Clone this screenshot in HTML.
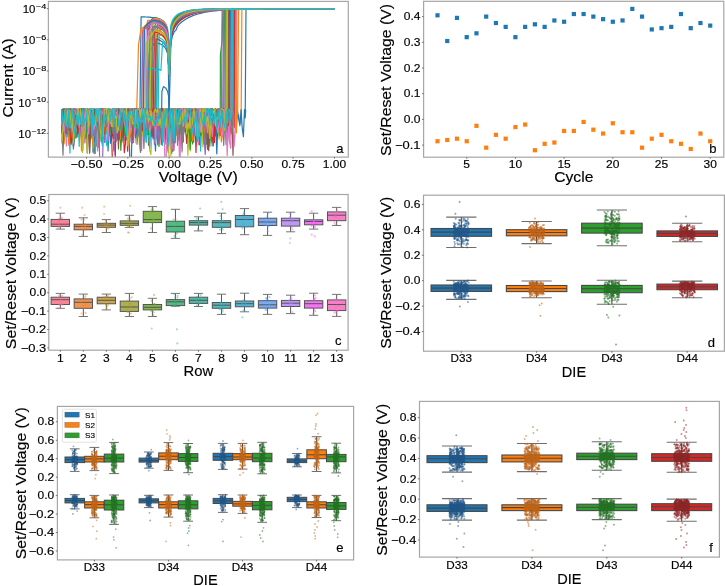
<!DOCTYPE html>
<html><head><meta charset="utf-8"><title>figure</title>
<style>html,body{margin:0;padding:0;background:#fff;}svg{display:block;filter:blur(0.4px);}text{font-family:"Liberation Sans",sans-serif;fill:#000;stroke:#000;stroke-width:0.15px;}</style>
</head><body>
<svg width="725" height="586" viewBox="0 0 725 586">
<rect width="725" height="586" fill="#fff"/>
<defs>
<clipPath id="ca"><rect x="48.4" y="1.4" width="299.9" height="155.7"/></clipPath>
<clipPath id="cb"><rect x="423.6" y="1.3" width="300.2" height="155.9"/></clipPath>
<clipPath id="cc"><rect x="48.8" y="194.5" width="299.3" height="155.7"/></clipPath>
<clipPath id="cd"><rect x="423.5" y="195.2" width="300.9" height="156"/></clipPath>
<clipPath id="ce"><rect x="57.4" y="406.4" width="296.2" height="153.5"/></clipPath>
<clipPath id="cf"><rect x="419.5" y="401.4" width="299.9" height="155.7"/></clipPath>
</defs>
<g clip-path="url(#ca)" fill="none" stroke-width="1.2" stroke-linejoin="round">

<path d="M61.8 129l1.2-19.7 1.1 9.3 1.2-9.7 1.1 10.5 1.2 .8 1.2-11.3 1.1 13.5 1.2-10.6 1.1 28.2 1.2-31.2 1.1 11.7 1.2 2.5 1.2 4.7 1.1-8.2 1.2 1.3 1.1-.8 1.2-10.4 1.1 4.8 1.2-5.4 1.1 0 1.2 6.9 1.2-3.1 1.1 14.2 1.2-6.4 1.1-11.2 1.2-.3 1.1 43.1 1.2-30.1 1.2 1.8 1.1-14.5 1.2 4.6 1.1 13.1 1.2 3.9 1.1-14.5 1.2 15.7 1.2-18.6 1.1 .3 1.2 12.4 1.1-13.3 1.2 38 1.1-42.2 1.2 .5 1.1 7.7 1.2-7.9 1.2 42 1.1-6.2 1.2-35.5 1.1 9.8 1.2 2.1 1.1-12.1 1.2 18.2 1.2 3.1 1.1-18.3 1.2 23.5 1.1-14.5 1.2-9.5 1.1 7.6 1.2-.2 1.1 50.9 1.2 0 1.2-59.1 1.1 17.1 1.2-14.6 1.1 6.4 1.2-10.4 1.1 18.4 1.2-16.6 1.2 16 1.1-18 1.2 18.4 1.1 7.1 1.2-12 1.1-.9 1.2 4.5 1.1-12.7 1.2-4.8 1.2 11.4 1.1-10.8 1.2-.6 1.1 .3 1.2 5.1 1.1 5.1 1.2 6.7 1.2-12.5 1.1 3.2 1.2-7.3 1.1 7.4 1.2-7 1.1 11.6 1.2-12 1.2 1.5 1.1 8.3 1.2-10.3 1.1 16.9 1.2-16.3 1.1 1.2 1.2 8.6 1.1-10.5 1.2 4.6 1.2 4.7 1.1 8.2 1.2-17.5 1.1 18 1.2-12.5 1.1 8.7 1.2-1.3 1.2-9.2 1.1-2.6 1.2 0 1.1-.2 1.2 17 1.1-16.8 1.2 15.5 1.1-16.6 1.2 7.8 1.2 16.5 1.1-23.6 1.2-.1 1.1 5.5 1.2 6.9 1.1-7.9 1.2-4.5 1.2 17.5 1.1 1.4 1.2-8.6 1.1-10.4 1.2 2 1.1-1.2 1.2 4.2 1.2 5 1.1 8.6 1.2-8.8 1.1 .5 1.2 9.5 1.1 1.4 1.2 4.1 1.1-25.6 1.2 6.4 1.2 10 1.1-11.8 1.2 15.1 1.1-3.8 1.2-15.8 1.1 .6 1.2-.5 1.2 10.5 1.1-10.1 1.2 2.1 1.1-2.6 1.2 8 .8-108.5 3.3 0 3.3 0 3.3 0 3.3 0 3.3 0 3.3 0 3.3 0 3.3 0 3.3 0 3.3 0 3.3 0 3.4 0 3.3 0 3.3 0 3.3 0 3.3 0 3.3 0 3.3 0 3.3 0 3.3 0 3.3 0 3.3 0 3.3 0 3.3 0 3.3 0 3.3 0 3.3 0 3.3 0 3.3 0 2.5 0 -1.7 .1 -1.6 0 -1.7 0 -1.6 0 -1.7 0 -1.6 0 -1.7 0 -1.6 0 -1.7 0 -1.6 0 -1.7 0 -1.6 0 -1.7 0 -1.6 0 -1.7 0 -1.6 0 -1.7 0 -1.6 0 -1.7 0 -1.6 0 -1.7 0 -1.6 0 -1.7 0 -1.6 0 -1.7 0 -1.7 0 -1.6 .1 -1.7 0 -1.6 0 -1.7 0 -1.6 0 -1.7 0 -1.6 0 -1.7 0 -1.6 0 -1.7 0 -1.6 0 -1.7 0 -1.6 .1 -1.7 0 -1.6 0 -1.7 0 -1.6 0 -1.7 0 -1.6 .1 -1.7 0 -1.6 0 -1.7 0 -1.6 0 -1.7 .1 -1.7 0 -1.6 0 -1.7 .1 -1.6 0 -1.7 0 -1.6 .1 -1.7 0 -1.6 .1 -1.7 0 -1.6 .1 -1.7 0 -1.6 .1 -1.7 .1 -1.6 .1 -1.7 .1 -1.6 0 -1.7 .2 -1.6 .1 -1.7 .1 -1.6 .1 -1.7 .2 -1.6 .2 -1.7 .1 -1.6 .3 -1.7 .2 -1.7 .2 -1.6 .3 -1.7 .3 -1.6 .3 -1.7 .4 -1.6 .4 -1.7 .4 -1.6 .5 -1.7 .5 -1.6 .6 -1.7 .6 -1.6 .7 -1.7 .8 -1.6 .8 -1.7 1 -1.6 1 -1.7 1.3 -1.6 1.3 -1.7 1.6 -1.6 1.9 -1.7 4.1 -1.6 1.3 -1.7 4.2 -1.6 7.3 -1.7 66.8 -1.7-81.3 -1.6-4.4 -1.7-2.4 -1.6-1.4 -1.7-1 -1.6-.7 -1.7-.5 -1.6-.3 -1.7-.3 -1.6-.2 -1.7-.2 -1.6-.1 -1.7-.1 -1.6-.1 -1.7-.1 -1.6 0 -1.7-.1 -1.1 92.5" stroke="#1f77b4"/>
<path d="M61.8 115.6l1.2 10.2 1.1 18 1.2-13.5 1.1-20.8 1.2-.4 1.2 .5 1.1 7.2 1.2 6.3 1.1-11.2 1.2 4.3 1.1-7 1.2 17.5 1.2-1.9 1.1 5.4 1.2-13.7 1.1-6.4 1.2 5.5 1.1 6.4 1.2-6.8 1.1-5.6 1.2 10.5 1.2 17.1 1.1-21.7 1.2 1.8 1.1 20.6 1.2-8 1.1-20.7 1.2 15.3 1.2 2.6 1.1-14.5 1.2 14.7 1.1 6.3 1.2-22.4 1.1 21.4 1.2-17.5 1.2 4.5 1.1 2.1 1.2 1.6 1.1-14 1.2 15.7 1.1-12.1 1.2 7.7 1.1-3.2 1.2 1.3 1.2 8.8 1.1-5.9 1.2 .1 1.1-11.1 1.2 28.4 1.1-14.5 1.2-15.7 1.2 33.8 1.1-25 1.2 15.6 1.1-17 1.2-4.6 1.1 14.6 1.2-.2 1.1-13 1.2 9.3 1.2-2.7 1.1 9.7 1.2-20.1 1.1 10.5 1.2 3.8 1.1 1.1 1.2 7.3 1.2 .2 1.1-22.5 1.2 13.8 1.1-9.2 1.2 4 1.1-.9 1.2-4 1.1 12.9 1.2-17.3 1.2 2.8 1.1 5.1 1.2 1 1.1-8.3 1.2 14.3 1.1 13.2 1.2-3.8 1.2-6.1 1.1-10.7 1.2 19 1.1-12.3 1.2 3.2 1.1-12.2 1.2 2.2 1.2 8 1.1 .8 1.2 11.6 1.1-10.3 1.2-4.7 1.1-12.5 1.2 20.6 1.1-14.7 1.2 .2 1.2 15.3 1.1 10.2 1.2-22.9 1.1-8.1 1.2 29.1 1.1-29.3 1.2-.8 1.2 16.3 1.1-11.7 1.2-2.4 1.1 30.2 1.2-25.3 1.1 11.6 1.2-3.6 1.1-14.9 1.2 17.9 1.2-.4 1.1 .6 1.2-6.8 1.1-6.8 1.2 1.1 1.1 9.9 1.2-4.7 1.2-10.5 1.1 .8 1.2-1.1 1.1 9.3 1.2-2.5 1.1 16.4 1.2-23.3 1.2 12.5 1.1 5.3 1.2-8.9 1.1 2.5 1.2-6.8 1.1 17.1 1.2-7.2 1.1-1.6 1.2-3.4 1.2-.1 1.1-4.5 1.2 6.6 1.1 12.6 1.2-20.5 1.1 4.2 1.2-3.3 1.2 9.2 1.1-13.5 1.2 7.5 1.1 5.1 1.2-2.2 1.1 8.7 1.2-12.6 1.1-.9 1.2 8.1 1.2 .4 .8-114.6 3.3 0 3.3 0 3.3 0 3.3 0 3.3 0 3.3 0 3.3 0 3.3 0 3.3 0 3.3 0 3.3 0 3.3 0 3.3 0 3.3 0 3.3 0 3.4 0 3.3 0 3.3 0 3.3 0 3.3 0 3.3 0 3.3 0 3.3 0 3.3 0 3.3 0 3.3 0 3.3 0 3.3 0 -1.7 0 -1.6 0 -1.7 0 -1.6 0 -1.7 0 -1.6 0 -1.7 0 -1.6 0 -1.7 0 -1.6 0 -1.7 0 -1.6 0 -1.7 0 -1.6 0 -1.7 0 -1.6 0 -1.7 0 -1.6 0 -1.7 0 -1.6 0 -1.7 0 -1.6 0 -1.7 0 -1.6 0 -1.7 0 -1.7 0 -1.6 0 -1.7 0 -1.6 0 -1.7 0 -1.6 0 -1.7 0 -1.6 0 -1.7 0 -1.6 .1 -1.7 0 -1.6 0 -1.7 0 -1.6 0 -1.7 0 -1.6 0 -1.7 0 -1.6 0 -1.7 0 -1.6 0 -1.7 0 -1.6 0 -1.7 0 -1.6 0 -1.7 0 -1.7 0 -1.6 0 -1.7 0 -1.6 0 -1.7 .1 -1.6 0 -1.7 0 -1.6 0 -1.7 0 -1.6 0 -1.7 0 -1.6 0 -1.7 .1 -1.6 0 -1.7 0 -1.6 0 -1.7 .1 -1.6 0 -1.7 0 -1.6 .1 -1.7 0 -1.6 .1 -1.7 0 -1.6 .1 -1.7 .1 -1.7 .1 -1.6 .1 -1.7 .1 -1.6 .1 -1.7 .2 -1.6 .1 -1.7 .2 -1.6 .3 -1.7 .3 -1.6 .3 -1.7 .4 -1.6 .4 -1.7 .6 -1.6 .6 -1.7 .7 -1.6 .9 -1.7 1 -1.6 1.2 -1.7 1.4 -1.6 1.7 -1.7 2.2 -1.6 2.8 -1.7 4.1 -1.6 6.8 -1.7 35.4 -1.7-28.5 -1.6-4.7 -1.7-2.7 -1.6-1.9 -1.7-1.5 -1.6-11.8 -1.7 0 -1.6 0 -1.7 0 -1.6 0 -1.7 0 -1.6 0 -1.7 0 -1.6 7.8 -1.7 0 -1.6 0 -1.7 0 -2.6 16.8 -1.8 66.7 -1.2 9" stroke="#ff7f0e"/>
<path d="M61.8 127.9l1.2-13.4 1.1 .1 1.2-3.4 1.1-2.4 1.2 18.4 1.2-3.8 1.1-14.6 1.2 9.3 1.1 9.5 1.2-2 1.1-16.8 1.2 11.2 1.2-8.3 1.1 15.6 1.2-18.3 1.1 7.9 1.2 3.9 1.1-4.6 1.2 14.6 1.1-13.7 1.2-7.2 1.2 27.9 1.1-16.9 1.2-10.6 1.1 9.2 1.2-10.4 1.1 8.8 1.2-8.9 1.2 16.5 1.1-16.5 1.2 15.2 1.1 .2 1.2-13.4 1.1 .7 1.2-.2 1.2-2 1.1 15.3 1.2 7.2 1.1-17.3 1.2-.6 1.1 3.2 1.2 8.8 1.1-5.6 1.2-11.5 1.2 16.5 1.1-16.3 1.2 15.6 1.1-1.2 1.2-14.4 1.1 5 1.2 36.1 1.2-22.7 1.1-10.9 1.2-5.9 1.1-1.7 1.2 12.6 1.1 1.9 1.2-14.8 1.1 2.2 1.2 14.6 1.2-16.8 1.1 23.4 1.2-23 1.1 9.3 1.2-8.7 1.1 1.5 1.2 14.6 1.2-16.6 1.1 15 1.2-9.5 1.1-5.7 1.2 16.1 1.1-15.6 1.2 2.2 1.1 19 1.2-13.9 1.2 1.1 1.1-6.4 1.2 8.8 1.1-9 1.2-1.9 1.1 5.9 1.2-1.4 1.2-4.6 1.1 10.7 1.2 5.5 1.1-7.4 1.2 5.4 1.1 3.3 1.2 9.8 1.2-20.5 1.1 .6 1.2 1.2 1.1 13.5 1.2 22.1 1.1-41.9 1.2 26.3 1.1 1.9 1.2-30.4 1.2 .1 1.1-.7 1.2 27.7 1.1-27.1 1.2 11.4 1.1-10.6 1.2 11.6 1.2 5.5 1.1-1.3 1.2-6.8 1.1-6 1.2 1.1 1.1-3.9 1.2 33.4 1.1-33.2 1.2-1.7 1.2 .1 1.1 0 1.2 4.4 1.1 8.5 1.2-9.8 1.1 4 1.2 2.3 1.2-5.2 1.1 4.4 1.2 8.6 1.1-11.9 1.2-4.2 1.1 35.9 1.2-18.6 1.2-9.8 1.1 10.5 1.2-17.4 1.1 5 1.2 6.6 1.1-12.9 1.2-.6 1.1 26 .2-79.5 1.7-15.6 .8-31.2 .8 0 3.3 0 3.3 0 3.3 0 3.3 0 3.3 0 3.3 0 3.3 0 3.3 0 3.4 0 3.3 0 3.3 0 3.3 0 3.3 0 3.3 0 3.3 0 3.3 0 3.3 0 3.3 0 3.3 0 3.3 0 3.3 0 3.3 0 3.3 0 3.3 0 3.3 0 3.3 0 3.3 0 3.3 0 3.3 0 3.3 0 3.3 0 3.3 0 3.3 0 1.7 0 -1.7 .1 -1.6 0 -1.7 0 -1.6 0 -1.7 0 -1.6 0 -1.7 0 -1.6 0 -1.7 0 -1.6 0 -1.7 0 -1.6 0 -1.7 0 -1.6 0 -1.7 0 -1.6 0 -1.7 0 -1.6 0 -1.7 0 -1.6 0 -1.7 0 -1.6 0 -1.7 .1 -1.6 0 -1.7 0 -1.7 0 -1.6 0 -1.7 0 -1.6 0 -1.7 0 -1.6 0 -1.7 0 -1.6 0 -1.7 0 -1.6 0 -1.7 0 -1.6 0 -1.7 0 -1.6 .1 -1.7 0 -1.6 0 -1.7 0 -1.6 0 -1.7 0 -1.6 0 -1.7 0 -1.6 .1 -1.7 0 -1.6 0 -1.7 0 -1.7 0 -1.6 0 -1.7 .1 -1.6 0 -1.7 0 -1.6 0 -1.7 0 -1.6 .1 -1.7 0 -1.6 0 -1.7 .1 -1.6 0 -1.7 0 -1.6 .1 -1.7 0 -1.6 .1 -1.7 0 -1.6 .1 -1.7 .1 -1.6 0 -1.7 .1 -1.6 .1 -1.7 .1 -1.6 .1 -1.7 .1 -1.7 .1 -1.6 .1 -1.7 .2 -1.6 .2 -1.7 .1 -1.6 .2 -1.7 .3 -1.6 .2 -1.7 .3 -1.6 .3 -1.7 .4 -1.6 .4 -1.7 .4 -1.6 .6 -1.7 .6 -1.6 .6 -1.7 .8 -1.6 1 -1.7 1.1 -1.6 1.3 -1.7 1.7 -1.6 2.1 -1.7 3.1 -1.6 5.4 -1.7 39.2 -1.7-41.2 -1.6-4.5 -1.7-2.5 -1.6-1.7 -1.7-1.1 -1.6-.8 -1.7-.7 -1.6-.5 -1.7-.3 -1.6 .5 -1.7 2.2 -1.6 3.1 -1.2 97.5" stroke="#2ca02c"/>
<path d="M61.8 113l1.2 .6 1.1 10.1 1.2-12.3 1.1-2.1 1.2 .2 1.2-.4 1.1 .5 1.2 7.3 1.1 7.2 1.2 7.3 1.1-17.3 1.2-4.5 1.2 27 1.1-10.9 1.2-7.8 1.1-8.4 1.2 12.4 1.1-5.4 1.2 3.1 1.1-10.5 1.2 2.1 1.2 12.2 1.1-7.2 1.2-.2 1.1 1.9 1.2 9.2 1.1-6.5 1.2 .5 1.2 1.3 1.1-11.4 1.2-2.2 1.1 38.5 1.2-28.1 1.1-3.2 1.2 27.4 1.2-23.2 1.1 5.8 1.2-1 1.1 2.1 1.2-4.9 1.1-4.8 1.2-1.6 1.1 24.5 1.2-6.5 1.2-24.8 1.1 36.7 1.2-35.2 1.1 10.7 1.2 16.1 1.1-9.3 1.2-15.2 1.2 6.8 1.1 5 1.2-.7 1.1-3.5 1.2 7.5 1.1 23.3 1.2-40.3 1.1 18.5 1.2-5.3 1.2-15 1.1 2.1 1.2-.2 1.1-1.8 1.2 11.1 1.1-7.2 1.2 9.8 1.2 11 1.1-12.6 1.2-11.6 1.1 7.4 1.2-7.7 1.1 16.9 1.2-14.7 1.1-2.3 1.2 13.3 1.2-2.2 1.1-1.8 1.2 5.6 1.1-14.8 1.2 23.6 1.1-1.1 1.2-.1 1.2-15.3 1.1-1.7 1.2-1.1 1.1 29.6 1.2-32.8 1.1-1.3 1.2 6.8 1.2-7.2 1.1 33.3 1.2-25.3 1.1 19.5 1.2-9.7 1.1-17.6 1.2 1.8 1.1 1 1.2 13.5 1.2-5.7 1.1-10.6 1.2 8.1 1.1 6.6 1.2-1.8 1.1-1.3 1.2 1.7 1.2-13.3 1.1 17.7 1.2-14.4 1.1-2.9 1.2 0 1.1 28.3 1.2-21.6 1.1-4.3 1.2 3.3 1.2 18.3 1.1-3.8 1.2-19.9 1.1-.5 1.2 11.4 1.1-7.6 1.2 2.5 1.2-6.1 1.1 9.6 1.2-5.9 1.1 24.2 1.2-10.1 1.1-3.5 1.2-12.6 1.2 6 1.1-7.8 1.2 10.3 1.1-3.9 1.2 7.5 1.1-5.5 1.2-8.7 1.1 7.6 1.2-2.2 1.2 13.2 1.1-18 1.2 12.6 1.1-4.9 1.2-8.1 1.1 1.1 .4-101.7 3.3 0 3.3 0 3.3 0 3.3 0 3.3 0 3.3 0 3.3 0 3.3 0 3.3 0 3.3 0 3.3 0 3.3 0 3.3 0 3.3 0 3.3 0 3.3 0 3.3 0 3.3 0 3.3 0 3.4 0 3.3 0 3.3 0 3.3 0 3.3 0 3.3 0 3.3 0 3.3 0 3.3 0 3.3 0 3.3 0 3.3 0 3.3 0 -1.7 .1 -1.6 0 -1.7 0 -1.6 0 -1.7 0 -1.6 0 -1.7 0 -1.6 0 -1.7 0 -1.6 0 -1.7 0 -1.6 0 -1.7 0 -1.6 0 -1.7 0 -1.6 0 -1.7 0 -1.6 0 -1.7 0 -1.6 0 -1.7 0 -1.6 0 -1.7 0 -1.6 0 -1.7 0 -1.7 0 -1.6 0 -1.7 0 -1.6 0 -1.7 0 -1.6 .1 -1.7 0 -1.6 0 -1.7 0 -1.6 0 -1.7 0 -1.6 0 -1.7 0 -1.6 0 -1.7 0 -1.6 0 -1.7 0 -1.6 .1 -1.7 0 -1.6 0 -1.7 0 -1.6 0 -1.7 0 -1.6 0 -1.7 .1 -1.7 0 -1.6 0 -1.7 0 -1.6 .1 -1.7 0 -1.6 0 -1.7 0 -1.6 .1 -1.7 0 -1.6 .1 -1.7 0 -1.6 0 -1.7 .1 -1.6 0 -1.7 .1 -1.6 .1 -1.7 0 -1.6 .1 -1.7 .1 -1.6 .1 -1.7 .1 -1.6 .1 -1.7 .2 -1.6 .1 -1.7 .2 -1.7 .1 -1.6 .2 -1.7 .2 -1.6 .3 -1.7 .2 -1.6 .3 -1.7 .3 -1.6 .4 -1.7 .4 -1.6 .5 -1.7 .5 -1.6 .5 -1.7 .7 -1.6 .7 -1.7 .8 -1.6 .9 -1.7 1 -1.6 1.2 -1.7 1.4 -1.6 1.7 -1.7 2.1 -1.6 2.7 -1.7 3.8 -1.6 6.5 -1.7 36.2 -1.7-41.8 -1.6-4.6 -1.7-2.5 -1.6-1.7 -1.7-1.1 -1.6-.9 -1.7-.7 -1.6-.5 -1.7-.3 -1.6-.4 -1.2 99.9" stroke="#d62728"/>
<path d="M61.8 123.9l1.2 3.5 1.1-15.8 1.2-2.6 1.1-.1 1.2 1.3 1.2 32.5 1.1-23 1.2 2.3 1.1 11.8 1.2 15.4 1.1-9.4 1.2-21.9 1.2 6.4 1.1-8.7 1.2-6.4 1.1-.1 1.2 12.2 1.1 16.4 1.2-21.5 1.1 11.2 1.2-17.8 1.2 23.6 1.1-12.7 1.2 6.9 1.1-2.8 1.2 3.3 1.1-18.5 1.2 0 1.2 41.7 1.1-35.3 1.2 15.8 1.1-9.6 1.2-12.7 1.1 5.9 1.2 1.1 1.2 9.1 1.1 17.1 1.2-33.7 1.1 17.8 1.2-5.1 1.1-10.2 1.2-.9 1.1 10.9 1.2-10.1 1.2 16 1.1 27.5 1.2-45.3 1.1-.3 1.2 18.2 1.1-3.6 1.2 4.6 1.2-19.3 1.1 9.7 1.2 4.5 1.1-1.5 1.2 11.9 1.1-21.8 1.2 10.5 1.1 4.1 1.2-16.8 1.2 13.2 1.1 19.7 1.2-18.5 1.1-10.6 1.2 30.8 1.1-14.3 1.2-10 1.2 3.9 1.1-5.2 1.2-6.7 1.1 8.6 1.2 8.2 1.1-12.7 1.2 18.4 1.1-23.2 1.2-2.3 1.2 9.9 1.1-8.3 1.2 24.8 1.1 .9 1.2-19.7 1.1-.2 1.2-7.3 1.2 1.7 1.1 4.6 1.2-6.5 1.1 23.5 1.2-8.8 1.1-2.7 1.2 7.6 1.2-16.7 1.1 21.8 1.2-9.6 1.1-12.8 1.2 10.1 1.1-11.2 1.2 8.5 1.1 2.6 1.2 1.7 1.2-14 1.1 11.1 1.2 1.9 1.1-6 1.2 26.1 1.1-23.2 1.2-9.1 1.2-.5 1.1 14.2 1.2-13.2 1.1 11.5 1.2-12.3 1.1 2.1 1.2 4 1.1 9.5 1.2 3 1.2-15.6 1.1-2.9 1.2 19.2 1.1-4.4 1.2 6.8 1.1-14.5 1.2 1.5 1.2-8.6 1.1 16.2 1.2-16.2 1.1 14.9 1.2-7.7 1.1 10.8 1.2-15 1.2 3.5 1.1-1.9 1.2-4.9 1.1 19.1 1.2-13.7 1.1-5.4 1.2 8.3 1.1-5.4 1.2 5.5 .7-108.9 3.3 0 3.3 0 3.3 0 3.3 0 3.3 0 3.3 0 3.3 0 3.3 0 3.3 0 3.3 0 3.3 0 3.3 0 3.3 0 3.3 0 3.3 0 3.3 0 3.3 0 3.3 0 3.3 0 3.3 0 3.3 0 3.4 0 3.3 0 3.3 0 3.3 0 3.3 0 3.3 0 3.3 0 3.3 0 3.3 0 3.3 0 3.3 0 3.3 0 3.3 0 -1.7 .1 -1.6 0 -1.7 0 -1.6 0 -1.7 0 -1.6 0 -1.7 0 -1.6 0 -1.7 0 -1.6 0 -1.7 0 -1.6 0 -1.7 0 -1.6 0 -1.7 0 -1.6 0 -1.7 0 -1.6 0 -1.7 0 -1.6 0 -1.7 .1 -1.6 0 -1.7 0 -1.6 0 -1.7 0 -1.7 0 -1.6 0 -1.7 0 -1.6 0 -1.7 0 -1.6 0 -1.7 0 -1.6 0 -1.7 0 -1.6 0 -1.7 0 -1.6 .1 -1.7 0 -1.6 0 -1.7 0 -1.6 0 -1.7 0 -1.6 0 -1.7 0 -1.6 0 -1.7 .1 -1.6 0 -1.7 0 -1.6 0 -1.7 0 -1.7 0 -1.6 .1 -1.7 0 -1.6 0 -1.7 0 -1.6 .1 -1.7 0 -1.6 0 -1.7 0 -1.6 .1 -1.7 0 -1.6 0 -1.7 .1 -1.6 0 -1.7 .1 -1.6 0 -1.7 .1 -1.6 .1 -1.7 0 -1.6 .1 -1.7 .1 -1.6 .1 -1.7 .1 -1.6 .1 -1.7 .1 -1.7 .1 -1.6 .2 -1.7 .1 -1.6 .2 -1.7 .2 -1.6 .2 -1.7 .2 -1.6 .3 -1.7 .3 -1.6 .3 -1.7 .4 -1.6 .4 -1.7 .5 -1.6 .5 -1.7 .6 -1.6 .8 -1.7 .8 -1.6 .9 -1.7 1.1 -1.6 1.4 -1.7 1.7 -1.6 2.2 -1.7 3.1 -1.6 5.4 -1.7 40.2 -1.7-41 -1.6-4.5 -1.7-2.5 -1.6-1.7 -1.7-1.1 -1.6-.9 -1.7-.6 -1.6-.5 -1.7-.4 -1.6-.3 -1.2 98.9" stroke="#9467bd"/>
<path d="M61.8 116.7l1.2 6.7 1.1-14.6 1.2 13.2 1.1-10.8 1.2 10.1 1.2 6 1.1-18.4 1.2 7.1 1.1-5.7 1.2-1.2 1.1 5.1 1.2 22.9 1.2-18.3 1.1 10.5 1.2-6.8 1.1-1.8 1.2 7.5 1.1-16.8 1.2-2.5 1.1 19.3 1.2-.6 1.2 24.8 1.1-32.9 1.2-4.9 1.1-5.2 1.2 2.7 1.1 1 1.2 40.5 1.2-35.2 1.1 1.5 1.2 8 1.1-18.3 1.2-.5 1.1 9 1.2-1.4 1.2-5.5 1.1-1 1.2 8.6 1.1-9.3 1.2 10.7 1.1-8.9 1.2 14.4 1.1-6.8 1.2-7 1.2 18.3 1.1 11.5 1.2-31.4 1.1 17.1 1.2-6.5 1.1-10.3 1.2 9.7 1.2-8.2 1.1 14.2 1.2 .5 1.1-17.2 1.2 0 1.1 4.3 1.2 6 1.1-10.6 1.2 23.6 1.2-18.3 1.1 9.9 1.2-6.9 1.1-5.8 1.2 6 1.1-6.2 1.2 3.4 1.2 34.4 1.1-25.8 1.2-12.8 1.1 .3 1.2 .4 1.1-1.9 1.2 7.3 1.1 28.4 1.2-18.3 1.2-14.5 1.1-2.8 1.2 16.2 1.1-15.4 1.2 7.2 1.1 2.4 1.2-11.1 1.2 16.2 1.1-10.9 1.2-5.4 1.1 .1 1.2 7.6 1.1-7.8 1.2 7 1.2 .5 1.1 3.2 1.2 1.4 1.1-9.6 1.2-2.2 1.1 42.3 1.2-39.8 1.1 5 1.2-7.8 1.2 15.6 1.1-12.7 1.2 17.8 1.1 1.5 1.2-10.2 1.1-.5 1.2-1.6 1.2 1 1.1-10.6 1.2 1.8 1.1 3.9 1.2 20.9 1.1-15.3 1.2 1.1 1.1 20.7 1.2-32.4 1.2 9.2 1.1 4.9 1.2 .9 1.1-4.9 1.2-7.4 1.1 4.4 1.2-4.2 1.2 8 1.1 4.6 1.2-2.8 1.1-2.8 1.2 31 1.1-23.3 1.2-8.3 1.2 2.8 1.1 12.2 1.2-20.2 1.1 13.5 1.2-12.8 1.1 22.1 1.2-14.2 1.1-4.2 1.2 1.4 1.2 14.7 1.1-14.5 1.2 6.3 1.1-10.7 1.2-3.9 1.1-2 1.2 0 1.2 13.7 1.1 1.6 .2-116.3 3.3 0 3.3 0 3.3 0 3.3 0 3.3 0 3.3 0 3.3 0 3.3 0 3.3 0 3.3 0 3.3 0 3.3 0 3.3 0 3.3 0 3.3 0 3.3 0 3.3 0 3.3 0 3.4 0 3.3 0 3.3 0 3.3 0 3.3 0 3.3 0 3.3 0 3.3 0 3.3 0 3.3 0 3.3 0 3.3 0 3.3 0 -1.7 .1 -1.6 0 -1.7 0 -1.6 0 -1.7 0 -1.6 0 -1.7 0 -1.6 0 -1.7 0 -1.6 0 -1.7 0 -1.6 0 -1.7 0 -1.6 0 -1.7 0 -1.6 0 -1.7 0 -1.6 0 -1.7 0 -1.6 0 -1.7 0 -1.6 0 -1.7 0 -1.6 0 -1.7 0 -1.7 0 -1.6 .1 -1.7 0 -1.6 0 -1.7 0 -1.6 0 -1.7 0 -1.6 0 -1.7 0 -1.6 0 -1.7 0 -1.6 0 -1.7 0 -1.6 0 -1.7 .1 -1.6 0 -1.7 0 -1.6 0 -1.7 0 -1.6 0 -1.7 0 -1.6 0 -1.7 .1 -1.6 0 -1.7 0 -1.7 0 -1.6 0 -1.7 .1 -1.6 0 -1.7 0 -1.6 0 -1.7 .1 -1.6 0 -1.7 .1 -1.6 0 -1.7 0 -1.6 .1 -1.7 0 -1.6 .1 -1.7 0 -1.6 .1 -1.7 .1 -1.6 .1 -1.7 0 -1.6 .1 -1.7 .1 -1.6 .2 -1.7 .1 -1.6 .1 -1.7 .2 -1.7 .1 -1.6 .2 -1.7 .2 -1.6 .2 -1.7 .3 -1.6 .3 -1.7 .3 -1.6 .3 -1.7 .4 -1.6 .4 -1.7 .5 -1.6 .6 -1.7 .6 -1.6 .6 -1.7 .8 -1.6 .8 -1.7 1 -1.6 1.2 -1.7 1.3 -1.6 1.6 -1.7 2 -1.6 2.6 -1.7 3.6 -1.6 6.2 -1.7 38.6 -1.7-42.8 -1.6-4.5 -1.7-2.4 -1.6-1.5 -1.7-1.1 -1.6-.7 -1.7-.6 -1.6-.4 -1.7-.3 -1.6-.2 -1.7 1.6 -1.6 3.8 -1.7 5.2 -1.1 80.7" stroke="#8c564b"/>
<path d="M61.8 130.2l1.2-19.5 1.1 7.3 1.2-6.6 1.1 34.6 1.2-36.6 1.2 22.9 1.1-8.8 1.2-9.2 1.1-4.8 1.2 3.8 1.1 12 1.2-15.7 1.2 15.5 1.1 3.5 1.2-4.5 1.1-.7 1.2 7.3 1.1-21.7 1.2 17.9 1.1-9.3 1.2 1.4 1.2 10.4 1.1-15.3 1.2 1.1 1.1 6.2 1.2-12.4 1.1 5.5 1.2-2 1.2 8.7 1.1-4.1 1.2-.5 1.1-6.9 1.2 17.3 1.1-17.9 1.2 4.9 1.2 6.1 1.1-6.2 1.2-.5 1.1 4.4 1.2-8.4 1.1 26.5 1.2-13.7 1.1 4.9 1.2-14 1.2 28.2 1.1-13.3 1.2-5.6 1.1 12.4 1.2-9.9 1.1-2.9 1.2 2.1 1.2-5 1.1 7.5 1.2-17.1 1.1 20.5 1.2-18 1.1 5.4 1.2 5.3 1.1 3.6 1.2-16.5 1.2-.7 1.1 10.5 1.2-4.8 1.1-5.8 1.2 0 1.1 .1 1.2 10.2 1.2-9.7 1.1 41 1.2-38.3 1.1-2.9 1.2 18.1 1.1-1.4 1.2 .5 1.1-16.3 1.2 34.7 1.2-35.4 1.1 .1 1.2 1.5 1.1 33.4 1.2-16.8 1.1-5 1.2-6.7 1.2 1.6 1.1-8.8 1.2 25.9 1.1-25.4 1.2 17.6 1.1 3.3 1.2-21 1.2 12.6 1.1 8.5 1.2-21.2 1.1 14.3 1.2-12 1.1 36.9 1.2-15.2 1.1-9.4 1.2-10.4 1.2 23.3 1.1-19.9 1.2 2.8 1.1 3.5 1.2-13.7 1.1 .3 1.2 11.6 1.2-2.3 1.1-2.3 1.2-4.4 1.1 1.2 1.2 12 1.1-16.3 1.2-.1 1.1 10 1.2-5.4 1.2-3.4 1.1 5.7 1.2 8.9 1.1-15.8 1.2 .4 1.1 0 1.2 12.3 1.2-9 1.1 18.1 1.2-.8 1.1-6.9 1.2 .3 1.1 10.7 1.2-17.7 1.2-1.5 1.1 2.8 1.2-3 1.1 11.2 1.2-1.6 1.1-.8 1.2-10.9 1.1-3.1 1.2 13.6 1.2-13.9 1.1 13.5 1.2-10.2 1.1 7.3 1.2-.4 1.1 11.6 1.2-12.8 .8-109.7 3.3 0 3.3 0 3.3 0 3.3 0 3.3 0 3.3 0 3.4 0 3.3 0 3.3 0 3.3 0 3.3 0 3.3 0 3.3 0 3.3 0 3.3 0 3.3 0 3.3 0 3.3 0 3.3 0 3.3 0 3.3 0 3.3 0 3.3 0 3.3 0 3.3 0 3.3 0 3.3 0 3.3 0 3.3 0 3.3 0 3.3 0 1.7 0 -1.7 .1 -1.6 0 -1.7 0 -1.6 0 -1.7 0 -1.6 0 -1.7 0 -1.6 0 -1.7 0 -1.6 0 -1.7 0 -1.6 0 -1.7 0 -1.6 0 -1.7 0 -1.6 0 -1.7 0 -1.6 0 -1.7 0 -1.6 0 -1.7 0 -1.6 0 -1.7 0 -1.6 0 -1.7 0 -1.7 0 -1.6 0 -1.7 0 -1.6 0 -1.7 0 -1.6 0 -1.7 .1 -1.6 0 -1.7 0 -1.6 0 -1.7 0 -1.6 0 -1.7 0 -1.6 0 -1.7 0 -1.6 0 -1.7 0 -1.6 0 -1.7 0 -1.6 0 -1.7 .1 -1.6 0 -1.7 0 -1.6 0 -1.7 0 -1.7 0 -1.6 0 -1.7 .1 -1.6 0 -1.7 0 -1.6 0 -1.7 0 -1.6 .1 -1.7 0 -1.6 0 -1.7 0 -1.6 .1 -1.7 0 -1.6 0 -1.7 .1 -1.6 0 -1.7 .1 -1.6 0 -1.7 .1 -1.6 0 -1.7 .1 -1.6 .1 -1.7 0 -1.6 .1 -1.7 .1 -1.7 .1 -1.6 .2 -1.7 .1 -1.6 .1 -1.7 .2 -1.6 .2 -1.7 .2 -1.6 .3 -1.7 .2 -1.6 .3 -1.7 .4 -1.6 .4 -1.7 .4 -1.6 .5 -1.7 .6 -1.6 .7 -1.7 .8 -1.6 1 -1.7 1.1 -1.6 1.4 -1.7 1.7 -1.6 2.2 -1.7 3.2 -1.6 5.5 -1.7 43.7 -1.7-46.6 -1.6-4.4 -1.7-2.3 -1.6-1.4 -1.7-.9 -1.6-.6 -1.7-.4 -1.6-.3 -1.7 .6 -1.6 1.4 -1.7 1.8 -1.6 2.3 -1.7 2.6 -1.6 2.8 -1.2 87.8" stroke="#e377c2"/>
<path d="M61.8 126.1l1.2 29.1 1.1-30.1 1.2-15.6 1.1-.7 1.2 .5 1.2-.4 1.1 8.7 1.2-8.3 1.1 26.8 1.2-27 1.1 7.7 1.2-7.4 1.2 4.9 1.1 8.1 1.2 4.7 1.1-17.5 1.2 3.9 1.1 .2 1.2 10.6 1.1-14.7 1.2 3.9 1.2 1.1 1.1-4.3 1.2 42 1.1-43.2 1.2 8.9 1.1 4.5 1.2-13 1.2 5.7 1.1 30.7 1.2-9.8 1.1-9.8 1.2-6.5 1.1 7 1.2-12.6 1.2 7.4 1.1-12.1 1.2-.6 1.1 .6 1.2 17.4 1.1-7.2 1.2 5.6 1.1-6 1.2 3.9 1.2-1 1.1-12.8 1.2 1.3 1.1-.5 1.2 10.5 1.1 6.9 1.2-6.5 1.2-3.6 1.1 2 1.2-7.1 1.1 3.8 1.2-1.7 1.1-4.3 1.2 6 1.1-4.4 1.2 4 1.2-6.2 1.1 14 1.2-14.8 1.1 10.8 1.2-8.8 1.1-1.5 1.2 14.7 1.2-15 1.1 14.9 1.2-4.2 1.1 28.8 1.2-26.4 1.1-13.1 1.2 2.6 1.1-2.6 1.2 15 1.2 3.2 1.1-8.8 1.2-.7 1.1-8.9 1.2 16.4 1.1 .4 1.2-8.5 1.2 4.3 1.1-6.8 1.2 7.7 1.1-10.1 1.2 2.8 1.1 6.1 1.2 23.1 1.2-30 1.1 1.7 1.2 14.1 1.1 17.9 1.2-38.6 1.1 17.8 1.2-2.8 1.1-14.2 1.2 14.2 1.2-12.8 1.1 2.2 1.2-4.6 1.1 8.4 1.2 2.6 1.1 6.7 1.2 5 1.2-22.1 1.1 14.9 1.2 2 1.1-17.6 1.2 3 1.1 7.7 1.2 1.7 1.1 18.5 1.2-29.1 1.2-1.8 1.1 10.6 1.2-6.5 1.1 4.7 1.2 4.4 1.1-12.5 1.2 4.8 1.2 14.5 1.1-6 1.2-7.6 1.1 3.5 1.2-8.2 1.1 6.9 1.2-8.8 1.2 .4 1.1 1.7 1.2 16 1.1-8.1 1.2-3.6 1.1 2.6 1.2 3.2 1.1 .6 1.2 1.5 1.2 9 1.1-23.3 1.2 5.4 1.1 10.1 1-115.7 3.3 0 3.3 0 3.3 0 3.3 0 3.3 0 3.3 0 3.3 0 3.4 0 3.3 0 3.3 0 3.3 0 3.3 0 3.3 0 3.3 0 3.3 0 3.3 0 3.3 0 3.3 0 3.3 0 3.3 0 3.3 0 3.3 0 3.3 0 3.3 0 3.3 0 3.3 0 3.3 0 3.3 0 3.3 0 3.3 0 3.3 0 3.3 0 1.7 0 -1.7 .1 -1.6 0 -1.7 0 -1.6 0 -1.7 0 -1.6 0 -1.7 0 -1.6 0 -1.7 0 -1.6 0 -1.7 0 -1.6 0 -1.7 0 -1.6 0 -1.7 0 -1.6 0 -1.7 0 -1.6 0 -1.7 0 -1.6 0 -1.7 0 -1.6 0 -1.7 0 -1.6 0 -1.7 0 -1.7 0 -1.6 0 -1.7 0 -1.6 0 -1.7 .1 -1.6 0 -1.7 0 -1.6 0 -1.7 0 -1.6 0 -1.7 0 -1.6 0 -1.7 0 -1.6 0 -1.7 0 -1.6 0 -1.7 0 -1.6 .1 -1.7 0 -1.6 0 -1.7 0 -1.6 0 -1.7 0 -1.6 0 -1.7 0 -1.7 .1 -1.6 0 -1.7 0 -1.6 0 -1.7 0 -1.6 .1 -1.7 0 -1.6 0 -1.7 .1 -1.6 0 -1.7 0 -1.6 .1 -1.7 0 -1.6 0 -1.7 .1 -1.6 0 -1.7 .1 -1.6 .1 -1.7 0 -1.6 .1 -1.7 .1 -1.6 .1 -1.7 .1 -1.6 .1 -1.7 .1 -1.7 .2 -1.6 .1 -1.7 .2 -1.6 .2 -1.7 .2 -1.6 .2 -1.7 .3 -1.6 .3 -1.7 .3 -1.6 .4 -1.7 .4 -1.6 .5 -1.7 .5 -1.6 .6 -1.7 .7 -1.6 .8 -1.7 .9 -1.6 1 -1.7 1.3 -1.6 1.5 -1.7 1.8 -1.6 2.4 -1.7 3.5 -1.6 5.9 -1.7 37.9 -1.7-39.5 -1.6-4.5 -1.7-2.5 -1.6-1.7 -1.7-1.1 -1.6-.8 -1.7-.7 -1.6-.3 -1.7 .1 -1.6 .5 -1.7 .7 -1.6 .9 -1.7 1.1 -1.6 1.2 -1.7 1.4 -1.1 88.9" stroke="#7f7f7f"/>
<path d="M61.8 127.6l1.2-11.3 1.1-5.3 1.2 6.7 1.1-8.3 1.2 17.3 1.2-4.8 1.1-8.5 1.2-4.3 1.1 0 1.2 10.9 1.1-1.8 1.2 8.5 1.2 3 1.1-20.7 1.2 16.2 1.1 .4 1.2 15.8 1.1-25.2 1.2 5.3 1.1-3.2 1.2-.9 1.2-8.1 1.1 3.8 1.2-4.1 1.1 15 1.2-.2 1.1-5.1 1.2-4.7 1.2 14.1 1.1-4.6 1.2-6.1 1.1-.4 1.2 4.5 1.1 4.3 1.2-16.8 1.2 1.4 1.1 18.9 1.2-16.5 1.1 9.4 1.2-1.5 1.1 .1 1.2 3.8 1.1-4.7 1.2 .5 1.2-10.7 1.1 10.2 1.2 21.7 1.1-6.4 1.2-25.7 1.1 .4 1.2 11.6 1.2-10.2 1.1-2.2 1.2 16.1 1.1-13.7 1.2 9.5 1.1-10.8 1.2 13.5 1.1-.3 1.2 2.5 1.2-7.6 1.1 7.4 1.2-15.1 1.1 32.2 1.2-17.5 1.1-8.8 1.2 28.1 1.2-29.6 1.1 4.4 1.2-9.9 1.1 16.7 1.2-16.6 1.1 15.5 1.2-15.5 1.1-.4 1.2 41 1.2 4.5 1.1-23.9 1.2 5 1.1-26.7 1.2 .3 1.1 .4 1.2 13.1 1.2-5.8 1.1-8.3 1.2 1.5 1.1 8.6 1.2-10 1.1 2.2 1.2 11.2 1.2-9.1 1.1-3.7 1.2-.4 1.1 7.1 1.2 9.6 1.1-3.8 1.2-12.7 1.1 2.7 1.2 .9 1.2 13.8 1.1-9.3 1.2 8.8 1.1-17.3 1.2 6.7 1.1 8.6 1.2-2.9 1.2-.8 1.1-6.2 1.2 14.2 1.1-2.7 1.2-5.2 1.1-4.2 1.2 7.6 1.1-10.6 1.2 .1 1.2-3.4 1.1 18.3 1.2-13.5 1.1 10.2 1.2-5.7 1.1-10.2 1.2 37.7 1.2-37.9 1.1 17.7 1.2 13.9 1.1-18 1.2-5.6 1.1 4.2 1.2-9.5 1.2-2.9 1.1 27.8 1.2-27.5 1.1 14.5 1.2-2.3 1.1-4 1.2 21.8 1.1-12.3 1.2-17.5 1.2 .1 1.1 2.8 1.2-3.3 1.1 .3 .2-100.6 3.3 0 3.3 0 3.3 0 3.3 0 3.3 0 3.3 0 3.3 0 3.3 0 3.3 0 3.3 0 3.3 0 3.3 0 3.3 0 3.3 0 3.4 0 3.3 0 3.3 0 3.3 0 3.3 0 3.3 0 3.3 0 3.3 0 3.3 0 3.3 0 3.3 0 3.3 0 3.3 0 3.3 0 3.3 0 3.3 0 3.3 0 3.3 0 2.5 0 -1.7 .1 -1.6 0 -1.7 0 -1.6 0 -1.7 0 -1.6 0 -1.7 0 -1.6 0 -1.7 0 -1.6 0 -1.7 0 -1.6 0 -1.7 0 -1.6 0 -1.7 0 -1.6 0 -1.7 0 -1.6 0 -1.7 0 -1.6 0 -1.7 0 -1.6 0 -1.7 0 -1.6 0 -1.7 0 -1.7 0 -1.6 0 -1.7 0 -1.6 0 -1.7 .1 -1.6 0 -1.7 0 -1.6 0 -1.7 0 -1.6 0 -1.7 0 -1.6 0 -1.7 0 -1.6 0 -1.7 0 -1.6 0 -1.7 0 -1.6 .1 -1.7 0 -1.6 0 -1.7 0 -1.6 0 -1.7 0 -1.6 0 -1.7 .1 -1.7 0 -1.6 0 -1.7 0 -1.6 0 -1.7 .1 -1.6 0 -1.7 0 -1.6 0 -1.7 .1 -1.6 0 -1.7 .1 -1.6 0 -1.7 0 -1.6 .1 -1.7 0 -1.6 .1 -1.7 .1 -1.6 0 -1.7 .1 -1.6 .1 -1.7 .1 -1.6 .1 -1.7 .1 -1.6 .1 -1.7 .1 -1.7 .2 -1.6 .1 -1.7 .2 -1.6 .2 -1.7 .3 -1.6 .2 -1.7 .3 -1.6 .3 -1.7 .4 -1.6 .3 -1.7 .5 -1.6 .5 -1.7 .5 -1.6 .7 -1.7 .7 -1.6 .8 -1.7 1 -1.6 1.1 -1.7 1.2 -1.6 1.6 -1.7 1.9 -1.6 2.5 -1.7 3.5 -1.6 6.1 -1.7 36.1 -1.7-38.5 -1.6-4.4 -1.7-2.4 -1.6-1.6 -1.7-1 -1.6-.7 -1.7-.5 -1.6-.1 -1.7 1 -1.6 1.6 -1.7 2 -1.1 86.2" stroke="#bcbd22"/>
<path d="M61.8 111.1l1.2 20 1.1-12.1 1.2 8.8 1.1-9.4 1.2-8.6 1.2 2.2 1.1-2.5 1.2 24.5 1.1-24.6 1.2 .2 1.1-.8 1.2 17.9 1.2-17 1.1-.2 1.2 12 1.1-7.9 1.2 17.4 1.1-11.1 1.2-10.5 1.1-.4 1.2 .6 1.2 16.3 1.1 9 1.2-24.5 1.1 5.5 1.2 8.1 1.1-10.5 1.2 14.2 1.2 25.8 1.1-34.1 1.2-7.7 1.1 16.8 1.2-7.3 1.1-12.3 1.2 14.7 1.2-.5 1.1-10.3 1.2 28 1.1 5.1 1.2-36.9 1.1 0 1.2 7.8 1.1 15.4 1.2-12.1 1.2 1.1 1.1-.9 1.2-10.9 1.1-.4 1.2 17.8 1.1-1.8 1.2-7.4 1.2 9.6 1.1-17.7 1.2-.6 1.1 6 1.2-5.8 1.1 8.5 1.2 7.8 1.1-15.9 1.2 13 1.2-9.6 1.1-1.3 1.2 16 1.1-17.9 1.2 15 1.1-15.1 1.2 10 1.2-9 1.1-1.1 1.2-.7 1.1 4.3 1.2 3.5 1.1 10.4 1.2-17.7 1.1 19.6 1.2 19.1 1.2-23.5 1.1-15 1.2 1.6 1.1 17.6 1.2 3.3 1.1-13.6 1.2-1.3 1.2 9.4 1.1-9.1 1.2-8.1 1.1 12.1 1.2 4.6 1.1-15.5 1.2 6.4 1.2 7.4 1.1 3.8 1.2-19 1.1 13.6 1.2 1.3 1.1-4.2 1.2-5.8 1.1-4.7 1.2 .2 1.2 15 1.1-8.8 1.2-2.4 1.1-4.3 1.2 10.2 1.1 3.9 1.2 4.1 1.2 .7 1.1-.9 1.2 20.8 1.1-32.8 1.2 .7 1.1 6.8 1.2-2.7 1.1-10.2 1.2 15 1.2 17.3 1.1-33.1 1.2 .5 1.1-.1 1.2 11.5 1.1-5.3 1.2-5.9 1.2 19.3 1.1-19.4 1.2-.5 1.1 7 1.2-6.5 1.1 10.8 1.2-5.2 1.2 28.7 1.1-22.5 1.2-6.3 1.1 4.8 1.2 13.8 1.1-11.8 1.2-5.6 1.1-1.6 1.2-5.7 1.2 11.1 1.1 3.9 1.2-11.5 1.1 12.2 1.2-3.3 1.1-12 1.2 1.1 1.2 4.7 1.1 12.5 1.2-5.7 .6-113.2 3.3 0 3.3 0 3.3 0 3.3 0 3.3 0 3.4 0 3.3 0 3.3 0 3.3 0 3.3 0 3.3 0 3.3 0 3.3 0 3.3 0 3.3 0 3.3 0 3.3 0 3.3 0 3.3 0 3.3 0 3.3 0 3.3 0 3.3 0 3.3 0 3.3 0 3.3 0 3.3 0 3.3 0 3.3 0 3.3 0 1.7 0 -1.7 0 -1.6 0 -1.7 0 -1.6 0 -1.7 0 -1.6 0 -1.7 0 -1.6 0 -1.7 0 -1.6 0 -1.7 0 -1.6 0 -1.7 0 -1.6 0 -1.7 0 -1.6 0 -1.7 0 -1.6 0 -1.7 0 -1.6 0 -1.7 0 -1.6 0 -1.7 .1 -1.6 0 -1.7 0 -1.7 0 -1.6 0 -1.7 0 -1.6 0 -1.7 0 -1.6 0 -1.7 0 -1.6 0 -1.7 0 -1.6 0 -1.7 0 -1.6 0 -1.7 0 -1.6 0 -1.7 0 -1.6 0 -1.7 0 -1.6 0 -1.7 0 -1.6 0 -1.7 0 -1.6 0 -1.7 .1 -1.6 0 -1.7 0 -1.7 0 -1.6 0 -1.7 0 -1.6 0 -1.7 0 -1.6 0 -1.7 .1 -1.6 0 -1.7 0 -1.6 0 -1.7 0 -1.6 .1 -1.7 0 -1.6 0 -1.7 .1 -1.6 0 -1.7 0 -1.6 .1 -1.7 0 -1.6 .1 -1.7 0 -1.6 .1 -1.7 .1 -1.6 .1 -1.7 .1 -1.7 .1 -1.6 .1 -1.7 .2 -1.6 .1 -1.7 .2 -1.6 .2 -1.7 .3 -1.6 .3 -1.7 .3 -1.6 .3 -1.7 .5 -1.6 .5 -1.7 .5 -1.6 .7 -1.7 .7 -1.6 .9 -1.7 1 -1.6 1.2 -1.7 1.4 -1.6 1.7 -1.7 2.1 -1.6 2.7 -1.7 3.9 -1.6 6.7 -1.7 33.9 -1.7-35.3 -1.6-4.4 -1.7-2.4 -1.6-1.4 -1.7-1 -1.6-.7 -1.2 92.9" stroke="#17becf"/>
<path d="M61.8 109.7l1.2 7.2 1.1-7.8 1.2 22.2 1.1-6.4 1.2-4.9 1.2-6.8 1.1 11.1 1.2-15.5 1.1 2 1.2 15.3 1.1-17.3 1.2 27.8 1.2-8.6 1.1 6.3 1.2-12.8 1.1-4.3 1.2-8.1 1.1 31.6 1.2-13.9 1.1-5.2 1.2-11 1.2 8.9 1.1-9.7 1.2-1 1.1 12.1 1.2-10.3 1.1 10.6 1.2 20.1 1.2-31.8 1.1 16.7 1.2-4.9 1.1-5.3 1.2-3.6 1.1-3.2 1.2 15.9 1.2-13.4 1.1-1.1 1.2 13.9 1.1-1 1.2-13.6 1.1 9 1.2 24.4 1.1-10.1 1.2-18.6 1.2 10.8 1.1-16.1 1.2 10.6 1.1 18.3 1.2 2.8 1.1-2.6 1.2-25.9 1.2-3.7 1.1 3.9 1.2-1.1 1.1 3.4 1.2 9.5 1.1-15.2 1.2 16.2 1.1 1.1 1.2-17.2 1.2 14.6 1.1-15.1 1.2 11.2 1.1 17.7 1.2-28.3 1.1 16.2 1.2 10.1 1.2-14.3 1.1-3.5 1.2-8.9 1.1 12.9 1.2-5.5 1.1 17.7 1.2-25 1.1 6.8 1.2 8.2 1.2 1 1.1-3.1 1.2 16.9 1.1-15.7 1.2-8.3 1.1 5.5 1.2-11.3 1.2 22.5 1.1-12.9 1.2-9 1.1 .2 1.2 6.6 1.1 2.4 1.2-6.9 1.2 17.9 1.1-21.2 1.2 .3 1.1 6.8 1.2 .6 1.1 17.6 1.2-15.8 1.1 9.2 1.2-8 1.2 5.6 1.1-.1 1.2-16.2 1.1 .8 1.2 3.3 1.1 .2 1.2 8.4 1.2 4.1 1.1 17.6 1.2-31.9 1.1-1.8 1.2 11.1 1.1 13.8 1.2-20.3 1.1 21.5 1.2-22.6 1.2 5.9 1.1 1.2 1.2-10.4 1.1 35 1.2-24.4 1.1 1.8 1.2-6.8 1.2-.2 1.1 6.4 1.2 21.4 1.1-24.1 1.2-8.9 1.1 14.6 1.2-9.5 1.2-6.2 1.1 5.7 1.2 17.2 1.1-11.6 1.2 33.7 1.1-31.1 1.2-1.5 1.1 5.9 1.2-12.5 1.2-5.2 1.1 5.1 1.2 8.7 1.1-3.5 1.2 16.7 1.1-2.5 1.2-20.8 1.2 18.8 1.1-.5 1.2-13.6 1.1-9 1.2 11.3 1.1-2.1 1.2-6.9 1.1 8 1.2 6.6 1.2-16 1.1 18.3 1.2 8.7 1.1-27.1 1.2 .7 -.5 7.5 .8-109.2 3.3 0 3.3 0 3.3 0 3.3 0 3.3 0 3.3 0 3.3 0 3.3 0 3.4 0 3.3 0 3.3 0 3.3 0 3.3 0 3.3 0 3.3 0 3.3 0 3.3 0 3.3 0 3.3 0 3.3 0 3.3 0 3.3 0 3.3 0 3.3 0 3.3 0 3.3 0 2.5 0 -1.7 .1 -1.6 0 -1.7 0 -1.6 0 -1.7 0 -1.6 0 -1.7 0 -1.6 0 -1.7 0 -1.6 0 -1.7 0 -1.6 0 -1.7 0 -1.6 0 -1.7 0 -1.6 0 -1.7 0 -1.6 0 -1.7 0 -1.6 0 -1.7 0 -1.6 0 -1.7 0 -1.6 0 -1.7 0 -1.7 0 -1.6 0 -1.7 0 -1.6 0 -1.7 0 -1.6 0 -1.7 0 -1.6 0 -1.7 .1 -1.6 0 -1.7 0 -1.6 0 -1.7 0 -1.6 0 -1.7 0 -1.6 0 -1.7 0 -1.6 0 -1.7 0 -1.6 0 -1.7 0 -1.6 0 -1.7 0 -1.6 .1 -1.7 0 -1.7 0 -1.6 0 -1.7 0 -1.6 0 -1.7 0 -1.6 0 -1.7 .1 -1.6 0 -1.7 0 -1.6 0 -1.7 0 -1.6 .1 -1.7 0 -1.6 0 -1.7 0 -1.6 .1 -1.7 0 -1.6 .1 -1.7 0 -1.6 0 -1.7 .1 -1.6 0 -1.7 .1 -1.6 .1 -1.7 0 -1.7 .1 -1.6 .1 -1.7 .1 -1.6 .1 -1.7 .1 -1.6 .2 -1.7 .1 -1.6 .2 -1.7 .2 -1.6 .2 -1.7 .3 -1.6 .3 -1.7 .3 -1.6 .4 -1.7 .5 -1.6 .6 -1.7 .6 -1.6 .8 -1.7 1 -1.6 1.1 -1.7 1.5 -1.6 2 -1.7 2.8 -1.6 4.9 -1.7 42.7 -1.7-17.4 -1.6-4.4 -1.7-2.3 -1.6-1.5 -1.7-.9 -1.6-.7 -1.7-.5 -1.6-.3 -1.7 .5 -1.6 2.5 -1.7 3.6 -1.6 4.5 -.9 35.8 -.3 23.2" stroke="#1f77b4"/>
<path d="M61.8 111.8l1.2 12.2 1.1-14.8 1.2 7.9 1.1-8.3 1.2 14.2 1.2 22.2 1.1-26.1 1.2-10.3 1.1 4.4 1.2 17.7 1.1-21.7 1.2 .8 1.2-.4 1.1 9.3 1.2-1.7 1.1-5.8 1.2 39.4 1.1-38.8 1.2 23.2 1.1-26.2 1.2 29.8 1.2-29.6 1.1 .2 1.2 6.7 1.1 7.7 1.2-3.5 1.1-11.4 1.2 .8 1.2-.5 1.1-.2 1.2 3.8 1.1-3.9 1.2 1.8 1.1 10.2 1.2-4 1.2 15.7 1.1-18.3 1.2 4.2 1.1 5.4 1.2 3.8 1.1-11 1.2-7.4 1.1 24.9 1.2-20.9 1.2-4.5 1.1 .5 1.2 18 1.1-17.1 1.2 16.2 1.1-8.7 1.2 21.6 1.2-29.8 1.1 26.1 1.2-13.7 1.1-10.9 1.2 15.1 1.1-17.2 1.2 6.3 1.1 21.2 1.2-13.4 1.2-7.6 1.1-6.3 1.2 15.9 1.1-6.9 1.2 7.9 1.1-17.1 1.2 19 1.2-17.1 1.1 21.6 1.2-15.1 1.1 6.6 1.2 1.7 1.1 8.9 1.2-2.1 1.1-6.3 1.2-16.1 1.2-1 1.1 23.8 1.2-9.9 1.1 4.5 1.2 5.3 1.1-11.9 1.2 2.1 1.2-1.2 1.1-10 1.2 14.4 1.1-17.1 1.2 23.6 1.1-14.2 1.2-8.9 1.2 5.7 1.1 3.4 1.2-2.5 1.1-5.8 1.2 9.6 1.1-10.7 1.2 18.7 1.1-18.8 1.2 .4 1.2 15.4 1.1 2.6 1.2-1.4 1.1-4.6 1.2-6.1 1.1 9.3 1.2-9.5 1.2 5.3 1.1-4.7 1.2-5.1 1.1-1.9 1.2 12.3 1.1-1.7 1.2-8.6 1.1 21.7 1.2-9.3 1.2-9.5 1.1-2.6 1.2 1.9 1.1-.5 1.2 11 1.1-14.2 1.2 1.9 1.2 21 1.1-13.6 1.2 18.3 1.1-17.4 1.2 .7 1.1 14.8 1.2-.8 1.2-24.7 1.1-.1 1.2 5.6 1.1 16.8 1.2-9.5 1.1-5.8 1.2-2 1.1-3.1 1.2 14.6 1.2-.8 1.1-10.3 1.2 4.6 1.1-6.7 1.2 9.3 1.1 7.3 1.2-1.6 1.2-18.5 1.1 13.3 1.2-2.9 1.1 7.4 1.2-5.2 1.1 10.9 .5-124.2 3.3 0 3.3 0 3.3 0 3.3 0 3.4 0 3.3 0 3.3 0 3.3 0 3.3 0 3.3 0 3.3 0 3.3 0 3.3 0 3.3 0 3.3 0 3.3 0 3.3 0 3.3 0 3.3 0 3.3 0 3.3 0 3.3 0 3.3 0 3.3 0 3.3 0 3.3 0 3.3 0 3.3 0 3.3 0 1.7 0 -1.7 .1 -1.6 0 -1.7 0 -1.6 0 -1.7 0 -1.6 0 -1.7 0 -1.6 0 -1.7 0 -1.6 0 -1.7 0 -1.6 0 -1.7 .1 -1.6 0 -1.7 0 -1.6 0 -1.7 0 -1.6 0 -1.7 0 -1.6 0 -1.7 0 -1.6 0 -1.7 0 -1.6 0 -1.7 0 -1.7 0 -1.6 0 -1.7 0 -1.6 0 -1.7 .1 -1.6 0 -1.7 0 -1.6 0 -1.7 0 -1.6 0 -1.7 0 -1.6 0 -1.7 0 -1.6 0 -1.7 .1 -1.6 0 -1.7 0 -1.6 0 -1.7 0 -1.6 0 -1.7 .1 -1.6 0 -1.7 0 -1.6 0 -1.7 0 -1.7 .1 -1.6 0 -1.7 0 -1.6 0 -1.7 .1 -1.6 0 -1.7 0 -1.6 .1 -1.7 0 -1.6 .1 -1.7 0 -1.6 .1 -1.7 0 -1.6 .1 -1.7 0 -1.6 .1 -1.7 .1 -1.6 .1 -1.7 0 -1.6 .1 -1.7 .1 -1.6 .2 -1.7 .1 -1.6 .1 -1.7 .2 -1.7 .1 -1.6 .2 -1.7 .2 -1.6 .2 -1.7 .2 -1.6 .3 -1.7 .3 -1.6 .3 -1.7 .3 -1.6 .4 -1.7 .4 -1.6 .5 -1.7 .5 -1.6 .6 -1.7 .7 -1.6 .8 -1.7 .8 -1.6 1.1 -1.7 1.2 -1.6 1.4 -1.7 1.7 -1.6 2.3 -1.7 3.3 -1.6 5.6 -1.7 36.7 -1.7-41.6 -1.6-4.4 -1.7-2.2 -1.6-1.4 -1.7-.8 -1.6-.6 -1.7-.4 -1.6-.3 -1.7 .3 -1.6 .6 -1.7 .9 -1.6 1.1 -1.7 1.2 -1.6 1.4 -1.7 1.6 -1.6 1.6 -1.2 91.8" stroke="#ff7f0e"/>
<path d="M61.8 124.1l1.2 19.1 1.1-34.4 1.2 3.9 1.1 3 1.2 5.1 1.2-1.1 1.1 1.7 1.2-2.7 1.1 3.6 1.2-12.6 1.1 7.2 1.2 5.2 1.2 15.2 1.1-24.6 1.2 22.9 1.1-22.4 1.2 9.4 1.1-2.4 1.2-7.6 1.1-.1 1.2 15.4 1.2-18.2 1.1 1.4 1.2-2.1 1.1 2.9 1.2-3 1.1 18.1 1.2-17.4 1.2 14.2 1.1 1.4 1.2-1 1.1-14 1.2 8.8 1.1 22.7 1.2-29.8 1.2 4.7 1.1 9.4 1.2-10.8 1.1 12.1 1.2-9.3 1.1 5.4 1.2-12.4 1.1 2.4 1.2 13.3 1.2-17.2 1.1 22 1.2-20.5 1.1 11.9 1.2-13.7 1.1 9.6 1.2-.6 1.2 3.3 1.1-11.1 1.2-.7 1.1 9.4 1.2-6.2 1.1 0 1.2 12.1 1.1-.1 1.2 9.7 1.2-9.9 1.1-15.3 1.2 0 1.1-.6 1.2 .2 1.1 .5 1.2 22.2 1.2-15.1 1.1-.3 1.2-7.5 1.1 1.2 1.2-.4 1.1 6.1 1.2-1.3 1.1 6.2 1.2 6.2 1.2-2 1.1-15.9 1.2 14.4 1.1 2 1.2-4.2 1.1 4.9 1.2 18.9 1.2-17.5 1.1-17.8 1.2-.8 1.1 7.6 1.2-6 1.1 12.8 1.2-10.3 1.2 22.7 1.1-26.7 1.2 4.8 1.1-4.3 1.2 .4 1.1 18.3 1.2-6.8 1.1-11.9 1.2 3.2 1.2 14.7 1.1-5.5 1.2-7.5 1.1-5.4 1.2 6.3 1.1 7.1 1.2-13 1.2 18.1 1.1-18.4 1.2 13.6 1.1-8.5 1.2 7.9 1.1-3.9 1.2 5.8 1.1-13 1.2-.5 1.2 14.5 1.1 5 1.2-8.9 1.1 5.1 1.2-5 1.1-1.1 1.2-7.1 1.2-3.9 1.1 23.9 1.2-21.2 1.1 14.4 1.2-.6 1.1-16.3 1.2-.1 1.2-.1 1.1 37 1.2-22.5 1.1-14.6 1.2 10.9 1.1 9.7 1.2-2.4 1.1-17.6 1.2 4.4 1.2 7.9 1.1 2.4 .8-115.6 3.3 0 3.4 0 3.3 0 3.3 0 3.3 0 3.3 0 3.3 0 3.3 0 3.3 0 3.3 0 3.3 0 3.3 0 3.3 0 3.3 0 3.3 0 3.3 0 3.3 0 3.3 0 3.3 0 3.3 0 3.3 0 3.3 0 3.3 0 3.3 0 3.3 0 3.3 0 3.4 0 3.3 0 3.3 0 3.3 0 3.3 0 3.3 0 3.3 0 .8 0 -1.7 .1 -1.6 0 -1.7 0 -1.6 0 -1.7 0 -1.6 0 -1.7 0 -1.6 0 -1.7 0 -1.6 0 -1.7 0 -1.6 0 -1.7 0 -1.6 0 -1.7 0 -1.6 0 -1.7 0 -1.6 0 -1.7 0 -1.6 0 -1.7 0 -1.6 0 -1.7 0 -1.6 0 -1.7 0 -1.7 0 -1.6 0 -1.7 0 -1.6 .1 -1.7 0 -1.6 0 -1.7 0 -1.6 0 -1.7 0 -1.6 0 -1.7 0 -1.6 0 -1.7 0 -1.6 0 -1.7 0 -1.6 0 -1.7 0 -1.6 0 -1.7 0 -1.6 .1 -1.7 0 -1.6 0 -1.7 0 -1.6 0 -1.7 0 -1.7 0 -1.6 0 -1.7 .1 -1.6 0 -1.7 0 -1.6 0 -1.7 0 -1.6 0 -1.7 .1 -1.6 0 -1.7 0 -1.6 0 -1.7 .1 -1.6 0 -1.7 0 -1.6 .1 -1.7 0 -1.6 0 -1.7 .1 -1.6 0 -1.7 .1 -1.6 .1 -1.7 0 -1.6 .1 -1.7 .1 -1.7 .1 -1.6 .1 -1.7 .1 -1.6 .1 -1.7 .1 -1.6 .2 -1.7 .1 -1.6 .2 -1.7 .3 -1.6 .2 -1.7 .3 -1.6 .3 -1.7 .4 -1.6 .4 -1.7 .5 -1.6 .6 -1.7 .6 -1.6 .8 -1.7 1 -1.6 1.2 -1.7 1.5 -1.6 2 -1.7 2.8 -1.6 5 -1.7 46.6 -1.7-42.6 -1.6-4.4 -1.7-2.3 -1.6-1.4 -1.7-.9 -1.6-.6 -1.7-.4 -1.6 35.3 -1.2 55.6" stroke="#2ca02c"/>
<path d="M61.8 114.1l1.2 5.9 1.1-3.9 1.2 4.1 1.1 8.7 1.2-1.2 1.2-11 1.1-1.2 1.2 10.6 1.1-16.5 1.2 3.6 1.1 1 1.2-5.3 1.2 15.8 1.1-7.9 1.2-5.8 1.1 7.1 1.2 3.3 1.1-7.9 1.2-4.2 1.1-.1 1.2 20.3 1.2-19.9 1.1 7.1 1.2 26.1 1.1-8.3 1.2-7.3 1.1-6.6 1.2-2.5 1.2-1.3 1.1-7.5 1.2 11.6 1.1-8.9 1.2 14.7 1.1-16.6 1.2 1.2 1.2-2.1 1.1 24.9 1.2-13.5 1.1-11 1.2 16.3 1.1-2.5 1.2-14 1.1 23.5 1.2 37.1 1.2 0 1.1 0 1.2-54 1.1-6.8 1.2 15.2 1.1-8.2 1.2 7 1.2-.9 1.1-13.4 1.2 4.4 1.1 1 1.2 17.5 1.1-9.2 1.2-2.6 1.1-11.2 1.2 13.4 1.2-6.4 1.1-6.4 1.2 16 1.1-9.5 1.2 6.1 1.1-5.2 1.2 1.4 1.2 1.4 1.1-4.9 1.2 7.8 1.1 2.9 1.2-2.1 1.1-.9 1.2-13.4 1.1 6.4 1.2 6.9 1.2-10.4 1.1 25 1.2-28 1.1 23.1 1.2-23 1.1-.2 1.2 19.1 1.2-9 1.1 1.5 1.2 24.1 1.1-27.2 1.2 4.3 1.1-7.3 1.2-5 1.2 4 1.1-4.5 1.2 0 1.1 .9 1.2 5.9 1.1 4.6 1.2 2.9 1.1-14.3 1.2 16.1 1.2 6.3 1.1 8.2 1.2-26.9 1.1 20.7 1.2-16.5 1.1-7.9 1.2 18.4 1.2 .2 1.1 7.8 1.2-12.9 1.1 19.8 1.2-18.6 1.1 17.6 1.2-20.9 1.1-11.3 1.2 .4 1.2 43.2 1.1-37.6 1.2 26.8 1.1-32.2 1.2 1.1 1.1 14.2 1.2-15.2 1.2 6 1.1 15 1.2 12.6 1.1-10.7 1.2-9.4 1.1 6.9 1.2-16.4 1.2-1.8 1.1-2.2 1.2 12.1 1.1 2 1.2-14.1 1.1 11.3 1.2 7.1 1.1 7.7 1.2-7.8 1.2 2.8 1.1-10.7 1.2-10.5 1.1 9.8 1.2-2.9 1.1-4.2 1.2-103.6 3.3 0 3.3 0 3.3 0 3.3 0 3.3 0 3.3 0 3.3 0 3.3 0 3.3 0 3.3 0 3.3 0 3.3 0 3.3 0 3.4 0 3.3 0 3.3 0 3.3 0 3.3 0 3.3 0 3.3 0 3.3 0 3.3 0 3.3 0 3.3 0 3.3 0 3.3 0 3.3 0 3.3 0 3.3 0 3.3 0 3.3 0 2.5 0 -1.7 0 -1.6 .1 -1.7 0 -1.6 0 -1.7 0 -1.6 0 -1.7 0 -1.6 0 -1.7 0 -1.6 0 -1.7 0 -1.6 0 -1.7 0 -1.6 0 -1.7 0 -1.6 0 -1.7 0 -1.6 0 -1.7 0 -1.6 0 -1.7 0 -1.6 0 -1.7 0 -1.6 0 -1.7 0 -1.7 0 -1.6 0 -1.7 0 -1.6 0 -1.7 0 -1.6 0 -1.7 0 -1.6 0 -1.7 .1 -1.6 0 -1.7 0 -1.6 0 -1.7 0 -1.6 0 -1.7 0 -1.6 0 -1.7 0 -1.6 0 -1.7 0 -1.6 .1 -1.7 0 -1.6 0 -1.7 0 -1.6 0 -1.7 0 -1.7 .1 -1.6 0 -1.7 0 -1.6 0 -1.7 .1 -1.6 0 -1.7 0 -1.6 0 -1.7 .1 -1.6 0 -1.7 .1 -1.6 0 -1.7 .1 -1.6 0 -1.7 .1 -1.6 0 -1.7 .1 -1.6 .1 -1.7 .1 -1.6 .1 -1.7 .1 -1.6 .1 -1.7 .1 -1.6 .2 -1.7 .2 -1.7 .1 -1.6 .2 -1.7 .3 -1.6 .2 -1.7 .3 -1.6 .3 -1.7 .3 -1.6 .4 -1.7 .5 -1.6 .4 -1.7 .6 -1.6 .6 -1.7 .6 -1.6 .8 -1.7 .8 -1.6 1 -1.7 1.1 -1.6 1.2 -1.7 1.5 -1.6 1.8 -1.7 2.1 -1.6 2.8 -1.7 4 -1.6 6.8 -1.7 30.3 -1.7-34.2 -1.6-4.3 -1.7-2.2 -1.6-1.4 -1.7-.8 -1.6-.6 -1.7-.4 -1.6 1.4 -1.7 5.5 -1.6 7.9 -1.2 80.4" stroke="#d62728"/>
<path d="M61.8 120.7l1.2-1.3 1.1-1.5 1.2-2 1.1-3 1.2 3.1 1.2-1.8 1.1-5.3 1.2 4.3 1.1-4.2 1.2 8.2 1.1-5.6 1.2 26.6 1.2-26 1.1 16 1.2-9.4 1.1 5.3 1.2-4.4 1.1-3.2 1.2-6.6 1.1 8.1 1.2-.5 1.2-1.7 1.1 11.1 1.2-17.8 1.1 .5 1.2 29.1 1.1-17.3 1.2-11.9 1.2 12.4 1.1 1.2 1.2 8.4 1.1-10.4 1.2-12.2 1.1 6.4 1.2 4.6 1.2-9.8 1.1-1.1 1.2 5.4 1.1 6.9 1.2-3.9 1.1-1.6 1.2 11.8 1.1-15.3 1.2-2.9 1.2 17.7 1.1-16.8 1.2-1.5 1.1 .8 1.2-.3 1.1 14.4 1.2-14.7 1.2 .4 1.1 21.5 1.2-16.6 1.1-3 1.2-2 1.1 16.2 1.2-7.5 1.1 23.9 1.2-24.5 1.2 26 1.1-34.1 1.2 11.9 1.1-2.2 1.2-4.2 1.1 4.5 1.2-1.9 1.2-3.6 1.1-5 1.2 16.5 1.1-7.4 1.2-8.3 1.1 31.7 1.2-32.1 1.1 4.1 1.2-4.2 1.2 10.6 1.1-7.8 1.2 4.5 1.1-2.5 1.2-.5 1.1 13.1 1.2-4.4 1.2 1.1 1.1-6.4 1.2-4.5 1.1 8.9 1.2-7.1 1.1-1.7 1.2-3.6 1.2 3.6 1.1-3.4 1.2 13.9 1.1-11.2 1.2 3.7 1.1 8.9 1.2 26.2 1.1-35.3 1.2 12.1 1.2-17.8 1.1-.3 1.2 16 1.1-.3 1.2-15.4 1.1 14.3 1.2-.7 1.2-13.9 1.1 9.7 1.2 22.4 1.1-26.5 1.2 6.2 1.1-11.4 1.2 4.1 1.1-1.1 1.2 23.1 1.2-24.7 1.1 4.1 1.2-6.1 1.1 .5 1.2-.7 1.1 9.2 1.2-2 1.2-7.1 1.1 .4 1.2 27.5 1.1-26.9 1.2 12.5 1.1-11.2 1.2 16.7 1.2-4.4 1.1-6.2 1.2 4.9 1.1-10.8 1.2 21 1.1-17.9 1.2-2 1.1 3 1.2-1.4 1.2 12.5 1.1-118 3.3 0 3.3 0 3.3 0 3.3 0 3.3 0 3.3 0 3.3 0 3.3 0 3.4 0 3.3 0 3.3 0 3.3 0 3.3 0 3.3 0 3.3 0 3.3 0 3.3 0 3.3 0 3.3 0 3.3 0 3.3 0 3.3 0 3.3 0 3.3 0 3.3 0 3.3 0 3.3 0 3.3 0 3.3 0 3.3 0 3.3 0 3.3 0 3.3 0 1.7 0 -1.7 .1 -1.6 0 -1.7 0 -1.6 0 -1.7 0 -1.6 0 -1.7 0 -1.6 0 -1.7 0 -1.6 0 -1.7 0 -1.6 0 -1.7 0 -1.6 0 -1.7 0 -1.6 0 -1.7 0 -1.6 0 -1.7 0 -1.6 0 -1.7 0 -1.6 0 -1.7 0 -1.6 0 -1.7 0 -1.7 0 -1.6 0 -1.7 0 -1.6 0 -1.7 0 -1.6 0 -1.7 .1 -1.6 0 -1.7 0 -1.6 0 -1.7 0 -1.6 0 -1.7 0 -1.6 0 -1.7 0 -1.6 0 -1.7 0 -1.6 0 -1.7 0 -1.6 .1 -1.7 0 -1.6 0 -1.7 0 -1.6 0 -1.7 0 -1.7 0 -1.6 .1 -1.7 0 -1.6 0 -1.7 0 -1.6 0 -1.7 .1 -1.6 0 -1.7 0 -1.6 .1 -1.7 0 -1.6 0 -1.7 .1 -1.6 0 -1.7 0 -1.6 .1 -1.7 .1 -1.6 0 -1.7 .1 -1.6 .1 -1.7 0 -1.6 .1 -1.7 .1 -1.6 .1 -1.7 .1 -1.7 .2 -1.6 .1 -1.7 .2 -1.6 .2 -1.7 .2 -1.6 .2 -1.7 .2 -1.6 .3 -1.7 .4 -1.6 .3 -1.7 .4 -1.6 .5 -1.7 .5 -1.6 .6 -1.7 .7 -1.6 .8 -1.7 .9 -1.6 1 -1.7 1.2 -1.6 1.5 -1.7 1.9 -1.6 2.4 -1.7 3.5 -1.6 5.8 -1.7 38 -1.7-40.2 -1.6-4.5 -1.7-2.5 -1.6-1.7 -1.7-1.1 -1.6-.8 -1.7-.6 -1.6-.5 -1.7 0 -1.6 .4 -1.7 .6 -1.6 .7 -1.7 .9 -1.1 92.9" stroke="#9467bd"/>
<path d="M61.8 116.1l1.2-7 1.1 14.8 1.2-1.1 1.1-3.5 1.2-.3 1.2 .5 1.1-4.5 1.2-4.1 1.1-.8 1.2 1.2 1.1 18.7 1.2-19.3 1.2 14.4 1.1-6.1 1.2-5.3 1.1 6.9 1.2-11 1.1 8.7 1.2 10.6 1.1-19 1.2 17.1 1.2-11.1 1.1 8.9 1.2-15.3 1.1-.5 1.2 27.5 1.1-27.1 1.2 3 1.2 1.2 1.1-1.4 1.2 4.6 1.1-7.5 1.2 8.4 1.1 8.3 1.2-17.1 1.2 6.4 1.1-5.6 1.2 5.9 1.1 12.5 1.2-12.1 1.1 1.1 1.2 3.5 1.1-7.7 1.2 13.9 1.2 .7 1.1-11 1.2 11.4 1.1-9.1 1.2 30.2 1.1-35.9 1.2-3.9 1.2 13 1.1-2.7 1.2 7.3 1.1-18 1.2 2.7 1.1 8.6 1.2 4.5 1.1-15.5 1.2 25.5 1.2-10.4 1.1-14.7 1.2 10.5 1.1 13.4 1.2-10.4 1.1-12.7 1.2-.8 1.2 15.2 1.1 1 1.2 4.5 1.1-9.7 1.2-11 1.1 5.2 1.2-5.4 1.1-.1 1.2 .5 1.2 6.7 1.1 4 1.2-7.3 1.1 3.3 1.2-7.6 1.1 .9 1.2 .7 1.2 13.4 1.1-14.9 1.2 9.4 1.1-5.7 1.2 10.5 1.1-13 1.2 5 1.2 13.9 1.1-12 1.2-2 1.1-5.8 1.2 18.8 1.1 .1 1.2-16.5 1.1-2.1 1.2 6.5 1.2 9.4 1.1-16.6 1.2 36.7 1.1-10.2 1.2-25.9 1.1-.2 1.2-.3 1.2 3.8 1.1 1.1 1.2 9.2 1.1-13.6 1.2-.1 1.1 .3 1.2-.6 1.1 11.8 1.2-11.4 1.2-.3 1.1 16.3 1.2 .2 1.1-16 1.2 3.7 1.1 14.5 1.2-18.8 1.2 23.8 1.1-14.3 1.2 8.3 1.1-17.8 1.2 6.3 1.1-3.5 1.2 3.8 1.2-2.2 1.1 28.1 1.2-20.5 1.1 14.9 1.2-26.6 1.1 4.9 1.2-4.6 1.1 .9 1.2 17 1.2-6.6 1.1-7.5 1.2-3.7 1.1 21.4 1.2-18.3 1.1-3.5 1.2 16.3 1.2-3.1 1.1-11.1 1.2 43.9 1.1-45.7 1.2-101 3.3 0 3.3 0 3.3 0 3.3 0 3.3 0 3.3 0 3.3 0 3.3 0 3.3 0 3.3 0 3.3 0 3.3 0 3.3 0 3.3 0 3.3 0 3.3 0 3.3 0 3.4 0 3.3 0 3.3 0 3.3 0 3.3 0 3.3 0 3.3 0 3.3 0 3.3 0 3.3 0 3.3 0 3.3 0 3.3 0 -1.7 0 -1.6 0 -1.7 0 -1.6 0 -1.7 0 -1.6 0 -1.7 0 -1.6 0 -1.7 0 -1.6 0 -1.7 0 -1.6 0 -1.7 0 -1.6 0 -1.7 0 -1.6 0 -1.7 0 -1.6 0 -1.7 0 -1.6 0 -1.7 0 -1.6 0 -1.7 .1 -1.6 0 -1.7 0 -1.7 0 -1.6 0 -1.7 0 -1.6 0 -1.7 0 -1.6 0 -1.7 0 -1.6 0 -1.7 0 -1.6 0 -1.7 0 -1.6 0 -1.7 0 -1.6 0 -1.7 0 -1.6 0 -1.7 0 -1.6 0 -1.7 0 -1.6 0 -1.7 0 -1.6 0 -1.7 0 -1.6 0 -1.7 0 -1.7 0 -1.6 0 -1.7 .1 -1.6 0 -1.7 0 -1.6 0 -1.7 0 -1.6 0 -1.7 0 -1.6 0 -1.7 0 -1.6 0 -1.7 .1 -1.6 0 -1.7 0 -1.6 0 -1.7 0 -1.6 .1 -1.7 0 -1.6 0 -1.7 0 -1.6 .1 -1.7 0 -1.6 0 -1.7 .1 -1.7 0 -1.6 .1 -1.7 .1 -1.6 0 -1.7 .1 -1.6 .1 -1.7 .1 -1.6 .2 -1.7 .1 -1.6 .2 -1.7 .2 -1.6 .2 -1.7 .3 -1.6 .4 -1.7 .4 -1.6 .5 -1.7 .6 -1.6 .7 -1.7 1 -1.6 1.1 -1.7 1.6 -1.6 2 -1.7 3 -1.6 5.2 -1.7 48.3 -1.7-31.3 -1.6-4.4 -1.7-2.4 -1.6-1.5 -1.7-1 -1.6-.6 -1.7-.5 -1.1 86.2" stroke="#8c564b"/>
<path d="M61.8 123.7l1.2 8.1 1.1-14.4 1.2 18.5 1.1-5.3 1.2-19.8 1.2 12.8 1.1-9.6 1.2-.7 1.1 8.9 1.2 0 1.1-3.7 1.2 4.1 1.2 2.8 1.1-14 1.2-2 1.1-.4 1.2 7.8 1.1 11.2 1.2-18 1.1 26.7 1.2-4.2 1.2-14.8 1.1-1.1 1.2-7.2 1.1 5.5 1.2 8.3 1.1-4.2 1.2 16 1.2-17.4 1.1-8 1.2 41.4 1.1-27.9 1.2-4.3 1.1-9.1 1.2 6.8 1.2 8.4 1.1-7.9 1.2-7.2 1.1 1.7 1.2 6.1 1.1-6.6 1.2 16 1.1-15.6 1.2 6.1 1.2-8.2 1.1 3.4 1.2 .9 1.1 12.8 1.2-3.6 1.1-13.9 1.2 6.9 1.2 .4 1.1 2.5 1.2 21.7 1.1-16.7 1.2 9.4 1.1-21.4 1.2 18.1 1.1-12.9 1.2 6.8 1.2-2.7 1.1-12.1 1.2 12 1.1-3.2 1.2 1.7 1.1-9.8 1.2 10.6 1.2-3.5 1.1-7.4 1.2 10.1 1.1 .2 1.2-9.9 1.1-.3 1.2 .2 1.1 15.5 1.2 1.6 1.2-17.6 1.1 .3 1.2 12.8 1.1 1.9 1.2-14.9 1.1 17.7 1.2-17.9 1.2 7.1 1.1-6.9 1.2 5.3 1.1-5.1 1.2 9.6 1.1 3.3 1.2-11.4 1.2 10.1 1.1 29.7 1.2-23.7 1.1 21.9 1.2-34 1.1 13.3 1.2-16.9 1.1 7.6 1.2-.5 1.2-9.1 1.1 18.5 1.2 42.2 1.1-45.7 1.2-11.5 1.1 4 1.2-7.7 1.2 3.8 1.1 9.3 1.2-12.1 1.1 9.4 1.2-8.5 1.1 5.5 1.2 11 1.1-15 1.2 14.2 1.2-8.7 1.1-9.1 1.2 .3 1.1 26.7 1.2-11.3 1.1 4.1 1.2-8.9 1.2-.2 1.1-10.3 1.2 17.3 1.1-16.6 1.2-.5 1.1 6.6 1.2-4.1 1.2 .4 1.1-2.9 1.2 16 1.1-11.5 1.2-4.4 1.1 15.3 1.2-5.9 1.1-9.9 1.2-.2 1.2 .3 1.1 17.2 1.2-17.3 1.1 16.7 1.2-10.7 1.1-4.4 1.2 31 1.2 6.4 1.1-39 1-100.5 3.3 0 3.3 0 3.3 0 3.3 0 3.3 0 3.3 0 3.3 0 3.3 0 3.3 0 3.3 0 3.3 0 3.3 0 3.4 0 3.3 0 3.3 0 3.3 0 3.3 0 3.3 0 3.3 0 3.3 0 3.3 0 3.3 0 3.3 0 3.3 0 3.3 0 3.3 0 3.3 0 3.3 0 3.3 0 3.3 0 2.5 0 -1.7 0 -1.6 0 -1.7 0 -1.6 0 -1.7 0 -1.6 0 -1.7 0 -1.6 0 -1.7 0 -1.6 0 -1.7 0 -1.6 0 -1.7 0 -1.6 0 -1.7 0 -1.6 0 -1.7 0 -1.6 0 -1.7 0 -1.6 0 -1.7 0 -1.6 0 -1.7 0 -1.6 .1 -1.7 0 -1.7 0 -1.6 0 -1.7 0 -1.6 0 -1.7 0 -1.6 0 -1.7 0 -1.6 0 -1.7 0 -1.6 0 -1.7 0 -1.6 0 -1.7 0 -1.6 0 -1.7 0 -1.6 0 -1.7 0 -1.6 0 -1.7 0 -1.6 0 -1.7 0 -1.6 0 -1.7 0 -1.6 0 -1.7 0 -1.7 .1 -1.6 0 -1.7 0 -1.6 0 -1.7 0 -1.6 0 -1.7 0 -1.6 0 -1.7 0 -1.6 .1 -1.7 0 -1.6 0 -1.7 0 -1.6 0 -1.7 .1 -1.6 0 -1.7 0 -1.6 .1 -1.7 0 -1.6 0 -1.7 .1 -1.6 0 -1.7 .1 -1.6 0 -1.7 .1 -1.7 .1 -1.6 .1 -1.7 .1 -1.6 .1 -1.7 .1 -1.6 .2 -1.7 .2 -1.6 .2 -1.7 .2 -1.6 .3 -1.7 .3 -1.6 .4 -1.7 .4 -1.6 .5 -1.7 .6 -1.6 .8 -1.7 .8 -1.6 1 -1.7 1.2 -1.6 1.5 -1.7 1.9 -1.6 2.5 -1.7 3.5 -1.6 6.1 -1.7 37.7 -1.7-32.8 -1.6-4.6 -1.7-2.5 -1.6-1.7 -1.7-1.2 -1.6-.9 -1.7-.7 -1.6-.5 -1.7 25.7 -1.1 68.5" stroke="#e377c2"/>
<path d="M61.8 129.1l1.2-5.8 1.1-13.8 1.2 3.3 1.1 1.5 1.2 9.5 1.2-9.7 1.1-5.2 1.2 33.2 1.1-32.8 1.2 4.7 1.1 21.2 1.2-23.1 1.2 14.1 1.1-16.5 1.2-.1 1.1-.5 1.2 0 1.1 17 1.2-3.9 1.1-6.5 1.2-3.1 1.2 11.9 1.1-14.9 1.2 10.2 1.1-10.3 1.2 1.1 1.1 10.7 1.2-3.4 1.2 20.3 1.1-7.7 1.2-18.2 1.1 18.8 1.2-16 1.1-5.1 1.2-.8 1.2 5.1 1.1 5.7 1.2-3.3 1.1-5.9 1.2-.7 1.1 7.6 1.2-4.3 1.1-1.5 1.2-1.9 1.2 12.3 1.1 5.6 1.2-12.5 1.1-3.3 1.2 11.1 1.1 1.9 1.2-15.8 1.2 1.4 1.1 4.1 1.2 5.6 1.1 0 1.2-5.3 1.1-5.1 1.2 1.5 1.1 12 1.2 0 1.2-5.9 1.1 3.2 1.2-8 1.1 18 1.2-8.8 1.1 14.3 1.2-9.7 1.2 25 1.1-32.9 1.2 6.7 1.1-15.8 1.2 27.2 1.1-9 1.2-18.8 1.1 .2 1.2 11.7 1.2-4.2 1.1-3.8 1.2-4 1.1 16.3 1.2-8.3 1.1 8.9 1.2-17 1.2 2.8 1.1 22.3 1.2 4.2 1.1-28.6 1.2 16.7 1.1 .7 1.2-9.3 1.2 7.1 1.1-11.5 1.2-4.3 1.1 14.1 1.2-9 1.1 19.2 1.2-24.4 1.1 7.1 1.2 11.6 1.2-18.1 1.1 16.1 1.2-11.3 1.1 4.8 1.2-5.5 1.1 8.2 1.2 .4 1.2-2 1.1 6.3 1.2-17.4 1.1 17.4 1.2-11.2 1.1 12.6 1.2-15.8 1.1 8.4 1.2 3.7 1.2-3.1 1.1-1.1 1.2-5.5 1.1-5.1 1.2 1.9 1.1-1.7 1.2 11.3 1.2-7 1.1 6.7 1.2 14.1 1.1-18.6 1.2-6.5 1.1 2.8 1.2-2.9 1.2 36.5 1.1-21.1 1.2-1.4 1.1-7.2 1.2 6.7 1.1-13.6 1.2 .5 1.1 14.9 1.2-15.5 1.2 8.8 1.1 27.5 1.2-23.4 1.1-8.2 1.2 3.3 1.1 7.1 1.2-9.4 1.2 12.5 .5-118.8 3.3 0 3.3 0 3.3 0 3.3 0 3.3 0 3.3 0 3.3 0 3.3 0 3.3 0 3.3 0 3.3 0 3.3 0 3.3 0 3.3 0 3.3 0 3.3 0 3.3 0 3.3 0 3.3 0 3.3 0 3.3 0 3.3 0 3.3 0 3.3 0 3.4 0 3.3 0 3.3 0 3.3 0 3.3 0 3.3 0 3.3 0 .8 0 -1.7 0 -1.6 0 -1.7 0 -1.6 0 -1.7 0 -1.6 0 -1.7 0 -1.6 0 -1.7 0 -1.6 0 -1.7 0 -1.6 0 -1.7 0 -1.6 0 -1.7 0 -1.6 0 -1.7 0 -1.6 0 -1.7 0 -1.6 0 -1.7 0 -1.6 0 -1.7 0 -1.6 0 -1.7 0 -1.7 0 -1.6 .1 -1.7 0 -1.6 0 -1.7 0 -1.6 0 -1.7 0 -1.6 0 -1.7 0 -1.6 0 -1.7 0 -1.6 0 -1.7 0 -1.6 0 -1.7 0 -1.6 0 -1.7 0 -1.6 0 -1.7 0 -1.6 0 -1.7 0 -1.6 0 -1.7 0 -1.6 0 -1.7 0 -1.7 0 -1.6 0 -1.7 0 -1.6 0 -1.7 .1 -1.6 0 -1.7 0 -1.6 0 -1.7 0 -1.6 0 -1.7 0 -1.6 0 -1.7 0 -1.6 .1 -1.7 0 -1.6 0 -1.7 0 -1.6 0 -1.7 .1 -1.6 0 -1.7 0 -1.6 .1 -1.7 0 -1.6 0 -1.7 .1 -1.7 .1 -1.6 0 -1.7 .1 -1.6 .1 -1.7 .1 -1.6 .1 -1.7 .1 -1.6 .1 -1.7 .2 -1.6 .2 -1.7 .2 -1.6 .3 -1.7 .3 -1.6 .4 -1.7 .5 -1.6 .5 -1.7 .7 -1.6 .8 -1.7 1.1 -1.6 1.3 -1.7 1.6 -1.6 2.2 -1.7 3.2 -1.6 5.6 -1.7 44.6 -1.7-36.6 -1.6-4.3 -1.7-2.3 -1.6-1.3 -1.7-.9 -1.6-.6 -1.7-.4 -1.6-.3 -1.7-.2 -1.6-.1 -1.7 4.8 -1.6 20 -1.2 58.6" stroke="#7f7f7f"/>
<path d="M61.8 124.4l1.2-4.3 1.1 1.8 1.2 0 1.1-3 1.2 9.2 1.2-19.1 1.1-.2 1.2 10.2 1.1-3.4 1.2-1.9 1.1-4.4 1.2 0 1.2 20.8 1.1-19 1.2 26.5 1.1-21.5 1.2 5.3 1.1-9 1.2-3.5 1.1 12.7 1.2-12.4 1.2 44.2 1.1-31.6 1.2-8 1.1 .4 1.2-5.1 1.1 39.5 1.2-36.4 1.2-2.5 1.1 6.7 1.2-5.5 1.1 6.3 1.2-6.4 1.1 3 1.2-5 1.2 15.1 1.1-14.7 1.2-.4 1.1 .3 1.2 0 1.1-.3 1.2 15 1.1-7.2 1.2 8 1.2-15.6 1.1 13.2 1.2-11.1 1.1 17 1.2-13.4 1.1-5 1.2 6.2 1.2-.5 1.1 8.2 1.2-10.9 1.1 14.9 1.2-13 1.1-3.8 1.2 7.4 1.1 13.8 1.2-22.6 1.2 .3 1.1 6.6 1.2 5 1.1 6.3 1.2 0 1.1-18.5 1.2 13.7 1.2-9.9 1.1 6.1 1.2 16.7 1.1-12.5 1.2-13 1.1 8.1 1.2-8.7 1.1 3.9 1.2-4.5 1.2 17.4 1.1-15.8 1.2 14.4 1.1-15.5 1.2-.2 1.1 .7 1.2 5.3 1.2 7.8 1.1-12 1.2 8.3 1.1 8.2 1.2-18 1.1-.8 1.2 14.7 1.2-14.4 1.1-.1 1.2 2.4 1.1 9.7 1.2-9.3 1.1 17.1 1.2-19.3 1.1 10.7 1.2 2 1.2-4.3 1.1-9.1 1.2 8.6 1.1-5.3 1.2 8.2 1.1 .3 1.2-11.2 1.2 7.4 1.1-4.4 1.2 42.8 1.1-29.7 1.2 25.3 1.1-29.9 1.2-11.2 1.1-.9 1.2 17.6 1.2-14.6 1.1 16.8 1.2-15.9 1.1 8 1.2 11.3 1.1-23.3 1.2 3 1.2-2.6 1.1-.2 1.2 11.1 1.1 3.2 1.2 6.9 1.1-21.2 1.2 7.8 1.2 9.3 1.1-16.8 1.2-.1 1.1 11.4 1.2-11.5 1.1 3.4 1.2 1.5 1.1-4.6 1.2 4.8 1.2-5 1.1 14.4 1.2-9.1 1.1-5 1.2 35.8 .6-136.7 3.4 0 3.3 0 3.3 0 3.3 0 3.3 0 3.3 0 3.3 0 3.3 0 3.3 0 3.3 0 3.3 0 3.3 0 3.3 0 3.3 0 3.3 0 3.3 0 3.3 0 3.3 0 3.3 0 3.3 0 3.3 0 3.3 0 3.3 0 3.3 0 3.3 0 3.4 0 3.3 0 3.3 0 3.3 0 3.3 0 3.3 0 3.3 0 .8 0 -1.7 .1 -1.6 0 -1.7 0 -1.6 0 -1.7 0 -1.6 0 -1.7 0 -1.6 0 -1.7 0 -1.6 0 -1.7 0 -1.6 0 -1.7 0 -1.6 0 -1.7 0 -1.6 0 -1.7 0 -1.6 0 -1.7 0 -1.6 0 -1.7 0 -1.6 0 -1.7 0 -1.6 0 -1.7 0 -1.7 0 -1.6 0 -1.7 0 -1.6 0 -1.7 0 -1.6 0 -1.7 0 -1.6 0 -1.7 0 -1.6 0 -1.7 .1 -1.6 0 -1.7 0 -1.6 0 -1.7 0 -1.6 0 -1.7 0 -1.6 0 -1.7 0 -1.6 0 -1.7 0 -1.6 0 -1.7 0 -1.6 .1 -1.7 0 -1.7 0 -1.6 0 -1.7 0 -1.6 0 -1.7 0 -1.6 .1 -1.7 0 -1.6 0 -1.7 0 -1.6 .1 -1.7 0 -1.6 0 -1.7 0 -1.6 .1 -1.7 0 -1.6 .1 -1.7 0 -1.6 0 -1.7 .1 -1.6 .1 -1.7 0 -1.6 .1 -1.7 .1 -1.6 .1 -1.7 0 -1.7 .2 -1.6 .1 -1.7 .1 -1.6 .2 -1.7 .1 -1.6 .2 -1.7 .2 -1.6 .3 -1.7 .2 -1.6 .4 -1.7 .3 -1.6 .4 -1.7 .5 -1.6 .5 -1.7 .6 -1.6 .7 -1.7 .9 -1.6 .9 -1.7 1.2 -1.6 1.4 -1.7 1.8 -1.6 2.3 -1.7 3.3 -1.6 5.6 -1.7 41.8 -1.7-29.1 -1.6-4.6 -1.7-2.5 -1.6-1.7 -1.7-1.1 -1.6-.9 -1.7-.6 -1.6-.6 -1.7-.3 -1.6 0 -1.7 1.7 -1.6 2.7 -1.7 3.4 -1.6 4 -1.2 71.6" stroke="#bcbd22"/>
<path d="M61.8 117.8l1.2-8.6 1.1 21.2 1.2-17.3 1.1 23.3 1.2-.4 1.2-26.4 1.1 43.5 1.2-36 1.1 7.4 1.2-13.8 1.1-.3 1.2 11.9 1.2-9.3 1.1 .4 1.2 32.9 1.1-34.4 1.2 8 1.1 7.9 1.2-16.3 1.1 .9 1.2 21.2 1.2-24.8 1.1 7.5 1.2 2.8 1.1 4.3 1.2-2.7 1.1-7.9 1.2 8.1 1.2 6 1.1-.4 1.2-16.7 1.1 8 1.2-8.7 1.1 13.4 1.2 1.3 1.2-14.7 1.1 12.3 1.2 2 1.1 10.9 1.2-10.7 1.1 2.7 1.2-9.3 1.1-7.9 1.2 9.4 1.2-.6 1.1 6.9 1.2 7.3 1.1-10.2 1.2 5.9 1.1 2.1 1.2-.9 1.2-16.8 1.1 25.4 1.2-28.7 1.1 0 1.2 18.4 1.1-18.2 1.2 17.8 1.1-10 1.2-7.7 1.2 0 1.1 15.8 1.2-9.7 1.1 6.2 1.2-3.3 1.1 .9 1.2-1.4 1.2 8.6 1.1-2.2 1.2-8.1 1.1 9.2 1.2-16.2 1.1 33.6 1.2-33.3 1.1 2.9 1.2 14.2 1.2-14.5 1.1-2.2 1.2 7.6 1.1-4.5 1.2 8.9 1.1 16.5 1.2-10.4 1.2-16.7 1.1-1.5 1.2 17.6 1.1 2.4 1.2 12.3 1.1-20.5 1.2 4.8 1.2 17.7 1.1 8.5 1.2-29.4 1.1 8.2 1.2-22 1.1 .2 1.2-.6 1.1 4.2 1.2 2.1 1.2-2.5 1.1 11.4 1.2-11.4 1.1-3.1 1.2 17.9 1.1 13.1 1.2-20 1.2-10.7 1.1 6.7 1.2 .6 1.1-8.1 1.2 5.8 1.1 4.9 1.2 6.4 1.1-9.2 1.2-5 1.2 14.4 1.1-9.5 1.2 3.6 1.1-11.4 1.2 42.1 1.1-24.2 1.2-10.8 1.2-6.8 1.1 2.9 1.2 7.6 1.1 10.2 1.2-15.6 1.1 10.4 1.2-4.6 1.2 3 1.1 1 1.2-15.2 1.1 12.2 1.2-11.8 1.1 2.8 1.2 21.6 1.1-24.3 1.2 18.2 1.2-11.9 1.1 1.5 1.2 4.8 1.1 22.4 1.2-21.5 1.1-14 1.2 2.6 1.2 10.7 1.1-12.5 .2-101.2 3.3 0 3.3 0 3.3 0 3.3 0 3.3 0 3.3 0 3.3 0 3.3 0 3.3 0 3.3 0 3.3 0 3.3 0 3.3 0 3.3 0 3.3 0 3.3 0 3.3 0 3.3 0 3.4 0 3.3 0 3.3 0 3.3 0 3.3 0 3.3 0 3.3 0 3.3 0 3.3 0 3.3 0 3.3 0 3.3 0 3.3 0 -1.7 .1 -1.6 0 -1.7 0 -1.6 0 -1.7 0 -1.6 0 -1.7 0 -1.6 0 -1.7 0 -1.6 0 -1.7 0 -1.6 0 -1.7 0 -1.6 0 -1.7 0 -1.6 0 -1.7 0 -1.6 0 -1.7 0 -1.6 0 -1.7 0 -1.6 0 -1.7 0 -1.6 0 -1.7 0 -1.7 0 -1.6 0 -1.7 0 -1.6 0 -1.7 0 -1.6 .1 -1.7 0 -1.6 0 -1.7 0 -1.6 0 -1.7 0 -1.6 0 -1.7 0 -1.6 0 -1.7 0 -1.6 0 -1.7 0 -1.6 0 -1.7 0 -1.6 .1 -1.7 0 -1.6 0 -1.7 0 -1.6 0 -1.7 0 -1.7 0 -1.6 0 -1.7 .1 -1.6 0 -1.7 0 -1.6 0 -1.7 0 -1.6 .1 -1.7 0 -1.6 0 -1.7 0 -1.6 .1 -1.7 0 -1.6 0 -1.7 .1 -1.6 0 -1.7 .1 -1.6 0 -1.7 .1 -1.6 0 -1.7 .1 -1.6 .1 -1.7 0 -1.6 .1 -1.7 .1 -1.7 .1 -1.6 .2 -1.7 .1 -1.6 .1 -1.7 .2 -1.6 .2 -1.7 .2 -1.6 .2 -1.7 .3 -1.6 .3 -1.7 .3 -1.6 .4 -1.7 .4 -1.6 .6 -1.7 .5 -1.6 .7 -1.7 .8 -1.6 .9 -1.7 1.1 -1.6 1.4 -1.7 1.6 -1.6 2.2 -1.7 3.2 -1.6 5.4 -1.7 43 -1.7-26.3 -1.6-4.4 -1.7-2.5 -1.6-1.5 -1.7-1 -1.6-.8 -1.7-.5 -1.1 76" stroke="#17becf"/>

<path d="M61.8 121l1.2-.6 1.1-11.3 1.2 16.1 1.1-11.2 1.2 1.8 1.2-.2 1.1-6.7 1.2 15 1.1 2.8 1.2-17.7 1.1 16 1.2-5.4 1.2 7.7 1.1-4.7 1.2 1.8 1.1 2.2 1.2-17.7 1.1 .2 1.2 2.4 1.1 16.5 1.2-.3 1.2-18.7 1.1 2.1 1.2-1.7 1.1 5.3 1.2 13.2 1.1-4.3 1.2-14.8 1.2 8.4 1.1-7.8 1.2 10.9 1.1 6.2 1.2-17.5 1.1-.2 1.2 .5 1.2 3.4 1.1-3.4 1.2 .2 1.1 10.6 1.2 5.3 1.1-4.7 1.2-10.6 1.1 13.5 1.2-.9 1.2 15.7 1.1-29.6 1.2 18 1.1 8.8 1.2-13.2 1.1-.5 1.2-12.4 1.2 31.3 1.1-24.1 1.2-1.8 1.1 4 1.2-3.1 1.1 7 1.2-13.6 1.1 8.5 1.2 4.4 1.2-8.9 1.1 14.8 1.2-2.5 1.1 9.6 1.2-3.7 1.1-22 1.2 7.1 1.2 5.4 1.1-12.8 1.2 18.7 1.1-1.6 1.2-17.1 1.1 3.6 1.2 3.9 1.1 .4 1.2 6.7 1.2-3.4 1.1 4.1 1.2 6.9 1.1-4 1.2 23.7 1.1-41.8 1.2 0 1.2 17.9 1.1-17.7 1.2 9.1 1.1-9.6 1.2 6.2 1.1 5.8 1.2 .7 1.2-3.3 1.1-3.8 1.2 4.1 1.1 5.9 1.2-15.4 1.1 19 1.2 1.2 1.1-3.9 1.2-15.9 1.2-.1 1.1 16.6 1.2-16.8 1.1 7.1 1.2 3.5 1.1-.2 1.2-1.7 1.2-6.1 1.1-2.8 1.2 7.1 1.1 7.6 1.2-13.8 1.1 1.4 1.2 13.2 1.1-.8 1.2-7.5 1.2 11.9 1.1-18.2 1.2 3.4 1.1-2.9 1.2 15.3 1.1-16.8 1.2 .6 1.2 7.5 1.1 0 1.2-7.8 1.1-.2 1.2 6 1.1-5.8 1.2 3.6 1.2 11.8 1.1-12.6 1.2 15.7 1.1-6.6 1.2 16.4 1.1-24.6 1.2 1.6 1.1 9.9 1.2 3 1.2-7.4 1.1-5.9 1.2 5 1.1-3.6 1.2-6 1.1 5.1 1.2 .3 .8-106.3 3.3 0 3.3 0 3.3 0 3.3 0 3.3 0 3.3 0 3.4 0 3.3 0 3.3 0 3.3 0 3.3 0 3.3 0 3.3 0 3.3 0 3.3 0 3.3 0 3.3 0 3.3 0 3.3 0 3.3 0 3.3 0 3.3 0 3.3 0 3.3 0 3.3 0 3.3 0 3.3 0 3.3 0 3.3 0 3.3 0 3.3 0 1.7 0 -1.7 0 -1.6 0 -1.7 0 -1.6 0 -1.7 0 -1.6 0 -1.7 0 -1.6 0 -1.7 0 -1.6 0 -1.7 0 -1.6 0 -1.7 0 -1.6 0 -1.7 0 -1.6 0 -1.7 0 -1.6 0 -1.7 0 -1.6 0 -1.7 .1 -1.6 0 -1.7 0 -1.6 0 -1.7 0 -1.7 0 -1.6 0 -1.7 0 -1.6 0 -1.7 0 -1.6 0 -1.7 0 -1.6 0 -1.7 0 -1.6 0 -1.7 0 -1.6 0 -1.7 0 -1.6 0 -1.7 0 -1.6 0 -1.7 0 -1.6 0 -1.7 0 -1.6 0 -1.7 .1 -1.6 0 -1.7 0 -1.6 0 -1.7 0 -1.7 0 -1.6 0 -1.7 0 -1.6 0 -1.7 .1 -1.6 0 -1.7 0 -1.6 0 -1.7 0 -1.6 .1 -1.7 0 -1.6 0 -1.7 .1 -1.6 0 -1.7 0 -1.6 .1 -1.7 0 -1.6 .1 -1.7 0 -1.6 .1 -1.7 .1 -1.6 .1 -1.7 .1 -1.6 .1 -1.7 .1 -1.7 .1 -1.6 .2 -1.7 .1 -1.6 .2 -1.7 .3 -1.6 .2 -1.7 .3 -1.6 .3 -1.7 .4 -1.6 .4 -1.7 .5 -1.6 .6 -1.7 .6 -1.6 .7 -1.7 .8 -1.6 1 -1.7 1.1 -1.6 1.2 -1.7 1.5 -1.6 1.8 -1.7 2.2 -1.6 2.9 -1.7 4 -1.6 7 -1.7 36.9 -1.7-44.4 -1.6-4.3 -1.7-2.3 -1.6-1.3 -1.7-.9 -1.6-.6 -1.7-.4 -1.6-.3 -1.7-.2 -1.6 0 -1.7 .8 -1.6 1.2 -1.7 1.5 -1.6 1.7 -1.7 2 -1.1 86.2" stroke="#1f77b4"/>
<path d="M61.8 112.4l1.2 9.2 1.1 5.4 1.2-5.8 1.1 4.2 1.2 10.9 1.2-26.4 1.1 7.9 1.2 5.5 1.1 1.9 1.2 .3 1.1 8.2 1.2-19.7 1.2-2.1 1.1 1.5 1.2-1.7 1.1-2.2 1.2 8.7 1.1 31.9 1.2-20.1 1.1-20.7 1.2 4.9 1.2 7.1 1.1-11.9 1.2 .4 1.1 21.1 1.2-20.9 1.1 35.2 1.2-19.2 1.2-.9 1.1-11.7 1.2 5.1 1.1-9.1 1.2 14.5 1.1-5.5 1.2-9.1 1.2 5.6 1.1 8.2 1.2 .2 1.1 6.8 1.2-21.1 1.1 7.7 1.2-6.9 1.1 12.6 1.2-13.1 1.2 4.3 1.1 10.4 1.2-14.8 1.1 5.6 1.2 11.6 1.1-17 1.2 .4 1.2 24.2 1.1-17.7 1.2 6.1 1.1 11.7 1.2-20.7 1.1-4.5 1.2 36.6 1.1-14.7 1.2 3.9 1.2-9.2 1.1-16.3 1.2 15.4 1.1-.5 1.2-13.8 1.1 8 1.2 8.5 1.2-9.8 1.1 12.1 1.2-20.1 1.1 .1 1.2 10.3 1.1 2.9 1.2-1 1.1-3.9 1.2-8.6 1.2 5.9 1.1-3.8 1.2 11.8 1.1-1.3 1.2-12.1 1.1 17.8 1.2-1.3 1.2-16.9 1.1 6.2 1.2-4.7 1.1 6 1.2 8.6 1.1-15.8 1.2 .1 1.2 3.9 1.1-4 1.2 16.2 1.1-16.1 1.2 2.4 1.1 26.7 1.2-29.4 1.1 14.8 1.2 11.5 1.2-22.2 1.1 14.1 1.2-13.3 1.1 2.3 1.2-3.4 1.1 12 1.2-12.4 1.2 11.8 1.1-14.5 1.2 7.8 1.1 2.6 1.2-9.7 1.1 15.3 1.2 14.9 1.1-24.4 1.2 4.2 1.2-11.1 1.1 .3 1.2 6.1 1.1 6.1 1.2 .8 1.1-13.7 1.2 7.3 1.2 26.9 1.1-33.5 1.2-.7 1.1 .3 1.2 8.7 1.1-8.5 1.2 4.4 1.2 14 1.1-.1 1.2-11.9 1.1 10.6 1.2-1.5 1.1 7.8 1.2-20.7 1.1 6.3 1.2 23.7 1.2-8.3 1.1-21.3 1.2-3.5 1.1 3 1.2-.9 1.1 21.5 1.2-4.5 1.2-10.3 1.1-8.3 1.2-.3 1.1 5.2 1.2 9.1 1.1-3.7 1.2-6.8 1-104.3 3.3 0 3.3 0 3.3 0 3.3 0 3.3 0 3.3 0 3.3 0 3.3 0 3.3 0 3.3 0 3.3 0 3.3 0 3.3 0 3.3 0 3.3 0 3.3 0 3.4 0 3.3 0 3.3 0 3.3 0 3.3 0 3.3 0 3.3 0 3.3 0 3.3 0 3.3 0 3.3 0 3.3 0 3.3 0 -1.7 0 -1.6 0 -1.7 0 -1.6 0 -1.7 0 -1.6 0 -1.7 0 -1.6 0 -1.7 0 -1.6 0 -1.7 0 -1.6 0 -1.7 0 -1.6 0 -1.7 0 -1.6 0 -1.7 0 -1.6 0 -1.7 0 -1.6 0 -1.7 0 -1.6 0 -1.7 0 -1.6 0 -1.7 0 -1.7 0 -1.6 .1 -1.7 0 -1.6 0 -1.7 0 -1.6 0 -1.7 0 -1.6 0 -1.7 0 -1.6 0 -1.7 0 -1.6 0 -1.7 0 -1.6 0 -1.7 0 -1.6 0 -1.7 0 -1.6 0 -1.7 0 -1.6 0 -1.7 0 -1.6 0 -1.7 0 -1.6 0 -1.7 0 -1.7 0 -1.6 0 -1.7 .1 -1.6 0 -1.7 0 -1.6 0 -1.7 0 -1.6 0 -1.7 0 -1.6 0 -1.7 0 -1.6 .1 -1.7 0 -1.6 0 -1.7 0 -1.6 0 -1.7 .1 -1.6 0 -1.7 0 -1.6 .1 -1.7 0 -1.6 .1 -1.7 0 -1.6 .1 -1.7 0 -1.7 .1 -1.6 .1 -1.7 .1 -1.6 .1 -1.7 .1 -1.6 .1 -1.7 .2 -1.6 .2 -1.7 .2 -1.6 .2 -1.7 .3 -1.6 .4 -1.7 .4 -1.6 .5 -1.7 .5 -1.6 .7 -1.7 .8 -1.6 1 -1.7 1.2 -1.6 1.4 -1.7 1.9 -1.6 2.4 -1.7 3.5 -1.6 6 -1.7 40.1 -1.7-30.6 -1.6-4.5 -1.7-2.5 -1.6-1.6 -1.7-1.2 -1.6-.8 -1.7-.6 -1.6-.5 -1.2 91.7" stroke="#ff7f0e"/>
<path d="M61.8 109.1l1.2 18.8 1.1-18.8 1.2 20.1 1.1-19.9 1.2 13.3 1.2-1.6 1.1 .6 1.2-12 1.1 8 1.2 28.6 1.1-11.1 1.2-25.5 1.2 4.7 1.1 9 1.2-2.8 1.1-11.5 1.2 14.8 1.1-14.6 1.2 7.1 1.1 5.1 1.2 16.9 1.2-13.9 1.1 2.3 1.2 6.7 1.1-22.8 1.2 2 1.1 3.7 1.2 4.2 1.2-11.4 1.1 3.3 1.2-1.8 1.1 17.1 1.2-6.3 1.1 5.5 1.2-5.5 1.2-12.2 1.1 .3 1.2 18.4 1.1-13.3 1.2 2.5 1.1 2.4 1.2 13.2 1.1-15.9 1.2 6 1.2-7.1 1.1 8 1.2-14.3 1.1 14.7 1.2-14.5 1.1 12.9 1.2 .4 1.2-5.4 1.1-2.1 1.2 19.8 1.1-24.9 1.2 29 1.1-22.1 1.2-8.1 1.1 .3 1.2 7.3 1.2 6.6 1.1-8.6 1.2 6.1 1.1 6.7 1.2-3.1 1.1-15.5 1.2 15.8 1.2-12.3 1.1-3.2 1.2-.2 1.1 16.5 1.2-15.1 1.1 1.2 1.2-.6 1.1 23.6 1.2-16.4 1.2-9 1.1 5.3 1.2 1.9 1.1-5.6 1.2 6.4 1.1 1.2 1.2 4.6 1.2 23.5 1.1-27.7 1.2 8.2 1.1 8.7 1.2-25.8 1.1-.6 1.2 4.7 1.2 12.1 1.1-16.8 1.2 8.2 1.1-5.6 1.2 6 1.1 .8 1.2 3.4 1.1 13.5 1.2-17.7 1.2 16.6 1.1-17.6 1.2 17 1.1-15.9 1.2 20.3 1.1-16.1 1.2-13 1.2-.3 1.1 15.3 1.2 8.3 1.1-12.9 1.2 30 1.1-27.6 1.2-12.4 1.1 14.9 1.2-13.5 1.2 8.7 1.1 8.4 1.2-4.3 1.1-4.2 1.2 16 1.1-2.2 1.2-24.6 1.2 35.5 1.1-.4 1.2 .2 1.1-18.6 1.2-16.2 1.1 2.7 1.2-3.1 1.2 14.1 1.1 .6 1.2 2.1 1.1-16.6 1.2 2.1 1.1 16.5 1.2-18.8 1.1 9.1 1.2-5.9 1.2 10.6 1.1-1.7 1.2 2.4 1.1 .7 .2-115.5 3.3 0 3.3 0 3.3 0 3.3 0 3.3 0 3.3 0 3.3 0 3.3 0 3.3 0 3.3 0 3.3 0 3.3 0 3.3 0 3.3 0 3.4 0 3.3 0 3.3 0 3.3 0 3.3 0 3.3 0 3.3 0 3.3 0 3.3 0 3.3 0 3.3 0 3.3 0 3.3 0 3.3 0 3.3 0 3.3 0 3.3 0 3.3 0 2.5 0 -1.7 0 -1.6 0 -1.7 0 -1.6 0 -1.7 0 -1.6 0 -1.7 0 -1.6 0 -1.7 0 -1.6 0 -1.7 0 -1.6 0 -1.7 0 -1.6 0 -1.7 0 -1.6 0 -1.7 0 -1.6 0 -1.7 0 -1.6 0 -1.7 0 -1.6 0 -1.7 0 -1.6 0 -1.7 0 -1.7 0 -1.6 0 -1.7 0 -1.6 0 -1.7 0 -1.6 0 -1.7 0 -1.6 0 -1.7 0 -1.6 0 -1.7 0 -1.6 0 -1.7 0 -1.6 0 -1.7 0 -1.6 0 -1.7 0 -1.6 0 -1.7 0 -1.6 0 -1.7 0 -1.6 0 -1.7 0 -1.6 0 -1.7 0 -1.7 .1 -1.6 0 -1.7 0 -1.6 0 -1.7 0 -1.6 0 -1.7 0 -1.6 0 -1.7 0 -1.6 0 -1.7 0 -1.6 0 -1.7 0 -1.6 0 -1.7 0 -1.6 0 -1.7 .1 -1.6 0 -1.7 0 -1.6 0 -1.7 0 -1.6 0 -1.7 .1 -1.6 0 -1.7 0 -1.7 .1 -1.6 0 -1.7 .1 -1.6 0 -1.7 .1 -1.6 .1 -1.7 .1 -1.6 .1 -1.7 .1 -1.6 .2 -1.7 .2 -1.6 .3 -1.7 .3 -1.6 .4 -1.7 .5 -1.6 .6 -1.7 .7 -1.6 1 -1.7 1.1 -1.6 1.5 -1.7 2 -1.6 2.6 -1.7 3.8 -1.6 6.5 -1.7 41.3 -1.7-38.8 -1.6-4.4 -1.7-2.3 -1.6-1.5 -1.7-.9 -1.6-.6 -1.7-.5 -1.6-.3 -1.7 3.5 -1.6 6.5 -1.7 8.5 -1.1 68.7" stroke="#2ca02c"/>
<path d="M61.8 132l1.2-9.3 1.1-12.6 1.2 6.5 1.1 .6 1.2-7.7 1.2 20 1.1-1.7 1.2 16.5 1.1-7.7 1.2-10.6 1.1-.2 1.2-10.9 1.2 10 1.1 8.6 1.2-24.4 1.1 17 1.2-5.3 1.1-5.3 1.2 5.9 1.1 4.5 1.2-16.6 1.2 13.5 1.1 9.9 1.2-19.8 1.1 1.9 1.2 6.3 1.1-11.5 1.2 4.2 1.2 .9 1.1 3.9 1.2 6.6 1.1-6.6 1.2-9.1 1.1 22.6 1.2-23.2 1.2 4.5 1.1 6.7 1.2 6.9 1.1-1.8 1.2-10.6 1.1 10 1.2-13.1 1.1 11.6 1.2-13.9 1.2 14.7 1.1-12.3 1.2 5.2 1.1-7.7 1.2-.1 1.1 .4 1.2 10.3 1.2 6.1 1.1-4.6 1.2 31.4 1.1-8.9 1.2-31.8 1.1 6.3 1.2 9.4 1.1-8.5 1.2-1.5 1.2-8.7 1.1 17.8 1.2-17.2 1.1-.4 1.2 9.8 1.1-9.9 1.2 5.5 1.2-5.6 1.1 8.1 1.2 13.9 1.1-18.6 1.2-3.5 1.1 1.3 1.2-.9 1.1 8.4 1.2-1.5 1.2 8.9 1.1-16.1 1.2 14.7 1.1-11.9 1.2-1.2 1.1 10.4 1.2 5.4 1.2-16.7 1.1 7.8 1.2-6.9 1.1-1.7 1.2 15 1.1-2.5 1.2-10.9 1.2 31.5 1.1-14.5 1.2-4 1.1-14.3 1.2 10 1.1 20.3 1.2-14.5 1.1-4.8 1.2-10.8 1.2 10.9 1.1 6.8 1.2-14.7 1.1-3.1 1.2 1.3 1.1 31.4 1.2-29.6 1.2-.5 1.1 31.4 1.2-33.5 1.1 13 1.2-12 1.1-1.1 1.2 17.5 1.1 1.6 1.2-8.3 1.2-1.7 1.1 8.6 1.2-12.3 1.1-5 1.2-.7 1.1 19.1 1.2-8.2 1.2-10.7 1.1 1.7 1.2 6.2 1.1 1.1 1.2-7 1.1 .5 1.2 15.3 1.2 14.7 1.1-32.5 1.2 33.1 1.1-30.6 1.2-2.4 1.1 4 1.2 14.6 1.1-15.3 1.2 1.3 1.2-4.9 1.1-.5 1.2 16.1 1.1 3.3 1.2 1.9 1.1-5.7 1.2 12 1.2-8.5 1.1-13.8 1.2 .9 1.1 12.5 .4-118.9 3.3 0 3.3 0 3.3 0 3.3 0 3.3 0 3.3 0 3.3 0 3.3 0 3.3 0 3.3 0 3.3 0 3.3 0 3.3 0 3.3 0 3.3 0 3.3 0 3.3 0 3.3 0 3.3 0 3.3 0 3.3 0 3.3 0 3.3 0 3.4 0 3.3 0 3.3 0 3.3 0 3.3 0 3.3 0 3.3 0 .8 0 -1.7 0 -1.6 0 -1.7 0 -1.6 0 -1.7 0 -1.6 0 -1.7 0 -1.6 0 -1.7 0 -1.6 0 -1.7 0 -1.6 0 -1.7 0 -1.6 0 -1.7 0 -1.6 0 -1.7 0 -1.6 0 -1.7 0 -1.6 0 -1.7 0 -1.6 0 -1.7 0 -1.6 0 -1.7 0 -1.7 0 -1.6 0 -1.7 0 -1.6 0 -1.7 0 -1.6 .1 -1.7 0 -1.6 0 -1.7 0 -1.6 0 -1.7 0 -1.6 0 -1.7 0 -1.6 0 -1.7 0 -1.6 0 -1.7 0 -1.6 0 -1.7 0 -1.6 0 -1.7 0 -1.6 0 -1.7 0 -1.6 0 -1.7 0 -1.7 0 -1.6 0 -1.7 .1 -1.6 0 -1.7 0 -1.6 0 -1.7 0 -1.6 0 -1.7 0 -1.6 0 -1.7 .1 -1.6 0 -1.7 0 -1.6 0 -1.7 .1 -1.6 0 -1.7 0 -1.6 .1 -1.7 0 -1.6 0 -1.7 .1 -1.6 .1 -1.7 0 -1.6 .1 -1.7 .1 -1.7 .1 -1.6 .1 -1.7 .1 -1.6 .2 -1.7 .1 -1.6 .2 -1.7 .3 -1.6 .2 -1.7 .3 -1.6 .4 -1.7 .4 -1.6 .5 -1.7 .5 -1.6 .7 -1.7 .7 -1.6 .9 -1.7 1 -1.6 1.2 -1.7 1.4 -1.6 1.8 -1.7 2.1 -1.6 2.9 -1.7 4 -1.6 6.8 -1.7 35 -1.7-27.1 -1.6-4.6 -1.7-2.5 -1.6-1.7 -1.7-1.2 -1.6-.9 -1.7-.6 -1.6-.5 -1.7-.4 -1.1 81" stroke="#d62728"/>
<path d="M61.8 109.3l1.2 9 1.1-8 1.2 23.5 1.1-7.6 1.2-8.8 1.2-7.7 1.1 10.8 1.2 4.6 1.1 2.8 1.2-18.8 1.1-.2 1.2 14.6 1.2-.9 1.1 2.1 1.2-.2 1.1 3.4 1.2 9.3 1.1-14.7 1.2-13.6 1.1 33.9 1.2-33.8 1.2 3.1 1.1 11.1 1.2-2.7 1.1-11.2 1.2 1.9 1.1 24.4 1.2-1.1 1.2-9.2 1.1-15.6 1.2 11 1.1 5.3 1.2 44 1.1 0 1.2 0 1.2-42.9 1.1-17.5 1.2 18.6 1.1-6.2 1.2-6.2 1.1 10.2 1.2-11.8 1.1 3.3 1.2-8.6 1.2 .4 1.1 .1 1.2 31.4 1.1-31.8 1.2 0 1.1 1.6 1.2 13.9 1.2-3.5 1.1-7.4 1.2-4.6 1.1 .8 1.2 14.4 1.1 10.7 1.2-11.2 1.1-3.7 1.2-11.2 1.2 .2 1.1 1 1.2-.4 1.1 5 1.2-4.6 1.1 9.7 1.2-3.5 1.2-6.7 1.1 10.9 1.2-11.4 1.1 15.3 1.2 9.3 1.1-6.6 1.2-9.4 1.1-5.1 1.2-3.2 1.2 .2 1.1 10.4 1.2-6.2 1.1 9.2 1.2-9.4 1.1-3.6 1.2 7.4 1.2 26.6 1.1-17.9 1.2-14.4 1.1 3.8 1.2-6.5 1.1 13.1 1.2-12.8 1.2 16.3 1.1-12.9 1.2 13.9 1.1-11.1 1.2 6.9 1.1 20.1 1.2-22.4 1.1 22.6 1.2-30.7 1.2 12.2 1.1-15.1 1.2 0 1.1 11.9 1.2 2.2 1.1 16.8 1.2-27.1 1.2 15.3 1.1-17.9 1.2-1.3 1.1 3.6 1.2 11.2 1.1-14.9 1.2 3.3 1.1 22.3 1.2-14.8 1.2-10.8 1.1 17.7 1.2-17.1 1.1 14.7 1.2-14.5 1.1 3.8 1.2 8.2 1.2 15 1.1 17.8 1.2-25.6 1.1-19.2 1.2 2.9 1.1 3.5 1.2 11.8 1.2-18.1 1.1 2.7 1.2 11.7 1.1-14.3 1.2 16 1.1 1.8 1.2 2.4 1.1-20.8 1.2 .8 1.2 13.4 1.1-4.7 1.2-.9 .5-109.2 3.3 0 3.3 0 3.3 0 3.3 0 3.3 0 3.3 0 3.3 0 3.3 0 3.3 0 3.3 0 3.3 0 3.3 0 3.3 0 3.3 0 3.3 0 3.3 0 3.3 0 3.3 0 3.3 0 3.3 0 3.4 0 3.3 0 3.3 0 3.3 0 3.3 0 3.3 0 3.3 0 3.3 0 3.3 0 3.3 0 3.3 0 3.3 0 3.3 0 -1.7 .1 -1.6 0 -1.7 0 -1.6 0 -1.7 0 -1.6 0 -1.7 0 -1.6 .1 -1.7 0 -1.6 0 -1.7 0 -1.6 0 -1.7 0 -1.6 0 -1.7 0 -1.6 0 -1.7 0 -1.6 0 -1.7 0 -1.6 0 -1.7 0 -1.6 0 -1.7 0 -1.6 0 -1.7 0 -1.7 0 -1.6 0 -1.7 .1 -1.6 0 -1.7 0 -1.6 0 -1.7 0 -1.6 0 -1.7 0 -1.6 0 -1.7 0 -1.6 0 -1.7 .1 -1.6 0 -1.7 0 -1.6 0 -1.7 0 -1.6 0 -1.7 0 -1.6 .1 -1.7 0 -1.6 0 -1.7 0 -1.6 0 -1.7 .1 -1.7 0 -1.6 0 -1.7 0 -1.6 .1 -1.7 0 -1.6 0 -1.7 0 -1.6 .1 -1.7 0 -1.6 .1 -1.7 0 -1.6 .1 -1.7 0 -1.6 .1 -1.7 0 -1.6 .1 -1.7 0 -1.6 .1 -1.7 .1 -1.6 .1 -1.7 .1 -1.6 .1 -1.7 .1 -1.6 .1 -1.7 .1 -1.7 .2 -1.6 .1 -1.7 .2 -1.6 .2 -1.7 .2 -1.6 .2 -1.7 .3 -1.6 .2 -1.7 .4 -1.6 .3 -1.7 .4 -1.6 .4 -1.7 .5 -1.6 .5 -1.7 .6 -1.6 .7 -1.7 .8 -1.6 .9 -1.7 1.1 -1.6 1.4 -1.7 1.6 -1.6 2.1 -1.7 3 -1.6 5.2 -1.7 43.5 -1.7-41.4 -1.6-4.6 -1.7-2.5 -1.6-1.7 -1.7-1.2 -1.6-.9 -1.7-.6 -1.6-.2 -1.7 .4 -1.6 .6 -1.7 .8 -1.6 1.1 -1.7 1.2 -1.6 1.4 -1.7 1.5 -1.6 1.6 -1.2 81.7" stroke="#9467bd"/>
<path d="M61.8 133.3l1.2-24.3 1.1 16.6 1.2-10.9 1.1 18.5 1.2-1.7 1.2-20.1 1.1-2.2 1.2 10.9 1.1 .8 1.2-3 1.1 6.5 1.2-8.2 1.2-7.2 1.1 6.8 1.2-6.3 1.1 11.8 1.2 5.5 1.1-18 1.2 .1 1.1 6.3 1.2 9.5 1.2-10.6 1.1 14.1 1.2 25 1.1-26.7 1.2-17.5 1.1 15 1.2-7.3 1.2 4.8 1.1-2.8 1.2-7 1.1 1.5 1.2 4.8 1.1 6.1 1.2-1.3 1.2 1.4 1.1-11.8 1.2 10 1.1-4.9 1.2-1.4 1.1-4.8 1.2 17 1.1-3.3 1.2-8.1 1.2-.3 1.1 2.6 1.2-10 1.1 17.5 1.2-17.1 1.1 11.4 1.2-.4 1.2 16.1 1.1-20.3 1.2-4 1.1-3.1 1.2 16.9 1.1-17.4 1.2 .6 1.1 8.9 1.2-8.2 1.2 29.4 1.1-17.9 1.2-12.8 1.1 3.3 1.2 4.7 1.1-7.9 1.2 9.2 1.2-8.5 1.1 19.8 1.2-12.2 1.1 .8 1.2 9.1 1.1-8.5 1.2-4.5 1.1-5.2 1.2 .2 1.2 9.9 1.1 16.8 1.2-15.8 1.1-5.6 1.2 17.8 1.1-9.6 1.2-1.9 1.2-8.5 1.1 14.1 1.2-8.6 1.1 12.1 1.2-13.4 1.1 22.7 1.2-8.5 1.2-16.2 1.1 19.8 1.2-21.2 1.1 15.1 1.2 .1 1.1-19.3 1.2 6.2 1.1-1.4 1.2 4.1 1.2-8.4 1.1 6.8 1.2 9.2 1.1-16.4 1.2 .6 1.1 13.8 1.2-13.3 1.2 3.4 1.1 24.6 1.2-12.9 1.1-16.4 1.2 .2 1.1 7.4 1.2-6.9 1.1 2.2 1.2 1.3 1.2-3.6 1.1 12.9 1.2 2.3 1.1-1.9 1.2 8.9 1.1-21.8 1.2-.3 1.2 17.4 1.1-13.5 1.2-4.3 1.1 40.2 1.2-27.5 1.1 4.2 1.2-1.1 1.2-16 1.1 2 1.2 8.8 1.1-6.9 1.2 14.3 1.1-18.1 1.2 3.1 1.1 2.8 1.2 2.8 1.2-8.2 1.1 6.4 1.2-6.9 1.1 11.4 1.2 17.4 1.1-9.7 .4-119.5 3.3 0 3.3 0 3.3 0 3.3 0 3.3 0 3.3 0 3.3 0 3.3 0 3.3 0 3.3 0 3.3 0 3.3 0 3.3 0 3.3 0 3.3 0 3.3 0 3.3 0 3.3 0 3.3 0 3.4 0 3.3 0 3.3 0 3.3 0 3.3 0 3.3 0 3.3 0 3.3 0 3.3 0 3.3 0 3.3 0 3.3 0 3.3 0 -1.7 0 -1.6 0 -1.7 0 -1.6 0 -1.7 0 -1.6 0 -1.7 0 -1.6 0 -1.7 0 -1.6 0 -1.7 0 -1.6 0 -1.7 0 -1.6 0 -1.7 0 -1.6 0 -1.7 0 -1.6 0 -1.7 0 -1.6 0 -1.7 0 -1.6 0 -1.7 0 -1.6 0 -1.7 0 -1.7 .1 -1.6 0 -1.7 0 -1.6 0 -1.7 0 -1.6 0 -1.7 0 -1.6 0 -1.7 0 -1.6 0 -1.7 0 -1.6 0 -1.7 0 -1.6 0 -1.7 0 -1.6 0 -1.7 0 -1.6 0 -1.7 0 -1.6 0 -1.7 0 -1.6 0 -1.7 0 -1.6 0 -1.7 0 -1.7 .1 -1.6 0 -1.7 0 -1.6 0 -1.7 0 -1.6 0 -1.7 0 -1.6 0 -1.7 0 -1.6 .1 -1.7 0 -1.6 0 -1.7 0 -1.6 0 -1.7 .1 -1.6 0 -1.7 0 -1.6 .1 -1.7 0 -1.6 0 -1.7 .1 -1.6 .1 -1.7 0 -1.6 .1 -1.7 .1 -1.7 0 -1.6 .1 -1.7 .2 -1.6 .1 -1.7 .1 -1.6 .2 -1.7 .2 -1.6 .2 -1.7 .3 -1.6 .3 -1.7 .4 -1.6 .4 -1.7 .5 -1.6 .5 -1.7 .7 -1.6 .8 -1.7 .9 -1.6 1.1 -1.7 1.3 -1.6 1.6 -1.7 2 -1.6 2.6 -1.7 3.7 -1.6 6.4 -1.7 39.1 -1.7-22.5 -1.6-4.5 -1.7-2.5 -1.6-1.7 -1.7-1.1 -1.6-.8 -1.7-.7 -1.6-.4 -1.2 80.4" stroke="#8c564b"/>
<path d="M61.8 143.3l1.2-22.2 1.1 9.9 1.2-12.8 1.1 2.4 1.2-4.4 1.2-2.9 1.1 14.7 1.2-7.2 1.1 10.1 1.2-7.4 1.1-13.6 1.2 4.6 1.2-5.6 1.1 .7 1.2 17.6 1.1-12 1.2 6.1 1.1-2.4 1.2 24 1.1-33.7 1.2 6 1.2 4.1 1.1 14.7 1.2-11.8 1.1-1.6 1.2-5.6 1.1-6.1 1.2 20 1.2-7.8 1.1-12.2 1.2 .4 1.1 17.6 1.2-16.6 1.1 4.5 1.2-1.3 1.2-4.5 1.1 8.5 1.2-3.4 1.1-3.8 1.2 30.3 1.1-31.4 1.2 13.9 1.1 1.6 1.2-15.6 1.2 16.3 1.1 1.3 1.2-15 1.1 2.1 1.2 3.8 1.1 3 1.2-11.7 1.2 2.9 1.1-2.8 1.2 13.9 1.1 3.9 1.2 9.8 1.1-18.3 1.2 1.9 1.1-10.7 1.2 22.1 1.2-19.1 1.1 1.2 1.2 20.7 1.1-16.1 1.2 4 1.1 4.5 1.2-13.3 1.2-4 1.1 12.4 1.2-.6 1.1-3.7 1.2-3.9 1.1 13.6 1.2-18.3 1.1 12.3 1.2 10.4 1.2-5.4 1.1-13.9 1.2 12.5 1.1-10.3 1.2 28.4 1.1-28.2 1.2 11 1.2-15.3 1.1 13.4 1.2-12.4 1.1 15.4 1.2-12.1 1.1 39 1.2 16.2 1.2-53.1 1.1-2.5 1.2-2.2 1.1-.8 1.2 7.2 1.1-9.3 1.2 3.4 1.1 11.8 1.2 3.4 1.2 4.1 1.1-2.8 1.2-18.9 1.1-1.4 1.2-.1 1.1 9.4 1.2-9.3 1.2 18.5 1.1-3.3 1.2-15.2 1.1 7.2 1.2 11.4 1.1-9.3 1.2 2.3 1.1 1.5 1.2-7.1 1.2 .9 1.1 4.9 1.2 24.3 1.1-36.2 1.2 22.9 1.1-4.9 1.2-17.9 1.2 18.4 1.1-13.7 1.2 8.5 1.1 10.6 1.2-23.9 1.1 18.3 1.2-6 1.2 15.5 1.1-14.6 1.2-3.8 1.1 6 1.2 2.9 1.1 5.2 1.2-9.9 1.1-13.3 1.2 13.5 1.2 13.2 1.1-13.1 1.2-13.5 1.1 .3 1.2 45.9 1.1-29.2 1.2 15.1 1.2-27.8 1.1-3.9 1.2 1.2 1.1 35.7 1.2-15.4 .8-122.5 3.3 0 3.3 0 3.3 0 3.3 0 3.3 0 3.3 0 3.3 0 3.3 0 3.3 0 3.3 0 3.3 0 3.4 0 3.3 0 3.3 0 3.3 0 3.3 0 3.3 0 3.3 0 3.3 0 3.3 0 3.3 0 3.3 0 3.3 0 3.3 0 3.3 0 3.3 0 3.3 0 3.3 0 3.3 0 2.5 0 -1.7 0 -1.6 0 -1.7 0 -1.6 0 -1.7 0 -1.6 0 -1.7 0 -1.6 0 -1.7 0 -1.6 0 -1.7 0 -1.6 0 -1.7 0 -1.6 0 -1.7 0 -1.6 0 -1.7 0 -1.6 0 -1.7 0 -1.6 0 -1.7 0 -1.6 0 -1.7 0 -1.6 0 -1.7 0 -1.7 0 -1.6 0 -1.7 0 -1.6 0 -1.7 0 -1.6 0 -1.7 0 -1.6 0 -1.7 0 -1.6 0 -1.7 0 -1.6 0 -1.7 0 -1.6 0 -1.7 0 -1.6 0 -1.7 0 -1.6 0 -1.7 0 -1.6 0 -1.7 .1 -1.6 0 -1.7 0 -1.6 0 -1.7 0 -1.7 0 -1.6 0 -1.7 0 -1.6 0 -1.7 0 -1.6 0 -1.7 0 -1.6 0 -1.7 0 -1.6 0 -1.7 0 -1.6 0 -1.7 .1 -1.6 0 -1.7 0 -1.6 0 -1.7 0 -1.6 0 -1.7 .1 -1.6 0 -1.7 0 -1.6 0 -1.7 .1 -1.6 0 -1.7 .1 -1.7 0 -1.6 .1 -1.7 .1 -1.6 .1 -1.7 .1 -1.6 .1 -1.7 .1 -1.6 .2 -1.7 .2 -1.6 .3 -1.7 .3 -1.6 .3 -1.7 .5 -1.6 .5 -1.7 .6 -1.6 .8 -1.7 .9 -1.6 1.2 -1.7 1.3 -1.6 1.8 -1.7 2.1 -1.6 2.8 -1.7 4.1 -1.6 6.9 -1.7 36.9 -1.7-36.7 -1.6-4.5 -1.7-2.5 -1.6-1.6 -1.7-1.1 -1.6-.8 -1.7-.6 -1.6-.4 -1.7-.4 -1.6 0 -1.7 3.1 -1.6 5.1 -1.7 6.4 -1.1 76.1" stroke="#e377c2"/>
<path d="M61.8 133.7l1.2-9.4 1.1-11.2 1.2 13.7 1.1-17.7 1.2 25.5 1.2-13.1 1.1 6.1 1.2-14.3 1.1 1.1 1.2-5.3 1.1 3.3 1.2 20.8 1.2-24.2 1.1 14.1 1.2-2.8 1.1-4 1.2 7.5 1.1 3.2 1.2-17.6 1.1 1.4 1.2-1.3 1.2 15.2 1.1-11.7 1.2-1.4 1.1 11.7 1.2 1.6 1.1-15.8 1.2 13.1 1.2 3.1 1.1-4.2 1.2-6.7 1.1 23 1.2-25.7 1.1 13.6 1.2 4.9 1.2-3.4 1.1-1.3 1.2-10.9 1.1 11.9 1.2-17.7 1.1 8.2 1.2-1.5 1.1-5.3 1.2 4.1 1.2 20 1.1-23.7 1.2 13.6 1.1 4.5 1.2 2.2 1.1-10.9 1.2-1.8 1.2 11.9 1.1-17.5 1.2 3.2 1.1-5.1 1.2 14.8 1.1 2.4 1.2-15.9 1.1-2.9 1.2 18.1 1.2-18 1.1 8 1.2-7.8 1.1 1.7 1.2 3.6 1.1-2.6 1.2 11.8 1.2 28.6 1.1-43.3 1.2 7 1.1 1.2 1.2-8.5 1.1 .5 1.2 20.8 1.1-2.2 1.2-5.7 1.2-13 1.1 19 1.2-13.7 1.1-5.5 1.2 16.5 1.1-8.9 1.2-.3 1.2 7.6 1.1-14 1.2 9.3 1.1 2.2 1.2-8.7 1.1-1.8 1.2 11.3 1.2-13.1 1.1 .3 1.2 12 1.1-12.5 1.2 1.4 1.1-1.4 1.2 29.4 1.1 4.6 1.2-33.3 1.2 35.6 1.1-26.1 1.2-10 1.1 17.3 1.2 25.4 1.1-29.7 1.2-12.6 1.2-.7 1.1 4 1.2-3.6 1.1 4.9 1.2 2.8 1.1-3.2 1.2-1.9 1.1 15.3 1.2-.1 1.2-18.2 1.1 5.1 1.2 7.3 1.1-1.6 1.2-1 1.1-9.2 1.2 14.6 1.2 3.5 1.1-13.6 1.2 8.1 1.1-6.9 1.2-5.6 1.1 2 1.2 2.5 1.2-4.4 1.1 17.6 1.2-16.1 1.1 14.6 1.2-1.3 1.1-15.4 1.2 5.2 1.1-3.6 1.2-1.7 1.2 3.3 1.1 9.7 1.2-2.5 1.1 12.2 1.2-17.9 1.1 8.9 1.2-11.2 1.2 2.5 1.1 19.7 1.2-9.8 .6-115.3 3.3 0 3.3 0 3.3 0 3.3 0 3.3 0 3.4 0 3.3 0 3.3 0 3.3 0 3.3 0 3.3 0 3.3 0 3.3 0 3.3 0 3.3 0 3.3 0 3.3 0 3.3 0 3.3 0 3.3 0 3.3 0 3.3 0 3.3 0 3.3 0 3.3 0 3.3 0 3.3 0 3.3 0 3.3 0 3.3 0 1.7 0 -1.7 0 -1.6 0 -1.7 0 -1.6 0 -1.7 0 -1.6 0 -1.7 0 -1.6 0 -1.7 0 -1.6 0 -1.7 0 -1.6 0 -1.7 0 -1.6 0 -1.7 0 -1.6 0 -1.7 0 -1.6 0 -1.7 0 -1.6 0 -1.7 0 -1.6 0 -1.7 0 -1.6 0 -1.7 0 -1.7 0 -1.6 0 -1.7 0 -1.6 0 -1.7 0 -1.6 0 -1.7 0 -1.6 .1 -1.7 0 -1.6 0 -1.7 0 -1.6 0 -1.7 0 -1.6 0 -1.7 0 -1.6 0 -1.7 0 -1.6 0 -1.7 0 -1.6 0 -1.7 0 -1.6 0 -1.7 0 -1.6 0 -1.7 0 -1.7 0 -1.6 0 -1.7 0 -1.6 0 -1.7 .1 -1.6 0 -1.7 0 -1.6 0 -1.7 0 -1.6 0 -1.7 0 -1.6 0 -1.7 .1 -1.6 0 -1.7 0 -1.6 0 -1.7 0 -1.6 .1 -1.7 0 -1.6 0 -1.7 .1 -1.6 0 -1.7 .1 -1.6 0 -1.7 .1 -1.7 .1 -1.6 .1 -1.7 .1 -1.6 .1 -1.7 .1 -1.6 .1 -1.7 .2 -1.6 .2 -1.7 .3 -1.6 .2 -1.7 .4 -1.6 .3 -1.7 .5 -1.6 .5 -1.7 .7 -1.6 .7 -1.7 .9 -1.6 1.1 -1.7 1.3 -1.6 1.6 -1.7 2 -1.6 2.6 -1.7 3.7 -1.6 6.5 -1.7 37.9 -1.7-32.7 -1.6-4.5 -1.7-2.5 -1.6-1.6 -1.7-1.1 -1.6-.8 -1.7-.7 -1.6-.4 -1.7-.4 -1.6 14.7 -1.2 75.7" stroke="#7f7f7f"/>
<path d="M61.8 141.7l1.2-14.9 1.1-5.7 1.2-12.1 1.1 16.2 1.2-15 1.2 .4 1.1-.2 1.2 16.5 1.1-17.9 1.2 34.2 1.1-13.8 1.2-7.3 1.2-3 1.1-10.3 1.2 16.2 1.1-15.9 1.2 6.4 1.1 36.9 1.2-15.6 1.1-2.7 1.2-24.9 1.2 .4 1.1 16.8 1.2-17.3 1.1 0 1.2 .1 1.1 .5 1.2 12.3 1.2 3.3 1.1-10.9 1.2-.5 1.1-4.6 1.2 17.5 1.1 9.7 1.2-10.3 1.2 9.7 1.1-26 1.2-.7 1.1 1.6 1.2 12 1.1-13.9 1.2 3.7 1.1 13.7 1.2 .3 1.2-17.1 1.1 8.4 1.2-2 1.1 17 1.2-4.9 1.1-10.7 1.2-7.8 1.2 .1 1.1 1.3 1.2 .5 1.1 3.8 1.2-5.8 1.1 36.4 1.2-7.9 1.1-19.5 1.2-7.2 1.2 12.8 1.1-1.1 1.2 2 1.1-15.3 1.2 1.6 1.1-2.2 1.2 .8 1.2 7.3 1.1-8.2 1.2 5.4 1.1-5.1 1.2 13.8 1.1-8.8 1.2-5.2 1.1 12.7 1.2-3.7 1.2-7.2 1.1 9.9 1.2 4.7 1.1-13.7 1.2-2.6 1.1 3.4 1.2-3.7 1.2 16.8 1.1-6.6 1.2 8.9 1.1-10.8 1.2-7.9 1.1-.3 1.2 18.2 1.2-13.5 1.1 16.2 1.2 40.2 1.1 0 1.2-52 1.1 11.1 1.2-1.9 1.1-12.5 1.2-5.9 1.2 16.8 1.1-2.4 1.2 .7 1.1-7.9 1.2-3.2 1.1 13.3 1.2-16.7 1.2-.1 1.1 24.6 1.2-11.4 1.1 6.4 1.2-13.5 1.1 12.7 1.2-5.3 1.1-13.9 1.2 4.8 1.2 21.9 1.1 1 1.2-4.5 1.1-5.6 1.2-17.4 1.1 23.5 1.2-23.3 1.2 2 1.1-2 1.2 13 1.1-5.8 1.2 9.2 1.1 12.7 1.2-22.2 1.2 .4 1.1-4.3 1.2-3.3 1.1 16.9 1.2-8.3 1.1 1.4 1.2-6 1.1 6.5 1.2-10.7 1.2 .7 1.1 .1 1.2 21 1.1-9.3 1-112.7 3.3 0 3.3 0 3.3 0 3.3 0 3.3 0 3.3 0 3.3 0 3.4 0 3.3 0 3.3 0 3.3 0 3.3 0 3.3 0 3.3 0 3.3 0 3.3 0 3.3 0 3.3 0 3.3 0 3.3 0 3.3 0 3.3 0 3.3 0 3.3 0 3.3 0 3.3 0 3.3 0 3.3 0 3.3 0 3.3 0 3.3 0 3.3 0 1.7 0 -1.7 0 -1.6 0 -1.7 0 -1.6 0 -1.7 0 -1.6 0 -1.7 0 -1.6 0 -1.7 0 -1.6 0 -1.7 0 -1.6 0 -1.7 .1 -1.6 0 -1.7 0 -1.6 0 -1.7 0 -1.6 0 -1.7 0 -1.6 0 -1.7 0 -1.6 0 -1.7 0 -1.6 0 -1.7 0 -1.7 0 -1.6 0 -1.7 0 -1.6 0 -1.7 0 -1.6 0 -1.7 0 -1.6 0 -1.7 0 -1.6 0 -1.7 0 -1.6 0 -1.7 0 -1.6 0 -1.7 0 -1.6 0 -1.7 0 -1.6 0 -1.7 .1 -1.6 0 -1.7 0 -1.6 0 -1.7 0 -1.6 0 -1.7 0 -1.7 0 -1.6 0 -1.7 0 -1.6 0 -1.7 .1 -1.6 0 -1.7 0 -1.6 0 -1.7 0 -1.6 0 -1.7 .1 -1.6 0 -1.7 0 -1.6 0 -1.7 .1 -1.6 0 -1.7 0 -1.6 .1 -1.7 0 -1.6 .1 -1.7 0 -1.6 .1 -1.7 .1 -1.6 0 -1.7 .1 -1.7 .1 -1.6 .1 -1.7 .1 -1.6 .2 -1.7 .1 -1.6 .2 -1.7 .2 -1.6 .2 -1.7 .3 -1.6 .3 -1.7 .3 -1.6 .4 -1.7 .4 -1.6 .6 -1.7 .6 -1.6 .7 -1.7 .8 -1.6 1 -1.7 1.2 -1.6 1.5 -1.7 1.8 -1.6 2.4 -1.7 3.4 -1.6 5.9 -1.7 41.5 -1.7-32 -1.6-4.5 -1.7-2.4 -1.6-1.6 -1.7-1 -1.6-.7 -1.7-.6 -1.6-.4 -1.7-.2 -1.6 2.6 -1.7 4.4 -1.1 74.4" stroke="#bcbd22"/>
<path d="M61.8 109.4l1.2 13.4 1.1-2.1 1.2-10.8 1.1 14.9 1.2 2.8 1.2-17.9 1.1 18.1 1.2-3.8 1.1-14.5 1.2 12 1.1 12.2 1.2-9 1.2-10.7 1.1 10.5 1.2-12.7 1.1 11.1 1.2 3.4 1.1-17.4 1.2 16.7 1.1-7.3 1.2 3.1 1.2-12.5 1.1 .2 1.2 1 1.1-1.1 1.2 27.6 1.1-27.4 1.2 15.3 1.2-8.4 1.1-6.6 1.2 11.8 1.1-12.3 1.2-.1 1.1 .1 1.2 36.8 1.2-36.4 1.1 13.1 1.2-4.4 1.1-.7 1.2-8.3 1.1-.3 1.2 12.2 1.1-11.5 1.2-.5 1.2 16.1 1.1-15.5 1.2-.4 1.1 .2 1.2 16.5 1.1 .1 1.2-15.1 1.2-2 1.1 .7 1.2 11.2 1.1-11.2 1.2 26.3 1.1-23.7 1.2 8.2 1.1-8.7 1.2 2.9 1.2 .9 1.1-5.9 1.2 17.3 1.1-4.3 1.2-13.8 1.1 20.7 1.2-14.5 1.2 7.8 1.1-4.7 1.2-8.8 1.1 30.1 1.2-29.7 1.1 6.6 1.2 .7 1.1-.2 1.2-1.5 1.2 6.2 1.1-4.6 1.2 2.3 1.1 5.6 1.2-4.7 1.1-.1 1.2 3.3 1.2-10 1.1-3.6 1.2-.4 1.1 36.2 1.2-36.4 1.1 16.6 1.2-11.2 1.2-4.9 1.1 35.8 1.2-20.5 1.1-16 1.2 34.5 1.1-34.1 1.2 31 1.1-18.6 1.2-12.2 1.2 19 1.1-18.2 1.2-1 1.1 2.4 1.2 11.6 1.1-.9 1.2-5.6 1.2 7.2 1.1-9.7 1.2-4.7 1.1-.1 1.2-.5 1.1 13 1.2 11 1.1-6.3 1.2-4.1 1.2-10.8 1.1 29.9 1.2-3.7 1.1-17.2 1.2-8.5 1.1 7.4 1.2 5 1.2-9.8 1.1 10 1.2-15.4 1.1 3 1.2-3.7 1.1 16.5 1.2-16.3 1.2 1 1.1 13.5 1.2-4 1.1-10.1 1.2 18.4 1.1-8.1 1.2-10.1 1.1 17.6 1.2-18.1 1.2 7.4 1.1 6.9 1.2 4.3 1.1-17 1.2 12.5 1.1-13.7 1.2-.2 1.2 10.9 1.1-5.8 1-105.8 3.3 0 3.3 0 3.3 0 3.3 0 3.3 0 3.3 0 3.3 0 3.3 0 3.3 0 3.3 0 3.3 0 3.3 0 3.4 0 3.3 0 3.3 0 3.3 0 3.3 0 3.3 0 3.3 0 3.3 0 3.3 0 3.3 0 3.3 0 3.3 0 3.3 0 3.3 0 3.3 0 3.3 0 3.3 0 3.3 0 2.5 0 -1.7 0 -1.6 0 -1.7 0 -1.6 0 -1.7 0 -1.6 0 -1.7 0 -1.6 0 -1.7 0 -1.6 .1 -1.7 0 -1.6 0 -1.7 0 -1.6 0 -1.7 0 -1.6 0 -1.7 0 -1.6 0 -1.7 0 -1.6 0 -1.7 0 -1.6 0 -1.7 0 -1.6 0 -1.7 0 -1.7 0 -1.6 0 -1.7 0 -1.6 0 -1.7 0 -1.6 0 -1.7 0 -1.6 0 -1.7 0 -1.6 0 -1.7 0 -1.6 0 -1.7 0 -1.6 0 -1.7 0 -1.6 0 -1.7 0 -1.6 0 -1.7 0 -1.6 0 -1.7 0 -1.6 0 -1.7 0 -1.6 .1 -1.7 0 -1.7 0 -1.6 0 -1.7 0 -1.6 0 -1.7 0 -1.6 0 -1.7 0 -1.6 0 -1.7 0 -1.6 0 -1.7 .1 -1.6 0 -1.7 0 -1.6 0 -1.7 0 -1.6 0 -1.7 .1 -1.6 0 -1.7 0 -1.6 0 -1.7 .1 -1.6 0 -1.7 0 -1.6 .1 -1.7 0 -1.7 0 -1.6 .1 -1.7 .1 -1.6 0 -1.7 .1 -1.6 .1 -1.7 .1 -1.6 .1 -1.7 .1 -1.6 .2 -1.7 .1 -1.6 .2 -1.7 .3 -1.6 .2 -1.7 .4 -1.6 .4 -1.7 .5 -1.6 .6 -1.7 .8 -1.6 1 -1.7 1.3 -1.6 1.7 -1.7 2.7 -1.6 4.6 -1.7 48.5 -1.7-24.1 -1.6-4.3 -1.7-2.3 -1.6-1.3 -1.7 29.1 -1.6-.9 -1.7-1.4 -1.6 2.5 -1.7-1.9 -1.6-.6 -1.7 .3 -1.6 .5 -1.7-.4 -1.1 42.2" stroke="#17becf"/>
<path d="M161.6 111.56 161.93 91.28 163.42 86.6 165.9 88.16 167.55 91.28 168.54 95.96 168.87 111.56" stroke="#1f77b4"/>
</g>
<rect x="48.4" y="1.4" width="299.9" height="155.7" fill="none" stroke="#a6a6a6" stroke-width="1.2"/>
<line x1="86.6" y1="157.1" x2="86.6" y2="158.7" stroke="#555" stroke-width="0.8"/>
<text x="86.6" y="167.8" font-size="10.5" text-anchor="middle" textLength="32.18" lengthAdjust="spacingAndGlyphs">−0.50</text>
<line x1="127.9" y1="157.1" x2="127.9" y2="158.7" stroke="#555" stroke-width="0.8"/>
<text x="127.9" y="167.8" font-size="10.5" text-anchor="middle" textLength="32.18" lengthAdjust="spacingAndGlyphs">−0.25</text>
<line x1="169.2" y1="157.1" x2="169.2" y2="158.7" stroke="#555" stroke-width="0.8"/>
<text x="169.2" y="167.8" font-size="10.5" text-anchor="middle" textLength="23.38" lengthAdjust="spacingAndGlyphs">0.00</text>
<line x1="210.5" y1="157.1" x2="210.5" y2="158.7" stroke="#555" stroke-width="0.8"/>
<text x="210.5" y="167.8" font-size="10.5" text-anchor="middle" textLength="23.38" lengthAdjust="spacingAndGlyphs">0.25</text>
<line x1="251.8" y1="157.1" x2="251.8" y2="158.7" stroke="#555" stroke-width="0.8"/>
<text x="251.8" y="167.8" font-size="10.5" text-anchor="middle" textLength="23.38" lengthAdjust="spacingAndGlyphs">0.50</text>
<line x1="293.1" y1="157.1" x2="293.1" y2="158.7" stroke="#555" stroke-width="0.8"/>
<text x="293.1" y="167.8" font-size="10.5" text-anchor="middle" textLength="23.38" lengthAdjust="spacingAndGlyphs">0.75</text>
<line x1="334.4" y1="157.1" x2="334.4" y2="158.7" stroke="#555" stroke-width="0.8"/>
<text x="334.4" y="167.8" font-size="10.5" text-anchor="middle" textLength="23.38" lengthAdjust="spacingAndGlyphs">1.00</text>
<line x1="46.8" y1="8.6" x2="48.4" y2="8.6" stroke="#555" stroke-width="0.8"/>
<text x="46.2" y="8.7" font-size="7.6" text-anchor="end" textLength="10.32" lengthAdjust="spacingAndGlyphs">−4</text>
<text x="35.48" y="12.9" font-size="10.8" text-anchor="end" textLength="12.72" lengthAdjust="spacingAndGlyphs">10</text>
<line x1="46.8" y1="39.8" x2="48.4" y2="39.8" stroke="#555" stroke-width="0.8"/>
<text x="46.2" y="39.9" font-size="7.6" text-anchor="end" textLength="10.32" lengthAdjust="spacingAndGlyphs">−6</text>
<text x="35.48" y="44.1" font-size="10.8" text-anchor="end" textLength="12.72" lengthAdjust="spacingAndGlyphs">10</text>
<line x1="46.8" y1="71" x2="48.4" y2="71" stroke="#555" stroke-width="0.8"/>
<text x="46.2" y="71.1" font-size="7.6" text-anchor="end" textLength="10.32" lengthAdjust="spacingAndGlyphs">−8</text>
<text x="35.48" y="75.3" font-size="10.8" text-anchor="end" textLength="12.72" lengthAdjust="spacingAndGlyphs">10</text>
<line x1="46.8" y1="102.2" x2="48.4" y2="102.2" stroke="#555" stroke-width="0.8"/>
<text x="46.2" y="102.3" font-size="7.6" text-anchor="end" textLength="14.77" lengthAdjust="spacingAndGlyphs">−10</text>
<text x="31.03" y="106.5" font-size="10.8" text-anchor="end" textLength="12.72" lengthAdjust="spacingAndGlyphs">10</text>
<line x1="46.8" y1="133.4" x2="48.4" y2="133.4" stroke="#555" stroke-width="0.8"/>
<text x="46.2" y="133.5" font-size="7.6" text-anchor="end" textLength="14.77" lengthAdjust="spacingAndGlyphs">−12</text>
<text x="31.03" y="137.7" font-size="10.8" text-anchor="end" textLength="12.72" lengthAdjust="spacingAndGlyphs">10</text>
<text x="198.3" y="181.9" font-size="14.3" text-anchor="middle" textLength="79.12" lengthAdjust="spacingAndGlyphs">Voltage (V)</text>
<text x="12.8" y="78" font-size="14.3" text-anchor="middle" textLength="79.20" lengthAdjust="spacingAndGlyphs" transform="rotate(-90 12.8 78)">Current (A)</text>
<text x="343.6" y="152.6" font-size="13" text-anchor="end">a</text>
<g clip-path="url(#cb)">
<rect x="435.4" y="13.21" width="4.2" height="4.2" fill="#1f77b4"/>
<rect x="445.14" y="38.91" width="4.2" height="4.2" fill="#1f77b4"/>
<rect x="454.88" y="15.79" width="4.2" height="4.2" fill="#1f77b4"/>
<rect x="464.62" y="35.06" width="4.2" height="4.2" fill="#1f77b4"/>
<rect x="474.36" y="31.21" width="4.2" height="4.2" fill="#1f77b4"/>
<rect x="484.1" y="14.5" width="4.2" height="4.2" fill="#1f77b4"/>
<rect x="493.84" y="20.93" width="4.2" height="4.2" fill="#1f77b4"/>
<rect x="503.58" y="24.78" width="4.2" height="4.2" fill="#1f77b4"/>
<rect x="513.32" y="35.06" width="4.2" height="4.2" fill="#1f77b4"/>
<rect x="523.06" y="24.78" width="4.2" height="4.2" fill="#1f77b4"/>
<rect x="532.8" y="22.21" width="4.2" height="4.2" fill="#1f77b4"/>
<rect x="542.54" y="24.78" width="4.2" height="4.2" fill="#1f77b4"/>
<rect x="552.28" y="18.35" width="4.2" height="4.2" fill="#1f77b4"/>
<rect x="562.02" y="19.64" width="4.2" height="4.2" fill="#1f77b4"/>
<rect x="571.76" y="11.93" width="4.2" height="4.2" fill="#1f77b4"/>
<rect x="581.5" y="11.93" width="4.2" height="4.2" fill="#1f77b4"/>
<rect x="591.24" y="14.5" width="4.2" height="4.2" fill="#1f77b4"/>
<rect x="600.98" y="17.07" width="4.2" height="4.2" fill="#1f77b4"/>
<rect x="610.72" y="19.64" width="4.2" height="4.2" fill="#1f77b4"/>
<rect x="620.46" y="18.35" width="4.2" height="4.2" fill="#1f77b4"/>
<rect x="630.2" y="6.79" width="4.2" height="4.2" fill="#1f77b4"/>
<rect x="639.94" y="14.5" width="4.2" height="4.2" fill="#1f77b4"/>
<rect x="649.68" y="27.35" width="4.2" height="4.2" fill="#1f77b4"/>
<rect x="659.42" y="26.07" width="4.2" height="4.2" fill="#1f77b4"/>
<rect x="669.16" y="24.78" width="4.2" height="4.2" fill="#1f77b4"/>
<rect x="678.9" y="11.93" width="4.2" height="4.2" fill="#1f77b4"/>
<rect x="688.64" y="26.07" width="4.2" height="4.2" fill="#1f77b4"/>
<rect x="698.38" y="20.93" width="4.2" height="4.2" fill="#1f77b4"/>
<rect x="708.12" y="23.5" width="4.2" height="4.2" fill="#1f77b4"/>
<rect x="435.4" y="139.15" width="4.2" height="4.2" fill="#ff7f0e"/>
<rect x="445.14" y="137.86" width="4.2" height="4.2" fill="#ff7f0e"/>
<rect x="454.88" y="136.58" width="4.2" height="4.2" fill="#ff7f0e"/>
<rect x="464.62" y="139.15" width="4.2" height="4.2" fill="#ff7f0e"/>
<rect x="474.36" y="123.73" width="4.2" height="4.2" fill="#ff7f0e"/>
<rect x="484.1" y="145.57" width="4.2" height="4.2" fill="#ff7f0e"/>
<rect x="493.84" y="132.72" width="4.2" height="4.2" fill="#ff7f0e"/>
<rect x="503.58" y="136.58" width="4.2" height="4.2" fill="#ff7f0e"/>
<rect x="513.32" y="125.01" width="4.2" height="4.2" fill="#ff7f0e"/>
<rect x="523.06" y="122.44" width="4.2" height="4.2" fill="#ff7f0e"/>
<rect x="532.8" y="148.14" width="4.2" height="4.2" fill="#ff7f0e"/>
<rect x="542.54" y="141.72" width="4.2" height="4.2" fill="#ff7f0e"/>
<rect x="552.28" y="140.43" width="4.2" height="4.2" fill="#ff7f0e"/>
<rect x="562.02" y="128.87" width="4.2" height="4.2" fill="#ff7f0e"/>
<rect x="571.76" y="128.87" width="4.2" height="4.2" fill="#ff7f0e"/>
<rect x="581.5" y="119.87" width="4.2" height="4.2" fill="#ff7f0e"/>
<rect x="591.24" y="127.58" width="4.2" height="4.2" fill="#ff7f0e"/>
<rect x="600.98" y="131.44" width="4.2" height="4.2" fill="#ff7f0e"/>
<rect x="610.72" y="121.16" width="4.2" height="4.2" fill="#ff7f0e"/>
<rect x="620.46" y="130.15" width="4.2" height="4.2" fill="#ff7f0e"/>
<rect x="630.2" y="130.15" width="4.2" height="4.2" fill="#ff7f0e"/>
<rect x="639.94" y="145.57" width="4.2" height="4.2" fill="#ff7f0e"/>
<rect x="649.68" y="136.58" width="4.2" height="4.2" fill="#ff7f0e"/>
<rect x="659.42" y="132.72" width="4.2" height="4.2" fill="#ff7f0e"/>
<rect x="669.16" y="139.15" width="4.2" height="4.2" fill="#ff7f0e"/>
<rect x="678.9" y="141.72" width="4.2" height="4.2" fill="#ff7f0e"/>
<rect x="688.64" y="146.86" width="4.2" height="4.2" fill="#ff7f0e"/>
<rect x="698.38" y="131.44" width="4.2" height="4.2" fill="#ff7f0e"/>
<rect x="708.12" y="139.15" width="4.2" height="4.2" fill="#ff7f0e"/>
</g>
<rect x="423.6" y="1.3" width="300.2" height="155.9" fill="none" stroke="#a6a6a6" stroke-width="1.2"/>
<line x1="422" y1="16.6" x2="423.6" y2="16.6" stroke="#555" stroke-width="0.8"/>
<text x="420.5" y="20.3" font-size="10.5" text-anchor="end" textLength="16.70" lengthAdjust="spacingAndGlyphs">0.4</text>
<line x1="422" y1="42.3" x2="423.6" y2="42.3" stroke="#555" stroke-width="0.8"/>
<text x="420.5" y="46" font-size="10.5" text-anchor="end" textLength="16.70" lengthAdjust="spacingAndGlyphs">0.3</text>
<line x1="422" y1="68" x2="423.6" y2="68" stroke="#555" stroke-width="0.8"/>
<text x="420.5" y="71.7" font-size="10.5" text-anchor="end" textLength="16.70" lengthAdjust="spacingAndGlyphs">0.2</text>
<line x1="422" y1="93.7" x2="423.6" y2="93.7" stroke="#555" stroke-width="0.8"/>
<text x="420.5" y="97.4" font-size="10.5" text-anchor="end" textLength="16.70" lengthAdjust="spacingAndGlyphs">0.1</text>
<line x1="422" y1="119.4" x2="423.6" y2="119.4" stroke="#555" stroke-width="0.8"/>
<text x="420.5" y="123.1" font-size="10.5" text-anchor="end" textLength="16.70" lengthAdjust="spacingAndGlyphs">0.0</text>
<line x1="422" y1="145.1" x2="423.6" y2="145.1" stroke="#555" stroke-width="0.8"/>
<text x="420.5" y="148.8" font-size="10.5" text-anchor="end" textLength="25.50" lengthAdjust="spacingAndGlyphs">−0.1</text>
<line x1="466.72" y1="157.2" x2="466.72" y2="158.8" stroke="#555" stroke-width="0.8"/>
<text x="466.72" y="168.1" font-size="10.5" text-anchor="middle" textLength="6.68" lengthAdjust="spacingAndGlyphs">5</text>
<line x1="515.42" y1="157.2" x2="515.42" y2="158.8" stroke="#555" stroke-width="0.8"/>
<text x="515.42" y="168.1" font-size="10.5" text-anchor="middle" textLength="13.36" lengthAdjust="spacingAndGlyphs">10</text>
<line x1="564.12" y1="157.2" x2="564.12" y2="158.8" stroke="#555" stroke-width="0.8"/>
<text x="564.12" y="168.1" font-size="10.5" text-anchor="middle" textLength="13.36" lengthAdjust="spacingAndGlyphs">15</text>
<line x1="612.82" y1="157.2" x2="612.82" y2="158.8" stroke="#555" stroke-width="0.8"/>
<text x="612.82" y="168.1" font-size="10.5" text-anchor="middle" textLength="13.36" lengthAdjust="spacingAndGlyphs">20</text>
<line x1="661.52" y1="157.2" x2="661.52" y2="158.8" stroke="#555" stroke-width="0.8"/>
<text x="661.52" y="168.1" font-size="10.5" text-anchor="middle" textLength="13.36" lengthAdjust="spacingAndGlyphs">25</text>
<line x1="710.22" y1="157.2" x2="710.22" y2="158.8" stroke="#555" stroke-width="0.8"/>
<text x="710.22" y="168.1" font-size="10.5" text-anchor="middle" textLength="13.36" lengthAdjust="spacingAndGlyphs">30</text>
<text x="573.8" y="182.2" font-size="14.3" text-anchor="middle" textLength="39.08" lengthAdjust="spacingAndGlyphs">Cycle</text>
<text x="390.6" y="79.9" font-size="14.3" text-anchor="middle" textLength="151.92" lengthAdjust="spacingAndGlyphs" transform="rotate(-90 390.6 79.9)">Set/Reset Voltage (V)</text>
<text x="716.5" y="152.5" font-size="13" text-anchor="end">b</text>
<g clip-path="url(#cc)">
<line x1="60.3" y1="213.2" x2="60.3" y2="219.4" stroke="#505050" stroke-width="0.95"/>
<line x1="60.3" y1="226.4" x2="60.3" y2="229.1" stroke="#505050" stroke-width="0.95"/>
<line x1="55.7" y1="213.2" x2="64.9" y2="213.2" stroke="#6e6e6e" stroke-width="0.95"/>
<line x1="55.7" y1="229.1" x2="64.9" y2="229.1" stroke="#6e6e6e" stroke-width="0.95"/>
<rect x="51.1" y="219.4" width="18.4" height="7" fill="#f77189" fill-opacity="0.85" stroke="#505050" stroke-width="0.95"/>
<line x1="51.1" y1="224.2" x2="69.5" y2="224.2" stroke="#505050" stroke-width="0.95"/>
<line x1="60.3" y1="293.4" x2="60.3" y2="297.2" stroke="#505050" stroke-width="0.95"/>
<line x1="60.3" y1="304.5" x2="60.3" y2="308.3" stroke="#505050" stroke-width="0.95"/>
<line x1="55.7" y1="293.4" x2="64.9" y2="293.4" stroke="#6e6e6e" stroke-width="0.95"/>
<line x1="55.7" y1="308.3" x2="64.9" y2="308.3" stroke="#6e6e6e" stroke-width="0.95"/>
<rect x="51.1" y="297.2" width="18.4" height="7.3" fill="#f77189" fill-opacity="0.85" stroke="#505050" stroke-width="0.95"/>
<line x1="51.1" y1="299.7" x2="69.5" y2="299.7" stroke="#505050" stroke-width="0.95"/>
<line x1="83.33" y1="217.8" x2="83.33" y2="224.2" stroke="#505050" stroke-width="0.95"/>
<line x1="83.33" y1="229.8" x2="83.33" y2="236.4" stroke="#505050" stroke-width="0.95"/>
<line x1="78.73" y1="217.8" x2="87.93" y2="217.8" stroke="#6e6e6e" stroke-width="0.95"/>
<line x1="78.73" y1="236.4" x2="87.93" y2="236.4" stroke="#6e6e6e" stroke-width="0.95"/>
<rect x="74.13" y="224.2" width="18.4" height="5.6" fill="#eb8032" fill-opacity="0.85" stroke="#505050" stroke-width="0.95"/>
<line x1="74.13" y1="226.4" x2="92.53" y2="226.4" stroke="#505050" stroke-width="0.95"/>
<line x1="83.33" y1="294.1" x2="83.33" y2="298.9" stroke="#505050" stroke-width="0.95"/>
<line x1="83.33" y1="308.3" x2="83.33" y2="316.5" stroke="#505050" stroke-width="0.95"/>
<line x1="78.73" y1="294.1" x2="87.93" y2="294.1" stroke="#6e6e6e" stroke-width="0.95"/>
<line x1="78.73" y1="316.5" x2="87.93" y2="316.5" stroke="#6e6e6e" stroke-width="0.95"/>
<rect x="74.13" y="298.9" width="18.4" height="9.4" fill="#eb8032" fill-opacity="0.85" stroke="#505050" stroke-width="0.95"/>
<line x1="74.13" y1="302.3" x2="92.53" y2="302.3" stroke="#505050" stroke-width="0.95"/>
<line x1="106.36" y1="219.6" x2="106.36" y2="223.3" stroke="#505050" stroke-width="0.95"/>
<line x1="106.36" y1="227.3" x2="106.36" y2="232.5" stroke="#505050" stroke-width="0.95"/>
<line x1="101.76" y1="219.6" x2="110.96" y2="219.6" stroke="#6e6e6e" stroke-width="0.95"/>
<line x1="101.76" y1="232.5" x2="110.96" y2="232.5" stroke="#6e6e6e" stroke-width="0.95"/>
<rect x="97.16" y="223.3" width="18.4" height="4" fill="#c19632" fill-opacity="0.85" stroke="#505050" stroke-width="0.95"/>
<line x1="97.16" y1="225.1" x2="115.56" y2="225.1" stroke="#505050" stroke-width="0.95"/>
<line x1="106.36" y1="294.1" x2="106.36" y2="297.2" stroke="#505050" stroke-width="0.95"/>
<line x1="106.36" y1="303.8" x2="106.36" y2="309.9" stroke="#505050" stroke-width="0.95"/>
<line x1="101.76" y1="294.1" x2="110.96" y2="294.1" stroke="#6e6e6e" stroke-width="0.95"/>
<line x1="101.76" y1="309.9" x2="110.96" y2="309.9" stroke="#6e6e6e" stroke-width="0.95"/>
<rect x="97.16" y="297.2" width="18.4" height="6.6" fill="#c19632" fill-opacity="0.85" stroke="#505050" stroke-width="0.95"/>
<line x1="97.16" y1="300.3" x2="115.56" y2="300.3" stroke="#505050" stroke-width="0.95"/>
<line x1="129.39" y1="215.3" x2="129.39" y2="220.9" stroke="#505050" stroke-width="0.95"/>
<line x1="129.39" y1="225.3" x2="129.39" y2="227.4" stroke="#505050" stroke-width="0.95"/>
<line x1="124.79" y1="215.3" x2="133.99" y2="215.3" stroke="#6e6e6e" stroke-width="0.95"/>
<line x1="124.79" y1="227.4" x2="133.99" y2="227.4" stroke="#6e6e6e" stroke-width="0.95"/>
<rect x="120.19" y="220.9" width="18.4" height="4.4" fill="#a0a131" fill-opacity="0.85" stroke="#505050" stroke-width="0.95"/>
<line x1="120.19" y1="223.3" x2="138.59" y2="223.3" stroke="#505050" stroke-width="0.95"/>
<line x1="129.39" y1="293.4" x2="129.39" y2="301.1" stroke="#505050" stroke-width="0.95"/>
<line x1="129.39" y1="311.4" x2="129.39" y2="316.5" stroke="#505050" stroke-width="0.95"/>
<line x1="124.79" y1="293.4" x2="133.99" y2="293.4" stroke="#6e6e6e" stroke-width="0.95"/>
<line x1="124.79" y1="316.5" x2="133.99" y2="316.5" stroke="#6e6e6e" stroke-width="0.95"/>
<rect x="120.19" y="301.1" width="18.4" height="10.3" fill="#a0a131" fill-opacity="0.85" stroke="#505050" stroke-width="0.95"/>
<line x1="120.19" y1="307" x2="138.59" y2="307" stroke="#505050" stroke-width="0.95"/>
<line x1="152.42" y1="206.6" x2="152.42" y2="211.3" stroke="#505050" stroke-width="0.95"/>
<line x1="152.42" y1="222.6" x2="152.42" y2="232.5" stroke="#505050" stroke-width="0.95"/>
<line x1="147.82" y1="206.6" x2="157.02" y2="206.6" stroke="#6e6e6e" stroke-width="0.95"/>
<line x1="147.82" y1="232.5" x2="157.02" y2="232.5" stroke="#6e6e6e" stroke-width="0.95"/>
<rect x="143.22" y="211.3" width="18.4" height="11.3" fill="#71ac31" fill-opacity="0.85" stroke="#505050" stroke-width="0.95"/>
<line x1="143.22" y1="219.6" x2="161.62" y2="219.6" stroke="#505050" stroke-width="0.95"/>
<line x1="152.42" y1="298.3" x2="152.42" y2="304.5" stroke="#505050" stroke-width="0.95"/>
<line x1="152.42" y1="309.9" x2="152.42" y2="316.5" stroke="#505050" stroke-width="0.95"/>
<line x1="147.82" y1="298.3" x2="157.02" y2="298.3" stroke="#6e6e6e" stroke-width="0.95"/>
<line x1="147.82" y1="316.5" x2="157.02" y2="316.5" stroke="#6e6e6e" stroke-width="0.95"/>
<rect x="143.22" y="304.5" width="18.4" height="5.4" fill="#71ac31" fill-opacity="0.85" stroke="#505050" stroke-width="0.95"/>
<line x1="143.22" y1="307.3" x2="161.62" y2="307.3" stroke="#505050" stroke-width="0.95"/>
<line x1="175.45" y1="209.3" x2="175.45" y2="221.2" stroke="#505050" stroke-width="0.95"/>
<line x1="175.45" y1="232" x2="175.45" y2="238.4" stroke="#505050" stroke-width="0.95"/>
<line x1="170.85" y1="209.3" x2="180.05" y2="209.3" stroke="#6e6e6e" stroke-width="0.95"/>
<line x1="170.85" y1="238.4" x2="180.05" y2="238.4" stroke="#6e6e6e" stroke-width="0.95"/>
<rect x="166.25" y="221.2" width="18.4" height="10.8" fill="#33b16f" fill-opacity="0.85" stroke="#505050" stroke-width="0.95"/>
<line x1="166.25" y1="226.4" x2="184.65" y2="226.4" stroke="#505050" stroke-width="0.95"/>
<line x1="175.45" y1="293.4" x2="175.45" y2="299.6" stroke="#505050" stroke-width="0.95"/>
<line x1="175.45" y1="305.6" x2="175.45" y2="306.2" stroke="#505050" stroke-width="0.95"/>
<line x1="170.85" y1="293.4" x2="180.05" y2="293.4" stroke="#6e6e6e" stroke-width="0.95"/>
<line x1="170.85" y1="306.2" x2="180.05" y2="306.2" stroke="#6e6e6e" stroke-width="0.95"/>
<rect x="166.25" y="299.6" width="18.4" height="6" fill="#33b16f" fill-opacity="0.85" stroke="#505050" stroke-width="0.95"/>
<line x1="166.25" y1="301.8" x2="184.65" y2="301.8" stroke="#505050" stroke-width="0.95"/>
<line x1="198.48" y1="216.8" x2="198.48" y2="220.7" stroke="#505050" stroke-width="0.95"/>
<line x1="198.48" y1="225.1" x2="198.48" y2="230.9" stroke="#505050" stroke-width="0.95"/>
<line x1="193.88" y1="216.8" x2="203.08" y2="216.8" stroke="#6e6e6e" stroke-width="0.95"/>
<line x1="193.88" y1="230.9" x2="203.08" y2="230.9" stroke="#6e6e6e" stroke-width="0.95"/>
<rect x="189.28" y="220.7" width="18.4" height="4.4" fill="#35ae97" fill-opacity="0.85" stroke="#505050" stroke-width="0.95"/>
<line x1="189.28" y1="222.6" x2="207.68" y2="222.6" stroke="#505050" stroke-width="0.95"/>
<line x1="198.48" y1="293.4" x2="198.48" y2="297.2" stroke="#505050" stroke-width="0.95"/>
<line x1="198.48" y1="303.4" x2="198.48" y2="306.5" stroke="#505050" stroke-width="0.95"/>
<line x1="193.88" y1="293.4" x2="203.08" y2="293.4" stroke="#6e6e6e" stroke-width="0.95"/>
<line x1="193.88" y1="306.5" x2="203.08" y2="306.5" stroke="#6e6e6e" stroke-width="0.95"/>
<rect x="189.28" y="297.2" width="18.4" height="6.2" fill="#35ae97" fill-opacity="0.85" stroke="#505050" stroke-width="0.95"/>
<line x1="189.28" y1="300.3" x2="207.68" y2="300.3" stroke="#505050" stroke-width="0.95"/>
<line x1="221.51" y1="213.2" x2="221.51" y2="220.7" stroke="#505050" stroke-width="0.95"/>
<line x1="221.51" y1="227.3" x2="221.51" y2="233.6" stroke="#505050" stroke-width="0.95"/>
<line x1="216.91" y1="213.2" x2="226.11" y2="213.2" stroke="#6e6e6e" stroke-width="0.95"/>
<line x1="216.91" y1="233.6" x2="226.11" y2="233.6" stroke="#6e6e6e" stroke-width="0.95"/>
<rect x="212.31" y="220.7" width="18.4" height="6.6" fill="#36abb0" fill-opacity="0.85" stroke="#505050" stroke-width="0.95"/>
<line x1="212.31" y1="222.6" x2="230.71" y2="222.6" stroke="#505050" stroke-width="0.95"/>
<line x1="221.51" y1="294.2" x2="221.51" y2="302.5" stroke="#505050" stroke-width="0.95"/>
<line x1="221.51" y1="308.3" x2="221.51" y2="314.4" stroke="#505050" stroke-width="0.95"/>
<line x1="216.91" y1="294.2" x2="226.11" y2="294.2" stroke="#6e6e6e" stroke-width="0.95"/>
<line x1="216.91" y1="314.4" x2="226.11" y2="314.4" stroke="#6e6e6e" stroke-width="0.95"/>
<rect x="212.31" y="302.5" width="18.4" height="5.8" fill="#36abb0" fill-opacity="0.85" stroke="#505050" stroke-width="0.95"/>
<line x1="212.31" y1="305.2" x2="230.71" y2="305.2" stroke="#505050" stroke-width="0.95"/>
<line x1="244.54" y1="208.6" x2="244.54" y2="215.5" stroke="#505050" stroke-width="0.95"/>
<line x1="244.54" y1="226.8" x2="244.54" y2="234.7" stroke="#505050" stroke-width="0.95"/>
<line x1="239.94" y1="208.6" x2="249.14" y2="208.6" stroke="#6e6e6e" stroke-width="0.95"/>
<line x1="239.94" y1="234.7" x2="249.14" y2="234.7" stroke="#6e6e6e" stroke-width="0.95"/>
<rect x="235.34" y="215.5" width="18.4" height="11.3" fill="#39a8cc" fill-opacity="0.85" stroke="#505050" stroke-width="0.95"/>
<line x1="235.34" y1="219.5" x2="253.74" y2="219.5" stroke="#505050" stroke-width="0.95"/>
<line x1="244.54" y1="293.2" x2="244.54" y2="301" stroke="#505050" stroke-width="0.95"/>
<line x1="244.54" y1="306.8" x2="244.54" y2="311.8" stroke="#505050" stroke-width="0.95"/>
<line x1="239.94" y1="293.2" x2="249.14" y2="293.2" stroke="#6e6e6e" stroke-width="0.95"/>
<line x1="239.94" y1="311.8" x2="249.14" y2="311.8" stroke="#6e6e6e" stroke-width="0.95"/>
<rect x="235.34" y="301" width="18.4" height="5.8" fill="#39a8cc" fill-opacity="0.85" stroke="#505050" stroke-width="0.95"/>
<line x1="235.34" y1="303.7" x2="253.74" y2="303.7" stroke="#505050" stroke-width="0.95"/>
<line x1="267.57" y1="212.2" x2="267.57" y2="218.2" stroke="#505050" stroke-width="0.95"/>
<line x1="267.57" y1="225.5" x2="267.57" y2="235.4" stroke="#505050" stroke-width="0.95"/>
<line x1="262.97" y1="212.2" x2="272.17" y2="212.2" stroke="#6e6e6e" stroke-width="0.95"/>
<line x1="262.97" y1="235.4" x2="272.17" y2="235.4" stroke="#6e6e6e" stroke-width="0.95"/>
<rect x="258.37" y="218.2" width="18.4" height="7.3" fill="#639df4" fill-opacity="0.85" stroke="#505050" stroke-width="0.95"/>
<line x1="258.37" y1="222" x2="276.77" y2="222" stroke="#505050" stroke-width="0.95"/>
<line x1="267.57" y1="294.4" x2="267.57" y2="300.7" stroke="#505050" stroke-width="0.95"/>
<line x1="267.57" y1="308.1" x2="267.57" y2="314.4" stroke="#505050" stroke-width="0.95"/>
<line x1="262.97" y1="294.4" x2="272.17" y2="294.4" stroke="#6e6e6e" stroke-width="0.95"/>
<line x1="262.97" y1="314.4" x2="272.17" y2="314.4" stroke="#6e6e6e" stroke-width="0.95"/>
<rect x="258.37" y="300.7" width="18.4" height="7.4" fill="#639df4" fill-opacity="0.85" stroke="#505050" stroke-width="0.95"/>
<line x1="258.37" y1="304.8" x2="276.77" y2="304.8" stroke="#505050" stroke-width="0.95"/>
<line x1="290.6" y1="212.2" x2="290.6" y2="218.2" stroke="#505050" stroke-width="0.95"/>
<line x1="290.6" y1="226.1" x2="290.6" y2="231.8" stroke="#505050" stroke-width="0.95"/>
<line x1="286" y1="212.2" x2="295.2" y2="212.2" stroke="#6e6e6e" stroke-width="0.95"/>
<line x1="286" y1="231.8" x2="295.2" y2="231.8" stroke="#6e6e6e" stroke-width="0.95"/>
<rect x="281.4" y="218.2" width="18.4" height="7.9" fill="#b486f4" fill-opacity="0.85" stroke="#505050" stroke-width="0.95"/>
<line x1="281.4" y1="220.7" x2="299.8" y2="220.7" stroke="#505050" stroke-width="0.95"/>
<line x1="290.6" y1="295.2" x2="290.6" y2="300.4" stroke="#505050" stroke-width="0.95"/>
<line x1="290.6" y1="306.5" x2="290.6" y2="313.6" stroke="#505050" stroke-width="0.95"/>
<line x1="286" y1="295.2" x2="295.2" y2="295.2" stroke="#6e6e6e" stroke-width="0.95"/>
<line x1="286" y1="313.6" x2="295.2" y2="313.6" stroke="#6e6e6e" stroke-width="0.95"/>
<rect x="281.4" y="300.4" width="18.4" height="6.1" fill="#b486f4" fill-opacity="0.85" stroke="#505050" stroke-width="0.95"/>
<line x1="281.4" y1="303.2" x2="299.8" y2="303.2" stroke="#505050" stroke-width="0.95"/>
<line x1="313.63" y1="213.2" x2="313.63" y2="219.8" stroke="#505050" stroke-width="0.95"/>
<line x1="313.63" y1="224.8" x2="313.63" y2="229.1" stroke="#505050" stroke-width="0.95"/>
<line x1="309.03" y1="213.2" x2="318.23" y2="213.2" stroke="#6e6e6e" stroke-width="0.95"/>
<line x1="309.03" y1="229.1" x2="318.23" y2="229.1" stroke="#6e6e6e" stroke-width="0.95"/>
<rect x="304.43" y="219.8" width="18.4" height="5" fill="#f35cf4" fill-opacity="0.85" stroke="#505050" stroke-width="0.95"/>
<line x1="304.43" y1="221.5" x2="322.83" y2="221.5" stroke="#505050" stroke-width="0.95"/>
<line x1="313.63" y1="293.2" x2="313.63" y2="300.7" stroke="#505050" stroke-width="0.95"/>
<line x1="313.63" y1="308.1" x2="313.63" y2="315.3" stroke="#505050" stroke-width="0.95"/>
<line x1="309.03" y1="293.2" x2="318.23" y2="293.2" stroke="#6e6e6e" stroke-width="0.95"/>
<line x1="309.03" y1="315.3" x2="318.23" y2="315.3" stroke="#6e6e6e" stroke-width="0.95"/>
<rect x="304.43" y="300.7" width="18.4" height="7.4" fill="#f35cf4" fill-opacity="0.85" stroke="#505050" stroke-width="0.95"/>
<line x1="304.43" y1="303.7" x2="322.83" y2="303.7" stroke="#505050" stroke-width="0.95"/>
<line x1="336.66" y1="207.4" x2="336.66" y2="211.9" stroke="#505050" stroke-width="0.95"/>
<line x1="336.66" y1="220.7" x2="336.66" y2="225.5" stroke="#505050" stroke-width="0.95"/>
<line x1="332.06" y1="207.4" x2="341.26" y2="207.4" stroke="#6e6e6e" stroke-width="0.95"/>
<line x1="332.06" y1="225.5" x2="341.26" y2="225.5" stroke="#6e6e6e" stroke-width="0.95"/>
<rect x="327.46" y="211.9" width="18.4" height="8.8" fill="#f668be" fill-opacity="0.85" stroke="#505050" stroke-width="0.95"/>
<line x1="327.46" y1="215.2" x2="345.86" y2="215.2" stroke="#505050" stroke-width="0.95"/>
<line x1="336.66" y1="294.4" x2="336.66" y2="299.9" stroke="#505050" stroke-width="0.95"/>
<line x1="336.66" y1="310.6" x2="336.66" y2="316.4" stroke="#505050" stroke-width="0.95"/>
<line x1="332.06" y1="294.4" x2="341.26" y2="294.4" stroke="#6e6e6e" stroke-width="0.95"/>
<line x1="332.06" y1="316.4" x2="341.26" y2="316.4" stroke="#6e6e6e" stroke-width="0.95"/>
<rect x="327.46" y="299.9" width="18.4" height="10.7" fill="#f668be" fill-opacity="0.85" stroke="#505050" stroke-width="0.95"/>
<line x1="327.46" y1="304.5" x2="345.86" y2="304.5" stroke="#505050" stroke-width="0.95"/>
<g stroke="#f77189" stroke-opacity="0.45" stroke-width="2.2" stroke-linecap="round" fill="none"><path d="M58.7 225.4h0M58.1 227.4h0M60.4 217.7h0M58.3 221.9h0M58.9 218.6h0M59.1 220.9h0"/><path d="M58.1 223.3h0M60.1 214.1h0M60.0 226.5h0M61.9 217.8h0M60.4 207.7h0"/></g>
<g stroke="#f77189" stroke-opacity="0.45" stroke-width="2.2" stroke-linecap="round" fill="none"><path d="M59.0 295.9h0M62.2 295.8h0M60.2 304.5h0M62.5 304.9h0M59.8 295.3h0M58.3 297.9h0"/><path d="M60.9 299.1h0M61.6 303.8h0M59.2 304.3h0M58.4 308.3h0"/></g>
<g stroke="#eb8032" stroke-opacity="0.45" stroke-width="2.2" stroke-linecap="round" fill="none"><path d="M84.7 229.7h0M82.4 234.6h0M85.1 224.4h0M82.0 226.0h0M82.8 225.4h0M85.0 227.0h0"/><path d="M84.0 219.7h0M81.5 219.6h0M85.6 227.1h0M82.0 229.7h0M82.2 207.7h0M84.6 215.0h0"/></g>
<g stroke="#eb8032" stroke-opacity="0.45" stroke-width="2.2" stroke-linecap="round" fill="none"><path d="M85.4 304.1h0M81.9 299.2h0M85.4 296.2h0M85.1 296.8h0M83.8 308.1h0M83.0 305.7h0"/><path d="M81.5 313.5h0M81.2 302.0h0M85.5 312.9h0M82.1 301.4h0"/></g>
<g stroke="#c19632" stroke-opacity="0.45" stroke-width="2.2" stroke-linecap="round" fill="none"><path d="M105.8 221.2h0M106.7 228.7h0M104.7 225.5h0M105.7 220.3h0M108.2 224.3h0M108.6 228.6h0"/><path d="M107.1 227.1h0M107.2 223.3h0M106.7 226.1h0M104.7 223.6h0M104.2 206.7h0M104.1 214.0h0"/></g>
<g stroke="#c19632" stroke-opacity="0.45" stroke-width="2.2" stroke-linecap="round" fill="none"><path d="M108.1 305.0h0M106.0 309.3h0M107.7 296.1h0M108.0 295.7h0M106.7 308.6h0M106.9 296.7h0"/><path d="M105.8 304.8h0M106.7 296.8h0M106.9 306.6h0M104.4 297.0h0"/></g>
<g stroke="#a0a131" stroke-opacity="0.45" stroke-width="2.2" stroke-linecap="round" fill="none"><path d="M127.1 220.9h0M128.5 225.7h0M130.2 224.8h0M128.0 218.7h0M127.9 226.9h0M131.3 227.1h0"/><path d="M130.1 218.9h0M129.1 222.6h0M131.2 224.5h0M128.6 226.5h0M130.2 205.8h0M128.0 232.5h0"/><path d="M129.1 232.5h0"/></g>
<g stroke="#a0a131" stroke-opacity="0.45" stroke-width="2.2" stroke-linecap="round" fill="none"><path d="M128.5 311.7h0M130.9 313.6h0M131.6 297.3h0M129.2 304.0h0M127.4 311.9h0M127.2 300.9h0"/><path d="M131.1 307.7h0M127.3 308.2h0M130.3 303.5h0M129.7 298.4h0"/></g>
<g stroke="#71ac31" stroke-opacity="0.45" stroke-width="2.2" stroke-linecap="round" fill="none"><path d="M150.2 222.0h0M152.3 212.4h0M153.4 219.7h0M150.9 228.3h0M151.4 211.7h0M151.7 209.5h0"/><path d="M153.3 210.2h0M152.5 222.8h0M152.9 208.4h0M153.6 220.1h0"/></g>
<g stroke="#71ac31" stroke-opacity="0.45" stroke-width="2.2" stroke-linecap="round" fill="none"><path d="M153.1 309.4h0M153.4 315.0h0M151.1 311.1h0M154.3 305.8h0M154.6 304.2h0M154.6 308.8h0"/><path d="M152.6 310.7h0M153.8 312.3h0M151.6 300.7h0M154.3 303.8h0M154.1 294.9h0M151.7 328.5h0"/></g>
<g stroke="#33b16f" stroke-opacity="0.45" stroke-width="2.2" stroke-linecap="round" fill="none"><path d="M177.5 223.5h0M173.5 219.5h0M174.2 226.6h0M175.6 237.2h0M174.5 236.2h0M176.5 230.8h0"/><path d="M176.1 222.0h0M175.6 219.1h0M177.0 233.3h0M175.7 234.2h0"/></g>
<g stroke="#33b16f" stroke-opacity="0.45" stroke-width="2.2" stroke-linecap="round" fill="none"><path d="M176.3 303.2h0M173.5 305.6h0M175.6 301.5h0M175.1 305.8h0M177.6 295.8h0M177.4 297.5h0"/><path d="M174.4 294.1h0M175.3 305.8h0M173.7 304.8h0M175.1 297.4h0M176.9 329.3h0M177.3 343.4h0"/></g>
<g stroke="#35ae97" stroke-opacity="0.45" stroke-width="2.2" stroke-linecap="round" fill="none"><path d="M198.6 223.4h0M198.2 221.9h0M197.9 229.2h0M198.1 230.3h0M198.6 221.1h0M196.9 218.8h0"/><path d="M197.1 224.1h0M199.1 222.1h0M199.1 221.7h0M198.6 223.1h0M200.1 208.5h0"/></g>
<g stroke="#35ae97" stroke-opacity="0.45" stroke-width="2.2" stroke-linecap="round" fill="none"><path d="M196.8 296.9h0M198.0 299.5h0M199.3 303.6h0M196.3 301.3h0M197.1 305.3h0M199.3 303.6h0"/><path d="M200.4 297.9h0M200.6 295.1h0M196.7 299.8h0M198.5 302.7h0"/></g>
<g stroke="#36abb0" stroke-opacity="0.45" stroke-width="2.2" stroke-linecap="round" fill="none"><path d="M222.7 229.4h0M220.7 216.0h0M221.4 220.9h0M221.6 221.7h0M221.2 218.5h0M222.0 221.1h0"/><path d="M219.3 222.3h0M222.4 227.6h0M223.1 220.8h0M220.0 229.6h0M221.3 201.9h0M222.6 209.3h0"/></g>
<g stroke="#36abb0" stroke-opacity="0.45" stroke-width="2.2" stroke-linecap="round" fill="none"><path d="M221.1 305.8h0M223.3 303.9h0M223.3 304.9h0M222.4 309.5h0M222.7 309.8h0M222.7 307.1h0"/><path d="M221.1 302.4h0M222.5 311.7h0M219.5 309.3h0M220.8 309.0h0"/></g>
<g stroke="#39a8cc" stroke-opacity="0.45" stroke-width="2.2" stroke-linecap="round" fill="none"><path d="M245.6 219.6h0M243.4 224.2h0M244.1 211.5h0M242.5 228.5h0M243.1 224.3h0M244.0 213.3h0"/><path d="M242.7 226.8h0M243.4 214.2h0M246.4 226.9h0M244.8 218.0h0"/></g>
<g stroke="#39a8cc" stroke-opacity="0.45" stroke-width="2.2" stroke-linecap="round" fill="none"><path d="M245.0 300.8h0M243.9 301.0h0M243.6 300.1h0M245.3 302.6h0M244.8 311.0h0M243.5 310.1h0"/><path d="M245.5 304.2h0M243.6 305.6h0M242.3 303.6h0M243.4 305.3h0M242.4 317.3h0"/></g>
<g stroke="#639df4" stroke-opacity="0.45" stroke-width="2.2" stroke-linecap="round" fill="none"><path d="M268.0 221.1h0M265.8 225.1h0M268.1 213.2h0M267.4 225.8h0M266.2 221.6h0M265.5 223.7h0"/><path d="M267.7 231.2h0M265.8 218.0h0M267.3 216.0h0M268.3 226.6h0"/></g>
<g stroke="#639df4" stroke-opacity="0.45" stroke-width="2.2" stroke-linecap="round" fill="none"><path d="M268.7 305.7h0M266.1 298.1h0M266.4 310.1h0M269.8 308.3h0M269.5 297.1h0M269.3 304.4h0"/><path d="M265.5 309.6h0M265.5 305.7h0M266.5 298.9h0M267.2 299.2h0"/></g>
<g stroke="#b486f4" stroke-opacity="0.45" stroke-width="2.2" stroke-linecap="round" fill="none"><path d="M290.3 213.7h0M289.5 213.4h0M292.0 219.9h0M290.0 216.8h0M291.3 223.3h0M292.9 219.1h0"/><path d="M289.8 217.6h0M290.8 218.5h0M291.7 227.5h0M292.5 229.5h0M290.3 238.4h0M290.0 243.0h0"/></g>
<g stroke="#b486f4" stroke-opacity="0.45" stroke-width="2.2" stroke-linecap="round" fill="none"><path d="M290.0 302.9h0M288.8 300.6h0M291.6 298.6h0M290.9 297.7h0M292.5 312.1h0M292.6 302.3h0"/><path d="M292.5 301.3h0M290.3 299.4h0M292.0 303.7h0M289.7 305.6h0"/></g>
<g stroke="#f35cf4" stroke-opacity="0.45" stroke-width="2.2" stroke-linecap="round" fill="none"><path d="M311.4 222.8h0M313.7 225.1h0M313.8 220.4h0M313.9 222.7h0M315.8 222.8h0M314.3 220.8h0"/><path d="M315.0 226.1h0M311.6 226.1h0M313.8 221.1h0M315.0 227.1h0M311.7 211.2h0M311.7 234.7h0"/><path d="M314.7 236.4h0"/></g>
<g stroke="#f35cf4" stroke-opacity="0.45" stroke-width="2.2" stroke-linecap="round" fill="none"><path d="M313.2 313.7h0M315.1 295.5h0M314.4 299.0h0M315.3 301.4h0M315.0 310.4h0M315.2 311.2h0"/><path d="M315.4 308.0h0M315.7 298.1h0M314.3 299.4h0M313.7 300.3h0"/></g>
<g stroke="#f668be" stroke-opacity="0.45" stroke-width="2.2" stroke-linecap="round" fill="none"><path d="M336.5 211.3h0M337.0 217.5h0M338.5 214.3h0M334.5 222.8h0M334.9 212.6h0M335.2 216.8h0"/><path d="M335.4 224.6h0M335.4 215.8h0M337.7 211.3h0M337.1 212.1h0"/></g>
<g stroke="#f668be" stroke-opacity="0.45" stroke-width="2.2" stroke-linecap="round" fill="none"><path d="M336.1 300.8h0M336.8 305.6h0M336.7 313.5h0M335.6 299.3h0M338.9 306.1h0M337.4 310.9h0"/><path d="M335.5 307.8h0M334.4 312.7h0M336.5 300.1h0M336.1 311.3h0"/></g>
</g>
<rect x="48.8" y="194.5" width="299.3" height="155.7" fill="none" stroke="#a6a6a6" stroke-width="1.2"/>
<line x1="47.2" y1="200.7" x2="48.8" y2="200.7" stroke="#555" stroke-width="0.8"/>
<text x="46.2" y="204.4" font-size="10.5" text-anchor="end" textLength="16.70" lengthAdjust="spacingAndGlyphs">0.5</text>
<line x1="47.2" y1="219.1" x2="48.8" y2="219.1" stroke="#555" stroke-width="0.8"/>
<text x="46.2" y="222.8" font-size="10.5" text-anchor="end" textLength="16.70" lengthAdjust="spacingAndGlyphs">0.4</text>
<line x1="47.2" y1="237.5" x2="48.8" y2="237.5" stroke="#555" stroke-width="0.8"/>
<text x="46.2" y="241.2" font-size="10.5" text-anchor="end" textLength="16.70" lengthAdjust="spacingAndGlyphs">0.3</text>
<line x1="47.2" y1="255.9" x2="48.8" y2="255.9" stroke="#555" stroke-width="0.8"/>
<text x="46.2" y="259.6" font-size="10.5" text-anchor="end" textLength="16.70" lengthAdjust="spacingAndGlyphs">0.2</text>
<line x1="47.2" y1="274.3" x2="48.8" y2="274.3" stroke="#555" stroke-width="0.8"/>
<text x="46.2" y="278" font-size="10.5" text-anchor="end" textLength="16.70" lengthAdjust="spacingAndGlyphs">0.1</text>
<line x1="47.2" y1="292.7" x2="48.8" y2="292.7" stroke="#555" stroke-width="0.8"/>
<text x="46.2" y="296.4" font-size="10.5" text-anchor="end" textLength="16.70" lengthAdjust="spacingAndGlyphs">0.0</text>
<line x1="47.2" y1="311.1" x2="48.8" y2="311.1" stroke="#555" stroke-width="0.8"/>
<text x="46.2" y="314.8" font-size="10.5" text-anchor="end" textLength="25.50" lengthAdjust="spacingAndGlyphs">−0.1</text>
<line x1="47.2" y1="329.5" x2="48.8" y2="329.5" stroke="#555" stroke-width="0.8"/>
<text x="46.2" y="333.2" font-size="10.5" text-anchor="end" textLength="25.50" lengthAdjust="spacingAndGlyphs">−0.2</text>
<line x1="47.2" y1="347.9" x2="48.8" y2="347.9" stroke="#555" stroke-width="0.8"/>
<text x="46.2" y="351.6" font-size="10.5" text-anchor="end" textLength="25.50" lengthAdjust="spacingAndGlyphs">−0.3</text>
<line x1="60.3" y1="350.2" x2="60.3" y2="351.8" stroke="#555" stroke-width="0.8"/>
<text x="60.3" y="361.6" font-size="10.5" text-anchor="middle" textLength="6.68" lengthAdjust="spacingAndGlyphs">1</text>
<line x1="83.33" y1="350.2" x2="83.33" y2="351.8" stroke="#555" stroke-width="0.8"/>
<text x="83.33" y="361.6" font-size="10.5" text-anchor="middle" textLength="6.68" lengthAdjust="spacingAndGlyphs">2</text>
<line x1="106.36" y1="350.2" x2="106.36" y2="351.8" stroke="#555" stroke-width="0.8"/>
<text x="106.36" y="361.6" font-size="10.5" text-anchor="middle" textLength="6.68" lengthAdjust="spacingAndGlyphs">3</text>
<line x1="129.39" y1="350.2" x2="129.39" y2="351.8" stroke="#555" stroke-width="0.8"/>
<text x="129.39" y="361.6" font-size="10.5" text-anchor="middle" textLength="6.68" lengthAdjust="spacingAndGlyphs">4</text>
<line x1="152.42" y1="350.2" x2="152.42" y2="351.8" stroke="#555" stroke-width="0.8"/>
<text x="152.42" y="361.6" font-size="10.5" text-anchor="middle" textLength="6.68" lengthAdjust="spacingAndGlyphs">5</text>
<line x1="175.45" y1="350.2" x2="175.45" y2="351.8" stroke="#555" stroke-width="0.8"/>
<text x="175.45" y="361.6" font-size="10.5" text-anchor="middle" textLength="6.68" lengthAdjust="spacingAndGlyphs">6</text>
<line x1="198.48" y1="350.2" x2="198.48" y2="351.8" stroke="#555" stroke-width="0.8"/>
<text x="198.48" y="361.6" font-size="10.5" text-anchor="middle" textLength="6.68" lengthAdjust="spacingAndGlyphs">7</text>
<line x1="221.51" y1="350.2" x2="221.51" y2="351.8" stroke="#555" stroke-width="0.8"/>
<text x="221.51" y="361.6" font-size="10.5" text-anchor="middle" textLength="6.68" lengthAdjust="spacingAndGlyphs">8</text>
<line x1="244.54" y1="350.2" x2="244.54" y2="351.8" stroke="#555" stroke-width="0.8"/>
<text x="244.54" y="361.6" font-size="10.5" text-anchor="middle" textLength="6.68" lengthAdjust="spacingAndGlyphs">9</text>
<line x1="267.57" y1="350.2" x2="267.57" y2="351.8" stroke="#555" stroke-width="0.8"/>
<text x="267.57" y="361.6" font-size="10.5" text-anchor="middle" textLength="13.36" lengthAdjust="spacingAndGlyphs">10</text>
<line x1="290.6" y1="350.2" x2="290.6" y2="351.8" stroke="#555" stroke-width="0.8"/>
<text x="290.6" y="361.6" font-size="10.5" text-anchor="middle" textLength="13.36" lengthAdjust="spacingAndGlyphs">11</text>
<line x1="313.63" y1="350.2" x2="313.63" y2="351.8" stroke="#555" stroke-width="0.8"/>
<text x="313.63" y="361.6" font-size="10.5" text-anchor="middle" textLength="13.36" lengthAdjust="spacingAndGlyphs">12</text>
<line x1="336.66" y1="350.2" x2="336.66" y2="351.8" stroke="#555" stroke-width="0.8"/>
<text x="336.66" y="361.6" font-size="10.5" text-anchor="middle" textLength="13.36" lengthAdjust="spacingAndGlyphs">13</text>
<text x="198.5" y="376.3" font-size="14.3" text-anchor="middle" textLength="29.74" lengthAdjust="spacingAndGlyphs">Row</text>
<text x="16.4" y="273.2" font-size="14.3" text-anchor="middle" textLength="151.92" lengthAdjust="spacingAndGlyphs" transform="rotate(-90 16.4 273.2)">Set/Reset Voltage (V)</text>
<text x="341.4" y="345" font-size="13" text-anchor="end">c</text>
<g clip-path="url(#cd)">
<line x1="461.3" y1="217.1" x2="461.3" y2="228.5" stroke="#474747" stroke-width="1.1"/>
<line x1="461.3" y1="236.3" x2="461.3" y2="247.5" stroke="#474747" stroke-width="1.1"/>
<line x1="446.18" y1="217.1" x2="476.43" y2="217.1" stroke="#6e6e6e" stroke-width="1.1"/>
<line x1="446.18" y1="247.5" x2="476.43" y2="247.5" stroke="#6e6e6e" stroke-width="1.1"/>
<rect x="431.05" y="228.5" width="60.5" height="7.8" fill="#1f77b4" fill-opacity="1.0" stroke="#474747" stroke-width="1.1"/>
<line x1="431.05" y1="232.1" x2="491.55" y2="232.1" stroke="#474747" stroke-width="1.1"/>
<line x1="461.3" y1="280.4" x2="461.3" y2="285" stroke="#474747" stroke-width="1.1"/>
<line x1="461.3" y1="291.4" x2="461.3" y2="299.4" stroke="#474747" stroke-width="1.1"/>
<line x1="446.18" y1="280.4" x2="476.43" y2="280.4" stroke="#6e6e6e" stroke-width="1.1"/>
<line x1="446.18" y1="299.4" x2="476.43" y2="299.4" stroke="#6e6e6e" stroke-width="1.1"/>
<rect x="431.05" y="285" width="60.5" height="6.4" fill="#1f77b4" fill-opacity="1.0" stroke="#474747" stroke-width="1.1"/>
<line x1="431.05" y1="288.1" x2="491.55" y2="288.1" stroke="#474747" stroke-width="1.1"/>
<line x1="536.6" y1="221.5" x2="536.6" y2="229.7" stroke="#474747" stroke-width="1.1"/>
<line x1="536.6" y1="235.8" x2="536.6" y2="243.6" stroke="#474747" stroke-width="1.1"/>
<line x1="521.48" y1="221.5" x2="551.73" y2="221.5" stroke="#6e6e6e" stroke-width="1.1"/>
<line x1="521.48" y1="243.6" x2="551.73" y2="243.6" stroke="#6e6e6e" stroke-width="1.1"/>
<rect x="506.35" y="229.7" width="60.5" height="6.1" fill="#ff7f0e" fill-opacity="1.0" stroke="#474747" stroke-width="1.1"/>
<line x1="506.35" y1="232.5" x2="566.85" y2="232.5" stroke="#474747" stroke-width="1.1"/>
<line x1="536.6" y1="281" x2="536.6" y2="285.5" stroke="#474747" stroke-width="1.1"/>
<line x1="536.6" y1="291.6" x2="536.6" y2="297.8" stroke="#474747" stroke-width="1.1"/>
<line x1="521.48" y1="281" x2="551.73" y2="281" stroke="#6e6e6e" stroke-width="1.1"/>
<line x1="521.48" y1="297.8" x2="551.73" y2="297.8" stroke="#6e6e6e" stroke-width="1.1"/>
<rect x="506.35" y="285.5" width="60.5" height="6.1" fill="#ff7f0e" fill-opacity="1.0" stroke="#474747" stroke-width="1.1"/>
<line x1="506.35" y1="288.5" x2="566.85" y2="288.5" stroke="#474747" stroke-width="1.1"/>
<line x1="611.9" y1="210" x2="611.9" y2="223.2" stroke="#474747" stroke-width="1.1"/>
<line x1="611.9" y1="233.1" x2="611.9" y2="245.7" stroke="#474747" stroke-width="1.1"/>
<line x1="596.77" y1="210" x2="627.02" y2="210" stroke="#6e6e6e" stroke-width="1.1"/>
<line x1="596.77" y1="245.7" x2="627.02" y2="245.7" stroke="#6e6e6e" stroke-width="1.1"/>
<rect x="581.65" y="223.2" width="60.5" height="9.9" fill="#2ca02c" fill-opacity="1.0" stroke="#474747" stroke-width="1.1"/>
<line x1="581.65" y1="228.1" x2="642.15" y2="228.1" stroke="#474747" stroke-width="1.1"/>
<line x1="611.9" y1="280.3" x2="611.9" y2="285.4" stroke="#474747" stroke-width="1.1"/>
<line x1="611.9" y1="292.7" x2="611.9" y2="304.2" stroke="#474747" stroke-width="1.1"/>
<line x1="596.77" y1="280.3" x2="627.02" y2="280.3" stroke="#6e6e6e" stroke-width="1.1"/>
<line x1="596.77" y1="304.2" x2="627.02" y2="304.2" stroke="#6e6e6e" stroke-width="1.1"/>
<rect x="581.65" y="285.4" width="60.5" height="7.3" fill="#2ca02c" fill-opacity="1.0" stroke="#474747" stroke-width="1.1"/>
<line x1="581.65" y1="288.8" x2="642.15" y2="288.8" stroke="#474747" stroke-width="1.1"/>
<line x1="687.2" y1="223.2" x2="687.2" y2="230.9" stroke="#474747" stroke-width="1.1"/>
<line x1="687.2" y1="236.4" x2="687.2" y2="241.7" stroke="#474747" stroke-width="1.1"/>
<line x1="672.08" y1="223.2" x2="702.33" y2="223.2" stroke="#6e6e6e" stroke-width="1.1"/>
<line x1="672.08" y1="241.7" x2="702.33" y2="241.7" stroke="#6e6e6e" stroke-width="1.1"/>
<rect x="656.95" y="230.9" width="60.5" height="5.5" fill="#d62728" fill-opacity="1.0" stroke="#474747" stroke-width="1.1"/>
<line x1="656.95" y1="233.4" x2="717.45" y2="233.4" stroke="#474747" stroke-width="1.1"/>
<line x1="687.2" y1="281.1" x2="687.2" y2="284.1" stroke="#474747" stroke-width="1.1"/>
<line x1="687.2" y1="289.7" x2="687.2" y2="297.8" stroke="#474747" stroke-width="1.1"/>
<line x1="672.08" y1="281.1" x2="702.33" y2="281.1" stroke="#6e6e6e" stroke-width="1.1"/>
<line x1="672.08" y1="297.8" x2="702.33" y2="297.8" stroke="#6e6e6e" stroke-width="1.1"/>
<rect x="656.95" y="284.1" width="60.5" height="5.6" fill="#d62728" fill-opacity="1.0" stroke="#474747" stroke-width="1.1"/>
<line x1="656.95" y1="286.7" x2="717.45" y2="286.7" stroke="#474747" stroke-width="1.1"/>
<g stroke="#22578a" stroke-opacity="0.55" stroke-width="2.0" stroke-linecap="round" fill="none"><path d="M459.8 226.6h0M468.5 236.7h0M459.2 228.0h0M458.4 230.2h0M460.8 238.9h0M458.0 244.5h0"/><path d="M464.8 233.1h0M464.6 225.3h0M456.2 229.3h0M457.4 235.9h0M463.9 243.8h0M468.0 244.1h0"/><path d="M463.5 220.4h0M460.2 231.6h0M468.5 229.3h0M453.8 237.2h0M454.6 236.1h0M465.5 226.1h0"/><path d="M459.9 231.9h0M454.4 228.3h0M462.0 242.1h0M468.7 232.8h0M461.6 228.7h0M459.0 234.6h0"/><path d="M455.1 230.9h0M454.8 233.4h0M467.4 240.3h0M461.2 234.1h0M467.9 219.1h0M454.5 246.3h0"/><path d="M457.4 227.4h0M454.5 231.3h0M459.7 234.5h0M454.6 228.7h0M457.6 231.9h0M459.9 231.2h0"/><path d="M458.4 236.7h0M454.5 233.6h0M454.3 226.9h0M468.5 231.2h0M456.4 237.3h0M461.4 231.9h0"/><path d="M459.8 229.7h0M461.8 227.9h0M455.0 236.0h0M458.5 222.8h0M455.3 232.8h0M461.9 229.0h0"/><path d="M467.7 228.5h0M462.8 228.7h0M466.7 239.8h0M457.0 233.1h0M454.0 227.3h0M461.9 233.9h0"/><path d="M461.1 231.8h0M462.4 230.3h0M459.4 244.2h0M463.2 228.2h0M464.7 227.0h0M467.6 230.1h0"/><path d="M458.4 231.5h0M460.5 234.0h0M466.3 237.3h0M457.1 240.5h0M455.5 235.2h0M458.4 233.3h0"/><path d="M455.0 232.7h0M465.4 236.3h0M466.2 239.0h0M458.5 233.5h0M455.7 229.5h0M454.9 237.2h0"/><path d="M457.4 235.4h0M455.0 238.5h0M460.2 226.8h0M462.5 235.1h0M457.4 234.1h0M454.6 238.5h0"/><path d="M464.3 236.1h0M454.4 225.3h0M456.7 230.5h0M458.0 234.9h0M459.4 235.5h0M455.2 227.1h0"/><path d="M460.1 234.8h0M458.5 227.3h0M465.1 235.6h0M462.2 238.5h0M467.3 236.6h0M463.6 224.9h0"/><path d="M465.2 231.5h0M462.4 240.3h0M460.4 226.5h0M466.1 221.1h0M463.7 239.4h0M468.2 223.9h0"/><path d="M464.8 226.9h0M464.4 226.5h0M457.8 229.1h0M466.0 234.8h0M459.5 231.0h0M455.7 218.8h0"/><path d="M454.7 233.1h0M456.3 229.0h0M457.7 232.9h0M464.0 228.6h0M458.0 233.7h0M454.7 225.4h0"/><path d="M465.3 231.8h0M462.2 230.0h0M454.1 233.8h0M454.5 231.5h0M455.7 232.3h0M459.1 219.9h0"/><path d="M466.8 223.1h0M468.1 228.2h0M463.0 240.9h0M457.2 238.9h0M460.2 232.7h0M459.2 225.2h0"/><path d="M458.7 236.5h0M453.9 223.2h0M462.6 247.3h0M466.3 230.5h0M464.7 220.6h0M455.1 227.7h0"/><path d="M461.8 233.9h0M456.3 229.5h0M464.5 241.2h0M460.5 236.9h0M468.0 222.2h0M465.8 240.1h0"/><path d="M455.5 233.4h0M458.5 240.2h0M467.6 234.1h0M460.7 230.7h0M460.3 233.3h0M460.4 237.5h0"/><path d="M465.4 230.4h0M467.9 236.0h0M461.8 242.7h0M468.4 232.8h0M462.8 242.1h0M455.3 224.4h0"/><path d="M466.1 225.5h0M460.1 220.3h0M454.5 242.1h0M468.6 223.0h0M454.2 234.3h0M462.5 233.6h0"/><path d="M461.0 225.4h0M467.1 229.4h0M459.7 235.9h0M457.0 239.7h0M457.9 231.3h0M456.8 234.5h0"/><path d="M462.2 225.8h0M459.1 235.9h0M465.1 233.7h0M457.4 243.3h0M459.0 235.6h0M457.5 231.5h0"/><path d="M468.6 224.0h0M466.5 235.4h0M466.6 244.0h0M463.1 234.4h0M459.8 233.5h0M455.9 230.6h0"/><path d="M466.3 245.3h0M461.1 231.5h0M454.3 238.7h0M456.3 231.1h0M455.2 236.3h0M464.6 219.0h0"/><path d="M467.4 243.0h0M456.7 228.2h0M465.8 220.5h0M458.6 236.0h0M464.1 230.7h0M466.8 232.8h0"/><path d="M463.2 218.8h0M465.9 229.9h0M459.4 228.7h0M453.9 226.6h0M461.5 244.1h0M462.6 233.4h0"/><path d="M456.5 224.5h0M459.6 241.3h0M458.5 231.0h0M454.1 230.8h0M458.4 227.9h0M459.5 225.7h0"/><path d="M460.9 234.4h0M464.4 235.3h0M459.8 220.5h0M468.6 229.8h0M466.1 221.2h0M467.7 225.9h0"/><path d="M464.2 230.9h0M463.9 228.9h0M461.9 221.9h0M465.8 240.3h0M459.2 235.4h0M462.7 231.1h0"/><path d="M464.0 229.0h0M461.6 238.6h0M458.0 228.9h0M454.9 238.7h0M455.0 244.1h0M459.1 223.2h0"/><path d="M462.5 229.7h0M465.2 223.2h0M464.6 232.7h0M458.4 238.9h0M467.8 240.7h0M457.9 240.0h0"/><path d="M464.6 225.3h0M454.8 223.6h0M465.2 228.6h0M463.9 228.6h0M468.2 240.3h0M467.3 247.4h0"/><path d="M464.2 235.8h0M466.4 224.0h0M464.9 232.5h0M463.0 229.1h0M456.9 233.7h0M461.6 243.9h0"/><path d="M467.3 233.3h0M457.3 229.5h0M468.5 230.2h0M462.0 231.8h0M459.7 236.0h0M453.7 226.1h0"/><path d="M459.6 236.1h0M456.4 230.9h0M463.6 234.9h0M467.4 220.9h0M467.5 228.6h0M463.0 228.8h0"/><path d="M459.6 202.1h0M455.4 213.8h0"/></g>
<g stroke="#22578a" stroke-opacity="0.55" stroke-width="2.0" stroke-linecap="round" fill="none"><path d="M455.5 283.6h0M456.8 282.9h0M468.5 296.2h0M466.7 289.0h0M457.3 284.7h0M466.3 287.0h0"/><path d="M463.6 296.1h0M459.6 286.8h0M463.5 292.0h0M457.2 283.1h0M457.9 289.8h0M453.9 295.5h0"/><path d="M463.7 290.1h0M462.5 296.5h0M465.0 285.4h0M461.4 283.8h0M460.3 285.6h0M458.4 283.9h0"/><path d="M464.9 284.2h0M459.4 286.5h0M462.8 291.6h0M465.2 290.9h0M460.5 284.8h0M464.1 287.2h0"/><path d="M454.6 294.3h0M457.7 285.6h0M466.5 285.3h0M455.9 286.9h0M454.6 287.4h0M453.9 284.5h0"/><path d="M465.3 292.9h0M455.3 291.6h0M460.7 284.9h0M460.4 285.3h0M465.9 285.6h0M460.9 289.6h0"/><path d="M461.6 284.2h0M454.1 286.3h0M465.8 283.0h0M465.4 286.9h0M463.2 290.4h0M466.4 291.3h0"/><path d="M463.0 297.7h0M464.6 292.8h0M466.6 288.5h0M463.1 289.3h0M454.0 284.8h0M467.1 289.1h0"/><path d="M468.7 290.4h0M456.8 293.7h0M454.7 289.2h0M458.9 294.0h0M455.2 286.3h0M459.3 287.1h0"/><path d="M455.1 285.8h0M457.0 286.5h0M453.8 293.9h0M460.2 291.2h0M458.3 286.1h0M464.8 299.1h0"/><path d="M459.6 295.1h0M456.2 285.8h0M468.2 289.4h0M467.3 281.2h0M464.2 288.0h0M457.0 289.7h0"/><path d="M459.8 285.9h0M460.6 293.0h0M459.9 281.2h0M454.1 290.7h0M460.6 290.1h0M465.4 293.2h0"/><path d="M464.2 281.0h0M466.8 287.4h0M464.1 291.0h0M465.3 291.8h0M466.9 291.4h0M467.6 291.9h0"/><path d="M465.8 287.4h0M460.0 291.3h0M463.7 296.2h0M463.7 289.0h0M467.1 289.0h0M464.5 281.7h0"/><path d="M460.4 286.4h0M456.6 286.2h0M458.7 292.0h0M457.5 285.1h0M464.1 291.6h0M465.4 281.8h0"/><path d="M456.6 287.9h0M461.8 298.4h0M466.5 286.3h0M459.3 290.6h0M455.1 290.7h0M462.9 286.6h0"/><path d="M459.2 292.9h0M455.9 285.3h0M458.1 283.0h0M453.8 289.7h0M456.0 284.9h0M460.2 286.8h0"/><path d="M455.3 289.9h0M453.8 281.8h0M462.1 290.4h0M468.3 287.4h0M466.4 289.8h0M458.7 284.4h0"/><path d="M467.8 286.6h0M454.9 286.2h0M456.0 288.2h0M453.8 289.6h0M454.6 284.8h0M462.8 289.8h0"/><path d="M465.2 284.8h0M461.0 291.5h0M465.9 288.6h0M460.6 297.7h0M467.7 290.5h0M462.9 283.0h0"/><path d="M461.9 295.5h0M456.3 284.5h0M460.2 286.1h0M460.4 290.0h0M466.2 286.4h0M457.2 285.3h0"/><path d="M458.2 288.6h0M466.1 295.8h0M454.8 290.7h0M461.9 282.5h0M457.0 293.4h0M463.8 290.2h0"/><path d="M462.7 285.8h0M455.1 294.5h0M464.8 296.6h0M459.9 285.2h0M458.6 283.7h0M466.7 285.1h0"/><path d="M465.5 294.2h0M458.4 298.2h0M464.0 281.7h0M455.6 283.8h0M461.6 282.3h0M455.0 297.3h0"/><path d="M463.4 287.1h0M467.6 285.2h0M463.4 290.2h0M454.3 292.8h0M461.5 287.0h0M460.8 297.2h0"/><path d="M460.4 295.8h0M456.0 288.1h0M457.9 294.0h0M460.5 294.3h0M454.8 285.7h0M464.0 291.2h0"/><path d="M457.4 285.3h0M458.1 288.4h0M455.1 290.2h0M458.3 282.0h0M467.9 286.5h0M458.1 283.2h0"/><path d="M455.2 284.8h0M459.0 285.8h0M468.1 289.9h0M455.0 293.8h0M458.9 283.1h0M456.9 292.2h0"/><path d="M464.1 288.5h0M460.7 289.3h0M455.2 295.8h0M466.8 283.9h0M458.7 297.2h0M464.1 295.2h0"/><path d="M460.6 287.0h0M467.0 293.6h0M454.6 288.0h0M457.2 290.2h0M458.0 282.5h0M457.7 289.2h0"/><path d="M466.2 285.2h0M461.3 283.1h0M459.0 297.9h0M461.4 288.7h0M466.6 292.5h0M462.4 294.1h0"/><path d="M460.6 286.3h0M463.7 285.1h0M463.0 282.6h0M459.9 286.6h0M460.2 291.7h0M455.7 288.4h0"/><path d="M460.4 297.2h0M467.1 281.4h0M458.4 293.9h0M459.3 289.0h0M462.9 284.9h0M462.7 288.8h0"/><path d="M456.4 284.8h0M460.5 290.2h0M464.9 295.3h0M454.3 293.9h0M455.4 285.2h0M465.2 294.3h0"/><path d="M467.5 291.1h0M454.7 283.4h0M454.9 290.6h0M463.2 289.7h0M458.0 293.5h0M463.7 285.6h0"/><path d="M454.2 284.2h0M460.6 288.1h0M456.2 285.5h0M458.7 286.4h0M464.2 284.6h0M461.5 287.2h0"/><path d="M466.7 286.8h0M466.5 289.3h0M463.1 287.2h0M466.6 287.4h0M456.4 290.1h0M460.9 283.4h0"/><path d="M458.6 291.8h0M463.2 289.2h0M455.4 297.0h0M467.2 289.5h0M459.3 297.1h0M465.6 284.3h0"/><path d="M468.0 280.5h0M468.0 295.4h0M459.6 293.2h0M466.7 290.9h0M468.9 282.8h0M455.7 283.5h0"/><path d="M465.1 283.8h0M464.8 296.7h0M460.7 288.1h0M457.9 292.6h0M456.3 298.2h0M460.0 283.4h0"/><path d="M467.9 302.0h0M459.8 306.4h0"/></g>
<g stroke="#c0651a" stroke-opacity="0.55" stroke-width="2.0" stroke-linecap="round" fill="none"><path d="M529.0 234.5h0M538.0 234.5h0M541.0 233.4h0M537.9 232.0h0M544.0 225.0h0M532.5 234.4h0"/><path d="M540.1 229.2h0M535.6 239.8h0M537.8 234.5h0M533.6 232.3h0M532.5 231.1h0M537.3 234.2h0"/><path d="M538.2 230.3h0M542.8 236.8h0M538.2 231.0h0M536.6 230.0h0M538.9 232.5h0M538.5 233.3h0"/><path d="M535.2 230.0h0M533.1 237.1h0M539.4 236.6h0M534.9 240.2h0M529.6 230.5h0M531.6 230.2h0"/><path d="M534.5 226.9h0M539.4 230.6h0M539.0 236.5h0M536.5 228.3h0M541.4 238.1h0M534.0 234.4h0"/><path d="M534.3 232.6h0M540.4 234.0h0M539.3 229.9h0M535.5 230.7h0M542.5 238.5h0M529.4 237.1h0"/><path d="M537.2 225.7h0M542.0 233.5h0M542.4 229.0h0M531.9 239.8h0M541.3 229.7h0M537.1 224.9h0"/><path d="M543.2 230.5h0M534.0 230.3h0M539.1 227.4h0M538.8 234.9h0M544.1 232.3h0M534.2 231.4h0"/><path d="M534.9 228.3h0M530.9 235.4h0M539.4 228.1h0M530.1 230.2h0M541.9 234.3h0M531.2 231.8h0"/><path d="M531.9 234.1h0M543.4 228.9h0M536.6 234.3h0M540.5 227.9h0M534.3 233.4h0M532.7 234.5h0"/><path d="M534.6 224.0h0M543.9 234.3h0M531.9 230.0h0M542.8 242.8h0M542.4 233.5h0M539.3 230.5h0"/><path d="M533.0 230.8h0M540.1 241.9h0M542.8 234.8h0M538.0 222.3h0M532.3 230.5h0M538.3 238.8h0"/><path d="M543.5 234.1h0M538.0 233.0h0M531.3 228.2h0M532.1 234.3h0M538.6 236.0h0M529.7 222.8h0"/><path d="M529.0 227.9h0M534.7 234.8h0M532.9 234.5h0M536.5 227.9h0M530.1 237.3h0M537.5 228.1h0"/><path d="M539.3 231.4h0M533.8 223.0h0M537.8 240.4h0M537.0 234.2h0M541.0 228.5h0M537.8 235.6h0"/><path d="M538.7 234.4h0M537.6 239.6h0M541.5 229.5h0M530.5 231.9h0M530.7 227.2h0M542.2 236.5h0"/><path d="M541.7 231.1h0M529.1 228.1h0M542.6 236.8h0M538.3 242.1h0M542.0 235.5h0M539.7 237.0h0"/><path d="M534.7 235.0h0M530.7 227.9h0M540.6 229.0h0M539.8 229.6h0M536.1 234.1h0M533.1 227.3h0"/><path d="M534.5 232.4h0M543.2 234.1h0M536.0 230.2h0M532.2 240.0h0M544.0 235.2h0M543.9 231.6h0"/><path d="M531.7 229.2h0M532.0 233.6h0M540.1 233.7h0M534.9 230.0h0M536.2 230.6h0M539.4 236.1h0"/><path d="M533.2 233.3h0M538.0 234.6h0M532.1 232.9h0M532.4 225.2h0M537.3 231.9h0M535.5 230.9h0"/><path d="M542.6 238.2h0M531.2 239.7h0M542.9 242.4h0M533.0 238.9h0M534.2 230.4h0M530.6 237.2h0"/><path d="M533.8 228.7h0M543.9 230.6h0M534.5 235.5h0M541.7 241.1h0M543.8 238.1h0M539.6 232.8h0"/><path d="M531.8 234.2h0M535.6 233.5h0M531.5 238.6h0M532.8 235.1h0M534.1 230.9h0M531.5 230.4h0"/><path d="M539.3 237.7h0M536.9 228.0h0M533.4 227.0h0M532.9 233.0h0M531.2 230.0h0M530.7 232.5h0"/><path d="M535.7 225.8h0M530.1 230.6h0M536.9 233.2h0M532.9 238.6h0M540.7 229.9h0M533.1 238.0h0"/><path d="M542.0 234.9h0M543.4 232.2h0M543.1 237.5h0M532.5 230.9h0M543.1 237.9h0M536.2 230.4h0"/><path d="M542.4 231.2h0M536.1 230.9h0M537.2 236.3h0M532.9 235.1h0M540.5 232.4h0M534.6 238.6h0"/><path d="M542.4 239.8h0M539.8 239.6h0M535.5 236.6h0M529.5 237.2h0M533.1 230.5h0M535.3 229.2h0"/><path d="M534.6 222.7h0M537.9 233.6h0M529.1 230.3h0M536.1 226.0h0M542.6 233.9h0M543.5 237.9h0"/><path d="M539.5 236.1h0M539.4 232.2h0M538.2 230.2h0M544.2 228.4h0M541.0 226.8h0M536.0 226.4h0"/><path d="M536.5 230.3h0M543.3 229.8h0M537.4 236.0h0M538.1 233.9h0M533.7 235.1h0M539.1 233.1h0"/><path d="M536.4 236.1h0M543.3 231.0h0M544.2 231.5h0M544.1 233.5h0M543.5 234.5h0M529.7 226.8h0"/><path d="M530.1 226.7h0M534.2 238.8h0M541.6 236.1h0M537.5 227.5h0M532.9 237.2h0M530.5 230.9h0"/><path d="M532.8 229.8h0M530.9 225.7h0M531.2 232.6h0M540.3 231.6h0M531.9 233.9h0M531.5 229.2h0"/><path d="M538.4 224.8h0M531.0 240.8h0M541.7 227.8h0M538.9 235.4h0M542.3 228.2h0M540.0 232.0h0"/><path d="M540.1 234.5h0M533.1 225.7h0M535.4 233.6h0M534.8 237.5h0M535.0 234.4h0M542.9 225.2h0"/><path d="M535.6 230.0h0M541.1 227.5h0M538.6 237.7h0M530.3 235.9h0M532.2 233.9h0M537.8 233.7h0"/><path d="M541.0 238.0h0M532.5 232.4h0M532.8 228.4h0M534.7 227.5h0M536.0 223.7h0M535.4 231.7h0"/><path d="M543.1 232.9h0M538.2 237.0h0M533.2 239.2h0M534.2 231.8h0M536.7 231.6h0M531.4 225.3h0"/><path d="M535.0 218.6h0M530.0 246.9h0"/></g>
<g stroke="#c0651a" stroke-opacity="0.55" stroke-width="2.0" stroke-linecap="round" fill="none"><path d="M535.9 285.1h0M537.1 293.2h0M544.0 290.2h0M530.6 282.6h0M531.0 284.0h0M542.7 286.8h0"/><path d="M533.4 293.1h0M537.2 289.2h0M533.6 284.2h0M542.6 290.0h0M543.2 290.4h0M537.7 294.4h0"/><path d="M530.4 284.2h0M534.6 282.9h0M539.7 288.3h0M537.6 287.5h0M533.3 290.0h0M535.0 289.2h0"/><path d="M529.9 288.4h0M535.1 285.9h0M541.5 283.5h0M534.9 287.8h0M536.1 295.4h0M531.6 283.6h0"/><path d="M539.8 293.3h0M535.3 293.0h0M534.9 286.8h0M540.8 282.5h0M533.5 288.5h0M530.2 293.0h0"/><path d="M538.8 287.6h0M540.2 292.4h0M529.8 283.7h0M534.2 285.3h0M542.5 288.7h0M536.7 288.4h0"/><path d="M535.2 285.3h0M531.0 285.8h0M533.4 283.7h0M537.9 289.2h0M542.9 292.5h0M539.1 283.7h0"/><path d="M543.7 289.7h0M535.2 289.5h0M530.0 291.5h0M534.2 295.9h0M534.6 285.0h0M529.9 291.3h0"/><path d="M530.2 296.5h0M542.8 283.5h0M542.6 290.2h0M531.0 293.1h0M530.2 295.1h0M543.9 294.3h0"/><path d="M531.5 287.9h0M533.6 282.8h0M532.4 293.8h0M532.2 285.5h0M529.5 290.2h0M536.0 283.1h0"/><path d="M540.8 285.4h0M530.1 283.0h0M536.5 284.4h0M531.0 290.6h0M541.0 290.9h0M542.7 291.1h0"/><path d="M542.3 289.0h0M537.1 288.9h0M531.2 291.6h0M539.9 289.2h0M530.1 292.2h0M540.8 286.4h0"/><path d="M533.6 288.9h0M542.6 286.7h0M533.3 285.9h0M540.3 283.2h0M536.5 291.7h0M532.6 283.1h0"/><path d="M536.5 294.6h0M535.5 294.1h0M531.4 284.8h0M537.3 284.8h0M537.1 289.0h0M539.6 291.5h0"/><path d="M534.2 286.3h0M538.3 289.9h0M532.0 295.6h0M536.9 285.6h0M532.6 290.8h0M540.9 290.5h0"/><path d="M531.9 283.4h0M533.4 288.6h0M530.1 292.7h0M533.5 286.1h0M537.2 293.7h0M532.5 284.8h0"/><path d="M530.8 288.0h0M542.6 285.9h0M533.7 285.0h0M532.3 289.7h0M535.1 283.2h0M541.8 291.6h0"/><path d="M540.3 288.3h0M542.7 291.6h0M537.3 286.1h0M534.1 289.0h0M536.6 293.4h0M529.9 293.8h0"/><path d="M539.4 291.5h0M541.8 286.2h0M542.9 293.3h0M541.6 291.6h0M538.8 293.2h0M541.2 293.6h0"/><path d="M533.4 286.5h0M537.5 293.6h0M531.5 287.4h0M543.2 293.1h0M536.8 289.9h0M531.7 284.4h0"/><path d="M544.0 291.3h0M538.4 292.4h0M532.2 284.7h0M541.9 287.0h0M538.5 289.1h0M538.5 295.2h0"/><path d="M542.3 292.2h0M533.8 288.6h0M533.2 287.4h0M537.7 283.4h0M532.1 282.5h0M539.6 284.9h0"/><path d="M536.3 293.4h0M532.0 281.1h0M530.9 289.8h0M531.5 285.7h0M537.8 292.9h0M542.9 284.6h0"/><path d="M541.1 293.1h0M541.9 289.7h0M537.6 291.8h0M541.2 288.0h0M534.0 283.4h0M534.6 283.1h0"/><path d="M542.7 284.2h0M532.9 281.8h0M538.5 291.8h0M537.6 294.8h0M529.8 282.2h0M537.6 283.4h0"/><path d="M541.1 289.4h0M542.5 286.8h0M535.4 286.0h0M542.7 288.9h0M529.6 288.4h0M542.8 288.2h0"/><path d="M539.3 288.9h0M541.3 290.1h0M535.8 287.1h0M537.9 286.4h0M541.5 285.1h0M532.4 286.7h0"/><path d="M531.8 294.7h0M540.4 286.2h0M542.3 294.5h0M532.5 285.3h0M537.3 282.7h0M536.7 289.5h0"/><path d="M533.7 290.4h0M541.8 292.8h0M533.3 285.0h0M540.8 282.7h0M535.3 283.1h0M531.2 286.7h0"/><path d="M543.6 288.6h0M531.2 291.5h0M530.5 283.5h0M529.4 290.7h0M534.3 283.6h0M529.4 283.1h0"/><path d="M531.4 283.7h0M543.3 283.4h0M532.9 282.7h0M539.9 290.0h0M532.2 285.9h0M529.2 290.9h0"/><path d="M529.1 292.2h0M530.9 291.7h0M543.5 286.0h0M535.9 287.9h0M532.8 286.5h0M529.7 288.2h0"/><path d="M538.8 286.2h0M533.8 284.6h0M531.7 287.2h0M535.6 284.2h0M539.8 284.9h0M534.2 292.1h0"/><path d="M537.5 288.6h0M531.9 288.6h0M537.5 283.9h0M529.6 285.0h0M543.0 284.6h0M543.1 290.8h0"/><path d="M537.8 282.8h0M536.2 293.8h0M535.0 282.7h0M540.4 293.8h0M537.8 285.1h0M539.8 284.3h0"/><path d="M535.7 289.2h0M535.1 291.9h0M540.0 285.6h0M531.8 288.7h0M534.2 289.6h0M532.7 287.8h0"/><path d="M532.1 285.3h0M542.1 286.6h0M533.7 284.9h0M540.2 289.1h0M529.7 290.3h0M543.1 293.0h0"/><path d="M536.1 292.2h0M540.3 290.1h0M530.6 292.7h0M538.2 289.1h0M541.3 283.2h0M533.4 289.3h0"/><path d="M530.4 284.5h0M534.8 293.3h0M540.7 291.2h0M540.6 287.3h0M530.0 294.6h0M533.9 285.8h0"/><path d="M542.9 287.7h0M533.4 291.0h0M530.3 297.1h0M542.2 289.3h0M541.5 288.6h0M535.8 289.6h0"/><path d="M539.6 305.3h0M540.4 315.7h0M541.7 303.5h0"/></g>
<g stroke="#267326" stroke-opacity="0.55" stroke-width="2.0" stroke-linecap="round" fill="none"><path d="M604.9 226.8h0M606.4 234.8h0M609.2 217.5h0M609.4 233.2h0M612.7 237.3h0M611.8 234.1h0"/><path d="M606.7 213.9h0M616.9 214.0h0M615.1 230.9h0M607.1 220.1h0M606.9 233.5h0M606.0 232.9h0"/><path d="M612.1 229.8h0M614.0 233.3h0M615.2 221.5h0M607.9 239.4h0M617.5 222.7h0M618.0 223.8h0"/><path d="M611.5 236.7h0M606.1 232.1h0M606.9 228.8h0M615.2 231.9h0M605.3 218.7h0M613.8 228.1h0"/><path d="M615.2 224.6h0M604.6 233.6h0M606.5 217.4h0M608.0 220.4h0M611.0 221.4h0M617.2 219.1h0"/><path d="M616.4 232.0h0M610.2 223.7h0M604.5 212.1h0M612.5 241.0h0M607.3 229.4h0M608.7 231.2h0"/><path d="M618.5 225.9h0M608.7 241.7h0M610.3 224.2h0M614.5 223.3h0M618.5 233.4h0M605.2 227.3h0"/><path d="M613.3 215.1h0M614.4 242.2h0M606.2 220.4h0M605.8 215.6h0M609.4 226.3h0M609.5 231.1h0"/><path d="M614.9 211.7h0M619.0 223.0h0M614.4 231.0h0M610.8 232.5h0M619.5 223.7h0M618.5 218.1h0"/><path d="M611.0 215.1h0M611.4 237.0h0M612.2 231.8h0M605.9 227.7h0M614.1 240.1h0M615.1 228.3h0"/><path d="M611.5 233.3h0M613.2 223.0h0M618.1 232.4h0M613.8 233.7h0M614.8 230.6h0M617.7 227.9h0"/><path d="M615.5 226.0h0M611.3 214.6h0M618.8 229.6h0M618.7 225.2h0M605.5 231.7h0M619.5 222.8h0"/><path d="M606.8 240.1h0M617.7 220.6h0M614.1 241.8h0M616.2 231.2h0M609.6 232.7h0M608.7 231.6h0"/><path d="M607.0 227.6h0M606.1 233.4h0M606.0 232.3h0M606.9 242.4h0M616.8 226.5h0M612.5 244.1h0"/><path d="M617.4 235.9h0M619.3 228.8h0M611.0 218.7h0M607.0 227.6h0M617.9 214.5h0M606.0 219.7h0"/><path d="M612.1 233.2h0M617.1 243.5h0M606.2 228.9h0M608.4 242.9h0M614.2 236.3h0M605.8 222.8h0"/><path d="M617.5 235.3h0M615.7 219.2h0M612.7 211.6h0M616.1 226.6h0M606.4 230.4h0M617.2 238.6h0"/><path d="M612.5 221.6h0M610.1 240.4h0M616.7 218.4h0M611.2 213.0h0M605.0 224.4h0M614.9 234.8h0"/><path d="M604.9 231.1h0M612.9 230.8h0M607.6 229.8h0M610.6 234.0h0M610.7 223.8h0M614.9 238.0h0"/><path d="M614.0 219.7h0M609.6 222.4h0M607.8 227.4h0M616.1 228.5h0M605.3 230.7h0M613.2 236.6h0"/><path d="M615.4 241.1h0M613.9 231.0h0M604.7 220.6h0M605.6 213.3h0M614.1 234.7h0M616.3 227.2h0"/><path d="M613.9 226.6h0M619.3 216.4h0M614.9 224.5h0M610.8 219.1h0M618.8 241.3h0M607.9 216.5h0"/><path d="M606.0 224.1h0M610.2 224.0h0M604.7 228.0h0M612.9 231.9h0M612.4 230.7h0M607.2 232.8h0"/><path d="M613.6 227.9h0M611.4 234.2h0M614.9 228.0h0M616.3 219.5h0M616.4 218.1h0M614.7 233.2h0"/><path d="M605.8 241.8h0M613.0 220.7h0M614.4 227.6h0M607.3 242.2h0M609.9 231.5h0M612.2 233.1h0"/><path d="M608.4 232.3h0M605.6 217.2h0M608.6 223.7h0M610.6 225.3h0M616.1 224.2h0M619.3 228.8h0"/><path d="M617.2 224.5h0M617.9 238.2h0M619.2 219.1h0M612.1 234.5h0M613.7 234.1h0M604.7 222.2h0"/><path d="M615.3 231.1h0M617.0 232.7h0M609.6 233.1h0M613.6 224.9h0M605.8 219.4h0M618.5 223.8h0"/><path d="M610.8 240.8h0M611.3 221.9h0M607.7 230.5h0M617.5 227.8h0M618.8 220.4h0M610.6 231.7h0"/><path d="M612.3 229.0h0M608.7 231.9h0M615.0 237.2h0M613.7 222.7h0M617.2 223.0h0M604.6 232.5h0"/><path d="M612.0 236.7h0M619.0 214.5h0M604.7 223.4h0M613.8 238.4h0M610.0 218.1h0M606.1 235.2h0"/><path d="M608.9 231.3h0M618.9 227.8h0M607.6 227.7h0M611.5 214.2h0M617.5 240.9h0M606.0 215.9h0"/><path d="M604.6 227.1h0M613.5 233.9h0M613.8 220.1h0M604.9 228.1h0M617.0 231.3h0M616.0 224.8h0"/><path d="M613.4 218.4h0M608.0 230.0h0M618.3 226.4h0M607.7 228.7h0M619.5 231.4h0M612.7 217.8h0"/><path d="M618.1 226.3h0M612.6 218.5h0M613.5 238.8h0M618.6 211.6h0M611.0 224.2h0M609.1 224.1h0"/><path d="M619.0 227.7h0M619.4 218.6h0M606.2 216.2h0M617.4 235.2h0M615.9 228.2h0M607.5 223.4h0"/><path d="M607.8 211.6h0M605.2 230.7h0M617.0 229.6h0M605.5 233.4h0M617.0 237.0h0M616.4 235.5h0"/><path d="M619.3 223.9h0M606.0 223.7h0M616.6 231.1h0M605.6 223.6h0M606.0 230.4h0M617.2 233.9h0"/><path d="M606.4 240.1h0M615.5 239.8h0M619.3 219.1h0M611.6 225.9h0M610.7 232.1h0M617.9 227.0h0"/><path d="M614.0 223.2h0M619.3 232.5h0M614.8 215.8h0M611.1 216.8h0M605.0 216.3h0M617.9 228.1h0"/></g>
<g stroke="#267326" stroke-opacity="0.55" stroke-width="2.0" stroke-linecap="round" fill="none"><path d="M604.8 300.7h0M605.1 282.6h0M610.7 289.4h0M615.3 287.0h0M613.0 284.5h0M619.0 293.3h0"/><path d="M617.8 282.5h0M617.9 294.6h0M612.5 285.5h0M612.1 300.2h0M614.8 293.1h0M613.9 290.9h0"/><path d="M606.9 285.7h0M612.6 295.5h0M611.2 289.5h0M611.8 288.0h0M611.7 289.0h0M612.0 298.5h0"/><path d="M613.5 287.3h0M609.1 290.8h0M606.6 290.9h0M619.4 290.8h0M615.7 299.7h0M608.6 290.6h0"/><path d="M616.9 290.1h0M616.2 285.2h0M609.3 286.9h0M608.6 304.0h0M607.3 283.1h0M604.6 284.5h0"/><path d="M608.1 289.1h0M618.1 285.4h0M619.1 292.4h0M613.9 284.3h0M619.1 284.6h0M605.1 284.4h0"/><path d="M612.6 282.5h0M619.1 295.7h0M608.3 284.2h0M604.6 289.7h0M618.5 299.7h0M613.6 291.1h0"/><path d="M618.5 289.2h0M605.6 291.8h0M616.9 287.0h0M613.2 285.7h0M617.5 297.2h0M609.1 289.1h0"/><path d="M604.7 287.2h0M613.9 293.1h0M609.5 290.8h0M606.7 288.2h0M606.7 286.4h0M605.7 287.9h0"/><path d="M613.5 297.2h0M616.1 292.4h0M605.7 288.0h0M607.2 292.3h0M616.8 292.2h0M608.0 298.5h0"/><path d="M613.2 287.6h0M607.1 287.4h0M616.7 291.4h0M613.2 287.7h0M605.6 291.0h0M609.4 282.0h0"/><path d="M614.5 291.6h0M607.9 285.1h0M606.3 286.7h0M610.3 292.2h0M604.6 290.1h0M605.2 286.9h0"/><path d="M606.0 288.9h0M608.9 285.1h0M616.7 290.6h0M617.9 293.0h0M610.3 294.6h0M615.5 286.6h0"/><path d="M616.8 291.9h0M619.1 294.0h0M607.7 286.2h0M614.9 298.2h0M617.9 283.4h0M615.6 280.5h0"/><path d="M604.9 293.3h0M617.0 283.0h0M616.0 282.3h0M613.4 294.1h0M604.9 284.6h0M605.5 284.7h0"/><path d="M604.4 294.4h0M612.7 294.8h0M613.4 286.1h0M605.8 301.5h0M617.0 294.8h0M610.5 288.4h0"/><path d="M606.4 282.3h0M613.2 291.5h0M608.3 284.0h0M607.6 298.4h0M607.5 292.9h0M616.3 297.2h0"/><path d="M605.8 287.1h0M607.9 291.4h0M606.4 286.4h0M614.4 285.8h0M614.6 290.9h0M610.8 297.8h0"/><path d="M606.6 296.6h0M604.6 298.2h0M618.4 289.4h0M613.5 295.8h0M605.2 296.6h0M614.0 300.3h0"/><path d="M617.0 301.8h0M607.4 288.8h0M618.7 288.7h0M606.9 302.0h0M611.0 291.9h0M610.9 296.2h0"/><path d="M618.9 297.3h0M611.6 281.3h0M615.5 282.3h0M615.3 282.7h0M608.6 286.9h0M611.3 287.1h0"/><path d="M611.3 286.9h0M609.3 286.6h0M607.3 284.6h0M606.8 290.5h0M619.3 291.2h0M618.4 282.5h0"/><path d="M606.7 287.8h0M619.4 291.8h0M609.5 281.5h0M615.8 292.4h0M611.4 295.3h0M611.5 292.7h0"/><path d="M610.8 293.6h0M604.8 292.3h0M612.2 292.5h0M608.2 294.0h0M618.3 295.1h0M613.9 281.7h0"/><path d="M608.6 281.5h0M617.0 294.1h0M613.2 294.6h0M614.0 291.1h0M615.5 292.2h0M615.4 283.3h0"/><path d="M607.6 284.7h0M617.5 283.1h0M615.6 283.9h0M615.8 286.3h0M615.6 287.1h0M607.9 288.0h0"/><path d="M619.2 281.8h0M615.4 284.7h0M618.2 287.9h0M608.6 292.3h0M609.0 295.6h0M617.7 300.0h0"/><path d="M619.5 284.4h0M614.9 283.5h0M606.6 286.7h0M608.7 287.6h0M612.6 284.1h0M604.4 298.8h0"/><path d="M609.4 284.8h0M612.9 282.1h0M618.4 290.0h0M614.8 291.5h0M617.9 289.6h0M607.4 295.9h0"/><path d="M617.6 297.3h0M607.6 285.6h0M608.1 302.9h0M614.3 287.4h0M608.0 289.0h0M604.5 291.1h0"/><path d="M615.0 286.7h0M605.3 287.1h0M614.0 295.8h0M605.9 294.0h0M612.0 285.7h0M618.0 296.7h0"/><path d="M610.7 292.2h0M607.4 290.7h0M617.9 294.8h0M618.2 286.3h0M611.5 295.6h0M615.5 292.3h0"/><path d="M608.0 285.0h0M604.6 291.2h0M607.7 288.8h0M613.4 283.7h0M616.2 290.0h0M606.5 291.3h0"/><path d="M606.4 294.7h0M608.8 298.6h0M608.3 285.9h0M609.6 301.3h0M615.7 292.8h0M609.8 296.7h0"/><path d="M615.6 288.3h0M614.2 285.4h0M618.2 292.4h0M613.3 296.5h0M619.1 287.0h0M610.0 291.4h0"/><path d="M612.6 290.4h0M607.3 294.2h0M607.4 290.9h0M609.6 287.1h0M617.3 287.5h0M618.0 292.4h0"/><path d="M611.2 282.0h0M609.7 297.7h0M609.3 284.5h0M612.9 290.9h0M611.3 286.5h0M619.4 287.1h0"/><path d="M614.8 289.6h0M609.8 288.8h0M612.9 293.6h0M611.4 292.7h0M618.9 283.7h0M607.1 291.5h0"/><path d="M616.5 294.2h0M608.6 292.2h0M610.3 288.1h0M604.9 302.5h0M608.1 287.7h0M609.1 281.9h0"/><path d="M608.3 288.6h0M613.9 293.3h0M606.1 287.9h0M608.9 290.2h0M612.6 291.6h0M612.4 289.4h0"/><path d="M613.2 306.8h0M606.9 314.9h0M608.3 317.5h0M616.0 344.4h0M619.4 315.5h0"/></g>
<g stroke="#8e2828" stroke-opacity="0.55" stroke-width="2.0" stroke-linecap="round" fill="none"><path d="M685.5 231.1h0M682.1 236.4h0M679.8 236.3h0M685.0 230.4h0M688.9 231.0h0M683.7 238.3h0"/><path d="M681.6 232.8h0M686.8 231.4h0M681.6 229.6h0M682.9 228.9h0M687.2 226.6h0M690.6 235.3h0"/><path d="M684.8 232.9h0M690.1 237.7h0M684.4 231.6h0M681.7 227.9h0M691.7 233.5h0M689.4 234.5h0"/><path d="M689.6 233.4h0M690.9 236.5h0M687.4 232.6h0M680.6 226.5h0M681.9 229.5h0M687.8 228.6h0"/><path d="M689.6 234.2h0M680.2 234.9h0M690.7 234.0h0M693.5 233.4h0M688.8 236.1h0M693.0 239.9h0"/><path d="M687.0 231.5h0M691.0 231.5h0M680.0 229.4h0M687.7 232.2h0M691.0 229.5h0M691.6 229.7h0"/><path d="M693.6 231.2h0M685.8 227.9h0M680.3 229.6h0M690.9 237.4h0M694.6 236.1h0M693.9 228.2h0"/><path d="M692.7 238.9h0M679.9 235.2h0M690.0 239.7h0M693.6 233.7h0M684.2 228.1h0M689.0 234.5h0"/><path d="M688.6 235.1h0M685.4 232.1h0M693.6 232.2h0M681.0 234.6h0M682.2 235.8h0M691.0 232.2h0"/><path d="M691.2 238.8h0M686.9 235.4h0M692.8 235.7h0M682.5 239.5h0M683.4 228.1h0M680.2 235.3h0"/><path d="M692.3 231.6h0M684.2 232.0h0M688.9 234.3h0M686.9 237.7h0M687.8 233.7h0M683.7 228.9h0"/><path d="M681.4 224.4h0M691.8 229.9h0M686.4 229.2h0M684.9 234.5h0M687.8 235.7h0M680.3 228.5h0"/><path d="M690.9 226.9h0M684.7 240.9h0M684.5 227.0h0M683.6 236.5h0M680.3 229.5h0M690.7 233.4h0"/><path d="M689.7 236.0h0M691.8 231.7h0M686.8 225.9h0M692.7 231.7h0M685.8 230.2h0M687.7 232.4h0"/><path d="M692.0 237.2h0M684.2 228.2h0M686.7 231.6h0M685.0 227.0h0M680.4 226.5h0M694.3 226.2h0"/><path d="M692.5 230.4h0M691.5 238.6h0M679.8 240.1h0M693.4 234.3h0M681.6 233.6h0M693.4 235.2h0"/><path d="M685.2 238.4h0M679.9 237.5h0M691.1 230.1h0M680.0 235.7h0M692.1 234.3h0M681.6 229.4h0"/><path d="M692.2 232.7h0M680.3 241.0h0M681.5 238.5h0M690.0 238.7h0M688.9 235.4h0M690.6 234.1h0"/><path d="M681.5 227.2h0M688.2 231.6h0M692.5 237.3h0M691.9 232.2h0M692.5 225.9h0M690.2 236.5h0"/><path d="M692.0 229.9h0M687.3 234.1h0M686.8 230.3h0M688.8 225.7h0M692.1 236.7h0M682.4 226.3h0"/><path d="M683.8 231.2h0M692.2 238.0h0M683.2 239.8h0M681.4 234.2h0M691.7 237.2h0M694.5 228.3h0"/><path d="M681.6 234.6h0M680.2 232.7h0M687.3 228.5h0M688.3 240.1h0M689.5 225.2h0M688.9 235.4h0"/><path d="M687.0 230.3h0M681.2 231.8h0M685.1 234.3h0M686.8 227.2h0M694.6 235.8h0M687.1 232.5h0"/><path d="M689.4 234.6h0M689.6 233.9h0M689.0 232.7h0M689.8 234.1h0M681.3 232.5h0M683.0 228.9h0"/><path d="M682.7 232.0h0M686.1 233.9h0M684.2 227.7h0M693.2 238.2h0M681.0 233.1h0M680.5 231.8h0"/><path d="M690.9 233.7h0M680.6 226.9h0M680.4 236.7h0M683.6 231.4h0M685.5 229.4h0M687.2 231.7h0"/><path d="M688.6 236.6h0M691.0 235.5h0M693.7 237.6h0M683.5 236.2h0M686.5 229.3h0M685.4 240.8h0"/><path d="M682.4 231.1h0M688.1 236.3h0M692.5 227.4h0M683.0 227.9h0M682.0 234.4h0M680.9 237.2h0"/><path d="M685.7 232.4h0M694.8 238.7h0M689.3 231.0h0M681.4 227.5h0M694.3 229.3h0M682.9 235.2h0"/><path d="M686.4 228.7h0M688.7 226.2h0M694.4 235.4h0M692.9 240.3h0M684.9 232.0h0M694.2 236.8h0"/><path d="M688.6 232.4h0M692.0 232.9h0M684.3 233.3h0M689.2 234.3h0M690.6 233.7h0M694.7 234.0h0"/><path d="M692.5 232.1h0M688.7 237.2h0M680.8 225.4h0M690.6 234.2h0M681.5 236.0h0M693.8 232.2h0"/><path d="M694.1 234.7h0M692.8 233.2h0M681.2 239.6h0M688.7 238.4h0M689.3 239.1h0M691.5 233.4h0"/><path d="M692.7 233.5h0M681.5 231.7h0M682.6 236.5h0M679.7 233.8h0M694.6 233.4h0M687.0 233.8h0"/><path d="M688.7 234.9h0M692.8 228.5h0M682.5 238.4h0M684.6 237.5h0M689.5 225.1h0M684.8 234.2h0"/><path d="M690.9 236.8h0M685.8 229.3h0M688.5 230.9h0M687.9 232.0h0M685.4 236.4h0M694.4 232.5h0"/><path d="M692.1 233.9h0M683.9 237.0h0M688.0 234.9h0M688.8 232.4h0M683.1 230.4h0M682.0 237.0h0"/><path d="M686.0 233.2h0M688.5 231.5h0M692.3 229.5h0M688.0 229.0h0M687.2 227.7h0M686.6 231.6h0"/><path d="M680.2 229.5h0M684.4 235.1h0M691.3 237.7h0M689.4 234.6h0M680.9 231.8h0M693.1 238.2h0"/><path d="M692.9 235.4h0M692.5 232.0h0M691.1 232.2h0M684.6 229.9h0M683.6 238.8h0M685.3 237.9h0"/><path d="M685.9 216.4h0"/></g>
<g stroke="#8e2828" stroke-opacity="0.55" stroke-width="2.0" stroke-linecap="round" fill="none"><path d="M682.9 284.6h0M689.0 283.8h0M692.8 284.6h0M686.4 286.2h0M692.0 287.6h0M688.7 283.6h0"/><path d="M679.7 283.3h0M694.4 292.1h0M693.5 282.9h0M685.4 290.0h0M692.0 283.3h0M682.7 295.6h0"/><path d="M689.4 287.7h0M689.3 283.7h0M685.5 283.2h0M692.6 293.4h0M681.5 283.7h0M682.3 289.0h0"/><path d="M688.3 285.7h0M690.6 283.5h0M679.9 285.4h0M689.9 283.5h0M683.0 295.6h0M687.5 285.8h0"/><path d="M687.2 285.2h0M690.8 285.7h0M685.7 281.9h0M691.4 285.0h0M684.3 288.2h0M694.0 282.6h0"/><path d="M685.0 284.3h0M682.1 294.8h0M684.5 292.9h0M693.9 285.6h0M690.1 284.7h0M684.5 282.7h0"/><path d="M681.2 285.8h0M690.1 289.6h0M690.5 284.5h0M681.7 289.1h0M685.2 290.7h0M692.0 285.1h0"/><path d="M689.0 283.1h0M694.2 290.8h0M688.9 282.0h0M682.2 289.7h0M687.4 291.0h0M690.5 284.0h0"/><path d="M694.8 292.0h0M684.3 283.3h0M681.8 285.7h0M692.3 286.4h0M690.4 284.8h0M681.6 282.1h0"/><path d="M686.8 285.4h0M694.1 289.8h0M686.3 284.1h0M687.8 286.2h0M681.1 283.8h0M694.5 282.9h0"/><path d="M685.3 293.3h0M687.9 292.0h0M684.2 284.2h0M693.9 287.7h0M685.9 296.5h0M689.5 288.9h0"/><path d="M691.9 288.7h0M692.0 287.4h0M687.2 285.6h0M692.3 283.2h0M690.3 287.0h0M684.8 286.4h0"/><path d="M687.1 288.5h0M688.0 284.7h0M688.1 286.7h0M689.8 288.0h0M685.9 285.2h0M692.2 293.3h0"/><path d="M692.8 285.2h0M682.2 282.7h0M691.2 285.9h0M682.1 289.4h0M685.2 291.8h0M691.1 291.0h0"/><path d="M680.0 285.7h0M694.4 290.8h0M682.9 283.6h0M692.6 290.6h0M688.3 286.7h0M687.8 295.8h0"/><path d="M693.8 287.0h0M684.9 282.0h0M694.1 287.8h0M690.9 282.6h0M687.1 284.1h0M686.8 293.2h0"/><path d="M691.9 281.7h0M680.4 285.5h0M683.1 284.0h0M685.0 289.3h0M690.3 293.3h0M693.7 281.8h0"/><path d="M689.8 283.7h0M681.9 291.8h0M692.6 287.1h0M694.5 288.6h0M691.7 284.9h0M684.1 291.8h0"/><path d="M691.5 295.6h0M681.4 282.4h0M688.4 284.0h0M690.5 284.0h0M687.8 294.6h0M684.5 291.4h0"/><path d="M688.1 283.9h0M688.9 286.1h0M686.4 297.5h0M684.0 283.1h0M682.5 287.7h0M694.1 285.5h0"/><path d="M693.9 290.8h0M681.6 285.6h0M682.4 289.4h0M688.0 293.2h0M692.1 286.8h0M688.5 287.2h0"/><path d="M694.6 292.4h0M684.8 281.8h0M685.8 284.6h0M682.2 284.4h0M691.4 288.3h0M683.2 282.9h0"/><path d="M683.3 281.6h0M693.6 288.7h0M682.2 285.8h0M684.7 289.8h0M692.7 293.7h0M683.5 286.9h0"/><path d="M682.9 285.8h0M693.1 286.8h0M693.4 283.8h0M685.0 282.8h0M690.0 286.8h0M689.0 289.7h0"/><path d="M691.3 295.0h0M689.6 297.0h0M681.7 285.1h0M690.1 286.2h0M682.0 290.9h0M692.2 283.4h0"/><path d="M680.8 290.7h0M682.5 284.1h0M687.2 285.2h0M692.1 283.6h0M685.0 285.3h0M685.5 283.4h0"/><path d="M681.9 292.7h0M690.1 294.9h0M684.3 292.0h0M684.4 290.2h0M679.9 290.4h0M683.4 287.3h0"/><path d="M682.1 288.2h0M681.3 283.5h0M682.8 296.5h0M692.3 284.7h0M687.3 287.8h0M693.5 284.6h0"/><path d="M688.1 285.5h0M687.1 289.2h0M688.2 285.9h0M690.2 289.1h0M682.9 286.5h0M683.5 284.5h0"/><path d="M689.3 291.4h0M689.6 292.8h0M687.3 290.2h0M686.2 290.7h0M692.3 295.2h0M681.7 295.1h0"/><path d="M681.3 282.5h0M689.7 287.5h0M691.6 285.5h0M684.6 293.4h0M694.2 286.2h0M684.1 287.0h0"/><path d="M683.5 285.9h0M689.5 291.3h0M688.2 283.5h0M680.0 289.7h0M680.9 282.1h0M681.3 291.3h0"/><path d="M684.9 289.4h0M680.0 293.2h0M691.0 287.2h0M689.3 291.2h0M688.2 282.3h0M683.6 284.0h0"/><path d="M682.0 292.7h0M693.8 285.8h0M686.5 285.2h0M684.1 289.5h0M686.6 282.0h0M687.9 283.4h0"/><path d="M693.2 285.6h0M687.6 286.0h0M683.6 284.0h0M680.8 293.9h0M692.8 285.8h0M691.9 283.6h0"/><path d="M690.3 287.9h0M682.9 291.8h0M693.1 287.0h0M687.1 282.6h0M690.3 290.5h0M680.1 287.3h0"/><path d="M687.4 285.5h0M691.6 281.8h0M691.9 287.8h0M691.7 288.5h0M686.2 288.8h0M683.4 286.0h0"/><path d="M692.7 288.5h0M693.4 283.9h0M693.7 297.2h0M687.6 283.2h0M693.5 282.4h0M679.8 288.0h0"/><path d="M693.2 289.4h0M682.5 288.0h0M682.6 285.0h0M686.1 285.1h0M689.5 284.9h0M683.6 288.1h0"/><path d="M682.6 288.6h0M692.4 283.0h0M688.3 288.2h0M686.3 282.7h0M691.3 290.7h0M689.5 295.3h0"/></g>
</g>
<rect x="423.5" y="195.2" width="300.9" height="156" fill="none" stroke="#a6a6a6" stroke-width="1.2"/>
<line x1="421.9" y1="204.38" x2="423.5" y2="204.38" stroke="#555" stroke-width="0.8"/>
<text x="420.4" y="208.08" font-size="10.5" text-anchor="end" textLength="16.70" lengthAdjust="spacingAndGlyphs">0.6</text>
<line x1="421.9" y1="229.82" x2="423.5" y2="229.82" stroke="#555" stroke-width="0.8"/>
<text x="420.4" y="233.52" font-size="10.5" text-anchor="end" textLength="16.70" lengthAdjust="spacingAndGlyphs">0.4</text>
<line x1="421.9" y1="255.26" x2="423.5" y2="255.26" stroke="#555" stroke-width="0.8"/>
<text x="420.4" y="258.96" font-size="10.5" text-anchor="end" textLength="16.70" lengthAdjust="spacingAndGlyphs">0.2</text>
<line x1="421.9" y1="280.7" x2="423.5" y2="280.7" stroke="#555" stroke-width="0.8"/>
<text x="420.4" y="284.4" font-size="10.5" text-anchor="end" textLength="16.70" lengthAdjust="spacingAndGlyphs">0.0</text>
<line x1="421.9" y1="306.14" x2="423.5" y2="306.14" stroke="#555" stroke-width="0.8"/>
<text x="420.4" y="309.84" font-size="10.5" text-anchor="end" textLength="25.50" lengthAdjust="spacingAndGlyphs">−0.2</text>
<line x1="421.9" y1="331.58" x2="423.5" y2="331.58" stroke="#555" stroke-width="0.8"/>
<text x="420.4" y="335.28" font-size="10.5" text-anchor="end" textLength="25.50" lengthAdjust="spacingAndGlyphs">−0.4</text>
<line x1="461.3" y1="351.2" x2="461.3" y2="352.8" stroke="#555" stroke-width="0.8"/>
<text x="461.3" y="362.4" font-size="10.5" text-anchor="middle" textLength="21.45" lengthAdjust="spacingAndGlyphs">D33</text>
<line x1="536.6" y1="351.2" x2="536.6" y2="352.8" stroke="#555" stroke-width="0.8"/>
<text x="536.6" y="362.4" font-size="10.5" text-anchor="middle" textLength="21.45" lengthAdjust="spacingAndGlyphs">D34</text>
<line x1="611.9" y1="351.2" x2="611.9" y2="352.8" stroke="#555" stroke-width="0.8"/>
<text x="611.9" y="362.4" font-size="10.5" text-anchor="middle" textLength="21.45" lengthAdjust="spacingAndGlyphs">D43</text>
<line x1="687.2" y1="351.2" x2="687.2" y2="352.8" stroke="#555" stroke-width="0.8"/>
<text x="687.2" y="362.4" font-size="10.5" text-anchor="middle" textLength="21.45" lengthAdjust="spacingAndGlyphs">D44</text>
<text x="574" y="377" font-size="14.3" text-anchor="middle" textLength="24.26" lengthAdjust="spacingAndGlyphs">DIE</text>
<text x="390.6" y="272.8" font-size="14.3" text-anchor="middle" textLength="151.92" lengthAdjust="spacingAndGlyphs" transform="rotate(-90 390.6 272.8)">Set/Reset Voltage (V)</text>
<text x="715" y="346.7" font-size="13" text-anchor="end">d</text>
<g clip-path="url(#ce)">
<line x1="74.75" y1="448.8" x2="74.75" y2="457" stroke="#474747" stroke-width="1.0"/>
<line x1="74.75" y1="462.6" x2="74.75" y2="471.4" stroke="#474747" stroke-width="1.0"/>
<line x1="69.88" y1="448.8" x2="79.62" y2="448.8" stroke="#6e6e6e" stroke-width="1.0"/>
<line x1="69.88" y1="471.4" x2="79.62" y2="471.4" stroke="#6e6e6e" stroke-width="1.0"/>
<rect x="65" y="457" width="19.5" height="5.6" fill="#1f77b4" fill-opacity="1.0" stroke="#474747" stroke-width="1.0"/>
<line x1="65" y1="459.6" x2="84.5" y2="459.6" stroke="#474747" stroke-width="1.0"/>
<line x1="74.75" y1="494.7" x2="74.75" y2="498.4" stroke="#474747" stroke-width="1.0"/>
<line x1="74.75" y1="502.9" x2="74.75" y2="508.9" stroke="#474747" stroke-width="1.0"/>
<line x1="69.88" y1="494.7" x2="79.62" y2="494.7" stroke="#6e6e6e" stroke-width="1.0"/>
<line x1="69.88" y1="508.9" x2="79.62" y2="508.9" stroke="#6e6e6e" stroke-width="1.0"/>
<rect x="65" y="498.4" width="19.5" height="4.5" fill="#1f77b4" fill-opacity="1.0" stroke="#474747" stroke-width="1.0"/>
<line x1="65" y1="500.5" x2="84.5" y2="500.5" stroke="#474747" stroke-width="1.0"/>
<line x1="94.4" y1="447.4" x2="94.4" y2="456.3" stroke="#474747" stroke-width="1.0"/>
<line x1="94.4" y1="462" x2="94.4" y2="470.6" stroke="#474747" stroke-width="1.0"/>
<line x1="89.53" y1="447.4" x2="99.28" y2="447.4" stroke="#6e6e6e" stroke-width="1.0"/>
<line x1="89.53" y1="470.6" x2="99.28" y2="470.6" stroke="#6e6e6e" stroke-width="1.0"/>
<rect x="84.65" y="456.3" width="19.5" height="5.7" fill="#ff7f0e" fill-opacity="1.0" stroke="#474747" stroke-width="1.0"/>
<line x1="84.65" y1="458.9" x2="104.15" y2="458.9" stroke="#474747" stroke-width="1.0"/>
<line x1="94.4" y1="495.4" x2="94.4" y2="501.8" stroke="#474747" stroke-width="1.0"/>
<line x1="94.4" y1="508" x2="94.4" y2="517.8" stroke="#474747" stroke-width="1.0"/>
<line x1="89.53" y1="495.4" x2="99.28" y2="495.4" stroke="#6e6e6e" stroke-width="1.0"/>
<line x1="89.53" y1="517.8" x2="99.28" y2="517.8" stroke="#6e6e6e" stroke-width="1.0"/>
<rect x="84.65" y="501.8" width="19.5" height="6.2" fill="#ff7f0e" fill-opacity="1.0" stroke="#474747" stroke-width="1.0"/>
<line x1="84.65" y1="504.6" x2="104.15" y2="504.6" stroke="#474747" stroke-width="1.0"/>
<line x1="114.05" y1="442.4" x2="114.05" y2="454.1" stroke="#474747" stroke-width="1.0"/>
<line x1="114.05" y1="462" x2="114.05" y2="473.6" stroke="#474747" stroke-width="1.0"/>
<line x1="109.18" y1="442.4" x2="118.93" y2="442.4" stroke="#6e6e6e" stroke-width="1.0"/>
<line x1="109.18" y1="473.6" x2="118.93" y2="473.6" stroke="#6e6e6e" stroke-width="1.0"/>
<rect x="104.3" y="454.1" width="19.5" height="7.9" fill="#2ca02c" fill-opacity="1.0" stroke="#474747" stroke-width="1.0"/>
<line x1="104.3" y1="458.1" x2="123.8" y2="458.1" stroke="#474747" stroke-width="1.0"/>
<line x1="114.05" y1="495" x2="114.05" y2="500.2" stroke="#474747" stroke-width="1.0"/>
<line x1="114.05" y1="510" x2="114.05" y2="524.4" stroke="#474747" stroke-width="1.0"/>
<line x1="109.18" y1="495" x2="118.93" y2="495" stroke="#6e6e6e" stroke-width="1.0"/>
<line x1="109.18" y1="524.4" x2="118.93" y2="524.4" stroke="#6e6e6e" stroke-width="1.0"/>
<rect x="104.3" y="500.2" width="19.5" height="9.8" fill="#2ca02c" fill-opacity="1.0" stroke="#474747" stroke-width="1.0"/>
<line x1="104.3" y1="504.8" x2="123.8" y2="504.8" stroke="#474747" stroke-width="1.0"/>
<line x1="148.82" y1="452" x2="148.82" y2="458.1" stroke="#474747" stroke-width="1.0"/>
<line x1="148.82" y1="462.1" x2="148.82" y2="468.2" stroke="#474747" stroke-width="1.0"/>
<line x1="143.94" y1="452" x2="153.69" y2="452" stroke="#6e6e6e" stroke-width="1.0"/>
<line x1="143.94" y1="468.2" x2="153.69" y2="468.2" stroke="#6e6e6e" stroke-width="1.0"/>
<rect x="139.07" y="458.1" width="19.5" height="4" fill="#1f77b4" fill-opacity="1.0" stroke="#474747" stroke-width="1.0"/>
<line x1="139.07" y1="460.3" x2="158.57" y2="460.3" stroke="#474747" stroke-width="1.0"/>
<line x1="148.82" y1="495.3" x2="148.82" y2="498.8" stroke="#474747" stroke-width="1.0"/>
<line x1="148.82" y1="502.9" x2="148.82" y2="507.6" stroke="#474747" stroke-width="1.0"/>
<line x1="143.94" y1="495.3" x2="153.69" y2="495.3" stroke="#6e6e6e" stroke-width="1.0"/>
<line x1="143.94" y1="507.6" x2="153.69" y2="507.6" stroke="#6e6e6e" stroke-width="1.0"/>
<rect x="139.07" y="498.8" width="19.5" height="4.1" fill="#1f77b4" fill-opacity="1.0" stroke="#474747" stroke-width="1.0"/>
<line x1="139.07" y1="500.8" x2="158.57" y2="500.8" stroke="#474747" stroke-width="1.0"/>
<line x1="168.47" y1="442.6" x2="168.47" y2="452.9" stroke="#474747" stroke-width="1.0"/>
<line x1="168.47" y1="459.7" x2="168.47" y2="470.4" stroke="#474747" stroke-width="1.0"/>
<line x1="163.59" y1="442.6" x2="173.34" y2="442.6" stroke="#6e6e6e" stroke-width="1.0"/>
<line x1="163.59" y1="470.4" x2="173.34" y2="470.4" stroke="#6e6e6e" stroke-width="1.0"/>
<rect x="158.72" y="452.9" width="19.5" height="6.8" fill="#ff7f0e" fill-opacity="1.0" stroke="#474747" stroke-width="1.0"/>
<line x1="158.72" y1="456.2" x2="178.22" y2="456.2" stroke="#474747" stroke-width="1.0"/>
<line x1="168.47" y1="495" x2="168.47" y2="501.8" stroke="#474747" stroke-width="1.0"/>
<line x1="168.47" y1="508" x2="168.47" y2="517.1" stroke="#474747" stroke-width="1.0"/>
<line x1="163.59" y1="495" x2="173.34" y2="495" stroke="#6e6e6e" stroke-width="1.0"/>
<line x1="163.59" y1="517.1" x2="173.34" y2="517.1" stroke="#6e6e6e" stroke-width="1.0"/>
<rect x="158.72" y="501.8" width="19.5" height="6.2" fill="#ff7f0e" fill-opacity="1.0" stroke="#474747" stroke-width="1.0"/>
<line x1="158.72" y1="504.6" x2="178.22" y2="504.6" stroke="#474747" stroke-width="1.0"/>
<line x1="188.12" y1="443.5" x2="188.12" y2="453.6" stroke="#474747" stroke-width="1.0"/>
<line x1="188.12" y1="461.4" x2="188.12" y2="472.7" stroke="#474747" stroke-width="1.0"/>
<line x1="183.25" y1="443.5" x2="193" y2="443.5" stroke="#6e6e6e" stroke-width="1.0"/>
<line x1="183.25" y1="472.7" x2="193" y2="472.7" stroke="#6e6e6e" stroke-width="1.0"/>
<rect x="178.37" y="453.6" width="19.5" height="7.8" fill="#2ca02c" fill-opacity="1.0" stroke="#474747" stroke-width="1.0"/>
<line x1="178.37" y1="457.5" x2="197.87" y2="457.5" stroke="#474747" stroke-width="1.0"/>
<line x1="188.12" y1="495" x2="188.12" y2="500.8" stroke="#474747" stroke-width="1.0"/>
<line x1="188.12" y1="508.9" x2="188.12" y2="521.2" stroke="#474747" stroke-width="1.0"/>
<line x1="183.25" y1="495" x2="193" y2="495" stroke="#6e6e6e" stroke-width="1.0"/>
<line x1="183.25" y1="521.2" x2="193" y2="521.2" stroke="#6e6e6e" stroke-width="1.0"/>
<rect x="178.37" y="500.8" width="19.5" height="8.1" fill="#2ca02c" fill-opacity="1.0" stroke="#474747" stroke-width="1.0"/>
<line x1="178.37" y1="504.8" x2="197.87" y2="504.8" stroke="#474747" stroke-width="1.0"/>
<line x1="222.89" y1="443.4" x2="222.89" y2="453.3" stroke="#474747" stroke-width="1.0"/>
<line x1="222.89" y1="460.3" x2="222.89" y2="469.4" stroke="#474747" stroke-width="1.0"/>
<line x1="218.01" y1="443.4" x2="227.76" y2="443.4" stroke="#6e6e6e" stroke-width="1.0"/>
<line x1="218.01" y1="469.4" x2="227.76" y2="469.4" stroke="#6e6e6e" stroke-width="1.0"/>
<rect x="213.14" y="453.3" width="19.5" height="7" fill="#1f77b4" fill-opacity="1.0" stroke="#474747" stroke-width="1.0"/>
<line x1="213.14" y1="456.6" x2="232.64" y2="456.6" stroke="#474747" stroke-width="1.0"/>
<line x1="222.89" y1="494.7" x2="222.89" y2="498.4" stroke="#474747" stroke-width="1.0"/>
<line x1="222.89" y1="503.5" x2="222.89" y2="512.4" stroke="#474747" stroke-width="1.0"/>
<line x1="218.01" y1="494.7" x2="227.76" y2="494.7" stroke="#6e6e6e" stroke-width="1.0"/>
<line x1="218.01" y1="512.4" x2="227.76" y2="512.4" stroke="#6e6e6e" stroke-width="1.0"/>
<rect x="213.14" y="498.4" width="19.5" height="5.1" fill="#1f77b4" fill-opacity="1.0" stroke="#474747" stroke-width="1.0"/>
<line x1="213.14" y1="500.8" x2="232.64" y2="500.8" stroke="#474747" stroke-width="1.0"/>
<line x1="242.54" y1="443.4" x2="242.54" y2="453.6" stroke="#474747" stroke-width="1.0"/>
<line x1="242.54" y1="459.7" x2="242.54" y2="469.1" stroke="#474747" stroke-width="1.0"/>
<line x1="237.66" y1="443.4" x2="247.41" y2="443.4" stroke="#6e6e6e" stroke-width="1.0"/>
<line x1="237.66" y1="469.1" x2="247.41" y2="469.1" stroke="#6e6e6e" stroke-width="1.0"/>
<rect x="232.79" y="453.6" width="19.5" height="6.1" fill="#ff7f0e" fill-opacity="1.0" stroke="#474747" stroke-width="1.0"/>
<line x1="232.79" y1="457" x2="252.29" y2="457" stroke="#474747" stroke-width="1.0"/>
<line x1="242.54" y1="495" x2="242.54" y2="501.4" stroke="#474747" stroke-width="1.0"/>
<line x1="242.54" y1="506.2" x2="242.54" y2="513.4" stroke="#474747" stroke-width="1.0"/>
<line x1="237.66" y1="495" x2="247.41" y2="495" stroke="#6e6e6e" stroke-width="1.0"/>
<line x1="237.66" y1="513.4" x2="247.41" y2="513.4" stroke="#6e6e6e" stroke-width="1.0"/>
<rect x="232.79" y="501.4" width="19.5" height="4.8" fill="#ff7f0e" fill-opacity="1.0" stroke="#474747" stroke-width="1.0"/>
<line x1="232.79" y1="503.9" x2="252.29" y2="503.9" stroke="#474747" stroke-width="1.0"/>
<line x1="262.19" y1="442.3" x2="262.19" y2="453.3" stroke="#474747" stroke-width="1.0"/>
<line x1="262.19" y1="461.7" x2="262.19" y2="473.8" stroke="#474747" stroke-width="1.0"/>
<line x1="257.31" y1="442.3" x2="267.06" y2="442.3" stroke="#6e6e6e" stroke-width="1.0"/>
<line x1="257.31" y1="473.8" x2="267.06" y2="473.8" stroke="#6e6e6e" stroke-width="1.0"/>
<rect x="252.44" y="453.3" width="19.5" height="8.4" fill="#2ca02c" fill-opacity="1.0" stroke="#474747" stroke-width="1.0"/>
<line x1="252.44" y1="458" x2="271.94" y2="458" stroke="#474747" stroke-width="1.0"/>
<line x1="262.19" y1="495.3" x2="262.19" y2="501.6" stroke="#474747" stroke-width="1.0"/>
<line x1="262.19" y1="509.8" x2="262.19" y2="522.3" stroke="#474747" stroke-width="1.0"/>
<line x1="257.31" y1="495.3" x2="267.06" y2="495.3" stroke="#6e6e6e" stroke-width="1.0"/>
<line x1="257.31" y1="522.3" x2="267.06" y2="522.3" stroke="#6e6e6e" stroke-width="1.0"/>
<rect x="252.44" y="501.6" width="19.5" height="8.2" fill="#2ca02c" fill-opacity="1.0" stroke="#474747" stroke-width="1.0"/>
<line x1="252.44" y1="505.3" x2="271.94" y2="505.3" stroke="#474747" stroke-width="1.0"/>
<line x1="296.96" y1="453.5" x2="296.96" y2="458.9" stroke="#474747" stroke-width="1.0"/>
<line x1="296.96" y1="462.6" x2="296.96" y2="466.8" stroke="#474747" stroke-width="1.0"/>
<line x1="292.09" y1="453.5" x2="301.84" y2="453.5" stroke="#6e6e6e" stroke-width="1.0"/>
<line x1="292.09" y1="466.8" x2="301.84" y2="466.8" stroke="#6e6e6e" stroke-width="1.0"/>
<rect x="287.21" y="458.9" width="19.5" height="3.7" fill="#1f77b4" fill-opacity="1.0" stroke="#474747" stroke-width="1.0"/>
<line x1="287.21" y1="461" x2="306.71" y2="461" stroke="#474747" stroke-width="1.0"/>
<line x1="296.96" y1="495" x2="296.96" y2="497.3" stroke="#474747" stroke-width="1.0"/>
<line x1="296.96" y1="501.6" x2="296.96" y2="507.6" stroke="#474747" stroke-width="1.0"/>
<line x1="292.09" y1="495" x2="301.84" y2="495" stroke="#6e6e6e" stroke-width="1.0"/>
<line x1="292.09" y1="507.6" x2="301.84" y2="507.6" stroke="#6e6e6e" stroke-width="1.0"/>
<rect x="287.21" y="497.3" width="19.5" height="4.3" fill="#1f77b4" fill-opacity="1.0" stroke="#474747" stroke-width="1.0"/>
<line x1="287.21" y1="499.4" x2="306.71" y2="499.4" stroke="#474747" stroke-width="1.0"/>
<line x1="316.61" y1="436.7" x2="316.61" y2="449.8" stroke="#474747" stroke-width="1.0"/>
<line x1="316.61" y1="458.7" x2="316.61" y2="471.5" stroke="#474747" stroke-width="1.0"/>
<line x1="311.74" y1="436.7" x2="321.49" y2="436.7" stroke="#6e6e6e" stroke-width="1.0"/>
<line x1="311.74" y1="471.5" x2="321.49" y2="471.5" stroke="#6e6e6e" stroke-width="1.0"/>
<rect x="306.86" y="449.8" width="19.5" height="8.9" fill="#ff7f0e" fill-opacity="1.0" stroke="#474747" stroke-width="1.0"/>
<line x1="306.86" y1="454.8" x2="326.36" y2="454.8" stroke="#474747" stroke-width="1.0"/>
<line x1="316.61" y1="495.4" x2="316.61" y2="501.8" stroke="#474747" stroke-width="1.0"/>
<line x1="316.61" y1="508" x2="316.61" y2="517.5" stroke="#474747" stroke-width="1.0"/>
<line x1="311.74" y1="495.4" x2="321.49" y2="495.4" stroke="#6e6e6e" stroke-width="1.0"/>
<line x1="311.74" y1="517.5" x2="321.49" y2="517.5" stroke="#6e6e6e" stroke-width="1.0"/>
<rect x="306.86" y="501.8" width="19.5" height="6.2" fill="#ff7f0e" fill-opacity="1.0" stroke="#474747" stroke-width="1.0"/>
<line x1="306.86" y1="504.8" x2="326.36" y2="504.8" stroke="#474747" stroke-width="1.0"/>
<line x1="336.26" y1="443.2" x2="336.26" y2="454.4" stroke="#474747" stroke-width="1.0"/>
<line x1="336.26" y1="461.7" x2="336.26" y2="472.9" stroke="#474747" stroke-width="1.0"/>
<line x1="331.38" y1="443.2" x2="341.13" y2="443.2" stroke="#6e6e6e" stroke-width="1.0"/>
<line x1="331.38" y1="472.9" x2="341.13" y2="472.9" stroke="#6e6e6e" stroke-width="1.0"/>
<rect x="326.51" y="454.4" width="19.5" height="7.3" fill="#2ca02c" fill-opacity="1.0" stroke="#474747" stroke-width="1.0"/>
<line x1="326.51" y1="456.9" x2="346.01" y2="456.9" stroke="#474747" stroke-width="1.0"/>
<line x1="336.26" y1="495.4" x2="336.26" y2="502.5" stroke="#474747" stroke-width="1.0"/>
<line x1="336.26" y1="509.4" x2="336.26" y2="520.7" stroke="#474747" stroke-width="1.0"/>
<line x1="331.38" y1="495.4" x2="341.13" y2="495.4" stroke="#6e6e6e" stroke-width="1.0"/>
<line x1="331.38" y1="520.7" x2="341.13" y2="520.7" stroke="#6e6e6e" stroke-width="1.0"/>
<rect x="326.51" y="502.5" width="19.5" height="6.9" fill="#2ca02c" fill-opacity="1.0" stroke="#474747" stroke-width="1.0"/>
<line x1="326.51" y1="505.9" x2="346.01" y2="505.9" stroke="#474747" stroke-width="1.0"/>
<g stroke="#22578a" stroke-opacity="0.5" stroke-width="1.8" stroke-linecap="round" fill="none"><path d="M73.5 460.1h0M74.3 450.5h0M72.8 453.3h0M76.9 458.3h0M74.0 458.1h0M74.5 457.2h0"/><path d="M75.2 462.1h0M76.9 457.6h0M74.3 456.7h0M76.9 453.5h0M74.8 470.0h0M74.9 467.2h0"/><path d="M74.9 457.3h0M72.2 462.0h0M74.4 458.5h0M73.1 453.3h0M72.2 450.4h0M76.3 457.5h0"/><path d="M73.0 453.7h0M74.6 461.4h0M75.9 460.5h0M75.0 464.3h0M73.8 458.5h0M74.8 456.4h0"/><path d="M75.0 452.7h0M76.2 469.0h0M72.7 461.9h0M75.1 458.3h0M73.4 458.7h0M73.6 465.1h0"/><path d="M76.2 467.0h0M74.8 454.8h0M75.1 453.9h0M76.1 462.9h0M76.9 461.6h0M74.5 458.8h0"/><path d="M75.3 457.0h0M74.8 467.3h0M74.8 461.6h0M75.8 458.2h0M74.5 457.3h0M74.9 459.0h0"/><path d="M74.6 457.6h0M77.0 462.2h0M75.8 458.2h0M76.7 456.4h0M77.0 463.3h0M73.5 460.8h0"/><path d="M75.1 462.3h0M77.1 468.6h0M76.5 457.6h0M72.9 458.3h0M72.8 452.5h0M74.4 458.1h0"/><path d="M72.5 461.3h0M73.4 464.4h0M72.5 454.9h0M75.6 450.2h0M76.2 463.8h0M76.8 463.7h0"/><path d="M73.0 460.8h0M75.9 458.6h0M75.6 457.2h0M72.9 457.4h0M76.7 459.8h0M77.2 457.4h0"/><path d="M73.3 457.9h0M77.1 459.3h0M74.2 451.4h0M74.7 460.6h0M77.3 460.0h0M76.5 462.6h0"/><path d="M73.0 461.1h0M74.4 457.3h0M74.8 460.4h0M73.9 468.5h0M73.2 459.5h0M73.8 451.4h0"/><path d="M75.9 449.7h0M72.3 456.9h0M75.0 464.3h0M74.4 460.7h0M72.2 459.0h0M73.9 455.9h0"/><path d="M75.4 460.3h0M74.8 462.7h0M72.5 463.7h0M77.3 464.1h0M76.2 458.3h0M77.2 459.7h0"/><path d="M72.7 457.7h0M73.5 461.7h0M72.4 466.0h0M76.2 462.7h0M73.6 466.6h0M72.8 457.6h0"/><path d="M74.3 457.5h0M76.9 456.5h0M76.4 465.7h0M73.5 456.0h0M72.9 458.7h0M76.9 463.8h0"/><path d="M75.1 465.7h0M75.8 459.1h0M72.6 462.0h0M72.4 466.4h0M75.7 462.4h0M74.4 451.6h0"/><path d="M72.5 457.4h0M77.0 463.7h0M75.4 459.1h0M76.3 464.6h0M72.6 461.2h0M76.6 457.0h0"/><path d="M72.5 464.6h0M76.6 456.7h0M74.5 462.2h0M73.9 467.9h0M75.0 460.5h0M77.0 458.5h0"/><path d="M73.5 446.3h0"/></g>
<g stroke="#22578a" stroke-opacity="0.5" stroke-width="1.8" stroke-linecap="round" fill="none"><path d="M73.0 499.5h0M73.2 498.6h0M76.9 498.5h0M74.7 499.1h0M73.3 502.3h0M76.9 501.7h0"/><path d="M77.3 499.1h0M74.5 498.9h0M72.9 499.9h0M73.2 496.1h0M72.6 502.7h0M73.9 500.1h0"/><path d="M72.6 501.7h0M73.4 505.5h0M73.5 497.7h0M75.1 505.7h0M76.8 504.0h0M76.0 496.9h0"/><path d="M74.3 500.6h0M74.3 498.5h0M74.9 496.3h0M74.1 498.6h0M73.9 503.4h0M72.5 496.4h0"/><path d="M73.6 499.0h0M77.2 500.9h0M72.8 501.1h0M74.8 503.0h0M75.4 496.3h0M76.6 505.9h0"/><path d="M73.3 500.5h0M73.6 501.6h0M73.4 496.1h0M74.2 494.9h0M74.5 500.7h0M77.1 500.6h0"/><path d="M76.6 499.0h0M76.7 499.6h0M72.3 497.8h0M72.3 497.7h0M75.8 505.5h0M76.8 502.9h0"/><path d="M74.6 499.9h0M75.2 495.3h0M72.2 503.3h0M74.2 497.8h0M77.0 507.1h0M76.4 497.2h0"/><path d="M76.6 503.6h0M77.2 504.6h0M73.4 504.1h0M72.7 496.2h0M73.0 498.7h0M74.9 500.8h0"/><path d="M75.7 504.7h0M77.0 497.5h0M75.9 497.1h0M75.5 500.1h0M76.1 497.1h0M74.5 497.6h0"/><path d="M75.0 499.9h0M72.4 500.7h0M76.2 502.3h0M73.4 500.0h0M76.9 505.0h0M75.5 501.6h0"/><path d="M73.7 497.9h0M72.8 497.5h0M73.5 498.7h0M75.5 502.3h0M75.8 501.9h0M72.7 498.5h0"/><path d="M72.5 502.1h0M74.9 497.6h0M75.2 501.7h0M74.2 501.6h0M73.3 500.3h0M75.3 500.5h0"/><path d="M72.2 508.4h0M73.7 502.5h0M74.5 505.2h0M77.1 501.0h0M75.5 506.5h0M76.7 495.8h0"/><path d="M74.6 498.3h0M73.4 500.1h0M73.4 498.1h0M77.1 496.2h0M75.8 505.0h0M73.7 498.4h0"/><path d="M72.3 501.6h0M74.7 500.8h0M75.7 501.3h0M74.3 508.8h0M73.5 503.5h0M75.6 500.3h0"/><path d="M77.0 498.2h0M73.3 501.4h0M72.3 502.9h0M73.9 496.7h0M74.3 501.2h0M75.7 498.6h0"/><path d="M73.2 506.1h0M76.3 506.3h0M76.0 501.7h0M74.8 499.2h0M73.2 503.3h0M77.2 504.3h0"/><path d="M73.8 503.1h0M76.4 497.7h0M73.4 499.9h0M73.3 502.3h0M76.1 496.4h0M73.7 500.3h0"/><path d="M77.1 499.4h0M74.7 501.2h0M73.1 498.3h0M73.3 502.1h0M74.3 501.8h0M75.6 500.9h0"/><path d="M77.1 511.1h0M72.9 513.9h0"/></g>
<g stroke="#c0651a" stroke-opacity="0.5" stroke-width="1.8" stroke-linecap="round" fill="none"><path d="M92.9 459.6h0M95.0 467.9h0M94.3 456.5h0M92.5 461.7h0M96.7 463.5h0M93.1 462.4h0"/><path d="M92.6 459.5h0M92.3 463.4h0M95.1 458.0h0M96.3 460.1h0M95.9 459.4h0M93.9 457.0h0"/><path d="M93.2 461.9h0M91.9 458.8h0M95.2 457.2h0M94.7 463.0h0M93.6 459.1h0M95.2 460.1h0"/><path d="M94.1 467.4h0M96.7 461.7h0M95.6 457.4h0M93.1 463.3h0M96.5 456.4h0M92.0 458.7h0"/><path d="M94.6 461.2h0M93.9 466.1h0M93.0 461.9h0M92.1 451.4h0M95.9 451.9h0M91.9 458.9h0"/><path d="M94.7 462.4h0M96.7 456.0h0M92.5 456.9h0M92.8 461.9h0M95.0 465.7h0M94.4 460.2h0"/><path d="M95.1 461.8h0M96.0 458.4h0M92.7 455.3h0M93.4 464.2h0M93.4 459.9h0M92.1 461.3h0"/><path d="M96.4 456.8h0M95.9 466.9h0M95.5 456.4h0M91.8 451.9h0M96.2 462.6h0M95.7 466.7h0"/><path d="M94.2 456.6h0M95.7 461.1h0M94.2 459.6h0M93.0 460.8h0M92.3 454.9h0M93.0 463.9h0"/><path d="M92.0 458.5h0M93.5 460.7h0M95.7 461.2h0M95.4 456.9h0M96.2 456.7h0M95.5 464.4h0"/><path d="M93.2 460.1h0M94.7 464.9h0M94.1 458.4h0M95.9 456.3h0M94.5 457.5h0M93.2 462.9h0"/><path d="M95.1 469.3h0M96.8 459.3h0M92.9 458.8h0M96.4 455.9h0M91.9 461.6h0M93.2 459.7h0"/><path d="M93.0 462.3h0M95.7 457.8h0M96.7 451.0h0M95.7 459.3h0M93.5 457.0h0M96.4 454.3h0"/><path d="M93.5 456.3h0M93.0 461.0h0M96.5 457.1h0M95.1 458.4h0M95.4 449.1h0M95.3 457.3h0"/><path d="M96.9 454.2h0M94.2 456.7h0M96.2 452.6h0M95.4 459.9h0M96.3 466.3h0M94.1 452.2h0"/><path d="M95.6 461.6h0M94.8 465.9h0M93.4 458.2h0M92.9 456.3h0M95.0 465.5h0M92.2 465.6h0"/><path d="M96.5 465.2h0M92.6 456.3h0M91.9 454.2h0M92.4 468.6h0M96.6 452.3h0M93.6 450.2h0"/><path d="M92.5 460.5h0M91.9 468.3h0M92.0 461.4h0M95.4 467.4h0M95.1 458.8h0M95.4 465.0h0"/><path d="M95.6 458.7h0M92.1 461.7h0M94.9 455.3h0M93.7 458.3h0M96.1 457.4h0M96.1 462.9h0"/><path d="M96.4 456.9h0M92.1 460.5h0M96.3 459.3h0M96.6 458.2h0M96.7 469.3h0M92.4 454.9h0"/><path d="M92.9 458.5h0M92.4 457.9h0M92.0 454.1h0M96.2 460.2h0M96.0 452.7h0M95.1 452.9h0"/><path d="M96.1 459.0h0M95.1 453.2h0M93.3 458.3h0M92.3 465.2h0M92.3 457.5h0M95.7 456.6h0"/><path d="M92.9 459.2h0M93.5 460.5h0M94.0 458.0h0M91.9 458.2h0M93.1 464.8h0M93.3 457.6h0"/><path d="M95.5 461.8h0M93.7 458.5h0M93.5 463.5h0M96.8 467.4h0M94.4 465.0h0M96.2 462.4h0"/><path d="M95.0 458.3h0M92.0 468.9h0M93.9 461.2h0M94.1 458.6h0M95.8 461.4h0M93.6 457.6h0"/><path d="M95.5 467.2h0M94.6 460.5h0M92.9 459.0h0M96.3 456.7h0M92.3 463.8h0M96.1 467.6h0"/><path d="M92.7 468.2h0M91.8 454.2h0M92.9 461.6h0M95.8 453.8h0M96.9 468.4h0M91.8 464.1h0"/><path d="M94.4 461.4h0M94.4 462.0h0M95.9 452.2h0M92.8 465.3h0M94.4 458.2h0M93.6 458.4h0"/><path d="M96.1 460.9h0M93.2 464.4h0M96.7 451.8h0M93.3 456.4h0M92.9 457.9h0M95.4 460.5h0"/><path d="M94.4 468.0h0M92.4 458.0h0M95.1 456.3h0M92.2 459.2h0M95.9 459.6h0M95.4 453.9h0"/><path d="M95.9 474.7h0M95.1 478.6h0"/></g>
<g stroke="#c0651a" stroke-opacity="0.5" stroke-width="1.8" stroke-linecap="round" fill="none"><path d="M96.8 506.0h0M95.5 507.6h0M91.9 504.3h0M91.9 502.4h0M95.2 507.7h0M96.1 499.0h0"/><path d="M92.2 513.7h0M93.4 506.4h0M95.6 509.5h0M92.7 498.8h0M96.3 505.1h0M94.3 510.1h0"/><path d="M92.1 497.6h0M93.7 507.2h0M94.8 497.2h0M94.1 507.6h0M95.3 502.3h0M92.6 507.0h0"/><path d="M95.9 514.6h0M93.7 502.5h0M95.2 506.4h0M95.1 502.7h0M94.0 504.5h0M93.8 497.0h0"/><path d="M95.9 515.3h0M96.7 507.9h0M95.9 509.7h0M94.7 505.3h0M93.3 497.1h0M92.1 502.9h0"/><path d="M96.9 502.9h0M95.5 509.9h0M96.1 500.3h0M93.5 505.1h0M95.0 499.1h0M96.9 501.4h0"/><path d="M96.1 506.6h0M94.9 499.2h0M93.4 503.8h0M94.0 509.4h0M96.4 501.2h0M93.8 500.3h0"/><path d="M95.4 505.7h0M94.9 497.0h0M96.5 507.3h0M96.0 500.2h0M93.3 506.0h0M91.8 506.7h0"/><path d="M93.2 506.9h0M94.0 514.3h0M94.9 500.9h0M96.0 506.3h0M96.4 516.4h0M92.0 497.5h0"/><path d="M96.1 508.4h0M96.0 497.0h0M96.3 499.8h0M94.8 499.7h0M93.2 501.1h0M96.2 499.2h0"/><path d="M96.0 514.0h0M95.4 499.1h0M96.6 515.0h0M93.6 512.5h0M92.2 502.6h0M94.7 504.6h0"/><path d="M95.9 506.0h0M92.8 498.8h0M95.7 505.4h0M96.6 501.6h0M93.0 498.0h0M95.0 512.2h0"/><path d="M95.3 502.2h0M94.2 509.2h0M92.9 499.5h0M93.1 498.0h0M95.7 512.6h0M95.9 501.1h0"/><path d="M94.2 511.6h0M92.3 506.5h0M96.0 504.1h0M95.8 507.5h0M93.0 505.9h0M94.8 506.0h0"/><path d="M96.5 501.8h0M96.4 498.4h0M94.5 502.6h0M94.3 506.1h0M94.9 500.4h0M92.8 507.8h0"/><path d="M92.8 516.0h0M92.7 508.6h0M95.4 514.8h0M93.7 510.4h0M94.7 501.8h0M93.9 510.2h0"/><path d="M94.5 504.9h0M92.6 502.5h0M92.0 512.6h0M97.0 504.3h0M93.7 514.4h0M92.4 510.5h0"/><path d="M95.1 510.1h0M95.9 509.3h0M92.6 514.1h0M94.9 499.8h0M93.6 499.3h0M94.5 510.9h0"/><path d="M91.9 505.4h0M92.0 503.2h0M97.0 503.1h0M96.3 503.2h0M94.3 506.4h0M94.7 517.3h0"/><path d="M93.2 511.6h0M95.9 500.4h0M94.0 512.4h0M96.7 507.9h0M95.8 503.6h0M96.1 496.2h0"/><path d="M96.8 500.5h0M93.1 512.8h0M92.0 511.3h0M92.8 507.7h0M92.7 503.8h0M92.2 498.7h0"/><path d="M92.1 512.4h0M94.7 506.4h0M96.3 514.0h0M94.2 506.0h0M96.7 501.1h0M96.5 507.4h0"/><path d="M92.1 506.3h0M94.9 506.3h0M93.9 510.2h0M92.4 512.8h0M96.8 505.6h0M93.1 500.3h0"/><path d="M94.7 516.4h0M95.1 501.4h0M96.8 496.5h0M95.3 504.6h0M93.8 504.4h0M94.1 500.4h0"/><path d="M92.6 508.5h0M96.8 500.2h0M97.0 500.6h0M93.0 500.5h0M92.0 503.7h0M93.1 507.2h0"/><path d="M93.6 502.3h0M96.5 504.0h0M96.5 510.2h0M96.2 507.4h0M92.0 510.9h0M95.9 505.6h0"/><path d="M95.5 505.7h0M95.2 506.8h0M96.9 516.1h0M92.1 496.3h0M92.6 504.1h0M95.7 501.5h0"/><path d="M96.7 504.6h0M95.3 506.6h0M93.4 508.1h0M94.9 506.0h0M95.7 503.6h0M92.3 502.2h0"/><path d="M93.5 501.8h0M93.1 497.2h0M92.4 515.5h0M94.3 514.9h0M92.7 503.8h0M93.0 503.9h0"/><path d="M92.5 501.9h0M95.3 509.8h0M91.9 509.7h0M95.5 503.6h0M92.8 499.4h0M92.0 513.5h0"/><path d="M96.6 520.3h0M92.9 526.4h0M96.7 531.2h0M96.3 538.7h0"/></g>
<g stroke="#267326" stroke-opacity="0.5" stroke-width="1.8" stroke-linecap="round" fill="none"><path d="M112.4 470.0h0M116.5 458.5h0M113.0 463.1h0M114.4 449.7h0M112.0 461.3h0M114.2 460.5h0"/><path d="M113.5 455.0h0M113.5 457.0h0M111.8 446.1h0M112.1 468.4h0M115.7 458.7h0M113.3 461.4h0"/><path d="M112.7 458.8h0M112.4 459.3h0M112.9 470.4h0M112.7 471.5h0M111.6 464.5h0M114.9 456.0h0"/><path d="M113.2 459.1h0M112.3 455.6h0M115.1 462.0h0M111.9 470.7h0M112.9 461.6h0M115.8 457.0h0"/><path d="M112.1 461.9h0M113.8 457.3h0M115.8 458.6h0M115.6 457.4h0M112.3 446.7h0M113.3 461.7h0"/><path d="M115.2 456.4h0M113.4 454.8h0M116.4 464.1h0M112.5 454.4h0M116.4 456.5h0M114.1 459.2h0"/><path d="M112.6 456.5h0M113.8 452.7h0M112.1 446.9h0M115.1 457.0h0M112.8 460.9h0M116.1 457.3h0"/><path d="M114.5 461.4h0M113.4 466.0h0M112.7 457.7h0M114.6 461.5h0M112.6 458.8h0M116.0 467.2h0"/><path d="M112.1 455.6h0M114.1 442.9h0M114.3 449.6h0M112.9 445.7h0M115.5 452.8h0M113.5 467.7h0"/><path d="M114.9 449.0h0M114.4 471.4h0M113.1 462.3h0M113.5 460.1h0M111.9 450.5h0M112.4 458.0h0"/><path d="M115.9 454.8h0M113.1 455.1h0M114.9 472.2h0M112.0 456.9h0M114.4 454.2h0M113.3 450.8h0"/><path d="M114.1 451.9h0M113.0 457.6h0M111.8 444.2h0M113.1 456.1h0M112.6 447.8h0M112.1 455.7h0"/><path d="M115.2 456.5h0M112.9 469.9h0M113.5 452.2h0M116.2 457.4h0M115.5 467.0h0M116.0 461.4h0"/><path d="M115.9 449.1h0M112.1 463.6h0M112.9 459.0h0M111.6 459.8h0M115.0 463.4h0M114.9 463.3h0"/><path d="M113.3 471.6h0M113.6 453.8h0M114.9 468.6h0M115.1 460.6h0M112.7 460.2h0M115.9 455.8h0"/><path d="M113.3 443.5h0M114.7 458.0h0M112.4 462.4h0M112.0 452.7h0M116.2 462.8h0M115.3 456.7h0"/><path d="M115.2 460.7h0M111.7 460.2h0M111.7 464.9h0M112.3 460.1h0M112.5 461.8h0M113.0 459.3h0"/><path d="M113.4 445.7h0M111.7 453.8h0M113.1 447.7h0M114.8 460.2h0M112.4 454.6h0M115.8 455.3h0"/><path d="M114.4 459.2h0M115.2 454.5h0M112.8 452.9h0M113.7 450.8h0M115.0 446.9h0M113.3 449.8h0"/><path d="M111.5 451.1h0M115.8 459.3h0M115.5 455.0h0M112.9 449.0h0M111.7 443.2h0M115.9 461.5h0"/><path d="M114.6 456.3h0M111.7 459.2h0M112.7 468.0h0M112.0 469.8h0M115.6 457.6h0M112.5 458.3h0"/><path d="M116.2 459.8h0M115.3 445.5h0M111.9 457.9h0M115.1 446.2h0M113.5 459.5h0M115.3 451.2h0"/><path d="M115.8 463.3h0M112.9 452.2h0M111.9 452.3h0M116.4 461.2h0M113.7 453.5h0M116.3 457.6h0"/><path d="M115.0 457.2h0M115.3 450.1h0M115.8 465.3h0M114.7 461.2h0M113.8 465.0h0M111.7 459.9h0"/><path d="M115.1 460.9h0M113.7 459.6h0M114.1 449.0h0M116.3 461.2h0M112.1 466.0h0M115.4 458.8h0"/><path d="M111.7 458.7h0M115.1 450.9h0M115.6 457.8h0M112.8 461.4h0M114.3 462.3h0M116.5 455.8h0"/><path d="M114.8 472.8h0M114.3 456.4h0M112.7 461.7h0M111.8 465.6h0M113.3 465.8h0M113.6 451.7h0"/><path d="M112.5 459.5h0M113.1 448.6h0M112.2 464.4h0M115.1 445.3h0M114.9 459.7h0M112.7 450.8h0"/><path d="M112.7 462.2h0M114.1 459.8h0M113.8 454.1h0M116.3 460.2h0M113.3 469.6h0M113.0 461.9h0"/><path d="M116.1 465.8h0M112.2 457.7h0M114.4 452.8h0M113.2 462.8h0M115.7 458.7h0M114.3 460.1h0"/><path d="M115.4 446.7h0M112.3 456.6h0M114.9 448.7h0M114.6 464.8h0M113.8 455.7h0M115.4 467.9h0"/><path d="M115.8 442.8h0M112.0 461.4h0M113.0 451.6h0M113.3 456.1h0M112.5 447.7h0M111.8 450.4h0"/><path d="M112.9 465.3h0M112.5 458.6h0M115.1 457.1h0M113.8 454.5h0M112.0 456.2h0M113.1 465.0h0"/><path d="M113.9 471.4h0M113.3 457.2h0M112.3 460.9h0M111.8 458.8h0M111.5 458.5h0M116.6 465.2h0"/><path d="M115.4 459.9h0M111.9 458.3h0M115.2 465.2h0M116.5 466.5h0M114.4 447.5h0M112.0 457.8h0"/><path d="M114.0 467.8h0M113.7 463.3h0M112.4 460.4h0M114.3 466.0h0M111.5 468.6h0M116.2 460.9h0"/><path d="M114.8 455.3h0M114.7 466.1h0M116.3 468.6h0M114.8 455.5h0M112.8 439.4h0"/></g>
<g stroke="#267326" stroke-opacity="0.5" stroke-width="1.8" stroke-linecap="round" fill="none"><path d="M114.5 500.8h0M116.0 503.8h0M112.5 517.5h0M116.0 503.1h0M113.3 510.6h0M115.5 503.8h0"/><path d="M115.9 512.4h0M112.4 505.8h0M115.9 517.1h0M116.6 507.7h0M113.0 509.1h0M111.6 500.4h0"/><path d="M112.0 498.9h0M116.5 512.7h0M111.5 510.5h0M116.2 507.4h0M112.2 501.6h0M115.3 496.1h0"/><path d="M112.0 496.8h0M112.3 509.8h0M115.0 500.4h0M111.9 505.8h0M113.2 495.2h0M116.2 511.3h0"/><path d="M115.2 515.8h0M116.0 508.2h0M116.5 498.1h0M111.6 507.1h0M112.7 499.6h0M115.6 519.5h0"/><path d="M115.0 507.1h0M111.6 497.8h0M114.1 500.6h0M112.7 507.2h0M113.7 510.8h0M112.0 510.2h0"/><path d="M111.6 513.6h0M116.6 521.7h0M113.1 498.9h0M116.0 507.8h0M112.1 515.1h0M114.0 497.5h0"/><path d="M112.2 509.4h0M113.7 501.1h0M112.4 498.2h0M115.0 503.2h0M112.2 507.8h0M115.3 507.6h0"/><path d="M114.1 498.0h0M112.0 501.0h0M113.3 514.4h0M114.0 504.2h0M116.2 505.3h0M113.3 497.3h0"/><path d="M112.6 507.7h0M116.5 502.8h0M116.0 502.6h0M115.3 496.1h0M112.9 505.2h0M112.4 509.3h0"/><path d="M112.8 499.3h0M111.8 520.5h0M111.7 512.6h0M114.1 504.0h0M113.6 505.7h0M114.3 514.2h0"/><path d="M113.3 520.0h0M111.5 521.8h0M115.0 501.9h0M114.8 502.9h0M114.3 501.6h0M114.3 498.1h0"/><path d="M115.0 513.6h0M116.6 514.2h0M116.0 511.1h0M115.2 503.6h0M113.5 508.8h0M113.1 499.6h0"/><path d="M113.6 501.9h0M116.5 500.0h0M113.5 495.8h0M113.5 496.3h0M113.6 499.6h0M112.2 504.5h0"/><path d="M116.6 497.3h0M111.5 502.3h0M114.6 514.0h0M116.3 500.3h0M112.8 503.9h0M114.6 502.7h0"/><path d="M113.4 508.4h0M112.7 505.6h0M112.5 514.5h0M112.1 499.6h0M115.8 523.3h0M115.5 505.6h0"/><path d="M116.2 499.8h0M111.7 522.5h0M115.1 504.0h0M113.1 498.0h0M114.8 505.6h0M114.3 516.2h0"/><path d="M113.1 513.7h0M116.5 501.7h0M111.5 504.3h0M115.3 495.8h0M115.9 501.9h0M114.1 507.8h0"/><path d="M114.5 506.6h0M116.6 502.9h0M112.7 504.9h0M114.7 509.9h0M115.3 500.9h0M113.4 497.4h0"/><path d="M115.2 507.4h0M113.5 507.8h0M114.2 500.1h0M114.6 522.5h0M115.0 499.4h0M113.1 512.0h0"/><path d="M114.7 499.0h0M114.3 506.3h0M112.6 511.1h0M114.6 513.0h0M112.8 508.8h0M116.2 498.5h0"/><path d="M113.9 497.8h0M115.2 498.0h0M114.2 501.8h0M113.9 509.9h0M112.6 506.7h0M112.2 501.3h0"/><path d="M116.3 505.5h0M114.2 504.2h0M114.2 507.1h0M114.2 497.5h0M115.7 500.5h0M112.7 506.4h0"/><path d="M112.3 498.6h0M115.7 516.9h0M113.8 514.0h0M114.8 501.0h0M115.8 500.2h0M116.1 508.8h0"/><path d="M116.0 509.3h0M111.7 502.4h0M113.4 517.8h0M115.8 504.9h0M115.7 501.4h0M112.1 497.1h0"/><path d="M112.2 505.8h0M112.8 499.8h0M112.0 497.0h0M113.3 500.1h0M115.6 496.1h0M114.2 511.1h0"/><path d="M113.8 505.5h0M111.9 502.7h0M113.5 513.4h0M116.6 518.7h0M115.1 508.7h0M113.8 498.0h0"/><path d="M113.9 497.7h0M115.6 502.1h0M115.4 503.1h0M112.2 507.4h0M115.0 497.3h0M113.4 504.9h0"/><path d="M114.2 514.2h0M112.7 521.8h0M113.4 499.3h0M113.2 505.3h0M113.4 500.9h0M111.5 521.0h0"/><path d="M112.5 515.8h0M114.4 498.8h0M111.8 499.0h0M112.4 497.7h0M115.2 497.3h0M112.9 499.4h0"/><path d="M113.1 517.3h0M112.7 510.2h0M115.8 506.2h0M111.9 500.0h0M114.8 500.2h0M115.9 508.2h0"/><path d="M112.5 516.6h0M113.7 518.5h0M115.6 521.0h0M114.7 500.8h0M113.4 502.5h0M111.7 496.9h0"/><path d="M113.8 516.5h0M113.4 501.0h0M115.2 500.0h0M113.0 500.3h0M113.6 518.2h0M114.8 514.9h0"/><path d="M115.7 497.7h0M113.3 515.4h0M113.5 509.5h0M114.5 503.6h0M116.3 503.2h0M112.4 509.3h0"/><path d="M116.5 502.8h0M115.2 509.6h0M113.4 513.5h0M114.9 501.4h0M113.2 507.1h0M111.8 501.1h0"/><path d="M115.4 513.4h0M113.4 510.0h0M114.2 502.8h0M114.0 504.2h0M116.1 517.9h0M115.4 511.6h0"/><path d="M111.6 506.5h0M114.5 509.4h0M113.9 503.3h0M113.9 498.2h0M115.8 529.1h0M113.6 537.1h0"/><path d="M113.9 539.8h0M116.1 547.8h0"/></g>
<g stroke="#22578a" stroke-opacity="0.5" stroke-width="1.8" stroke-linecap="round" fill="none"><path d="M151.3 461.2h0M146.4 457.4h0M149.4 457.1h0M149.8 460.4h0M150.5 456.3h0M148.0 463.0h0"/><path d="M150.4 458.6h0M148.6 459.9h0M151.0 458.3h0M146.3 463.9h0M151.1 459.6h0M148.4 455.9h0"/><path d="M148.3 459.6h0M146.7 461.4h0M147.5 462.8h0M150.0 466.3h0M149.7 461.2h0M147.0 460.3h0"/><path d="M148.0 460.8h0M146.9 460.8h0M147.3 463.9h0M147.4 455.6h0M147.9 458.8h0M151.3 462.9h0"/><path d="M151.4 465.5h0M150.3 458.2h0M148.7 455.4h0M148.8 461.2h0M150.3 455.3h0M150.9 465.9h0"/><path d="M150.1 463.9h0M149.5 458.8h0M147.3 455.6h0M149.5 455.1h0M150.6 461.7h0M150.3 461.6h0"/><path d="M146.7 463.7h0M150.0 462.0h0M148.0 461.9h0M147.1 459.1h0M151.2 453.0h0M149.7 466.9h0"/><path d="M150.1 454.2h0M146.9 463.9h0M150.5 464.2h0M151.1 456.8h0M150.9 460.7h0M150.1 466.3h0"/><path d="M150.5 465.8h0M150.4 458.3h0M149.3 462.3h0M148.5 461.5h0M150.5 461.9h0M150.3 454.0h0"/><path d="M150.7 459.6h0M147.8 459.9h0M151.2 460.7h0M149.0 455.1h0M151.1 454.0h0M146.8 465.1h0"/><path d="M151.3 466.2h0M150.3 462.2h0M147.5 460.4h0M150.6 461.5h0M147.4 459.3h0M147.2 459.1h0"/><path d="M148.6 455.7h0M147.5 453.7h0M148.8 466.5h0M150.9 462.1h0M149.8 464.0h0M149.9 460.9h0"/><path d="M148.3 464.2h0M150.3 466.7h0M150.3 461.9h0M149.8 456.2h0M151.1 458.4h0M150.5 461.9h0"/><path d="M148.3 465.7h0M146.7 467.4h0M149.6 458.0h0M150.6 462.0h0M148.0 453.0h0M149.3 461.1h0"/><path d="M150.6 459.7h0M150.3 459.8h0M146.2 460.4h0M148.8 453.5h0M146.3 457.3h0M146.8 455.8h0"/><path d="M150.4 459.2h0M148.4 459.5h0M149.4 459.4h0M148.6 461.0h0M148.0 454.1h0M147.3 460.2h0"/><path d="M148.1 461.8h0M150.6 464.3h0M149.4 458.3h0M147.7 466.5h0M146.7 461.3h0M147.6 459.1h0"/><path d="M149.9 459.3h0M148.5 455.3h0M149.7 459.0h0M150.4 458.4h0M146.8 460.0h0M149.8 457.7h0"/><path d="M146.4 460.2h0M150.5 461.7h0M147.2 456.9h0M147.6 459.8h0M151.2 458.7h0M148.1 459.0h0"/><path d="M147.4 454.9h0M150.8 466.8h0M149.4 454.6h0M150.9 457.3h0M148.3 453.2h0M148.8 459.4h0"/><path d="M151.2 449.6h0M148.9 470.7h0"/></g>
<g stroke="#22578a" stroke-opacity="0.5" stroke-width="1.8" stroke-linecap="round" fill="none"><path d="M148.6 505.9h0M149.8 506.0h0M149.9 495.3h0M148.6 500.7h0M148.0 502.5h0M147.2 501.5h0"/><path d="M148.3 499.9h0M147.7 504.4h0M147.2 502.8h0M150.0 503.9h0M148.9 500.0h0M148.5 502.8h0"/><path d="M147.2 502.2h0M149.9 497.2h0M147.2 498.1h0M147.6 504.5h0M149.1 502.9h0M149.9 500.5h0"/><path d="M151.3 497.8h0M150.1 502.4h0M151.2 503.7h0M151.0 495.8h0M150.0 501.1h0M150.0 503.2h0"/><path d="M146.5 500.0h0M147.3 495.9h0M146.3 502.4h0M150.7 496.9h0M150.0 505.4h0M149.5 497.4h0"/><path d="M147.6 504.0h0M148.1 503.9h0M147.1 502.8h0M149.5 498.1h0M151.4 501.1h0M147.8 498.4h0"/><path d="M146.5 505.1h0M147.1 499.8h0M148.1 506.0h0M150.9 496.5h0M150.4 500.9h0M148.6 501.6h0"/><path d="M146.8 503.0h0M146.8 499.4h0M147.0 505.8h0M150.3 501.7h0M148.7 499.3h0M151.4 501.6h0"/><path d="M151.0 505.5h0M150.4 500.6h0M148.7 502.6h0M150.5 498.3h0M146.9 501.1h0M146.8 504.6h0"/><path d="M149.1 498.1h0M148.9 505.4h0M147.3 502.7h0M147.5 497.0h0M146.3 496.9h0M150.9 506.9h0"/><path d="M149.9 504.3h0M151.1 502.8h0M151.3 501.3h0M148.5 499.9h0M150.0 503.9h0M148.2 502.5h0"/><path d="M150.4 499.4h0M150.6 498.7h0M146.9 498.1h0M146.3 504.9h0M147.3 503.7h0M149.3 501.6h0"/><path d="M148.2 505.1h0M146.3 500.5h0M150.5 497.7h0M150.3 498.6h0M148.6 499.5h0M146.4 499.6h0"/><path d="M150.8 498.5h0M149.0 497.8h0M146.6 502.0h0M147.9 502.6h0M149.5 503.4h0M150.8 500.1h0"/><path d="M148.7 504.5h0M149.5 503.2h0M147.3 498.4h0M147.5 498.5h0M150.9 500.2h0M148.2 497.9h0"/><path d="M146.8 500.9h0M149.3 498.4h0M146.9 501.2h0M147.3 499.0h0M148.6 498.7h0M149.3 505.1h0"/><path d="M149.5 496.0h0M149.9 505.2h0M148.5 500.1h0M146.6 499.4h0M150.0 499.7h0M146.5 498.4h0"/><path d="M148.7 500.5h0M148.3 499.2h0M149.7 497.1h0M149.9 502.0h0M147.5 500.4h0M149.6 500.5h0"/><path d="M149.8 504.4h0M148.7 500.4h0M147.0 499.8h0M150.9 500.9h0M149.3 498.2h0M146.5 497.3h0"/><path d="M147.5 497.8h0M151.4 500.5h0M147.4 503.5h0M148.3 505.2h0M150.3 506.6h0M150.5 501.1h0"/><path d="M149.5 512.8h0M150.1 520.5h0"/></g>
<g stroke="#c0651a" stroke-opacity="0.5" stroke-width="1.8" stroke-linecap="round" fill="none"><path d="M169.3 453.2h0M170.3 461.0h0M170.8 453.1h0M167.3 456.0h0M170.8 455.1h0M168.0 462.2h0"/><path d="M166.1 465.6h0M170.6 453.0h0M166.4 467.7h0M166.0 461.7h0M167.4 455.6h0M167.4 454.6h0"/><path d="M170.9 455.5h0M170.4 460.2h0M168.1 455.7h0M168.6 451.8h0M170.3 450.3h0M170.1 451.6h0"/><path d="M169.3 453.1h0M168.5 447.5h0M166.5 456.2h0M167.1 443.7h0M169.3 461.0h0M168.9 456.6h0"/><path d="M170.0 446.6h0M170.5 456.6h0M170.9 463.0h0M166.9 456.5h0M166.3 451.9h0M170.5 467.7h0"/><path d="M168.8 457.3h0M166.8 467.0h0M169.5 452.8h0M167.2 469.9h0M167.1 453.3h0M167.8 450.2h0"/><path d="M168.6 449.0h0M169.4 458.3h0M166.3 452.4h0M169.7 451.6h0M169.1 460.8h0M168.3 443.9h0"/><path d="M169.4 451.9h0M170.0 459.3h0M165.9 456.0h0M168.3 458.7h0M169.4 457.3h0M169.6 457.3h0"/><path d="M169.2 454.4h0M166.8 462.1h0M170.9 461.3h0M170.0 459.7h0M167.1 465.5h0M168.1 454.3h0"/><path d="M170.9 453.7h0M166.9 460.2h0M168.0 458.9h0M170.9 460.4h0M170.6 463.1h0M167.1 455.6h0"/><path d="M169.7 458.4h0M167.7 458.1h0M169.3 466.8h0M169.9 450.6h0M166.5 452.5h0M167.0 459.4h0"/><path d="M167.0 452.7h0M167.3 453.6h0M166.1 459.4h0M166.6 453.8h0M168.0 452.8h0M168.1 454.3h0"/><path d="M166.3 450.8h0M168.9 451.3h0M170.8 453.7h0M168.9 455.2h0M167.7 453.8h0M169.5 462.2h0"/><path d="M168.1 450.6h0M166.8 450.9h0M168.4 456.4h0M166.0 452.9h0M169.4 456.7h0M166.7 454.5h0"/><path d="M167.8 461.9h0M170.9 458.9h0M169.9 453.2h0M170.2 457.6h0M169.2 448.9h0M169.2 445.1h0"/><path d="M169.5 464.8h0M170.9 469.1h0M166.9 466.0h0M169.9 461.0h0M167.4 447.4h0M167.2 453.5h0"/><path d="M170.1 466.9h0M169.0 450.1h0M170.3 446.3h0M170.4 453.2h0M168.9 464.4h0M166.9 449.9h0"/><path d="M165.9 453.1h0M168.7 455.7h0M169.6 456.1h0M167.3 458.7h0M166.2 455.5h0M165.9 457.5h0"/><path d="M166.8 445.4h0M169.5 455.5h0M165.9 457.5h0M167.1 466.0h0M167.2 453.6h0M169.6 457.5h0"/><path d="M171.0 449.2h0M166.0 468.6h0M166.5 451.9h0M170.7 453.0h0M170.9 456.6h0M166.6 458.7h0"/><path d="M167.6 453.3h0M168.6 456.8h0M167.5 454.4h0M168.0 453.1h0M168.4 457.8h0M167.2 462.9h0"/><path d="M166.2 453.6h0M166.3 449.9h0M166.7 459.9h0M166.3 467.6h0M169.1 463.1h0M169.5 453.5h0"/><path d="M167.2 466.2h0M170.0 453.8h0M169.7 463.7h0M167.6 444.8h0M168.4 457.3h0M166.8 455.1h0"/><path d="M170.7 456.6h0M168.8 463.5h0M166.1 452.9h0M166.7 449.5h0M169.5 454.5h0M167.9 449.7h0"/><path d="M169.6 454.5h0M167.1 450.6h0M170.0 455.6h0M170.0 461.5h0M166.4 464.5h0M168.9 466.6h0"/><path d="M166.9 454.9h0M169.6 468.0h0M170.1 453.0h0M170.0 456.7h0M167.1 455.4h0M166.4 452.5h0"/><path d="M169.3 458.6h0M168.8 456.0h0M166.6 454.5h0M166.9 452.6h0M168.9 459.7h0M166.4 446.7h0"/><path d="M169.2 466.3h0M167.1 463.7h0M167.2 456.1h0M168.1 457.6h0M168.6 458.5h0M169.6 454.1h0"/><path d="M166.0 455.6h0M169.6 454.9h0M167.0 457.8h0M167.4 451.0h0M169.2 453.7h0M169.5 456.1h0"/><path d="M169.1 453.4h0M170.6 450.0h0M166.9 468.5h0M167.5 453.5h0M169.3 449.0h0M167.2 459.3h0"/><path d="M166.7 429.9h0M167.0 433.8h0M169.9 436.0h0M170.2 438.0h0M169.6 439.9h0"/></g>
<g stroke="#c0651a" stroke-opacity="0.5" stroke-width="1.8" stroke-linecap="round" fill="none"><path d="M168.6 509.2h0M170.7 505.7h0M169.2 496.2h0M168.3 496.6h0M167.6 503.2h0M167.9 504.4h0"/><path d="M169.0 511.4h0M170.0 502.1h0M167.2 499.6h0M167.8 507.0h0M167.9 500.8h0M167.8 502.0h0"/><path d="M170.6 506.2h0M168.7 506.9h0M167.3 502.7h0M167.6 507.0h0M170.1 512.1h0M166.7 507.8h0"/><path d="M169.5 510.3h0M166.0 503.1h0M166.9 498.2h0M166.2 504.5h0M170.1 514.4h0M166.6 506.7h0"/><path d="M167.1 504.8h0M166.2 509.3h0M167.2 504.9h0M169.7 504.9h0M169.6 515.6h0M170.6 507.2h0"/><path d="M170.8 502.1h0M168.7 502.3h0M170.7 501.1h0M166.3 502.3h0M170.7 511.6h0M168.1 505.0h0"/><path d="M166.9 504.5h0M169.8 502.5h0M170.3 501.3h0M167.9 511.3h0M166.4 510.4h0M170.4 506.2h0"/><path d="M169.8 500.6h0M169.0 502.3h0M170.9 514.7h0M166.1 512.3h0M166.2 502.5h0M166.5 508.0h0"/><path d="M166.0 504.2h0M169.6 505.2h0M169.1 498.6h0M166.5 503.0h0M166.7 508.8h0M166.8 495.4h0"/><path d="M169.0 510.4h0M169.4 508.3h0M170.9 507.5h0M167.7 513.0h0M171.0 505.9h0M168.1 505.9h0"/><path d="M167.9 502.4h0M167.2 511.8h0M167.1 501.3h0M170.9 513.2h0M171.0 509.1h0M169.5 509.6h0"/><path d="M166.8 509.1h0M166.8 506.8h0M166.7 507.5h0M167.7 503.3h0M169.7 507.4h0M166.2 507.5h0"/><path d="M168.6 508.7h0M169.4 504.4h0M166.0 500.4h0M168.2 496.1h0M170.0 510.8h0M168.9 505.8h0"/><path d="M168.2 509.2h0M170.5 513.5h0M169.0 505.4h0M167.6 502.7h0M167.9 504.0h0M170.8 502.0h0"/><path d="M170.3 503.9h0M170.6 503.1h0M168.8 507.3h0M166.6 512.6h0M166.8 501.4h0M167.9 507.7h0"/><path d="M169.5 498.4h0M165.9 510.6h0M170.0 503.4h0M170.0 511.0h0M168.5 506.0h0M165.9 510.0h0"/><path d="M170.0 502.8h0M168.0 507.9h0M169.4 497.0h0M168.8 515.9h0M169.7 499.1h0M168.0 499.1h0"/><path d="M170.9 503.3h0M170.8 509.2h0M170.7 505.4h0M169.1 501.0h0M167.5 504.3h0M167.8 511.6h0"/><path d="M167.3 507.0h0M170.6 513.6h0M170.0 505.7h0M170.0 497.5h0M170.1 499.5h0M171.0 497.1h0"/><path d="M169.4 508.0h0M167.5 500.9h0M169.8 504.3h0M167.2 500.8h0M169.0 512.2h0M166.7 513.6h0"/><path d="M170.3 503.2h0M168.4 508.6h0M167.3 511.0h0M170.7 510.7h0M166.3 503.6h0M170.7 511.7h0"/><path d="M169.8 498.0h0M166.6 506.0h0M169.8 499.3h0M168.9 501.8h0M170.6 507.0h0M168.9 497.9h0"/><path d="M168.1 506.4h0M170.7 503.5h0M166.3 513.6h0M169.9 500.6h0M166.4 500.5h0M167.3 498.1h0"/><path d="M166.5 508.4h0M170.4 504.4h0M168.2 504.9h0M169.6 504.0h0M167.2 497.1h0M169.7 506.8h0"/><path d="M169.2 512.4h0M166.4 513.2h0M168.4 502.3h0M169.6 506.7h0M167.0 505.2h0M169.3 502.0h0"/><path d="M167.3 502.7h0M167.8 497.5h0M170.7 506.1h0M170.8 511.2h0M171.1 511.3h0M168.1 503.5h0"/><path d="M168.8 502.3h0M170.1 503.8h0M169.8 511.8h0M168.2 506.0h0M170.4 506.9h0M168.0 505.1h0"/><path d="M170.8 510.6h0M168.3 504.2h0M166.5 498.6h0M169.8 501.5h0M166.6 506.1h0M169.4 506.5h0"/><path d="M166.1 500.7h0M171.0 514.2h0M168.7 507.5h0M169.7 510.5h0M166.6 498.6h0M169.2 510.7h0"/><path d="M167.8 505.2h0M167.2 504.3h0M170.1 516.1h0M166.0 506.2h0M168.4 505.8h0M166.3 512.3h0"/><path d="M170.3 523.0h0M170.5 525.7h0M166.0 541.4h0"/></g>
<g stroke="#267326" stroke-opacity="0.5" stroke-width="1.8" stroke-linecap="round" fill="none"><path d="M188.2 459.3h0M187.0 451.9h0M189.2 461.1h0M188.2 454.1h0M190.6 469.5h0M186.4 455.6h0"/><path d="M188.2 458.1h0M188.1 465.5h0M187.5 467.8h0M190.0 468.1h0M186.6 464.3h0M190.1 463.0h0"/><path d="M187.4 450.4h0M187.3 465.8h0M188.7 457.2h0M188.4 463.7h0M187.0 447.7h0M186.0 460.7h0"/><path d="M190.5 461.9h0M187.4 456.3h0M186.1 449.4h0M188.9 454.1h0M188.3 459.4h0M187.2 458.9h0"/><path d="M187.2 452.1h0M189.9 446.9h0M187.3 466.5h0M187.7 461.5h0M190.5 455.9h0M187.4 466.3h0"/><path d="M187.6 448.5h0M186.4 454.4h0M189.0 454.7h0M189.0 450.7h0M187.8 463.7h0M187.6 461.2h0"/><path d="M186.7 450.5h0M189.6 463.8h0M187.9 459.9h0M189.8 461.3h0M187.5 457.4h0M189.3 453.6h0"/><path d="M185.7 447.4h0M186.7 446.3h0M190.5 463.8h0M189.1 453.1h0M189.0 463.7h0M188.1 443.7h0"/><path d="M188.0 455.3h0M186.5 467.1h0M186.4 444.1h0M188.9 461.0h0M189.1 452.5h0M186.9 454.4h0"/><path d="M188.9 456.8h0M186.2 457.2h0M188.7 460.9h0M186.4 448.6h0M188.2 466.1h0M187.2 445.5h0"/><path d="M188.4 461.5h0M186.2 456.5h0M188.0 458.1h0M188.7 460.1h0M186.2 461.4h0M187.1 464.2h0"/><path d="M189.0 446.9h0M188.4 450.6h0M188.7 461.0h0M189.6 458.1h0M188.5 454.2h0M186.7 452.3h0"/><path d="M187.8 455.6h0M189.8 450.6h0M188.5 459.6h0M189.4 453.8h0M187.4 458.4h0M187.9 467.9h0"/><path d="M190.6 467.9h0M189.8 455.5h0M188.9 458.8h0M186.1 468.1h0M188.7 452.6h0M185.7 459.5h0"/><path d="M190.4 464.3h0M190.6 453.9h0M189.3 454.9h0M186.9 456.1h0M189.9 458.7h0M186.4 453.2h0"/><path d="M189.8 454.2h0M188.2 458.8h0M185.6 463.5h0M190.1 458.1h0M187.8 454.1h0M189.8 464.0h0"/><path d="M189.1 456.0h0M188.3 455.6h0M190.0 457.9h0M186.6 451.8h0M190.2 447.0h0M187.3 449.6h0"/><path d="M185.7 445.9h0M187.3 472.3h0M185.9 455.2h0M185.9 453.9h0M188.8 453.6h0M186.1 458.5h0"/><path d="M186.4 447.6h0M187.0 460.2h0M187.0 458.1h0M190.3 455.7h0M190.2 462.0h0M190.0 455.6h0"/><path d="M190.7 458.3h0M187.8 450.1h0M189.7 467.3h0M187.0 462.7h0M190.3 458.1h0M189.7 458.0h0"/><path d="M189.3 451.6h0M186.7 453.5h0M186.0 456.4h0M190.3 469.6h0M188.4 457.7h0M188.7 451.8h0"/><path d="M190.0 460.2h0M186.3 460.3h0M189.2 461.3h0M187.9 457.5h0M189.6 456.4h0M187.9 464.1h0"/><path d="M186.5 457.0h0M190.5 446.3h0M187.0 460.1h0M189.4 453.8h0M189.8 460.9h0M186.8 467.0h0"/><path d="M189.1 462.9h0M187.6 464.5h0M186.7 464.0h0M186.6 464.7h0M190.5 455.6h0M187.4 458.8h0"/><path d="M188.2 459.5h0M188.1 447.6h0M185.7 459.5h0M189.4 449.5h0M189.4 447.2h0M190.1 448.2h0"/><path d="M187.4 463.5h0M186.6 465.1h0M187.3 457.2h0M189.3 449.1h0M188.9 459.1h0M187.6 452.5h0"/><path d="M188.2 460.4h0M186.3 455.4h0M190.3 458.7h0M188.0 460.4h0M188.2 447.4h0M189.6 456.7h0"/><path d="M186.5 451.5h0M189.3 451.6h0M187.4 457.7h0M189.7 457.6h0M186.0 465.0h0M187.0 453.4h0"/><path d="M188.8 468.0h0M188.0 457.9h0M187.5 463.3h0M188.5 458.9h0M186.7 459.4h0M187.8 453.0h0"/><path d="M185.5 462.3h0M189.7 459.1h0M186.8 461.3h0M189.8 454.2h0M188.4 461.1h0M188.6 466.9h0"/><path d="M188.8 462.2h0M186.2 458.2h0M189.6 466.4h0M187.0 457.1h0M190.0 459.1h0M189.6 448.0h0"/><path d="M189.0 455.1h0M189.8 457.5h0M187.8 460.5h0M189.0 460.2h0M190.5 447.2h0M186.5 456.2h0"/><path d="M186.0 448.3h0M187.7 456.9h0M188.2 468.0h0M186.3 450.7h0M186.7 457.6h0M190.0 460.0h0"/><path d="M187.5 450.2h0M186.3 454.4h0M186.5 459.1h0M188.5 461.0h0M186.5 457.4h0M188.0 456.9h0"/><path d="M188.3 455.9h0M187.8 457.6h0M188.1 462.7h0M189.9 460.5h0M185.6 461.3h0M190.4 455.1h0"/><path d="M186.6 456.0h0M185.7 462.5h0M189.5 449.2h0M188.5 469.8h0M188.3 460.4h0M186.7 461.4h0"/><path d="M189.6 455.4h0M187.1 453.6h0M189.3 454.0h0M186.7 459.2h0M188.5 440.4h0M188.9 474.6h0"/></g>
<g stroke="#267326" stroke-opacity="0.5" stroke-width="1.8" stroke-linecap="round" fill="none"><path d="M187.3 506.8h0M189.7 503.4h0M186.4 496.9h0M188.4 499.8h0M189.5 504.2h0M190.4 519.1h0"/><path d="M185.6 501.1h0M186.9 505.2h0M188.1 505.8h0M190.4 506.7h0M186.4 508.0h0M189.9 496.6h0"/><path d="M187.6 500.8h0M188.4 505.2h0M190.3 500.0h0M185.9 516.4h0M187.2 503.8h0M186.3 508.6h0"/><path d="M186.2 506.1h0M187.1 504.6h0M189.2 498.5h0M188.5 508.0h0M186.2 513.3h0M189.7 502.4h0"/><path d="M188.2 514.0h0M186.3 499.1h0M189.8 507.2h0M189.8 503.0h0M186.6 518.5h0M190.4 508.4h0"/><path d="M189.7 520.3h0M186.7 499.4h0M185.5 513.4h0M190.0 502.0h0M189.8 499.8h0M186.0 503.4h0"/><path d="M189.5 499.5h0M189.5 502.6h0M188.8 507.2h0M189.8 505.3h0M190.6 497.7h0M187.2 515.2h0"/><path d="M189.9 500.1h0M190.3 503.7h0M187.2 504.5h0M189.1 503.7h0M189.1 505.5h0M189.9 506.9h0"/><path d="M188.5 505.3h0M187.0 497.8h0M186.8 514.3h0M188.3 505.7h0M186.2 515.0h0M190.0 500.2h0"/><path d="M190.1 507.9h0M186.8 505.2h0M189.1 502.6h0M189.0 516.5h0M186.2 507.9h0M189.6 505.4h0"/><path d="M189.5 498.5h0M187.1 509.7h0M186.0 503.0h0M187.0 504.9h0M189.5 508.6h0M187.9 507.2h0"/><path d="M189.8 496.1h0M186.3 517.9h0M186.1 507.7h0M187.3 502.3h0M190.1 502.7h0M186.4 501.4h0"/><path d="M185.9 501.1h0M189.4 501.6h0M186.0 496.8h0M189.0 513.9h0M186.0 505.8h0M186.8 519.2h0"/><path d="M189.0 496.4h0M190.1 514.0h0M187.6 500.3h0M187.9 501.1h0M185.7 499.2h0M187.3 497.7h0"/><path d="M186.8 505.6h0M189.6 506.0h0M189.2 497.8h0M189.6 507.4h0M188.3 504.0h0M189.2 505.7h0"/><path d="M186.2 502.8h0M187.5 499.8h0M187.0 506.5h0M187.0 515.5h0M189.4 509.7h0M186.6 509.3h0"/><path d="M187.2 508.1h0M187.0 497.2h0M190.0 511.7h0M188.8 512.5h0M188.0 504.3h0M187.5 501.8h0"/><path d="M190.3 497.2h0M190.4 507.7h0M187.9 503.4h0M188.5 502.7h0M190.0 499.6h0M186.9 501.6h0"/><path d="M186.9 514.2h0M186.1 506.3h0M188.1 499.8h0M189.5 498.4h0M186.3 498.9h0M187.8 504.6h0"/><path d="M190.7 510.6h0M188.0 513.4h0M187.5 516.0h0M189.9 499.7h0M190.2 510.2h0M187.5 515.6h0"/><path d="M186.2 513.3h0M188.8 506.3h0M189.4 510.1h0M190.3 511.5h0M189.0 501.4h0M187.1 497.3h0"/><path d="M188.2 505.2h0M187.0 503.7h0M187.8 504.2h0M188.0 508.3h0M190.3 505.9h0M190.2 504.8h0"/><path d="M190.3 506.4h0M188.0 504.2h0M190.5 504.8h0M186.2 516.1h0M190.3 504.9h0M188.8 503.6h0"/><path d="M190.1 498.8h0M187.7 501.9h0M190.7 514.4h0M185.7 509.8h0M189.9 504.2h0M189.8 503.6h0"/><path d="M187.5 511.3h0M189.8 500.1h0M186.6 503.0h0M189.4 506.4h0M188.0 503.6h0M187.7 500.0h0"/><path d="M186.5 499.3h0M189.7 510.3h0M189.3 498.0h0M186.0 514.4h0M190.6 502.1h0M186.7 500.6h0"/><path d="M187.5 499.5h0M187.7 510.6h0M188.5 506.7h0M190.1 515.0h0M190.4 503.3h0M188.8 515.9h0"/><path d="M187.4 500.4h0M186.1 501.3h0M185.9 506.2h0M188.2 508.9h0M188.6 508.1h0M187.8 497.0h0"/><path d="M190.6 516.9h0M187.7 502.6h0M187.3 502.7h0M187.7 508.7h0M186.4 508.3h0M190.4 512.3h0"/><path d="M188.6 502.0h0M188.3 506.4h0M187.7 498.9h0M186.8 507.3h0M187.2 516.5h0M188.1 504.8h0"/><path d="M187.8 501.0h0M190.6 508.2h0M188.4 500.7h0M186.6 512.3h0M185.8 495.4h0M186.3 505.9h0"/><path d="M187.3 496.1h0M189.6 498.2h0M190.1 506.5h0M186.7 503.7h0M189.6 512.2h0M187.8 503.2h0"/><path d="M188.3 509.0h0M188.3 519.3h0M185.7 511.6h0M185.9 508.6h0M189.0 509.7h0M189.1 503.1h0"/><path d="M187.5 506.0h0M190.3 512.0h0M189.8 507.0h0M187.1 512.5h0M185.9 512.5h0M188.4 519.7h0"/><path d="M188.9 507.1h0M186.7 500.7h0M185.7 498.7h0M188.1 499.0h0M185.7 500.6h0M189.4 502.1h0"/><path d="M188.8 518.9h0M187.0 519.7h0M187.8 500.1h0M186.7 502.3h0M186.5 503.6h0M186.5 499.3h0"/><path d="M189.8 507.2h0M187.9 510.6h0M189.2 515.9h0M187.3 498.3h0M189.7 525.7h0M188.6 528.0h0"/><path d="M188.9 531.0h0M187.6 533.2h0M188.4 545.3h0"/></g>
<g stroke="#22578a" stroke-opacity="0.5" stroke-width="1.8" stroke-linecap="round" fill="none"><path d="M220.9 456.5h0M222.5 450.2h0M220.5 445.9h0M225.1 457.5h0M222.8 468.7h0M224.9 459.8h0"/><path d="M223.9 461.9h0M224.1 457.5h0M224.2 448.2h0M221.9 448.7h0M224.1 462.9h0M221.4 460.4h0"/><path d="M223.2 460.3h0M223.4 456.2h0M224.3 455.1h0M221.2 459.4h0M222.1 457.4h0M224.6 463.0h0"/><path d="M224.5 463.5h0M225.4 455.8h0M220.9 454.9h0M221.4 454.2h0M220.8 451.8h0M224.1 449.5h0"/><path d="M224.2 451.2h0M223.7 455.1h0M224.3 451.6h0M223.0 454.3h0M223.2 457.0h0M225.1 459.3h0"/><path d="M223.7 446.9h0M223.7 446.1h0M223.4 466.5h0M222.9 454.1h0M224.2 447.9h0M223.3 460.6h0"/><path d="M221.0 459.4h0M222.5 450.4h0M222.5 460.1h0M222.5 468.7h0M223.2 457.8h0M222.2 454.7h0"/><path d="M222.3 468.4h0M222.5 464.9h0M222.2 456.3h0M225.3 457.4h0M220.8 454.5h0M220.4 453.9h0"/><path d="M224.0 458.7h0M222.3 457.7h0M222.6 451.9h0M223.4 448.6h0M222.2 461.5h0M221.5 449.7h0"/><path d="M220.4 457.1h0M224.8 462.6h0M225.2 456.4h0M221.8 468.2h0M222.7 447.6h0M222.0 452.3h0"/><path d="M220.6 458.4h0M224.9 447.1h0M224.6 449.3h0M221.5 466.1h0M221.6 444.9h0M223.9 457.0h0"/><path d="M224.4 455.0h0M222.7 455.9h0M222.3 455.4h0M221.5 466.8h0M224.4 455.8h0M224.8 460.0h0"/><path d="M224.8 458.1h0M220.9 464.6h0M223.4 460.9h0M225.4 455.1h0M224.0 466.9h0M222.7 461.6h0"/><path d="M221.0 450.7h0M220.6 456.5h0M224.1 455.9h0M220.6 448.4h0M224.5 449.2h0M223.8 468.0h0"/><path d="M222.8 464.3h0M224.9 463.6h0M225.1 465.0h0M223.5 444.5h0M220.8 456.9h0M223.4 462.2h0"/><path d="M222.5 460.2h0M221.6 460.5h0M225.1 455.6h0M224.1 450.7h0M220.9 456.3h0M221.5 458.8h0"/><path d="M222.1 465.2h0M223.3 456.3h0M222.0 456.8h0M222.6 456.6h0M224.5 447.3h0M221.2 456.3h0"/><path d="M224.0 450.6h0M222.0 454.7h0M225.2 469.1h0M225.2 456.8h0M222.0 467.1h0M223.4 461.2h0"/><path d="M220.9 444.9h0M222.4 449.9h0M223.5 457.1h0M223.6 452.1h0M222.1 456.2h0M220.5 457.6h0"/><path d="M220.9 454.8h0M223.2 450.5h0M221.2 463.3h0M221.9 453.2h0M223.5 453.4h0M225.0 457.8h0"/><path d="M223.0 441.0h0"/></g>
<g stroke="#22578a" stroke-opacity="0.5" stroke-width="1.8" stroke-linecap="round" fill="none"><path d="M224.6 502.4h0M222.2 502.9h0M225.5 499.0h0M223.7 503.3h0M220.5 498.9h0M220.9 498.9h0"/><path d="M220.7 501.9h0M223.3 507.2h0M222.0 501.9h0M221.6 504.0h0M222.6 503.3h0M220.7 503.4h0"/><path d="M225.0 497.6h0M224.6 501.5h0M223.2 500.5h0M222.6 502.7h0M221.9 502.2h0M223.4 498.8h0"/><path d="M222.1 502.6h0M225.4 494.8h0M225.3 496.9h0M224.1 499.0h0M224.6 500.4h0M220.7 496.6h0"/><path d="M220.9 499.1h0M222.1 501.7h0M220.9 504.7h0M222.5 498.1h0M225.4 495.7h0M224.6 498.8h0"/><path d="M225.3 502.2h0M221.4 505.9h0M221.4 501.5h0M220.4 504.9h0M221.7 500.9h0M220.6 508.5h0"/><path d="M223.0 509.9h0M221.9 496.7h0M223.8 508.1h0M223.2 498.9h0M223.4 503.6h0M221.8 497.6h0"/><path d="M224.1 501.5h0M223.9 500.8h0M224.0 499.9h0M222.7 501.3h0M222.7 503.3h0M221.8 498.8h0"/><path d="M220.5 497.6h0M222.7 496.0h0M223.5 510.0h0M221.3 499.0h0M224.8 497.1h0M224.9 497.8h0"/><path d="M224.7 506.8h0M224.5 500.4h0M222.8 499.2h0M221.2 499.8h0M221.7 509.8h0M224.1 503.1h0"/><path d="M225.4 495.7h0M220.9 497.9h0M220.3 501.2h0M222.1 496.6h0M222.1 498.8h0M223.4 501.1h0"/><path d="M220.9 502.3h0M224.7 496.8h0M222.0 510.3h0M225.0 503.3h0M222.0 503.9h0M221.9 506.3h0"/><path d="M221.2 506.0h0M225.3 499.0h0M223.4 500.5h0M224.6 501.9h0M220.6 495.6h0M223.1 497.9h0"/><path d="M224.1 504.2h0M225.4 501.2h0M225.2 505.3h0M220.8 501.7h0M222.2 500.4h0M225.5 503.0h0"/><path d="M223.1 501.7h0M225.3 497.8h0M221.6 507.6h0M220.4 496.8h0M225.2 504.9h0M221.7 496.7h0"/><path d="M223.2 503.2h0M222.2 508.0h0M223.3 498.9h0M225.1 511.1h0M225.2 506.3h0M224.9 497.3h0"/><path d="M221.6 502.3h0M224.6 500.6h0M220.4 498.7h0M222.5 497.5h0M225.2 505.3h0M221.6 510.9h0"/><path d="M222.2 499.0h0M223.3 509.5h0M221.5 497.9h0M224.0 499.7h0M223.7 504.9h0M220.8 502.1h0"/><path d="M225.1 503.4h0M220.7 505.3h0M223.9 502.8h0M222.1 503.0h0M221.0 503.2h0M220.7 497.0h0"/><path d="M225.5 497.9h0M224.4 498.3h0M222.7 500.6h0M224.4 497.1h0M225.3 509.6h0M225.1 502.7h0"/><path d="M223.1 519.6h0M221.7 521.6h0M223.0 541.4h0"/></g>
<g stroke="#c0651a" stroke-opacity="0.5" stroke-width="1.8" stroke-linecap="round" fill="none"><path d="M242.3 461.3h0M241.8 452.6h0M240.1 458.5h0M242.4 465.5h0M242.7 468.1h0M241.5 450.7h0"/><path d="M240.5 456.7h0M242.5 457.5h0M240.3 458.6h0M240.8 457.0h0M242.2 456.0h0M241.8 454.5h0"/><path d="M242.5 460.5h0M242.7 465.8h0M242.0 456.2h0M240.6 449.0h0M240.0 455.1h0M242.8 455.6h0"/><path d="M245.0 465.4h0M241.4 456.0h0M241.8 454.4h0M241.6 459.7h0M243.8 457.9h0M242.5 457.4h0"/><path d="M244.1 458.9h0M240.0 459.2h0M240.6 453.9h0M241.0 449.7h0M241.9 466.7h0M242.0 451.4h0"/><path d="M241.9 457.3h0M245.0 452.0h0M242.2 458.3h0M242.9 451.0h0M244.9 457.5h0M243.3 458.5h0"/><path d="M243.0 459.7h0M244.2 448.6h0M241.7 455.7h0M240.1 447.8h0M244.9 453.6h0M242.7 459.5h0"/><path d="M243.0 458.8h0M240.3 465.5h0M243.8 459.7h0M241.9 454.6h0M243.3 459.0h0M241.4 453.2h0"/><path d="M244.7 443.6h0M241.9 453.7h0M241.4 457.1h0M244.6 451.1h0M241.1 456.5h0M241.3 459.6h0"/><path d="M242.5 458.7h0M245.0 448.0h0M240.5 468.8h0M241.0 454.7h0M244.1 462.9h0M240.3 454.6h0"/><path d="M242.1 452.4h0M244.0 456.2h0M243.6 458.4h0M244.1 458.2h0M240.5 460.2h0M244.6 461.3h0"/><path d="M241.8 446.6h0M244.2 456.4h0M242.4 451.1h0M244.6 457.7h0M242.4 462.7h0M241.3 454.8h0"/><path d="M240.7 457.2h0M242.5 460.3h0M240.2 468.7h0M240.8 457.3h0M244.5 452.4h0M242.9 460.9h0"/><path d="M244.4 453.6h0M240.7 456.5h0M242.4 462.8h0M242.4 456.5h0M240.5 454.7h0M241.3 456.9h0"/><path d="M244.7 459.1h0M243.7 462.3h0M242.6 461.0h0M243.1 459.9h0M244.4 456.2h0M244.9 454.7h0"/><path d="M243.0 459.7h0M240.2 455.1h0M244.5 457.0h0M240.8 458.9h0M241.2 452.1h0M240.7 458.1h0"/><path d="M242.6 451.7h0M243.0 464.5h0M242.3 461.3h0M242.4 449.4h0M240.7 445.6h0M243.7 454.7h0"/><path d="M242.7 453.8h0M241.5 451.9h0M244.3 447.4h0M244.8 452.5h0M244.7 447.6h0M245.1 449.2h0"/><path d="M240.3 457.4h0M242.0 462.0h0M242.3 465.8h0M241.3 458.4h0M243.8 454.6h0M244.6 450.0h0"/><path d="M240.7 462.3h0M242.6 450.8h0M245.0 464.0h0M244.6 456.9h0M242.3 466.4h0M240.5 454.4h0"/><path d="M242.3 446.4h0M242.6 455.3h0M244.0 454.5h0M240.9 457.6h0M241.4 454.5h0M245.1 454.7h0"/><path d="M240.0 458.0h0M243.1 457.1h0M240.4 461.3h0M243.8 457.0h0M242.1 456.7h0M244.8 457.6h0"/><path d="M241.1 460.3h0M244.5 455.3h0M241.1 446.2h0M240.2 458.7h0M240.4 451.1h0M240.3 449.1h0"/><path d="M242.0 453.7h0M245.0 460.5h0M241.8 467.1h0M243.7 465.8h0M240.1 457.5h0M242.6 460.8h0"/><path d="M242.7 463.8h0M240.4 464.9h0M243.0 451.4h0M242.3 454.9h0M241.6 456.3h0M244.3 454.1h0"/><path d="M243.5 458.7h0M240.6 450.3h0M240.5 461.2h0M240.2 455.4h0M241.3 454.4h0M243.3 453.9h0"/><path d="M245.0 459.4h0M245.0 445.8h0M244.4 455.6h0M240.6 444.6h0M244.1 455.5h0M243.9 445.6h0"/><path d="M242.4 465.1h0M245.1 450.4h0M243.1 459.6h0M240.6 458.1h0M241.1 452.6h0M240.6 461.1h0"/><path d="M243.1 451.8h0M243.2 453.3h0M244.4 461.1h0M240.0 455.5h0M240.0 457.6h0M245.0 465.3h0"/><path d="M241.3 450.0h0M241.3 458.9h0M244.4 453.5h0M240.5 460.9h0M244.1 458.8h0M244.6 459.5h0"/><path d="M242.9 440.4h0M243.1 472.7h0M240.0 475.0h0"/></g>
<g stroke="#c0651a" stroke-opacity="0.5" stroke-width="1.8" stroke-linecap="round" fill="none"><path d="M243.3 499.8h0M240.4 508.6h0M244.0 502.0h0M244.4 496.4h0M241.9 502.0h0M241.9 508.4h0"/><path d="M242.6 506.1h0M241.3 497.7h0M241.0 500.8h0M240.6 504.9h0M243.5 501.4h0M242.6 497.3h0"/><path d="M244.9 498.2h0M244.9 505.5h0M244.5 502.7h0M244.9 505.3h0M244.3 508.8h0M240.1 498.0h0"/><path d="M240.6 505.1h0M245.0 497.6h0M244.5 508.7h0M243.1 504.5h0M243.2 506.6h0M242.2 510.3h0"/><path d="M242.1 503.0h0M240.7 503.5h0M242.8 498.3h0M241.4 505.5h0M240.6 502.3h0M244.5 507.7h0"/><path d="M242.9 496.6h0M244.5 502.0h0M241.5 503.0h0M242.9 501.1h0M241.4 501.1h0M244.3 505.1h0"/><path d="M241.0 505.0h0M243.3 508.7h0M242.8 502.3h0M241.6 503.0h0M240.4 499.1h0M242.5 507.3h0"/><path d="M242.7 501.5h0M244.2 499.7h0M241.0 499.2h0M240.9 502.5h0M241.5 508.1h0M244.1 501.7h0"/><path d="M241.1 508.4h0M243.2 503.2h0M240.1 506.8h0M240.4 500.6h0M243.6 502.6h0M242.5 509.6h0"/><path d="M240.5 503.6h0M242.4 495.3h0M244.8 502.8h0M242.0 508.0h0M242.8 511.5h0M242.1 497.3h0"/><path d="M242.6 504.2h0M240.2 504.0h0M244.5 499.9h0M243.0 507.3h0M241.7 503.6h0M241.4 501.2h0"/><path d="M240.9 504.1h0M244.8 497.2h0M244.3 508.4h0M241.9 508.7h0M243.1 505.4h0M242.8 499.0h0"/><path d="M241.0 504.9h0M240.1 497.6h0M243.8 502.6h0M240.8 496.3h0M242.9 506.1h0M240.0 505.7h0"/><path d="M240.1 504.1h0M240.8 505.9h0M243.3 512.2h0M243.1 499.8h0M245.1 505.4h0M243.4 497.3h0"/><path d="M242.7 496.9h0M240.0 505.9h0M244.9 499.3h0M242.5 499.2h0M244.4 505.2h0M240.2 502.3h0"/><path d="M244.3 503.9h0M242.4 507.8h0M241.1 503.5h0M242.1 505.8h0M240.3 499.7h0M243.0 497.9h0"/><path d="M241.1 508.4h0M243.6 506.9h0M240.8 504.8h0M243.5 504.1h0M243.2 507.7h0M243.6 505.2h0"/><path d="M244.9 511.9h0M241.5 505.5h0M243.5 499.2h0M242.0 504.4h0M244.6 498.4h0M244.2 506.6h0"/><path d="M243.9 510.1h0M243.1 496.6h0M241.3 504.1h0M244.7 501.2h0M245.0 509.5h0M244.9 506.0h0"/><path d="M241.7 503.5h0M244.2 512.0h0M243.5 507.9h0M244.3 504.9h0M244.1 499.4h0M242.3 506.7h0"/><path d="M242.0 503.9h0M244.1 507.9h0M243.3 496.3h0M242.7 503.6h0M244.5 505.0h0M240.1 510.7h0"/><path d="M240.0 496.2h0M242.4 500.3h0M240.4 503.3h0M244.3 507.0h0M240.4 506.4h0M244.5 499.5h0"/><path d="M241.1 507.1h0M240.6 500.0h0M243.9 502.2h0M243.5 505.9h0M242.1 510.0h0M243.0 512.1h0"/><path d="M242.8 502.2h0M244.9 503.8h0M242.6 504.8h0M242.7 508.5h0M242.3 498.9h0M242.1 506.1h0"/><path d="M243.5 505.1h0M240.5 504.2h0M243.5 502.7h0M244.8 509.0h0M243.9 503.7h0M242.8 503.6h0"/><path d="M241.8 503.0h0M240.4 502.1h0M240.4 505.6h0M242.7 504.9h0M244.5 505.1h0M244.4 506.1h0"/><path d="M240.9 501.7h0M243.8 498.4h0M244.1 495.9h0M242.4 498.5h0M244.4 509.9h0M240.9 504.6h0"/><path d="M241.7 498.0h0M242.6 498.8h0M243.7 498.1h0M242.3 505.2h0M241.5 500.0h0M244.4 504.1h0"/><path d="M242.0 501.8h0M242.1 501.9h0M241.1 498.4h0M242.5 510.4h0M243.6 501.9h0M241.8 503.1h0"/><path d="M243.4 497.8h0M242.5 507.7h0M240.0 505.3h0M244.9 498.9h0M241.4 502.3h0M242.8 509.4h0"/><path d="M244.9 518.0h0M241.0 537.1h0"/></g>
<g stroke="#267326" stroke-opacity="0.5" stroke-width="1.8" stroke-linecap="round" fill="none"><path d="M260.7 454.3h0M261.2 457.3h0M263.5 443.9h0M264.2 459.9h0M262.0 454.7h0M264.0 466.4h0"/><path d="M260.2 456.1h0M262.3 455.7h0M263.5 444.9h0M263.7 447.7h0M261.6 450.5h0M260.5 464.8h0"/><path d="M264.6 454.2h0M262.8 452.0h0M263.0 455.3h0M261.4 459.7h0M260.2 465.3h0M262.6 451.7h0"/><path d="M261.7 460.3h0M264.2 459.8h0M263.0 450.9h0M263.5 457.2h0M262.6 454.8h0M263.5 461.8h0"/><path d="M260.3 461.5h0M264.8 457.8h0M262.6 453.5h0M262.7 469.7h0M260.6 473.2h0M260.1 455.0h0"/><path d="M263.3 455.5h0M263.4 460.7h0M263.1 461.6h0M260.9 469.6h0M262.1 462.5h0M263.6 449.8h0"/><path d="M262.9 454.8h0M264.3 454.2h0M260.1 447.9h0M263.6 465.1h0M259.7 471.0h0M262.8 465.7h0"/><path d="M262.4 447.0h0M260.0 448.7h0M261.8 450.3h0M263.1 454.7h0M264.1 472.8h0M260.0 449.9h0"/><path d="M262.2 447.9h0M263.7 459.8h0M260.2 444.6h0M264.2 447.2h0M264.5 447.2h0M261.4 454.4h0"/><path d="M260.7 467.2h0M260.3 463.7h0M260.7 460.0h0M261.8 457.7h0M263.3 445.3h0M264.5 449.5h0"/><path d="M262.5 447.5h0M264.5 464.7h0M261.8 457.1h0M263.0 467.9h0M259.6 452.3h0M261.8 471.3h0"/><path d="M259.7 468.6h0M260.3 464.1h0M263.8 461.3h0M260.2 461.7h0M261.1 465.1h0M262.3 451.0h0"/><path d="M262.3 459.8h0M259.7 446.7h0M260.2 461.1h0M263.1 464.1h0M261.7 449.6h0M260.1 450.9h0"/><path d="M262.1 455.4h0M261.5 469.1h0M264.8 458.3h0M259.8 461.0h0M260.5 457.1h0M260.0 462.7h0"/><path d="M262.5 461.4h0M264.6 459.7h0M263.6 465.4h0M260.2 445.2h0M262.4 454.5h0M261.5 457.2h0"/><path d="M264.7 457.8h0M263.3 446.4h0M262.7 447.8h0M260.9 444.6h0M261.9 463.3h0M262.3 451.1h0"/><path d="M261.6 458.5h0M262.5 460.7h0M260.1 445.6h0M261.8 455.5h0M264.7 453.5h0M261.7 458.5h0"/><path d="M262.2 470.3h0M263.5 451.9h0M263.8 460.0h0M263.4 464.7h0M261.6 461.6h0M263.3 461.5h0"/><path d="M260.6 459.6h0M262.8 460.4h0M259.7 464.1h0M260.6 458.0h0M260.5 449.6h0M261.4 470.6h0"/><path d="M263.4 451.8h0M259.7 464.3h0M264.1 455.5h0M260.1 460.2h0M264.5 459.7h0M264.5 450.3h0"/><path d="M262.8 468.1h0M264.0 458.7h0M264.5 457.3h0M261.9 470.3h0M264.0 461.3h0M259.8 461.9h0"/><path d="M263.7 467.9h0M263.0 454.5h0M263.6 443.2h0M260.4 459.7h0M260.0 445.9h0M262.3 454.9h0"/><path d="M262.7 453.9h0M263.2 457.1h0M260.5 472.0h0M262.5 462.9h0M264.6 447.6h0M260.9 471.1h0"/><path d="M263.9 457.8h0M264.6 457.6h0M263.1 471.9h0M261.9 456.3h0M261.8 456.4h0M262.0 446.9h0"/><path d="M260.2 458.8h0M260.0 464.6h0M261.0 450.6h0M260.5 457.5h0M264.3 465.7h0M261.5 449.5h0"/><path d="M264.1 465.5h0M262.5 459.9h0M264.3 453.3h0M264.3 452.4h0M263.3 446.6h0M261.9 450.3h0"/><path d="M260.9 449.2h0M262.5 451.1h0M261.2 465.7h0M263.9 464.2h0M259.8 454.5h0M262.9 459.3h0"/><path d="M261.4 459.1h0M261.8 463.7h0M262.4 460.6h0M264.7 469.8h0M264.8 453.0h0M261.4 461.2h0"/><path d="M264.6 467.7h0M264.6 457.1h0M262.3 459.3h0M262.5 460.7h0M260.6 462.3h0M263.7 469.5h0"/><path d="M262.1 458.0h0M263.6 454.9h0M264.4 455.5h0M262.8 456.4h0M263.2 458.9h0M262.4 447.9h0"/><path d="M260.3 457.2h0M262.0 462.6h0M259.9 459.0h0M260.5 445.8h0M264.7 464.4h0M261.6 444.2h0"/><path d="M260.3 459.6h0M261.9 470.0h0M259.9 444.7h0M262.7 463.6h0M260.8 463.6h0M260.7 454.4h0"/><path d="M262.9 455.9h0M264.4 454.2h0M259.7 457.6h0M263.3 468.1h0M262.6 469.8h0M262.1 455.1h0"/><path d="M261.8 470.8h0M259.6 465.4h0M261.4 467.5h0M262.3 453.8h0M261.3 449.6h0M264.8 469.2h0"/><path d="M261.4 458.8h0M264.0 464.0h0M263.8 456.7h0M263.7 455.5h0M262.1 460.8h0M262.2 451.1h0"/><path d="M264.0 453.5h0M260.2 451.1h0M260.8 457.2h0M259.7 467.2h0M262.1 450.8h0M261.9 464.5h0"/><path d="M264.6 451.7h0M264.4 458.1h0M261.7 448.8h0M262.2 459.5h0"/></g>
<g stroke="#267326" stroke-opacity="0.5" stroke-width="1.8" stroke-linecap="round" fill="none"><path d="M259.9 504.4h0M264.4 497.5h0M263.2 520.4h0M260.4 503.4h0M261.7 518.5h0M259.9 508.9h0"/><path d="M260.0 509.5h0M261.4 502.5h0M264.2 509.1h0M264.3 504.1h0M263.5 510.0h0M262.9 520.2h0"/><path d="M262.6 506.3h0M262.2 502.5h0M263.0 499.8h0M262.2 502.7h0M261.7 505.0h0M263.9 514.3h0"/><path d="M261.2 510.0h0M261.7 502.5h0M263.1 503.9h0M264.6 499.5h0M261.4 513.8h0M261.8 508.3h0"/><path d="M261.7 520.2h0M260.7 505.9h0M261.4 499.1h0M263.7 512.5h0M260.6 513.3h0M262.1 501.5h0"/><path d="M261.1 515.8h0M262.6 505.0h0M263.6 505.0h0M260.2 512.5h0M262.1 513.0h0M260.6 499.9h0"/><path d="M263.0 501.9h0M263.1 499.2h0M260.7 503.7h0M260.8 506.5h0M261.2 512.9h0M261.3 500.9h0"/><path d="M264.2 507.3h0M264.1 506.9h0M263.7 510.7h0M261.6 508.5h0M262.0 501.6h0M260.6 500.7h0"/><path d="M262.0 509.8h0M264.5 498.5h0M260.1 511.0h0M261.6 505.0h0M260.6 506.5h0M264.0 507.7h0"/><path d="M261.2 498.3h0M262.1 503.9h0M259.9 500.4h0M263.2 509.2h0M262.3 502.1h0M263.8 503.7h0"/><path d="M263.3 497.9h0M263.5 495.5h0M261.0 505.2h0M260.9 519.8h0M262.7 499.5h0M259.8 501.0h0"/><path d="M264.5 501.4h0M263.3 501.3h0M262.2 504.6h0M261.5 509.4h0M260.0 510.1h0M262.5 515.2h0"/><path d="M263.6 500.7h0M260.2 503.6h0M260.1 500.5h0M263.2 508.0h0M262.0 498.8h0M263.7 501.2h0"/><path d="M261.7 507.7h0M264.7 509.1h0M264.1 506.6h0M261.3 508.2h0M262.4 505.2h0M262.6 500.5h0"/><path d="M261.9 505.4h0M263.8 507.9h0M263.3 505.2h0M263.8 499.2h0M260.9 502.5h0M262.2 508.2h0"/><path d="M262.4 503.4h0M262.6 507.8h0M259.7 499.5h0M263.8 512.9h0M261.9 504.0h0M260.4 508.7h0"/><path d="M264.0 515.6h0M262.5 517.1h0M263.4 495.6h0M263.4 514.6h0M262.8 507.5h0M264.3 506.3h0"/><path d="M259.9 500.1h0M261.3 502.6h0M260.4 516.4h0M262.9 507.9h0M260.7 509.6h0M259.7 518.6h0"/><path d="M260.3 502.2h0M260.5 506.6h0M262.4 501.2h0M262.0 501.7h0M262.0 502.7h0M259.7 503.2h0"/><path d="M262.3 508.6h0M260.9 510.0h0M260.1 508.2h0M259.9 503.9h0M260.4 510.7h0M261.7 502.2h0"/><path d="M260.5 512.2h0M262.0 519.8h0M260.4 496.0h0M263.4 500.8h0M264.1 505.3h0M261.3 501.6h0"/><path d="M260.0 498.7h0M264.6 509.0h0M260.0 515.5h0M263.0 505.3h0M263.5 507.3h0M262.1 508.6h0"/><path d="M264.2 514.4h0M260.4 515.1h0M263.3 508.9h0M264.3 511.7h0M264.3 500.9h0M264.0 510.2h0"/><path d="M261.9 498.9h0M262.3 503.5h0M264.0 505.3h0M261.6 516.1h0M260.9 521.3h0M259.8 508.8h0"/><path d="M260.7 500.3h0M260.3 505.7h0M264.4 511.7h0M261.2 507.8h0M261.4 514.1h0M264.7 507.5h0"/><path d="M263.2 500.5h0M261.8 508.8h0M260.1 508.3h0M261.5 509.3h0M261.1 511.6h0M264.5 506.9h0"/><path d="M261.8 508.0h0M264.6 503.6h0M261.0 519.9h0M259.8 513.4h0M264.3 512.0h0M260.0 500.6h0"/><path d="M263.7 505.8h0M262.7 510.7h0M261.1 497.8h0M263.9 507.6h0M261.8 507.5h0M264.7 509.7h0"/><path d="M262.5 501.5h0M264.5 517.9h0M264.4 515.3h0M261.5 499.8h0M263.2 498.4h0M263.4 498.8h0"/><path d="M263.0 514.1h0M259.7 501.6h0M263.2 505.3h0M263.6 513.8h0M260.6 500.9h0M260.1 515.2h0"/><path d="M259.9 515.2h0M262.4 500.9h0M260.1 507.2h0M264.0 506.8h0M261.7 509.1h0M264.8 505.3h0"/><path d="M263.4 513.5h0M261.8 498.4h0M260.5 510.8h0M261.8 507.5h0M262.7 502.5h0M264.1 512.7h0"/><path d="M264.2 508.2h0M261.3 501.6h0M259.7 507.9h0M263.0 503.6h0M263.2 506.5h0M263.0 498.7h0"/><path d="M263.8 500.6h0M263.8 505.4h0M262.8 513.6h0M263.9 500.3h0M260.2 501.2h0M264.5 505.2h0"/><path d="M263.1 499.0h0M260.1 510.6h0M260.5 495.7h0M262.9 499.0h0M261.2 500.9h0M264.5 504.7h0"/><path d="M261.0 506.4h0M262.1 502.0h0M262.2 507.7h0M264.5 518.0h0M261.2 507.0h0M264.2 498.7h0"/><path d="M263.4 497.3h0M262.5 503.7h0M264.5 497.2h0M264.2 504.1h0M263.5 527.8h0M262.4 531.0h0"/><path d="M259.8 535.0h0M260.7 538.0h0M263.0 541.4h0"/></g>
<g stroke="#22578a" stroke-opacity="0.5" stroke-width="1.8" stroke-linecap="round" fill="none"><path d="M298.5 460.3h0M294.9 461.6h0M297.7 463.0h0M296.1 456.8h0M298.0 458.9h0M295.9 463.7h0"/><path d="M295.3 460.8h0M295.8 459.1h0M298.1 455.5h0M298.1 463.4h0M299.1 460.8h0M296.5 463.5h0"/><path d="M294.7 463.1h0M298.6 462.3h0M295.7 463.4h0M298.1 459.7h0M296.9 456.5h0M296.7 459.9h0"/><path d="M294.5 459.9h0M295.5 460.4h0M298.3 460.9h0M296.8 460.2h0M298.9 455.5h0M298.6 457.3h0"/><path d="M297.1 455.5h0M299.5 462.3h0M294.4 455.8h0M296.4 462.4h0M297.1 459.9h0M294.6 456.8h0"/><path d="M298.9 459.1h0M295.1 464.2h0M297.4 461.7h0M295.8 459.1h0M296.3 463.2h0M296.8 459.6h0"/><path d="M295.9 459.6h0M295.3 458.1h0M297.8 458.4h0M297.6 463.8h0M294.8 459.2h0M299.4 455.1h0"/><path d="M294.9 466.1h0M295.5 461.0h0M295.8 461.9h0M296.3 455.0h0M296.9 461.6h0M299.1 458.2h0"/><path d="M294.9 455.4h0M297.3 462.5h0M297.6 459.6h0M295.7 458.9h0M296.2 460.4h0M296.7 461.8h0"/><path d="M299.0 465.8h0M298.4 456.2h0M296.9 463.4h0M294.7 461.2h0M296.2 463.4h0M298.6 458.0h0"/><path d="M296.6 465.0h0M296.4 458.2h0M297.7 462.4h0M294.6 462.5h0M297.7 458.8h0M297.9 463.2h0"/><path d="M294.9 461.7h0M296.5 458.2h0M298.8 462.4h0M295.7 460.0h0M297.1 459.3h0M296.2 461.1h0"/><path d="M297.2 457.6h0M296.4 462.3h0M296.1 457.8h0M299.2 459.6h0M298.0 459.2h0M299.6 465.5h0"/><path d="M296.1 456.5h0M296.8 458.5h0M296.3 462.7h0M298.9 464.4h0M296.3 463.2h0M297.9 461.5h0"/><path d="M295.3 458.4h0M297.2 460.8h0M295.8 457.4h0M299.1 461.6h0M296.3 462.1h0M299.3 462.1h0"/><path d="M297.3 465.8h0M296.1 460.9h0M297.2 460.6h0M299.2 461.4h0M298.0 459.8h0M298.6 454.4h0"/><path d="M297.3 459.5h0M297.6 463.3h0M295.1 461.6h0M298.7 462.1h0M297.7 461.6h0M297.7 455.8h0"/><path d="M295.9 462.2h0M298.3 454.5h0M297.1 461.9h0M296.0 459.7h0M299.5 456.4h0M298.4 460.7h0"/><path d="M297.9 460.8h0M298.7 460.1h0M298.0 456.7h0M296.4 458.5h0M299.3 461.1h0M299.1 460.7h0"/><path d="M297.9 458.1h0M296.6 461.5h0M297.0 457.3h0M294.6 465.4h0M299.0 462.1h0M298.7 464.1h0"/><path d="M297.5 448.7h0"/></g>
<g stroke="#22578a" stroke-opacity="0.5" stroke-width="1.8" stroke-linecap="round" fill="none"><path d="M297.7 501.2h0M295.6 498.1h0M297.8 500.7h0M295.1 500.7h0M299.4 504.1h0M297.2 497.3h0"/><path d="M299.2 503.8h0M297.8 499.5h0M295.5 497.3h0M298.2 506.6h0M297.6 500.4h0M296.3 495.9h0"/><path d="M298.0 496.8h0M298.3 506.2h0M297.9 499.6h0M295.5 499.9h0M299.4 499.0h0M299.1 501.0h0"/><path d="M296.6 502.4h0M299.2 498.5h0M299.5 503.0h0M296.2 496.4h0M295.4 503.5h0M295.6 500.5h0"/><path d="M296.9 499.8h0M295.1 497.1h0M295.6 495.1h0M298.2 501.1h0M294.5 498.4h0M297.5 496.6h0"/><path d="M296.5 499.4h0M298.1 495.8h0M295.7 496.6h0M296.8 495.6h0M295.5 502.6h0M294.4 505.4h0"/><path d="M298.9 496.3h0M296.3 496.9h0M295.9 501.5h0M299.2 500.4h0M296.3 495.7h0M297.2 504.5h0"/><path d="M295.1 505.7h0M296.5 498.5h0M298.9 498.2h0M298.6 498.8h0M298.6 496.8h0M299.1 497.4h0"/><path d="M295.6 495.5h0M294.6 496.6h0M295.0 502.3h0M297.7 497.1h0M297.2 496.1h0M296.3 498.8h0"/><path d="M298.1 496.7h0M295.5 496.4h0M297.5 504.3h0M296.5 499.3h0M295.1 502.0h0M298.4 504.0h0"/><path d="M295.3 498.3h0M298.5 500.3h0M298.3 505.0h0M296.6 505.2h0M296.7 501.2h0M295.4 498.8h0"/><path d="M295.1 500.3h0M298.0 499.9h0M296.3 501.8h0M297.3 505.6h0M296.3 498.2h0M295.7 496.6h0"/><path d="M295.2 501.6h0M298.3 496.0h0M296.6 499.5h0M295.2 501.1h0M298.9 499.8h0M295.2 497.2h0"/><path d="M295.6 495.6h0M295.2 499.9h0M297.3 504.0h0M298.4 501.3h0M294.5 500.4h0M299.2 504.6h0"/><path d="M298.0 496.8h0M298.7 500.8h0M296.6 501.2h0M296.6 496.9h0M294.8 496.9h0M295.7 499.7h0"/><path d="M298.9 500.1h0M295.8 498.9h0M299.0 496.5h0M298.7 495.5h0M299.1 498.8h0M295.1 499.1h0"/><path d="M296.6 497.3h0M298.7 504.1h0M296.0 500.4h0M295.6 503.8h0M294.5 497.3h0M297.1 496.5h0"/><path d="M297.2 496.5h0M295.5 496.4h0M295.7 501.6h0M297.7 496.6h0M295.3 498.5h0M298.4 505.0h0"/><path d="M298.9 505.0h0M296.5 496.1h0M295.0 497.0h0M297.3 499.1h0M295.9 496.0h0M294.9 500.6h0"/><path d="M298.0 495.8h0M297.3 497.8h0M295.8 496.3h0M295.6 502.6h0M298.1 500.7h0M299.1 498.6h0"/><path d="M296.2 509.4h0"/></g>
<g stroke="#c0651a" stroke-opacity="0.5" stroke-width="1.8" stroke-linecap="round" fill="none"><path d="M315.9 442.0h0M317.6 457.1h0M314.9 457.2h0M315.3 438.7h0M315.0 451.9h0M314.6 452.5h0"/><path d="M318.7 446.6h0M319.2 462.0h0M318.3 468.0h0M316.6 459.2h0M317.9 448.4h0M317.6 444.6h0"/><path d="M316.3 452.2h0M316.7 448.1h0M314.7 462.9h0M315.3 464.4h0M315.8 451.9h0M315.9 447.9h0"/><path d="M317.4 449.9h0M315.3 441.6h0M315.2 462.4h0M318.6 452.4h0M318.1 466.3h0M318.9 469.2h0"/><path d="M318.1 452.8h0M315.0 446.4h0M316.5 466.6h0M318.3 452.5h0M318.2 456.3h0M315.2 458.2h0"/><path d="M316.5 457.5h0M317.1 442.9h0M314.1 465.9h0M315.3 455.6h0M317.9 447.2h0M317.5 455.3h0"/><path d="M316.3 443.5h0M317.0 446.9h0M316.8 450.0h0M315.8 459.7h0M314.5 450.9h0M317.9 458.0h0"/><path d="M318.0 458.5h0M316.3 454.3h0M318.0 452.8h0M318.3 461.0h0M317.6 464.7h0M318.2 459.5h0"/><path d="M319.0 457.8h0M314.2 466.4h0M318.9 457.8h0M316.4 449.1h0M318.1 456.5h0M317.8 451.2h0"/><path d="M314.5 465.8h0M317.1 460.3h0M314.5 443.1h0M317.8 450.4h0M315.8 459.0h0M316.0 465.5h0"/><path d="M315.4 463.7h0M318.2 458.3h0M317.3 461.4h0M315.6 455.2h0M317.9 451.1h0M315.0 452.7h0"/><path d="M318.2 455.6h0M317.2 464.5h0M318.0 449.8h0M317.2 438.3h0M319.1 438.2h0M317.6 457.2h0"/><path d="M316.4 441.9h0M317.1 458.9h0M317.0 459.2h0M315.5 464.5h0M315.6 444.4h0M318.2 467.1h0"/><path d="M318.3 452.1h0M319.0 449.7h0M317.6 454.8h0M316.6 458.2h0M316.1 452.4h0M317.7 448.5h0"/><path d="M317.4 457.2h0M318.9 458.9h0M317.9 443.5h0M316.0 447.5h0M315.5 447.0h0M314.2 457.6h0"/><path d="M318.1 455.7h0M316.2 452.6h0M316.1 451.2h0M314.3 456.3h0M316.6 458.6h0M318.7 445.8h0"/><path d="M315.5 456.9h0M317.9 462.8h0M318.0 443.7h0M317.4 450.9h0M317.1 451.2h0M315.3 451.9h0"/><path d="M317.5 440.3h0M317.0 463.6h0M319.0 444.6h0M316.7 461.3h0M315.9 452.5h0M318.7 457.7h0"/><path d="M317.3 455.7h0M315.8 454.7h0M317.4 451.1h0M314.8 469.4h0M315.0 456.5h0M318.6 448.0h0"/><path d="M316.4 465.1h0M318.2 450.9h0M315.1 451.1h0M316.5 449.0h0M315.2 451.1h0M318.2 462.2h0"/><path d="M317.1 455.1h0M316.1 450.9h0M316.0 439.1h0M315.1 448.3h0M315.1 451.2h0M317.6 457.2h0"/><path d="M315.6 447.1h0M314.6 456.1h0M316.0 444.9h0M316.4 462.8h0M319.1 447.0h0M316.0 456.7h0"/><path d="M316.1 446.3h0M319.1 465.2h0M317.8 458.6h0M316.4 462.5h0M316.1 455.5h0M315.2 456.5h0"/><path d="M314.8 455.8h0M316.5 457.0h0M317.3 453.1h0M314.6 441.6h0M316.5 450.0h0M314.9 457.4h0"/><path d="M317.1 457.1h0M315.8 438.7h0M317.5 452.3h0M318.1 461.1h0M316.1 455.8h0M316.0 453.0h0"/><path d="M314.4 464.2h0M315.1 451.2h0M317.2 447.9h0M318.2 458.3h0M314.7 454.9h0M319.1 454.3h0"/><path d="M318.8 439.7h0M315.9 456.3h0M316.8 454.9h0M317.5 462.7h0M315.7 454.9h0M315.9 449.3h0"/><path d="M317.8 448.7h0M316.5 461.5h0M316.3 451.4h0M316.9 444.4h0M314.6 450.1h0M316.5 461.5h0"/><path d="M315.5 456.6h0M314.9 467.5h0M316.7 442.2h0M317.7 460.3h0M316.7 464.3h0M316.6 443.3h0"/><path d="M317.5 458.5h0M316.2 458.7h0M319.1 463.2h0M315.1 449.1h0M314.1 458.4h0M317.0 465.5h0"/><path d="M317.6 413.5h0M316.0 415.2h0M316.1 424.0h0M315.8 426.0h0M315.3 429.0h0M318.1 433.7h0"/></g>
<g stroke="#c0651a" stroke-opacity="0.5" stroke-width="1.8" stroke-linecap="round" fill="none"><path d="M314.2 513.1h0M315.2 499.4h0M319.2 504.0h0M318.5 501.8h0M316.2 508.6h0M318.6 505.2h0"/><path d="M318.7 515.0h0M318.5 497.7h0M317.8 496.5h0M317.0 504.4h0M316.7 499.4h0M317.7 509.3h0"/><path d="M317.1 503.9h0M319.1 506.3h0M314.9 505.5h0M318.7 505.7h0M317.9 504.4h0M316.3 506.6h0"/><path d="M318.4 510.0h0M315.5 504.7h0M316.0 508.9h0M317.0 507.5h0M319.1 496.2h0M315.3 507.0h0"/><path d="M318.4 501.6h0M317.4 509.0h0M318.8 512.5h0M315.6 517.2h0M317.5 515.3h0M318.6 506.2h0"/><path d="M318.6 503.7h0M317.6 513.6h0M318.4 504.1h0M317.3 496.0h0M316.9 507.8h0M315.0 505.7h0"/><path d="M316.7 507.6h0M319.1 512.1h0M318.9 496.1h0M314.2 502.9h0M315.6 497.4h0M315.3 504.4h0"/><path d="M318.4 502.0h0M315.0 502.0h0M318.0 506.7h0M315.0 498.4h0M315.8 498.7h0M319.1 497.1h0"/><path d="M314.7 495.4h0M317.0 513.8h0M315.4 497.8h0M317.9 505.6h0M314.4 500.9h0M317.5 508.1h0"/><path d="M315.3 506.6h0M319.0 505.7h0M315.7 501.7h0M317.5 504.0h0M314.2 506.7h0M318.9 507.1h0"/><path d="M317.3 505.8h0M318.8 504.8h0M317.9 504.5h0M314.3 503.0h0M317.9 496.3h0M316.0 513.8h0"/><path d="M315.1 511.7h0M318.6 500.1h0M317.5 503.3h0M315.8 501.0h0M314.4 500.5h0M317.4 503.0h0"/><path d="M314.3 496.3h0M315.3 515.1h0M314.3 498.3h0M314.9 504.7h0M317.9 500.7h0M315.4 499.9h0"/><path d="M319.1 515.7h0M315.5 505.5h0M318.2 499.1h0M317.8 513.5h0M317.4 507.7h0M317.2 499.3h0"/><path d="M314.7 507.1h0M318.3 504.0h0M318.8 504.2h0M316.8 504.5h0M315.0 516.5h0M314.5 504.5h0"/><path d="M315.3 513.0h0M319.1 510.6h0M315.7 503.9h0M315.5 505.3h0M316.7 509.7h0M314.2 503.1h0"/><path d="M318.1 498.9h0M318.1 506.5h0M315.6 515.2h0M314.2 506.3h0M318.7 508.0h0M318.2 503.7h0"/><path d="M318.0 502.4h0M315.1 503.3h0M319.0 508.2h0M317.3 507.7h0M314.2 496.7h0M319.1 513.1h0"/><path d="M317.6 514.7h0M315.0 511.1h0M318.6 497.7h0M317.1 507.2h0M317.3 501.7h0M314.2 501.4h0"/><path d="M315.1 504.0h0M318.1 501.3h0M314.1 506.3h0M315.0 513.3h0M314.4 507.5h0M317.0 499.6h0"/><path d="M314.7 504.1h0M318.1 505.6h0M316.4 505.2h0M318.1 509.2h0M318.8 510.0h0M319.1 503.1h0"/><path d="M315.0 517.4h0M315.9 505.3h0M318.1 502.6h0M315.7 496.7h0M318.9 511.8h0M315.8 502.1h0"/><path d="M317.3 498.8h0M315.3 497.1h0M317.8 506.4h0M315.5 503.3h0M316.2 510.6h0M317.8 503.7h0"/><path d="M318.3 502.2h0M314.7 503.4h0M314.9 502.6h0M315.1 504.5h0M318.0 503.8h0M317.5 511.6h0"/><path d="M317.7 498.7h0M318.2 509.9h0M315.2 503.9h0M316.6 503.2h0M314.0 503.3h0M315.8 500.7h0"/><path d="M317.1 505.0h0M315.4 507.7h0M318.1 500.2h0M315.1 510.2h0M316.3 508.3h0M317.6 501.0h0"/><path d="M315.2 502.6h0M317.5 500.0h0M316.1 509.4h0M314.3 505.3h0M314.6 497.1h0M317.4 505.7h0"/><path d="M318.3 506.9h0M317.5 500.2h0M318.5 504.5h0M317.5 501.4h0M318.1 500.3h0M318.4 509.5h0"/><path d="M317.1 496.3h0M316.8 504.0h0M314.8 512.1h0M315.2 503.1h0M314.5 509.5h0M314.6 502.4h0"/><path d="M316.0 504.0h0M315.5 507.6h0M316.9 505.4h0M318.3 505.2h0M315.4 516.5h0M318.7 506.0h0"/><path d="M318.3 521.0h0M315.0 524.0h0M317.1 527.0h0M315.0 530.0h0M314.3 533.0h0M315.2 536.0h0"/><path d="M315.1 538.7h0"/></g>
<g stroke="#267326" stroke-opacity="0.5" stroke-width="1.8" stroke-linecap="round" fill="none"><path d="M338.0 454.5h0M334.5 462.6h0M334.0 470.6h0M334.7 456.5h0M334.1 458.6h0M337.5 450.9h0"/><path d="M337.4 457.6h0M338.8 456.2h0M333.9 471.3h0M337.3 455.7h0M337.8 459.2h0M334.6 448.2h0"/><path d="M334.1 455.4h0M338.8 469.5h0M337.8 453.1h0M334.0 449.1h0M334.6 463.2h0M337.1 467.5h0"/><path d="M334.5 459.1h0M335.9 464.5h0M334.4 450.7h0M334.1 466.9h0M336.2 454.8h0M336.5 454.6h0"/><path d="M338.1 465.0h0M333.7 465.9h0M335.5 447.8h0M334.0 466.2h0M336.5 460.5h0M334.5 461.7h0"/><path d="M335.4 458.9h0M338.7 466.2h0M337.0 455.6h0M337.1 458.1h0M336.8 466.9h0M334.7 448.7h0"/><path d="M337.2 456.4h0M338.7 463.8h0M334.1 447.1h0M338.0 453.2h0M335.4 464.7h0M334.7 447.1h0"/><path d="M337.1 456.5h0M338.1 455.0h0M334.5 460.3h0M334.7 453.5h0M336.3 467.8h0M334.7 454.7h0"/><path d="M336.3 457.4h0M338.8 464.9h0M333.8 457.2h0M335.9 468.1h0M334.7 468.6h0M334.5 457.6h0"/><path d="M336.7 448.5h0M338.6 452.4h0M336.1 454.7h0M336.6 449.7h0M337.3 458.7h0M338.1 454.7h0"/><path d="M338.7 451.7h0M335.4 451.8h0M334.6 447.4h0M338.4 465.2h0M336.8 458.2h0M338.3 461.6h0"/><path d="M334.4 460.8h0M337.8 455.9h0M334.3 458.0h0M334.3 458.8h0M334.3 449.7h0M335.5 469.2h0"/><path d="M335.8 466.1h0M337.1 466.5h0M338.5 461.2h0M335.9 452.4h0M336.7 452.3h0M335.8 463.5h0"/><path d="M335.7 466.9h0M335.0 461.1h0M333.7 462.5h0M335.0 458.9h0M337.4 468.6h0M337.8 454.8h0"/><path d="M337.2 458.9h0M336.0 459.1h0M335.8 455.3h0M334.6 445.1h0M334.9 461.2h0M338.8 454.0h0"/><path d="M336.7 465.6h0M335.8 454.5h0M336.4 453.3h0M336.2 457.5h0M335.2 465.2h0M335.8 457.5h0"/><path d="M335.9 451.2h0M338.3 453.7h0M338.3 456.5h0M335.2 458.9h0M336.0 460.8h0M334.8 457.2h0"/><path d="M338.6 457.6h0M334.4 454.5h0M336.2 459.1h0M333.7 454.7h0M336.1 465.1h0M336.1 465.1h0"/><path d="M333.7 463.9h0M334.4 457.1h0M336.3 456.4h0M336.1 448.6h0M335.2 456.0h0M333.9 468.0h0"/><path d="M335.3 465.2h0M335.5 454.9h0M334.2 453.9h0M336.8 455.0h0M334.8 454.9h0M336.4 455.4h0"/><path d="M337.4 456.1h0M333.7 455.1h0M336.2 457.7h0M337.0 454.6h0M338.3 456.1h0M337.2 455.6h0"/><path d="M338.0 464.5h0M337.1 458.8h0M334.8 458.4h0M337.9 454.8h0M337.6 454.9h0M336.2 457.4h0"/><path d="M338.5 447.5h0M333.9 452.2h0M338.4 460.5h0M335.5 466.0h0M336.5 454.5h0M337.8 449.3h0"/><path d="M334.5 457.3h0M336.2 456.6h0M333.7 461.0h0M333.8 468.0h0M338.6 456.6h0M334.8 455.9h0"/><path d="M335.9 465.8h0M334.3 461.5h0M338.5 462.2h0M336.3 447.8h0M338.1 454.5h0M335.1 465.1h0"/><path d="M336.1 462.0h0M334.9 456.8h0M336.7 457.8h0M337.3 461.7h0M336.6 466.9h0M336.7 460.9h0"/><path d="M335.3 462.4h0M338.6 458.0h0M333.8 454.0h0M334.5 453.5h0M337.1 455.7h0M338.7 464.9h0"/><path d="M338.1 463.0h0M334.9 460.2h0M338.6 450.0h0M336.0 453.1h0M336.6 461.8h0M337.0 460.1h0"/><path d="M336.9 453.4h0M338.2 455.6h0M338.3 460.8h0M335.3 443.7h0M338.3 454.8h0M335.3 452.8h0"/><path d="M337.2 457.3h0M334.5 451.6h0M337.0 458.2h0M335.2 458.0h0M338.8 466.6h0M337.1 451.0h0"/><path d="M335.7 455.1h0M338.7 453.5h0M334.3 469.3h0M337.5 457.4h0M337.0 455.4h0M333.7 453.8h0"/><path d="M336.1 446.7h0M334.3 457.6h0M338.9 459.7h0M334.2 447.1h0M337.0 461.2h0M336.5 451.5h0"/><path d="M334.3 458.3h0M338.5 472.0h0M336.6 454.1h0M336.9 445.0h0M335.0 456.4h0M334.5 455.5h0"/><path d="M335.4 452.0h0M333.8 460.2h0M334.7 465.8h0M336.2 460.2h0M335.7 464.0h0M337.6 463.2h0"/><path d="M334.4 468.0h0M334.7 447.6h0M336.4 455.3h0M337.2 467.5h0M335.3 461.3h0M334.7 463.4h0"/><path d="M334.3 460.9h0M335.6 454.4h0M335.6 455.2h0M337.8 456.5h0M334.9 461.0h0M335.4 458.7h0"/><path d="M337.5 457.1h0M334.7 461.5h0M333.9 462.2h0M338.7 455.5h0M338.4 476.0h0"/></g>
<g stroke="#267326" stroke-opacity="0.5" stroke-width="1.8" stroke-linecap="round" fill="none"><path d="M336.2 506.9h0M335.4 506.6h0M334.3 510.2h0M335.1 499.5h0M338.6 509.8h0M338.0 504.8h0"/><path d="M338.6 505.9h0M336.3 514.1h0M336.3 498.8h0M334.0 504.2h0M335.9 504.1h0M336.7 512.6h0"/><path d="M338.8 506.6h0M334.0 500.1h0M337.1 516.8h0M333.9 507.5h0M338.7 506.6h0M334.7 507.8h0"/><path d="M337.3 503.6h0M337.0 502.2h0M334.7 507.1h0M336.1 504.3h0M335.9 506.3h0M334.6 508.1h0"/><path d="M335.7 508.5h0M334.0 496.7h0M337.3 504.3h0M338.7 500.4h0M336.5 503.7h0M335.7 499.5h0"/><path d="M336.3 498.3h0M334.4 500.0h0M337.5 505.1h0M337.3 509.5h0M334.2 511.6h0M335.6 506.8h0"/><path d="M334.3 499.6h0M337.3 506.3h0M333.7 501.2h0M338.2 517.0h0M334.0 504.7h0M338.0 505.5h0"/><path d="M334.7 512.1h0M336.4 507.9h0M337.4 514.7h0M338.5 500.6h0M338.2 511.0h0M334.5 500.3h0"/><path d="M337.4 512.4h0M335.9 498.9h0M334.5 504.4h0M336.1 505.8h0M338.5 505.5h0M333.8 506.6h0"/><path d="M337.3 499.0h0M336.5 512.2h0M338.2 503.6h0M336.1 504.2h0M335.0 499.0h0M338.1 499.8h0"/><path d="M334.2 511.7h0M337.2 508.8h0M335.2 503.3h0M333.9 505.7h0M334.5 501.8h0M338.1 518.0h0"/><path d="M334.5 519.6h0M338.4 501.6h0M334.4 509.0h0M338.5 513.3h0M333.9 506.5h0M337.1 504.3h0"/><path d="M336.4 498.0h0M336.8 497.0h0M338.5 508.2h0M334.8 504.3h0M338.8 505.5h0M336.6 505.7h0"/><path d="M337.9 509.6h0M335.0 508.3h0M338.8 505.8h0M337.4 496.4h0M336.1 502.9h0M334.8 509.2h0"/><path d="M338.2 514.9h0M336.6 520.0h0M338.8 499.4h0M338.3 505.6h0M337.6 502.5h0M337.4 500.7h0"/><path d="M334.5 504.1h0M338.0 512.7h0M337.4 499.9h0M334.2 505.9h0M334.0 503.1h0M334.2 502.7h0"/><path d="M334.8 509.4h0M337.6 501.8h0M337.7 505.4h0M337.3 508.9h0M335.6 503.5h0M338.5 498.3h0"/><path d="M334.4 508.4h0M334.8 509.5h0M336.0 499.2h0M335.0 508.0h0M337.5 502.1h0M338.0 502.3h0"/><path d="M337.5 507.5h0M335.3 503.6h0M336.7 505.9h0M335.3 506.3h0M336.5 509.0h0M336.4 517.6h0"/><path d="M334.5 500.0h0M338.1 503.5h0M337.9 499.7h0M337.7 496.8h0M334.1 500.7h0M334.9 504.4h0"/><path d="M337.6 510.2h0M337.9 500.2h0M336.9 499.8h0M338.5 499.3h0M335.9 501.3h0M334.8 500.6h0"/><path d="M336.1 507.1h0M335.2 499.8h0M335.6 507.2h0M337.7 508.1h0M335.3 516.5h0M337.4 500.3h0"/><path d="M336.7 500.9h0M333.8 505.9h0M336.3 507.7h0M338.2 502.2h0M337.0 500.9h0M338.1 508.7h0"/><path d="M337.0 505.5h0M338.8 507.5h0M333.9 500.3h0M335.9 517.5h0M334.7 504.5h0M337.6 503.3h0"/><path d="M335.2 513.0h0M337.1 507.2h0M337.1 503.4h0M333.7 505.8h0M336.9 499.2h0M335.4 505.8h0"/><path d="M335.0 517.9h0M337.0 512.8h0M336.9 513.8h0M334.8 505.9h0M337.4 498.4h0M334.1 516.1h0"/><path d="M333.9 514.9h0M338.3 511.5h0M338.5 512.6h0M338.6 506.8h0M338.8 502.9h0M337.5 507.0h0"/><path d="M336.6 520.1h0M336.4 500.1h0M336.4 504.9h0M338.6 505.0h0M338.7 505.5h0M335.9 506.2h0"/><path d="M334.7 503.2h0M336.5 503.6h0M335.9 514.4h0M337.9 508.5h0M338.5 502.8h0M336.9 514.9h0"/><path d="M334.1 503.1h0M336.4 502.4h0M334.3 508.4h0M336.5 506.6h0M337.9 507.1h0M337.2 508.7h0"/><path d="M336.1 503.8h0M334.5 496.3h0M338.5 512.3h0M338.2 498.0h0M336.2 505.4h0M333.9 519.8h0"/><path d="M337.2 516.4h0M335.7 504.5h0M335.7 505.4h0M335.6 515.4h0M335.1 504.2h0M334.4 496.4h0"/><path d="M337.0 497.4h0M336.4 506.5h0M335.9 504.3h0M337.6 509.1h0M336.3 511.4h0M334.5 500.9h0"/><path d="M335.1 507.5h0M336.6 499.6h0M337.1 508.9h0M337.0 511.3h0M337.5 515.2h0M335.5 503.3h0"/><path d="M337.6 508.6h0M336.7 502.1h0M335.0 515.2h0M334.3 504.1h0M336.9 508.9h0M338.1 512.9h0"/><path d="M338.6 511.4h0M337.9 499.8h0M337.9 510.8h0M336.7 502.4h0M334.9 505.1h0M335.2 499.0h0"/><path d="M338.1 504.5h0M335.1 516.7h0M336.2 509.5h0M336.5 504.4h0M333.8 522.3h0M334.2 526.0h0"/><path d="M334.7 530.0h0M337.8 534.0h0M337.7 537.3h0"/></g>
</g>
<rect x="57.4" y="406.4" width="296.2" height="153.5" fill="none" stroke="#a6a6a6" stroke-width="1.2"/>
<line x1="55.8" y1="421.76" x2="57.4" y2="421.76" stroke="#555" stroke-width="0.8"/>
<text x="54.3" y="425.46" font-size="10.5" text-anchor="end" textLength="16.70" lengthAdjust="spacingAndGlyphs">0.8</text>
<line x1="55.8" y1="440.22" x2="57.4" y2="440.22" stroke="#555" stroke-width="0.8"/>
<text x="54.3" y="443.92" font-size="10.5" text-anchor="end" textLength="16.70" lengthAdjust="spacingAndGlyphs">0.6</text>
<line x1="55.8" y1="458.68" x2="57.4" y2="458.68" stroke="#555" stroke-width="0.8"/>
<text x="54.3" y="462.38" font-size="10.5" text-anchor="end" textLength="16.70" lengthAdjust="spacingAndGlyphs">0.4</text>
<line x1="55.8" y1="477.14" x2="57.4" y2="477.14" stroke="#555" stroke-width="0.8"/>
<text x="54.3" y="480.84" font-size="10.5" text-anchor="end" textLength="16.70" lengthAdjust="spacingAndGlyphs">0.2</text>
<line x1="55.8" y1="495.6" x2="57.4" y2="495.6" stroke="#555" stroke-width="0.8"/>
<text x="54.3" y="499.3" font-size="10.5" text-anchor="end" textLength="16.70" lengthAdjust="spacingAndGlyphs">0.0</text>
<line x1="55.8" y1="514.06" x2="57.4" y2="514.06" stroke="#555" stroke-width="0.8"/>
<text x="54.3" y="517.76" font-size="10.5" text-anchor="end" textLength="25.50" lengthAdjust="spacingAndGlyphs">−0.2</text>
<line x1="55.8" y1="532.52" x2="57.4" y2="532.52" stroke="#555" stroke-width="0.8"/>
<text x="54.3" y="536.22" font-size="10.5" text-anchor="end" textLength="25.50" lengthAdjust="spacingAndGlyphs">−0.4</text>
<line x1="55.8" y1="550.98" x2="57.4" y2="550.98" stroke="#555" stroke-width="0.8"/>
<text x="54.3" y="554.68" font-size="10.5" text-anchor="end" textLength="25.50" lengthAdjust="spacingAndGlyphs">−0.6</text>
<line x1="94.4" y1="559.9" x2="94.4" y2="561.5" stroke="#555" stroke-width="0.8"/>
<text x="94.4" y="571.2" font-size="10.5" text-anchor="middle" textLength="21.45" lengthAdjust="spacingAndGlyphs">D33</text>
<line x1="168.47" y1="559.9" x2="168.47" y2="561.5" stroke="#555" stroke-width="0.8"/>
<text x="168.47" y="571.2" font-size="10.5" text-anchor="middle" textLength="21.45" lengthAdjust="spacingAndGlyphs">D34</text>
<line x1="242.54" y1="559.9" x2="242.54" y2="561.5" stroke="#555" stroke-width="0.8"/>
<text x="242.54" y="571.2" font-size="10.5" text-anchor="middle" textLength="21.45" lengthAdjust="spacingAndGlyphs">D43</text>
<line x1="316.61" y1="559.9" x2="316.61" y2="561.5" stroke="#555" stroke-width="0.8"/>
<text x="316.61" y="571.2" font-size="10.5" text-anchor="middle" textLength="21.45" lengthAdjust="spacingAndGlyphs">D44</text>
<text x="205.5" y="584.7" font-size="14.3" text-anchor="middle" textLength="24.26" lengthAdjust="spacingAndGlyphs">DIE</text>
<text x="26" y="483.3" font-size="14.3" text-anchor="middle" textLength="151.92" lengthAdjust="spacingAndGlyphs" transform="rotate(-90 26 483.3)">Set/Reset Voltage (V)</text>
<text x="343.6" y="552.1" font-size="13" text-anchor="end">e</text>
<rect x="62.4" y="409.2" width="34" height="33" rx="1.5" fill="#fff" fill-opacity="0.8" stroke="#dcdcdc" stroke-width="0.8"/>
<rect x="64.9" y="412.1" width="14.3" height="5" fill="#1f77b4" stroke="#474747" stroke-width="0.3"/>
<text x="85" y="417.5" font-size="7.8" text-anchor="start" textLength="9.91" lengthAdjust="spacingAndGlyphs">S1</text>
<rect x="64.9" y="422.4" width="14.3" height="5" fill="#ff7f0e" stroke="#474747" stroke-width="0.3"/>
<text x="85" y="427.8" font-size="7.8" text-anchor="start" textLength="9.91" lengthAdjust="spacingAndGlyphs">S2</text>
<rect x="64.9" y="432.9" width="14.3" height="5" fill="#2ca02c" stroke="#474747" stroke-width="0.3"/>
<text x="85" y="438.3" font-size="7.8" text-anchor="start" textLength="9.91" lengthAdjust="spacingAndGlyphs">S3</text>
<g clip-path="url(#cf)">
<line x1="457" y1="446" x2="457" y2="455.7" stroke="#474747" stroke-width="1.1"/>
<line x1="457" y1="462.6" x2="457" y2="472.1" stroke="#474747" stroke-width="1.1"/>
<line x1="442" y1="446" x2="472" y2="446" stroke="#6e6e6e" stroke-width="1.1"/>
<line x1="442" y1="472.1" x2="472" y2="472.1" stroke="#6e6e6e" stroke-width="1.1"/>
<rect x="427" y="455.7" width="60" height="6.9" fill="#1f77b4" fill-opacity="1.0" stroke="#474747" stroke-width="1.1"/>
<line x1="427" y1="458.8" x2="487" y2="458.8" stroke="#474747" stroke-width="1.1"/>
<line x1="457" y1="498.6" x2="457" y2="504.8" stroke="#474747" stroke-width="1.1"/>
<line x1="457" y1="511.4" x2="457" y2="520.1" stroke="#474747" stroke-width="1.1"/>
<line x1="442" y1="498.6" x2="472" y2="498.6" stroke="#6e6e6e" stroke-width="1.1"/>
<line x1="442" y1="520.1" x2="472" y2="520.1" stroke="#6e6e6e" stroke-width="1.1"/>
<rect x="427" y="504.8" width="60" height="6.6" fill="#1f77b4" fill-opacity="1.0" stroke="#474747" stroke-width="1.1"/>
<line x1="427" y1="508.1" x2="487" y2="508.1" stroke="#474747" stroke-width="1.1"/>
<line x1="531.9" y1="443.5" x2="531.9" y2="455" stroke="#474747" stroke-width="1.1"/>
<line x1="531.9" y1="461.9" x2="531.9" y2="471.6" stroke="#474747" stroke-width="1.1"/>
<line x1="516.9" y1="443.5" x2="546.9" y2="443.5" stroke="#6e6e6e" stroke-width="1.1"/>
<line x1="516.9" y1="471.6" x2="546.9" y2="471.6" stroke="#6e6e6e" stroke-width="1.1"/>
<rect x="501.9" y="455" width="60" height="6.9" fill="#ff7f0e" fill-opacity="1.0" stroke="#474747" stroke-width="1.1"/>
<line x1="501.9" y1="458.3" x2="561.9" y2="458.3" stroke="#474747" stroke-width="1.1"/>
<line x1="531.9" y1="498.6" x2="531.9" y2="504.8" stroke="#474747" stroke-width="1.1"/>
<line x1="531.9" y1="510.6" x2="531.9" y2="520.1" stroke="#474747" stroke-width="1.1"/>
<line x1="516.9" y1="498.6" x2="546.9" y2="498.6" stroke="#6e6e6e" stroke-width="1.1"/>
<line x1="516.9" y1="520.1" x2="546.9" y2="520.1" stroke="#6e6e6e" stroke-width="1.1"/>
<rect x="501.9" y="504.8" width="60" height="5.8" fill="#ff7f0e" fill-opacity="1.0" stroke="#474747" stroke-width="1.1"/>
<line x1="501.9" y1="507.6" x2="561.9" y2="507.6" stroke="#474747" stroke-width="1.1"/>
<line x1="606.8" y1="441.7" x2="606.8" y2="453.2" stroke="#474747" stroke-width="1.1"/>
<line x1="606.8" y1="459.6" x2="606.8" y2="470.3" stroke="#474747" stroke-width="1.1"/>
<line x1="591.8" y1="441.7" x2="621.8" y2="441.7" stroke="#6e6e6e" stroke-width="1.1"/>
<line x1="591.8" y1="470.3" x2="621.8" y2="470.3" stroke="#6e6e6e" stroke-width="1.1"/>
<rect x="576.8" y="453.2" width="60" height="6.4" fill="#2ca02c" fill-opacity="1.0" stroke="#474747" stroke-width="1.1"/>
<line x1="576.8" y1="456.2" x2="636.8" y2="456.2" stroke="#474747" stroke-width="1.1"/>
<line x1="606.8" y1="498.6" x2="606.8" y2="504.2" stroke="#474747" stroke-width="1.1"/>
<line x1="606.8" y1="510.6" x2="606.8" y2="519.6" stroke="#474747" stroke-width="1.1"/>
<line x1="591.8" y1="498.6" x2="621.8" y2="498.6" stroke="#6e6e6e" stroke-width="1.1"/>
<line x1="591.8" y1="519.6" x2="621.8" y2="519.6" stroke="#6e6e6e" stroke-width="1.1"/>
<rect x="576.8" y="504.2" width="60" height="6.4" fill="#2ca02c" fill-opacity="1.0" stroke="#474747" stroke-width="1.1"/>
<line x1="576.8" y1="507.3" x2="636.8" y2="507.3" stroke="#474747" stroke-width="1.1"/>
<line x1="681.7" y1="442.2" x2="681.7" y2="453.7" stroke="#474747" stroke-width="1.1"/>
<line x1="681.7" y1="461.3" x2="681.7" y2="472.3" stroke="#474747" stroke-width="1.1"/>
<line x1="666.7" y1="442.2" x2="696.7" y2="442.2" stroke="#6e6e6e" stroke-width="1.1"/>
<line x1="666.7" y1="472.3" x2="696.7" y2="472.3" stroke="#6e6e6e" stroke-width="1.1"/>
<rect x="651.7" y="453.7" width="60" height="7.6" fill="#d62728" fill-opacity="1.0" stroke="#474747" stroke-width="1.1"/>
<line x1="651.7" y1="457.5" x2="711.7" y2="457.5" stroke="#474747" stroke-width="1.1"/>
<line x1="681.7" y1="499.1" x2="681.7" y2="503.7" stroke="#474747" stroke-width="1.1"/>
<line x1="681.7" y1="510.6" x2="681.7" y2="521.3" stroke="#474747" stroke-width="1.1"/>
<line x1="666.7" y1="499.1" x2="696.7" y2="499.1" stroke="#6e6e6e" stroke-width="1.1"/>
<line x1="666.7" y1="521.3" x2="696.7" y2="521.3" stroke="#6e6e6e" stroke-width="1.1"/>
<rect x="651.7" y="503.7" width="60" height="6.9" fill="#d62728" fill-opacity="1.0" stroke="#474747" stroke-width="1.1"/>
<line x1="651.7" y1="506.8" x2="711.7" y2="506.8" stroke="#474747" stroke-width="1.1"/>
<g stroke="#22578a" stroke-opacity="0.5" stroke-width="2.0" stroke-linecap="round" fill="none"><path d="M454.6 460.2h0M452.5 458.4h0M451.0 457.3h0M458.8 470.0h0M458.2 453.3h0M463.5 456.9h0"/><path d="M459.7 452.0h0M458.1 449.2h0M458.4 456.0h0M463.1 455.2h0M463.3 454.3h0M452.0 461.6h0"/><path d="M451.3 456.6h0M451.4 454.0h0M449.7 459.1h0M462.3 459.6h0M463.9 461.9h0M457.0 458.4h0"/><path d="M460.9 470.4h0M459.4 460.7h0M459.3 457.0h0M455.4 469.5h0M463.9 448.7h0M454.1 455.1h0"/><path d="M451.0 455.7h0M450.3 457.4h0M461.3 456.0h0M461.2 462.3h0M462.3 460.3h0M461.5 448.3h0"/><path d="M452.9 449.4h0M454.9 455.5h0M453.7 457.4h0M462.5 449.1h0M449.5 462.6h0M454.1 469.4h0"/><path d="M459.3 455.4h0M459.1 457.6h0M449.5 456.8h0M451.2 453.1h0M452.0 469.9h0M452.8 462.1h0"/><path d="M457.2 452.0h0M450.0 462.5h0M461.9 446.9h0M456.5 467.2h0M459.3 459.6h0M454.9 460.0h0"/><path d="M462.2 457.7h0M451.1 458.1h0M462.5 458.1h0M453.2 465.9h0M457.2 450.2h0M457.9 451.8h0"/><path d="M459.6 458.7h0M457.6 460.2h0M460.3 466.9h0M450.3 449.4h0M457.5 467.9h0M457.0 458.7h0"/><path d="M458.8 458.6h0M451.1 465.1h0M460.1 455.9h0M450.7 456.9h0M450.2 455.5h0M450.3 459.3h0"/><path d="M464.2 448.9h0M451.9 457.4h0M459.8 447.9h0M450.3 461.5h0M458.6 466.8h0M452.8 468.8h0"/><path d="M458.5 454.3h0M460.6 465.9h0M459.7 455.9h0M457.6 449.4h0M460.3 448.2h0M449.5 468.2h0"/><path d="M450.3 456.2h0M453.1 460.9h0M456.3 459.5h0M461.0 462.4h0M449.9 455.4h0M452.6 458.8h0"/><path d="M457.4 465.5h0M454.4 452.7h0M450.7 470.2h0M453.7 452.7h0M449.9 461.6h0M449.7 448.5h0"/><path d="M462.1 452.0h0M454.2 461.2h0M460.2 457.6h0M453.2 462.1h0M460.6 458.3h0M462.7 453.3h0"/><path d="M449.8 470.8h0M458.5 453.2h0M463.1 451.7h0M461.0 456.3h0M451.3 449.5h0M460.5 456.8h0"/><path d="M460.8 460.8h0M451.9 458.1h0M459.4 461.8h0M458.9 458.7h0M452.5 455.6h0M461.8 463.6h0"/><path d="M462.4 456.8h0M450.6 458.1h0M456.6 456.4h0M458.3 456.1h0M449.6 462.7h0M457.3 461.6h0"/><path d="M463.6 460.8h0M454.5 461.2h0M456.9 456.5h0M463.6 449.7h0M462.6 462.4h0M463.8 456.0h0"/><path d="M450.9 470.4h0M464.5 462.0h0M454.5 449.9h0M454.9 456.6h0M452.3 461.8h0M461.6 463.9h0"/><path d="M458.3 463.0h0M456.4 463.1h0M456.9 469.8h0M457.2 459.7h0M458.2 452.3h0M451.8 462.0h0"/><path d="M460.3 459.6h0M453.4 460.6h0M449.8 452.9h0M463.9 459.5h0M451.0 460.0h0M461.5 457.4h0"/><path d="M461.0 457.9h0M455.9 449.0h0M458.6 451.1h0M453.1 461.1h0M452.7 463.3h0M462.8 449.8h0"/><path d="M460.7 451.0h0M461.0 457.4h0M456.4 462.1h0M450.0 462.0h0M461.1 448.4h0M463.9 450.6h0"/><path d="M454.3 448.0h0M458.9 458.6h0M451.7 456.2h0M463.9 456.0h0M460.1 462.6h0M450.4 451.6h0"/><path d="M460.0 465.8h0M459.6 457.8h0M456.0 459.8h0M458.3 460.3h0M463.5 457.6h0M459.7 465.3h0"/><path d="M456.6 457.8h0M464.0 457.2h0M459.1 464.6h0M461.1 464.1h0M457.8 459.3h0M460.9 461.4h0"/><path d="M461.1 456.7h0M457.0 451.1h0M456.5 452.7h0M452.5 471.0h0M459.3 458.1h0M460.4 448.4h0"/><path d="M455.7 456.4h0M450.5 455.1h0M460.1 456.3h0M459.2 451.8h0M459.2 462.6h0M451.8 464.3h0"/><path d="M462.8 459.0h0M460.4 466.6h0M461.5 461.2h0M451.7 465.4h0M453.6 462.8h0M457.5 456.8h0"/><path d="M449.6 464.0h0M464.1 468.6h0M452.1 455.3h0M451.8 453.6h0M461.4 468.8h0M453.0 458.3h0"/><path d="M458.1 449.7h0M459.3 467.6h0M452.5 456.6h0M450.2 457.0h0M460.0 466.2h0M462.6 470.7h0"/><path d="M461.6 456.1h0M451.1 449.7h0M454.5 452.6h0M456.3 454.8h0M450.0 463.0h0M462.8 456.9h0"/><path d="M461.9 466.6h0M464.0 460.6h0M463.2 458.3h0M462.1 448.4h0M454.0 465.7h0M459.3 461.1h0"/><path d="M462.6 467.1h0M449.6 456.3h0M450.6 457.3h0M464.3 462.0h0M450.9 455.7h0M463.1 459.3h0"/><path d="M455.2 459.7h0M453.2 457.7h0M455.1 466.9h0M462.7 450.9h0M459.2 465.4h0M451.4 458.0h0"/><path d="M461.8 455.8h0M454.7 458.3h0M461.9 451.2h0M457.0 453.9h0M462.4 457.9h0M457.7 455.4h0"/><path d="M454.8 457.5h0M464.4 454.8h0M464.2 461.3h0M457.7 467.1h0M457.3 455.1h0M458.5 458.7h0"/><path d="M459.6 460.5h0M453.6 461.8h0M463.5 454.1h0M455.8 458.4h0M464.5 464.6h0M458.1 456.5h0"/><path d="M463.3 459.0h0M463.3 466.6h0M453.6 468.7h0M450.0 454.5h0M458.2 451.8h0M458.1 457.0h0"/><path d="M454.6 462.4h0M454.8 462.8h0M453.6 468.8h0M450.9 456.6h0M456.4 456.1h0M457.3 449.7h0"/><path d="M456.1 451.4h0M462.2 462.5h0M456.0 458.4h0M460.8 453.6h0M460.8 458.0h0M457.1 468.5h0"/><path d="M456.5 461.3h0M453.0 461.7h0M459.8 450.8h0M462.5 454.3h0M464.1 461.0h0M461.5 452.2h0"/><path d="M464.0 457.0h0M458.3 464.3h0M456.3 457.2h0M464.2 452.6h0M459.6 457.7h0M450.6 452.7h0"/><path d="M462.3 465.3h0M458.4 456.6h0M462.3 448.1h0M455.6 464.4h0M459.0 468.8h0M458.5 458.4h0"/><path d="M458.7 451.9h0M462.7 454.3h0M455.4 461.7h0M459.6 458.7h0M463.6 450.9h0M450.8 462.1h0"/><path d="M462.3 461.5h0M459.9 462.8h0M456.1 461.8h0M450.1 454.5h0M456.9 457.0h0M452.0 461.9h0"/><path d="M452.4 459.0h0M457.1 458.3h0M458.9 465.3h0M463.5 458.1h0M459.0 467.6h0M461.0 459.9h0"/><path d="M457.7 458.0h0M449.9 456.0h0M454.4 469.8h0M451.3 463.7h0M458.6 460.2h0M454.1 457.9h0"/><path d="M458.7 464.1h0M454.6 460.8h0M450.2 461.5h0M452.9 459.7h0M463.5 450.3h0M456.2 464.3h0"/><path d="M459.4 455.8h0M457.6 448.9h0M456.4 461.1h0M459.7 466.7h0M463.1 454.6h0M459.0 456.7h0"/><path d="M461.3 467.0h0M454.7 470.0h0M453.6 456.8h0M449.7 460.2h0M457.5 457.1h0M450.4 463.0h0"/><path d="M453.5 450.3h0M456.4 449.2h0M455.1 458.2h0M452.6 459.4h0M455.8 469.4h0M463.3 456.2h0"/><path d="M457.9 464.6h0M459.4 455.9h0M464.5 469.3h0M459.1 453.8h0M463.8 452.2h0M459.9 459.9h0"/><path d="M461.6 449.1h0M458.6 459.8h0M464.5 462.2h0M457.7 453.5h0M454.6 446.2h0M459.3 463.3h0"/><path d="M450.9 452.6h0M455.9 462.9h0M463.6 459.4h0M451.7 458.9h0M455.6 456.0h0M454.1 456.9h0"/><path d="M458.8 457.2h0M462.3 464.3h0M454.3 458.0h0M458.0 458.2h0M450.0 452.7h0M453.1 462.5h0"/><path d="M455.8 458.5h0M459.1 456.0h0M462.7 455.8h0M462.8 468.7h0M457.1 450.5h0M453.4 461.8h0"/><path d="M461.8 450.4h0M462.2 449.0h0M461.4 457.9h0M459.5 464.0h0M459.0 455.3h0M455.4 465.3h0"/><path d="M458.1 457.5h0M455.0 461.5h0M460.1 459.1h0M462.7 456.1h0M454.0 453.8h0M460.5 450.9h0"/><path d="M451.0 452.0h0M450.8 459.5h0M452.3 466.3h0M453.9 459.6h0M456.0 460.6h0M455.3 461.6h0"/><path d="M463.1 461.2h0M450.3 448.9h0M462.5 470.2h0M453.1 462.0h0M454.0 456.6h0M456.5 462.4h0"/><path d="M456.2 468.3h0M458.1 454.7h0M450.0 450.8h0M458.4 455.9h0M450.1 455.8h0M451.9 453.1h0"/><path d="M453.7 458.6h0M457.2 466.5h0M460.4 462.1h0M450.0 454.1h0M450.0 458.0h0M455.7 459.0h0"/><path d="M452.9 456.5h0M460.2 456.5h0M461.7 466.6h0M463.1 456.0h0M464.3 457.0h0M463.9 459.1h0"/><path d="M453.1 451.1h0M458.0 457.2h0M451.5 456.3h0M457.7 466.4h0M460.0 460.9h0M459.0 453.3h0"/><path d="M464.2 464.3h0M455.1 462.4h0M455.9 456.3h0M463.0 456.9h0M461.5 460.3h0M452.3 451.1h0"/><path d="M455.4 461.4h0M461.1 462.8h0M450.4 460.3h0M461.7 463.5h0M462.9 469.5h0M459.2 460.4h0"/><path d="M451.3 460.6h0M457.8 466.7h0M451.8 450.9h0M462.8 452.7h0M453.2 455.9h0M450.3 463.6h0"/><path d="M456.3 435.3h0M453.1 476.7h0M462.4 481.2h0"/></g>
<g stroke="#22578a" stroke-opacity="0.5" stroke-width="2.0" stroke-linecap="round" fill="none"><path d="M462.3 505.2h0M462.2 509.6h0M463.5 504.7h0M463.2 511.0h0M456.5 506.4h0M451.9 512.3h0"/><path d="M454.3 500.0h0M455.8 515.4h0M454.1 500.2h0M449.9 506.2h0M455.9 512.7h0M464.4 508.9h0"/><path d="M450.6 502.4h0M455.3 505.2h0M452.1 505.1h0M453.8 511.6h0M461.8 513.3h0M457.7 509.0h0"/><path d="M460.5 509.4h0M451.5 511.6h0M456.3 509.0h0M457.5 504.5h0M452.0 511.5h0M455.2 512.3h0"/><path d="M456.1 510.4h0M461.4 508.1h0M464.1 507.3h0M460.2 512.1h0M463.5 509.7h0M457.3 507.7h0"/><path d="M454.1 500.5h0M449.9 509.4h0M452.3 509.1h0M462.3 509.8h0M461.5 514.6h0M460.8 509.4h0"/><path d="M449.9 512.7h0M458.3 499.7h0M451.0 514.8h0M452.4 502.5h0M458.3 506.6h0M458.0 500.7h0"/><path d="M462.2 501.4h0M457.1 505.0h0M462.9 508.9h0M462.6 505.9h0M460.6 514.3h0M451.1 504.4h0"/><path d="M457.1 507.7h0M450.1 503.7h0M454.3 517.2h0M461.3 509.9h0M454.8 504.7h0M463.1 505.7h0"/><path d="M460.9 512.5h0M458.1 508.3h0M453.8 510.0h0M454.5 513.9h0M462.5 503.9h0M460.8 503.3h0"/><path d="M457.0 507.1h0M454.8 509.9h0M456.6 503.9h0M455.0 507.7h0M449.9 507.5h0M455.2 518.9h0"/><path d="M464.0 504.1h0M463.0 508.6h0M456.2 516.6h0M460.0 515.5h0M460.1 514.0h0M451.7 505.6h0"/><path d="M463.2 499.0h0M458.5 506.0h0M449.7 507.9h0M457.8 502.0h0M453.0 508.5h0M459.2 503.5h0"/><path d="M464.5 504.3h0M453.0 515.3h0M460.1 505.1h0M461.8 503.4h0M458.2 507.2h0M456.6 519.1h0"/><path d="M461.8 503.9h0M457.5 501.4h0M456.7 508.4h0M458.6 506.7h0M451.3 515.5h0M462.3 504.6h0"/><path d="M463.4 501.1h0M454.7 511.2h0M456.9 506.4h0M452.3 508.7h0M456.9 501.7h0M451.8 510.8h0"/><path d="M452.1 504.4h0M455.0 507.5h0M463.8 509.8h0M460.1 514.2h0M452.1 512.5h0M457.8 507.7h0"/><path d="M459.5 509.9h0M455.1 503.3h0M464.0 506.5h0M463.7 501.5h0M455.8 514.3h0M459.5 508.7h0"/><path d="M463.9 506.0h0M463.2 511.2h0M462.6 500.7h0M454.7 507.8h0M464.3 507.9h0M459.9 512.1h0"/><path d="M453.7 507.6h0M457.8 509.5h0M456.3 509.2h0M458.9 501.5h0M462.1 512.6h0M450.7 513.2h0"/><path d="M460.6 501.3h0M463.8 505.1h0M451.4 504.4h0M461.0 509.9h0M458.2 510.3h0M458.9 513.0h0"/><path d="M456.5 511.1h0M459.4 511.2h0M453.6 512.9h0M450.0 502.2h0M452.4 509.2h0M450.0 504.3h0"/><path d="M451.0 506.4h0M451.2 509.1h0M450.4 507.6h0M458.2 510.7h0M461.4 507.3h0M452.6 504.6h0"/><path d="M459.7 509.1h0M458.0 507.4h0M450.5 519.4h0M452.4 503.6h0M457.7 508.5h0M460.6 510.0h0"/><path d="M463.5 510.2h0M450.3 506.3h0M456.2 511.1h0M461.0 512.0h0M456.4 510.5h0M454.3 504.4h0"/><path d="M452.0 510.4h0M453.0 509.5h0M459.5 508.4h0M451.1 510.0h0M452.1 517.0h0M452.5 512.6h0"/><path d="M460.6 502.6h0M450.6 510.0h0M462.6 512.0h0M458.5 507.7h0M464.1 512.1h0M458.0 509.1h0"/><path d="M456.8 512.2h0M457.9 509.5h0M461.9 508.6h0M452.1 505.8h0M450.5 506.8h0M455.1 514.2h0"/><path d="M453.0 508.9h0M464.3 508.6h0M464.3 508.6h0M457.6 503.8h0M458.1 505.3h0M451.4 508.8h0"/><path d="M452.1 514.6h0M453.6 506.0h0M455.8 504.5h0M461.0 511.1h0M454.5 505.6h0M455.7 503.1h0"/><path d="M450.2 508.5h0M461.1 501.2h0M457.9 511.6h0M460.3 503.2h0M452.3 505.1h0M455.3 509.4h0"/><path d="M456.3 504.6h0M459.3 510.4h0M450.5 516.6h0M459.6 505.2h0M457.6 514.0h0M454.1 504.7h0"/><path d="M454.4 506.8h0M464.0 509.6h0M451.0 509.9h0M461.2 514.3h0M460.3 515.5h0M456.5 513.8h0"/><path d="M450.6 502.7h0M454.2 502.5h0M463.9 504.1h0M464.1 506.3h0M451.2 508.3h0M459.7 507.2h0"/><path d="M464.3 507.0h0M451.5 505.3h0M464.0 510.5h0M458.6 502.3h0M451.7 503.3h0M453.9 506.2h0"/><path d="M458.4 508.1h0M451.4 502.7h0M453.4 500.4h0M462.0 513.4h0M452.7 508.2h0M461.1 513.4h0"/><path d="M463.4 511.5h0M463.3 510.2h0M450.5 510.7h0M454.0 509.9h0M454.9 507.9h0M456.3 506.4h0"/><path d="M449.8 516.6h0M457.4 510.3h0M451.6 506.5h0M462.7 516.1h0M459.4 502.7h0M454.2 509.7h0"/><path d="M458.7 517.5h0M452.3 501.9h0M463.0 505.8h0M456.7 514.6h0M456.0 511.3h0M457.1 506.7h0"/><path d="M453.3 511.4h0M453.4 509.1h0M463.7 502.5h0M461.7 505.3h0M458.1 514.0h0M450.0 512.5h0"/><path d="M458.6 509.5h0M462.7 509.7h0M449.9 509.3h0M454.3 506.0h0M464.1 502.5h0M463.4 506.8h0"/><path d="M454.1 511.7h0M449.7 512.1h0M454.0 507.5h0M454.4 509.1h0M452.1 511.2h0M457.3 503.6h0"/><path d="M459.1 510.5h0M461.2 506.3h0M460.8 511.5h0M459.5 502.9h0M451.0 508.5h0M454.9 503.2h0"/><path d="M456.1 505.9h0M459.5 511.1h0M449.6 516.0h0M458.1 509.3h0M458.7 505.6h0M458.4 508.7h0"/><path d="M462.7 499.7h0M461.2 512.8h0M450.0 506.0h0M463.2 504.6h0M453.5 507.3h0M453.6 510.6h0"/><path d="M456.4 502.0h0M463.0 505.9h0M454.0 503.3h0M452.7 505.6h0M454.1 508.1h0M449.6 504.3h0"/><path d="M454.2 505.0h0M454.5 503.6h0M462.4 514.5h0M461.6 512.2h0M450.8 509.3h0M457.3 506.5h0"/><path d="M461.4 503.0h0M450.2 504.5h0M451.9 515.9h0M458.4 505.2h0M454.8 516.3h0M462.5 513.5h0"/><path d="M457.1 506.4h0M462.9 505.9h0M457.4 508.7h0M459.3 505.0h0M449.8 515.1h0M458.1 500.2h0"/><path d="M455.0 510.7h0M455.7 516.3h0M454.4 512.8h0M461.0 508.5h0M454.4 505.5h0M455.8 506.8h0"/><path d="M460.9 514.4h0M457.2 512.1h0M454.9 514.2h0M458.1 503.5h0M449.9 513.4h0M458.1 503.0h0"/><path d="M449.6 512.3h0M460.0 507.9h0M452.7 510.2h0M451.3 518.4h0M457.7 503.5h0M459.1 502.8h0"/><path d="M462.5 502.4h0M461.5 504.2h0M451.4 513.5h0M453.0 513.3h0M457.5 503.2h0M463.2 503.8h0"/><path d="M455.9 514.3h0M459.4 506.1h0M454.6 510.9h0M460.3 503.5h0M449.8 514.1h0M454.2 508.2h0"/><path d="M458.6 510.7h0M460.7 506.5h0M456.2 508.9h0M452.3 508.9h0M458.1 501.3h0M464.3 518.8h0"/><path d="M457.2 512.3h0M458.6 516.2h0M462.0 507.3h0M460.8 500.7h0M462.1 515.8h0M459.2 507.4h0"/><path d="M457.8 500.7h0M462.8 510.1h0M460.6 504.2h0M457.8 507.9h0M451.8 508.6h0M451.8 503.1h0"/><path d="M455.1 502.9h0M464.4 503.1h0M462.4 509.2h0M459.4 505.1h0M458.6 508.4h0M454.2 518.7h0"/><path d="M451.4 502.7h0M450.7 513.3h0M459.2 508.8h0M455.5 500.3h0M450.2 507.7h0M458.9 511.7h0"/><path d="M455.6 514.0h0M461.4 507.2h0M461.8 518.1h0M449.5 510.8h0M449.7 505.8h0M456.9 511.0h0"/><path d="M451.7 505.3h0M456.4 509.6h0M462.6 504.6h0M454.3 505.8h0M451.7 499.8h0M459.9 511.3h0"/><path d="M451.5 513.9h0M464.1 516.2h0M461.8 512.8h0M461.8 516.7h0M457.6 504.6h0M453.8 513.7h0"/><path d="M461.5 511.0h0M451.4 517.1h0M459.0 515.8h0M451.2 516.3h0M449.8 504.7h0M463.7 506.6h0"/><path d="M464.1 505.1h0M464.3 505.8h0M455.2 507.4h0M454.3 506.1h0M460.3 504.9h0M454.2 503.9h0"/><path d="M462.2 503.1h0M463.2 506.2h0M452.1 507.2h0M450.0 502.2h0M454.2 508.2h0M455.1 508.2h0"/><path d="M461.2 518.4h0M456.7 513.8h0M455.3 501.1h0M463.8 509.4h0M449.6 510.4h0M450.6 505.3h0"/><path d="M449.6 500.2h0M449.5 513.8h0M462.7 507.8h0M460.0 500.4h0M463.7 510.8h0M452.6 510.2h0"/><path d="M462.7 508.3h0M451.8 509.4h0M457.1 511.0h0M463.5 514.3h0M456.9 504.1h0M450.2 510.6h0"/><path d="M457.3 505.6h0M455.5 510.1h0M457.1 508.0h0M452.3 504.1h0M453.6 511.0h0M460.2 503.8h0"/><path d="M450.7 509.4h0M450.3 517.4h0M463.9 509.4h0M455.3 508.3h0M454.0 508.9h0M455.0 512.4h0"/><path d="M458.4 522.0h0M450.0 524.0h0M458.1 526.0h0M464.4 533.6h0M456.8 538.7h0M463.5 546.9h0"/></g>
<g stroke="#c0651a" stroke-opacity="0.5" stroke-width="2.0" stroke-linecap="round" fill="none"><path d="M530.6 465.9h0M535.2 458.4h0M536.8 454.1h0M530.6 464.2h0M530.7 457.3h0M529.5 456.3h0"/><path d="M529.6 452.0h0M533.8 450.5h0M529.9 453.2h0M532.3 468.3h0M527.5 460.7h0M526.4 456.2h0"/><path d="M533.0 461.6h0M535.1 459.9h0M530.2 468.6h0M535.6 444.9h0M533.4 457.9h0M536.3 455.2h0"/><path d="M535.2 458.0h0M529.8 457.8h0M534.9 459.0h0M538.8 457.5h0M536.6 450.3h0M537.7 455.0h0"/><path d="M527.3 453.8h0M530.4 455.8h0M533.0 460.6h0M533.3 455.4h0M527.8 451.3h0M529.7 467.9h0"/><path d="M526.2 459.6h0M528.1 447.6h0M529.4 448.0h0M536.7 459.7h0M535.6 453.3h0M531.5 448.8h0"/><path d="M537.6 456.3h0M535.6 462.2h0M532.8 463.2h0M525.0 458.4h0M534.6 460.1h0M536.4 457.6h0"/><path d="M528.9 447.4h0M529.2 451.9h0M529.3 467.6h0M532.6 463.4h0M531.5 460.4h0M535.6 456.4h0"/><path d="M539.3 453.8h0M534.4 449.6h0M528.5 457.1h0M536.5 453.0h0M526.4 463.6h0M536.2 464.5h0"/><path d="M531.9 456.1h0M524.6 457.5h0M525.5 444.3h0M525.0 451.7h0M525.5 461.2h0M538.7 457.5h0"/><path d="M525.0 457.0h0M525.0 459.4h0M538.8 465.5h0M524.9 468.7h0M536.1 448.7h0M535.3 463.5h0"/><path d="M538.8 459.2h0M529.7 455.3h0M537.0 454.7h0M531.2 456.8h0M537.4 460.7h0M524.8 454.1h0"/><path d="M536.2 454.5h0M537.4 457.6h0M532.2 456.5h0M539.0 457.2h0M525.9 459.7h0M532.0 465.7h0"/><path d="M532.3 459.3h0M529.1 455.4h0M524.5 451.0h0M536.4 457.9h0M538.9 455.8h0M530.6 461.4h0"/><path d="M526.5 448.0h0M531.3 459.6h0M534.4 457.6h0M536.8 456.6h0M527.1 455.9h0M525.8 460.9h0"/><path d="M524.5 463.8h0M528.5 453.2h0M532.2 445.0h0M530.8 445.8h0M525.1 457.4h0M533.1 444.2h0"/><path d="M538.3 455.1h0M536.7 455.0h0M534.1 457.1h0M525.4 463.7h0M529.7 453.3h0M537.9 458.1h0"/><path d="M524.8 453.5h0M528.8 466.2h0M537.5 468.2h0M533.3 469.9h0M534.2 458.4h0M535.5 461.7h0"/><path d="M528.6 448.1h0M525.5 464.4h0M530.8 458.7h0M536.7 456.5h0M528.4 459.2h0M525.2 455.8h0"/><path d="M538.0 448.9h0M539.0 465.6h0M531.8 459.4h0M530.1 468.1h0M537.7 460.1h0M536.7 448.6h0"/><path d="M527.6 449.7h0M538.6 447.6h0M538.4 461.3h0M535.0 461.2h0M537.7 459.4h0M530.4 453.6h0"/><path d="M538.6 469.6h0M531.0 453.9h0M524.7 465.9h0M528.2 468.4h0M538.5 459.5h0M532.5 464.4h0"/><path d="M525.5 452.7h0M525.4 455.7h0M530.3 460.1h0M530.8 456.4h0M527.8 460.1h0M527.4 468.1h0"/><path d="M531.8 449.9h0M527.6 458.4h0M529.4 457.7h0M529.1 468.6h0M527.0 448.3h0M533.5 456.1h0"/><path d="M532.9 466.6h0M529.8 457.1h0M533.4 462.3h0M534.3 451.8h0M532.5 463.5h0M529.7 464.1h0"/><path d="M526.8 457.6h0M536.5 463.1h0M528.2 455.3h0M530.5 453.8h0M537.7 468.9h0M529.7 458.5h0"/><path d="M528.6 452.2h0M530.3 460.3h0M533.5 458.5h0M526.8 460.8h0M527.5 461.8h0M535.9 467.0h0"/><path d="M533.1 457.7h0M533.2 445.7h0M535.2 461.1h0M525.5 456.5h0M526.5 449.1h0M527.7 453.3h0"/><path d="M529.1 469.6h0M526.2 464.1h0M525.7 465.9h0M527.8 465.4h0M528.2 469.1h0M532.8 460.4h0"/><path d="M531.8 465.5h0M527.0 463.2h0M526.5 465.3h0M532.8 463.3h0M538.7 457.7h0M536.2 454.3h0"/><path d="M527.7 457.3h0M526.2 458.2h0M530.5 445.3h0M534.5 454.3h0M533.6 465.0h0M538.9 459.3h0"/><path d="M539.4 469.0h0M528.1 461.8h0M531.0 447.1h0M530.5 451.7h0M537.2 467.7h0M528.8 463.6h0"/><path d="M524.8 458.1h0M537.4 468.9h0M530.6 455.1h0M529.3 448.3h0M531.0 460.7h0M536.1 456.6h0"/><path d="M528.1 461.9h0M524.6 466.8h0M527.0 466.9h0M525.1 458.5h0M526.4 449.4h0M533.3 457.8h0"/><path d="M532.8 456.2h0M526.6 457.8h0M530.7 445.6h0M529.9 460.0h0M532.4 458.3h0M527.1 469.2h0"/><path d="M536.7 461.0h0M530.7 457.7h0M525.5 449.0h0M534.8 470.2h0M529.8 455.2h0M537.6 458.9h0"/><path d="M534.0 455.3h0M529.5 457.9h0M527.0 455.5h0M538.8 458.3h0M533.1 455.2h0M532.3 455.7h0"/><path d="M526.9 456.4h0M525.9 455.4h0M526.5 454.1h0M534.3 447.6h0M528.7 458.8h0M526.9 452.3h0"/><path d="M529.5 460.3h0M531.9 457.8h0M529.4 454.4h0M534.4 463.4h0M531.3 456.6h0M524.7 448.5h0"/><path d="M530.7 454.8h0M538.2 450.2h0M527.1 449.5h0M529.5 460.4h0M531.1 457.5h0M530.6 460.5h0"/><path d="M532.5 449.4h0M527.1 462.4h0M533.4 460.6h0M532.2 461.4h0M538.9 465.6h0M538.4 452.8h0"/><path d="M526.6 459.1h0M527.9 459.1h0M525.0 468.0h0M530.1 458.9h0M535.8 460.8h0M525.4 464.1h0"/><path d="M533.3 460.9h0M531.2 463.1h0M539.1 449.1h0M536.8 449.0h0M538.5 456.7h0M535.0 456.7h0"/><path d="M535.0 452.6h0M525.9 467.2h0M529.2 463.2h0M534.2 456.6h0M531.1 465.5h0M531.2 456.7h0"/><path d="M538.4 468.4h0M529.2 467.0h0M528.3 454.6h0M538.3 458.2h0M529.6 461.6h0M539.1 460.2h0"/><path d="M530.8 463.8h0M535.6 458.3h0M537.0 459.1h0M536.7 452.3h0M534.9 456.3h0M528.4 451.2h0"/><path d="M534.0 453.1h0M538.0 458.4h0M538.8 452.8h0M526.0 447.5h0M534.1 454.2h0M531.3 462.5h0"/><path d="M532.9 457.6h0M531.7 466.6h0M535.6 462.7h0M532.0 451.4h0M526.5 468.8h0M525.9 467.4h0"/><path d="M525.8 456.5h0M529.6 461.1h0M526.9 446.6h0M533.2 452.4h0M533.4 448.1h0M529.3 446.7h0"/><path d="M533.3 461.6h0M530.8 467.0h0M531.3 455.4h0M534.5 456.9h0M529.9 459.5h0M524.8 456.9h0"/><path d="M534.1 459.0h0M525.8 459.2h0M530.4 455.8h0M535.5 449.0h0M538.5 465.8h0M531.7 467.9h0"/><path d="M538.6 467.8h0M526.8 455.7h0M531.3 461.4h0M527.4 450.5h0M532.5 455.3h0M537.5 467.6h0"/><path d="M524.5 456.9h0M534.5 448.6h0M532.4 461.0h0M534.8 457.2h0M527.1 459.8h0M535.9 450.7h0"/><path d="M529.5 469.5h0M532.7 455.4h0M536.4 448.4h0M531.9 460.2h0M537.4 449.1h0M535.1 457.0h0"/><path d="M534.7 466.0h0M533.6 460.6h0M535.7 456.9h0M524.7 457.7h0M532.2 446.6h0M533.1 467.5h0"/><path d="M527.9 456.1h0M528.7 446.6h0M531.9 465.9h0M528.4 450.4h0M529.9 460.4h0M533.8 459.2h0"/><path d="M535.6 459.1h0M526.7 461.1h0M534.9 461.2h0M525.4 465.9h0M525.5 468.5h0M525.6 459.8h0"/><path d="M537.7 455.1h0M526.6 466.8h0M525.9 463.6h0M533.6 466.0h0M527.7 444.1h0M525.1 458.7h0"/><path d="M533.0 461.6h0M537.7 459.7h0M532.1 451.7h0M537.7 459.7h0M533.2 458.8h0M526.8 457.3h0"/><path d="M536.6 455.2h0M528.8 469.4h0M536.1 453.0h0M534.7 458.1h0M535.0 463.9h0M537.8 451.2h0"/><path d="M526.4 457.0h0M529.1 464.0h0M534.2 451.4h0M534.9 459.4h0M526.9 461.1h0M527.9 454.5h0"/><path d="M533.8 446.3h0M535.7 453.5h0M524.6 455.4h0M527.2 459.0h0M528.1 454.2h0M529.9 452.0h0"/><path d="M535.7 469.3h0M529.2 462.3h0M530.6 459.2h0M531.1 460.9h0M525.3 451.0h0M538.1 455.1h0"/><path d="M533.7 452.9h0M531.1 461.4h0M534.6 452.3h0M526.3 460.1h0M526.6 467.1h0M534.6 464.7h0"/><path d="M537.8 461.3h0M525.2 457.5h0M538.9 456.4h0M538.9 453.8h0M538.3 453.9h0M536.3 447.9h0"/><path d="M535.8 458.1h0M524.8 457.4h0M534.3 454.1h0M539.3 454.7h0M527.3 458.2h0M532.5 464.6h0"/><path d="M529.8 457.0h0M533.9 455.1h0M533.8 449.2h0M527.3 443.8h0M534.3 471.2h0M526.0 464.2h0"/><path d="M528.0 461.8h0M535.7 454.6h0M536.6 446.9h0M529.6 461.5h0M530.2 455.6h0M535.1 456.4h0"/><path d="M533.4 465.3h0M535.9 447.0h0M536.9 461.4h0M524.9 463.5h0M528.3 451.1h0M536.5 461.8h0"/><path d="M534.9 456.8h0M530.5 456.3h0M536.7 457.7h0M531.3 454.7h0M524.9 457.7h0M526.9 465.0h0"/><path d="M533.0 426.9h0M537.2 430.0h0M533.5 433.0h0M526.1 436.0h0M524.7 439.0h0M538.0 441.0h0"/><path d="M537.1 474.0h0"/></g>
<g stroke="#c0651a" stroke-opacity="0.5" stroke-width="2.0" stroke-linecap="round" fill="none"><path d="M530.6 508.1h0M535.2 515.7h0M538.2 512.8h0M539.2 515.2h0M536.0 510.0h0M530.4 510.3h0"/><path d="M535.6 516.6h0M528.4 514.8h0M534.6 510.2h0M539.0 509.5h0M525.2 507.5h0M533.6 512.3h0"/><path d="M539.2 499.3h0M538.4 501.6h0M530.7 503.0h0M527.8 506.7h0M536.7 507.3h0M538.9 505.5h0"/><path d="M534.3 505.2h0M528.2 508.5h0M527.0 515.2h0M530.0 507.8h0M525.0 509.3h0M534.2 515.4h0"/><path d="M535.3 503.2h0M538.0 500.8h0M536.0 501.9h0M535.6 500.6h0M537.2 513.0h0M537.7 507.7h0"/><path d="M533.4 504.9h0M535.4 508.6h0M536.0 508.6h0M530.8 505.3h0M525.7 506.8h0M528.9 514.1h0"/><path d="M535.8 507.3h0M536.0 505.3h0M534.8 510.7h0M524.9 508.5h0M537.7 508.1h0M538.5 506.0h0"/><path d="M537.8 510.7h0M534.7 508.7h0M531.7 506.3h0M538.2 505.8h0M527.5 502.0h0M537.1 512.5h0"/><path d="M535.8 507.3h0M525.6 503.1h0M525.2 508.8h0M526.3 515.5h0M525.6 508.0h0M529.7 515.8h0"/><path d="M525.3 511.4h0M538.6 507.4h0M538.7 510.4h0M535.0 503.3h0M525.8 505.2h0M530.1 502.4h0"/><path d="M526.7 504.7h0M526.3 511.9h0M528.3 500.5h0M537.6 515.7h0M537.8 508.9h0M535.9 512.4h0"/><path d="M530.6 515.6h0M525.8 504.7h0M533.7 505.3h0M537.3 504.3h0M532.8 506.0h0M532.0 506.4h0"/><path d="M530.4 517.3h0M526.2 508.1h0M532.9 511.5h0M525.5 507.6h0M524.6 500.2h0M527.3 508.1h0"/><path d="M526.8 504.9h0M531.5 503.7h0M537.2 505.1h0M530.7 506.4h0M530.4 515.6h0M532.5 505.1h0"/><path d="M535.3 513.1h0M538.5 512.5h0M539.1 509.0h0M535.3 501.4h0M525.7 507.8h0M535.3 508.4h0"/><path d="M537.7 509.9h0M537.3 513.6h0M536.8 511.3h0M534.0 500.8h0M539.0 505.8h0M531.8 502.1h0"/><path d="M538.9 506.5h0M525.2 509.8h0M537.4 513.2h0M530.4 509.6h0M538.2 506.4h0M528.7 503.8h0"/><path d="M538.5 509.8h0M526.5 508.8h0M529.6 508.8h0M536.9 508.8h0M532.3 512.9h0M527.6 505.0h0"/><path d="M525.5 507.3h0M527.3 502.5h0M526.6 514.4h0M529.9 500.0h0M534.4 501.3h0M526.0 511.3h0"/><path d="M531.7 506.8h0M536.7 501.8h0M525.9 509.0h0M533.7 506.7h0M524.6 508.5h0M535.5 502.1h0"/><path d="M530.0 500.7h0M528.6 505.7h0M535.9 504.5h0M524.9 514.2h0M531.3 519.1h0M538.1 508.6h0"/><path d="M536.1 506.2h0M532.8 511.4h0M532.1 503.4h0M525.6 511.2h0M535.7 512.9h0M539.1 509.0h0"/><path d="M530.7 508.2h0M530.7 511.4h0M533.0 513.9h0M538.3 500.6h0M538.2 519.6h0M530.0 512.7h0"/><path d="M532.6 505.0h0M526.8 503.2h0M537.4 508.4h0M534.9 509.9h0M525.2 510.2h0M532.4 507.3h0"/><path d="M538.6 509.3h0M531.0 509.2h0M533.6 508.0h0M528.4 508.7h0M536.2 511.3h0M538.8 508.1h0"/><path d="M533.7 499.2h0M537.5 514.9h0M526.7 509.1h0M524.9 508.8h0M528.9 509.2h0M532.8 507.5h0"/><path d="M536.7 501.8h0M536.9 511.8h0M537.6 515.1h0M534.4 501.6h0M525.4 509.4h0M536.4 504.4h0"/><path d="M533.9 513.9h0M527.0 505.5h0M536.0 513.6h0M536.3 505.5h0M529.6 501.5h0M533.2 503.6h0"/><path d="M538.9 509.8h0M524.6 511.6h0M528.5 517.4h0M539.2 499.0h0M536.2 507.5h0M539.2 502.5h0"/><path d="M533.6 503.2h0M533.2 508.4h0M527.6 511.1h0M532.2 505.4h0M529.9 510.6h0M536.4 512.1h0"/><path d="M527.1 514.7h0M525.5 510.5h0M528.4 505.3h0M525.7 503.7h0M531.6 509.6h0M537.9 505.1h0"/><path d="M529.5 508.8h0M529.7 504.1h0M528.1 504.8h0M538.0 504.9h0M533.9 504.4h0M538.0 505.7h0"/><path d="M535.3 513.8h0M532.8 509.1h0M532.6 507.4h0M532.8 499.2h0M524.6 508.3h0M539.0 511.2h0"/><path d="M536.7 502.8h0M525.1 504.8h0M526.0 506.6h0M537.9 504.4h0M536.4 510.6h0M530.2 518.8h0"/><path d="M533.3 506.5h0M536.2 517.5h0M526.8 508.2h0M529.7 511.9h0M534.8 504.6h0M539.2 502.4h0"/><path d="M537.5 509.5h0M530.6 506.2h0M532.7 505.8h0M538.0 506.5h0M530.1 502.0h0M537.0 506.7h0"/><path d="M533.3 500.1h0M532.3 517.1h0M538.2 508.5h0M536.8 511.8h0M527.6 506.6h0M535.8 505.3h0"/><path d="M529.8 514.1h0M532.8 512.1h0M535.1 511.0h0M538.5 500.5h0M536.7 506.4h0M529.4 502.2h0"/><path d="M527.1 504.1h0M530.0 506.4h0M536.7 519.3h0M529.6 512.0h0M538.3 509.3h0M538.9 517.8h0"/><path d="M528.5 503.2h0M529.2 506.0h0M535.7 507.1h0M536.2 512.1h0M529.5 507.9h0M531.1 509.3h0"/><path d="M528.3 500.3h0M537.8 509.9h0M525.3 509.4h0M535.0 502.5h0M528.7 505.8h0M533.1 507.5h0"/><path d="M529.6 505.8h0M533.8 503.5h0M536.6 507.5h0M536.6 508.6h0M538.9 505.7h0M535.3 514.4h0"/><path d="M526.7 503.1h0M529.5 507.4h0M537.9 502.6h0M536.2 506.2h0M535.1 505.3h0M529.9 502.8h0"/><path d="M529.9 506.2h0M530.6 505.8h0M528.9 509.2h0M531.5 499.6h0M536.1 511.4h0M525.4 514.4h0"/><path d="M538.3 506.7h0M525.1 506.8h0M538.7 498.9h0M535.7 511.9h0M528.2 510.3h0M531.7 500.6h0"/><path d="M527.9 510.3h0M530.5 505.6h0M535.8 507.3h0M530.5 502.1h0M534.2 502.2h0M534.7 501.0h0"/><path d="M535.3 510.0h0M532.0 504.5h0M533.4 511.1h0M531.5 499.8h0M535.2 506.4h0M528.0 502.4h0"/><path d="M526.9 503.4h0M535.7 501.0h0M537.7 514.4h0M526.1 517.8h0M525.2 507.0h0M524.5 501.5h0"/><path d="M526.1 513.1h0M535.6 504.8h0M530.0 506.8h0M530.5 506.9h0M537.7 503.7h0M530.5 508.6h0"/><path d="M538.5 509.7h0M526.8 519.0h0M529.6 501.6h0M526.7 499.1h0M529.4 510.1h0M532.7 500.4h0"/><path d="M525.2 510.2h0M530.1 507.0h0M534.4 505.9h0M526.9 518.8h0M532.8 503.8h0M538.2 514.4h0"/><path d="M538.2 506.5h0M533.3 507.6h0M538.0 504.8h0M529.1 505.7h0M529.4 507.6h0M533.8 510.2h0"/><path d="M532.9 505.3h0M530.3 510.8h0M524.5 510.0h0M528.4 506.0h0M535.3 517.6h0M524.7 519.4h0"/><path d="M533.4 509.2h0M526.8 502.8h0M533.1 505.9h0M538.4 505.8h0M532.8 504.2h0M526.5 509.8h0"/><path d="M524.8 505.7h0M525.1 505.2h0M536.6 517.1h0M532.5 506.7h0M533.8 506.8h0M525.9 515.1h0"/><path d="M537.6 504.4h0M533.0 516.2h0M525.5 506.9h0M526.2 510.2h0M527.6 515.3h0M539.3 498.8h0"/><path d="M538.3 507.2h0M534.5 508.5h0M533.0 506.9h0M525.1 508.5h0M526.9 503.9h0M535.2 500.2h0"/><path d="M524.4 499.6h0M535.0 511.3h0M531.9 509.8h0M537.1 515.5h0M527.0 504.3h0M536.8 509.1h0"/><path d="M534.2 510.7h0M536.0 505.4h0M536.6 504.5h0M532.4 513.3h0M533.6 499.9h0M525.7 503.4h0"/><path d="M532.2 505.7h0M531.9 514.9h0M527.7 507.6h0M528.3 510.3h0M526.1 507.3h0M531.4 505.3h0"/><path d="M526.3 500.0h0M536.9 504.8h0M530.2 511.5h0M538.0 516.2h0M534.3 506.4h0M538.4 519.1h0"/><path d="M535.9 511.6h0M528.5 502.6h0M529.0 503.0h0M527.1 502.1h0M526.2 509.2h0M534.5 508.6h0"/><path d="M525.2 503.6h0M524.5 507.8h0M528.3 507.7h0M531.5 515.2h0M538.3 505.2h0M534.1 510.1h0"/><path d="M533.2 509.1h0M525.9 506.9h0M538.1 500.5h0M530.0 511.7h0M538.7 508.0h0M535.1 507.6h0"/><path d="M525.5 502.7h0M526.8 509.2h0M534.9 506.6h0M529.8 503.8h0M532.3 508.5h0M531.5 504.9h0"/><path d="M534.5 502.1h0M525.3 506.5h0M525.1 504.5h0M528.8 507.6h0M531.1 514.9h0M534.1 508.9h0"/><path d="M536.1 510.5h0M526.4 503.1h0M528.8 501.5h0M538.8 508.9h0M526.7 507.1h0M527.5 514.0h0"/><path d="M525.4 513.8h0M538.4 505.5h0M536.5 502.8h0M534.0 501.4h0M527.4 504.3h0M529.4 518.8h0"/><path d="M529.5 503.8h0M528.0 501.7h0M528.9 509.6h0M532.9 515.1h0M525.5 508.4h0M534.1 515.0h0"/><path d="M538.3 501.4h0M538.0 502.6h0M531.9 516.1h0M527.1 508.0h0M536.5 508.7h0M527.8 507.5h0"/><path d="M527.9 522.0h0M528.5 524.0h0M528.7 526.0h0M535.6 529.8h0M532.6 550.2h0"/></g>
<g stroke="#267326" stroke-opacity="0.5" stroke-width="2.0" stroke-linecap="round" fill="none"><path d="M602.4 458.5h0M603.5 465.4h0M605.0 466.3h0M605.2 469.7h0M604.2 444.9h0M610.7 459.4h0"/><path d="M611.1 458.6h0M602.3 457.3h0M613.1 460.4h0M601.3 448.9h0M608.1 462.2h0M606.6 461.7h0"/><path d="M611.7 465.2h0M602.9 454.7h0M608.0 447.0h0M606.3 454.0h0M607.7 467.6h0M607.2 453.3h0"/><path d="M613.2 446.9h0M600.0 458.7h0M600.3 461.3h0M602.4 456.7h0M606.0 452.1h0M610.5 451.1h0"/><path d="M610.6 464.2h0M612.1 464.3h0M610.6 456.0h0M600.1 444.3h0M609.4 458.0h0M602.0 450.3h0"/><path d="M606.2 456.3h0M612.4 455.1h0M606.9 453.9h0M606.7 456.0h0M603.2 454.5h0M613.3 457.9h0"/><path d="M613.9 458.5h0M611.1 459.0h0M600.8 460.4h0M609.1 469.0h0M606.4 450.8h0M614.0 458.6h0"/><path d="M608.6 459.3h0M607.5 458.3h0M600.3 458.0h0M612.2 459.5h0M611.8 450.6h0M612.5 458.9h0"/><path d="M604.5 455.0h0M607.2 457.1h0M602.8 450.5h0M613.6 459.3h0M606.1 453.9h0M600.4 459.5h0"/><path d="M604.7 452.1h0M609.3 463.6h0M605.4 462.2h0M601.8 463.9h0M613.6 464.3h0M601.5 447.9h0"/><path d="M602.5 449.8h0M611.0 463.7h0M611.7 455.2h0M610.0 458.0h0M604.0 453.6h0M611.0 454.1h0"/><path d="M613.1 459.0h0M601.8 459.2h0M601.8 459.4h0M610.7 457.6h0M611.6 457.2h0M608.5 452.2h0"/><path d="M600.5 467.0h0M608.8 453.4h0M606.1 462.1h0M610.5 453.9h0M609.6 464.3h0M612.0 453.7h0"/><path d="M599.6 457.0h0M601.6 459.9h0M600.7 443.7h0M606.2 455.8h0M612.5 454.5h0M600.6 461.8h0"/><path d="M610.1 450.4h0M609.3 458.8h0M607.9 454.3h0M605.2 459.1h0M601.5 451.1h0M603.9 458.9h0"/><path d="M607.1 456.7h0M601.3 454.4h0M602.7 456.8h0M601.5 454.1h0M613.0 455.5h0M609.9 455.4h0"/><path d="M612.8 453.6h0M614.0 457.6h0M606.7 459.0h0M611.6 453.8h0M605.2 444.4h0M611.9 455.9h0"/><path d="M607.4 444.6h0M605.8 464.8h0M611.5 456.9h0M612.6 452.0h0M605.9 454.4h0M600.5 456.7h0"/><path d="M604.9 458.5h0M599.9 444.5h0M600.5 453.3h0M600.8 450.5h0M612.7 460.6h0M611.2 458.3h0"/><path d="M609.2 463.6h0M613.7 456.2h0M608.0 459.1h0M600.3 457.2h0M605.7 453.4h0M603.3 468.0h0"/><path d="M608.0 443.3h0M603.2 461.0h0M602.9 454.2h0M605.5 466.2h0M605.9 457.4h0M614.2 461.5h0"/><path d="M606.3 456.1h0M603.9 447.4h0M605.0 455.2h0M603.1 456.5h0M602.0 468.4h0M607.8 458.5h0"/><path d="M613.1 455.1h0M608.3 458.2h0M604.6 453.5h0M604.2 445.3h0M613.9 453.6h0M613.5 457.1h0"/><path d="M601.7 453.1h0M602.1 458.3h0M599.7 447.8h0M602.9 452.6h0M612.8 465.8h0M611.1 458.5h0"/><path d="M611.4 465.6h0M604.2 456.0h0M612.3 459.2h0M611.1 452.4h0M600.5 449.0h0M609.6 461.9h0"/><path d="M605.3 458.9h0M605.7 454.7h0M608.3 457.4h0M609.8 465.0h0M612.8 455.2h0M602.3 467.8h0"/><path d="M613.5 454.0h0M604.5 453.6h0M601.4 457.8h0M601.9 464.8h0M601.2 462.9h0M610.5 447.1h0"/><path d="M612.0 458.5h0M599.8 455.3h0M604.1 460.2h0M612.3 462.2h0M610.7 453.3h0M600.1 458.9h0"/><path d="M605.3 456.5h0M612.8 459.8h0M605.7 453.0h0M600.9 451.4h0M603.8 456.2h0M605.0 453.3h0"/><path d="M609.2 445.5h0M613.7 458.7h0M605.5 460.0h0M601.6 460.0h0M609.7 456.1h0M611.7 458.1h0"/><path d="M613.3 455.9h0M612.7 458.0h0M601.8 454.0h0M609.1 456.6h0M611.7 449.9h0M601.6 459.0h0"/><path d="M610.8 455.6h0M602.8 458.4h0M612.3 456.5h0M606.4 459.6h0M607.7 465.7h0M604.2 449.8h0"/><path d="M602.5 451.0h0M603.3 453.0h0M613.6 460.8h0M599.9 449.2h0M602.2 453.2h0M613.0 457.1h0"/><path d="M612.8 458.1h0M603.5 458.5h0M611.3 457.4h0M601.6 455.1h0M612.0 457.4h0M610.1 444.3h0"/><path d="M599.7 443.2h0M604.1 460.1h0M607.6 449.0h0M613.8 449.7h0M611.3 453.8h0M607.1 460.4h0"/><path d="M608.0 452.3h0M605.8 458.6h0M601.8 456.7h0M609.8 450.5h0M607.9 451.5h0M610.7 454.0h0"/><path d="M612.9 443.5h0M614.1 454.7h0M609.6 462.3h0M609.2 453.5h0M609.7 464.1h0M612.7 451.3h0"/><path d="M602.6 450.7h0M605.0 457.6h0M613.6 449.4h0M600.6 443.8h0M611.9 453.4h0M599.9 444.0h0"/><path d="M602.4 446.1h0M611.8 453.6h0M614.0 457.7h0M604.1 453.3h0M599.5 466.5h0M600.7 449.9h0"/><path d="M605.0 460.9h0M600.6 456.6h0M600.1 443.9h0M614.3 457.9h0M606.6 464.2h0M611.6 453.8h0"/><path d="M603.2 459.5h0M603.9 455.7h0M606.7 454.7h0M604.2 455.0h0M606.6 457.3h0M611.4 458.9h0"/><path d="M602.3 449.2h0M607.0 458.7h0M614.3 458.1h0M612.4 456.6h0M603.9 455.9h0M614.0 461.3h0"/><path d="M604.5 462.0h0M605.1 454.5h0M610.2 459.7h0M606.2 449.9h0M613.6 454.0h0M606.1 453.5h0"/><path d="M607.0 455.9h0M612.7 462.3h0M606.4 469.8h0M599.4 458.9h0M607.6 465.6h0M606.4 453.3h0"/><path d="M599.4 444.8h0M609.2 453.7h0M609.1 464.1h0M611.4 458.1h0M613.6 446.2h0M611.4 445.4h0"/><path d="M610.0 465.8h0M606.5 451.0h0M606.2 454.1h0M599.6 454.0h0M609.0 450.4h0M604.7 456.2h0"/><path d="M603.6 454.7h0M606.5 451.2h0M603.8 466.1h0M601.7 457.5h0M612.1 453.5h0M611.0 455.6h0"/><path d="M606.7 459.6h0M610.9 469.9h0M599.9 466.3h0M602.5 460.4h0M608.9 453.4h0M608.0 458.2h0"/><path d="M613.3 456.0h0M609.0 459.4h0M610.7 443.7h0M611.0 453.3h0M607.8 448.6h0M601.6 456.6h0"/><path d="M601.7 443.4h0M612.1 455.5h0M603.9 466.1h0M604.6 462.2h0M610.8 457.4h0M611.7 453.2h0"/><path d="M611.6 466.0h0M599.5 451.2h0M599.8 448.1h0M610.8 453.8h0M613.6 464.3h0M603.5 457.8h0"/><path d="M609.7 452.6h0M608.8 457.4h0M608.0 446.4h0M610.7 458.1h0M602.2 459.0h0M599.6 457.5h0"/><path d="M601.2 461.2h0M614.1 456.8h0M604.2 463.0h0M609.9 456.6h0M605.1 459.1h0M609.4 457.8h0"/><path d="M609.8 458.0h0M609.0 446.0h0M600.9 450.9h0M611.4 454.2h0M610.6 465.4h0M607.4 450.5h0"/><path d="M611.3 450.6h0M607.7 450.4h0M607.8 454.3h0M611.0 443.6h0M607.1 455.8h0M606.3 448.9h0"/><path d="M610.7 465.6h0M600.7 459.3h0M610.8 467.7h0M612.2 451.5h0M602.2 453.8h0M606.8 457.3h0"/><path d="M608.2 454.8h0M607.4 460.9h0M604.6 459.1h0M600.0 453.9h0M612.4 454.6h0M599.6 459.9h0"/><path d="M611.5 446.9h0M612.4 458.1h0M601.8 454.4h0M609.5 456.4h0M603.7 454.8h0M607.9 459.3h0"/><path d="M605.2 454.6h0M600.6 456.0h0M610.1 456.5h0M599.3 459.3h0M603.6 446.4h0M604.4 454.5h0"/><path d="M612.6 454.8h0M605.5 464.7h0M607.7 463.8h0M601.2 459.2h0M607.0 462.0h0M607.6 453.0h0"/><path d="M607.8 449.6h0M603.3 456.7h0M611.2 450.1h0M600.7 456.7h0M607.5 448.5h0M600.8 453.5h0"/><path d="M605.3 457.1h0M602.3 455.3h0M612.6 454.4h0M610.0 450.5h0M603.6 458.8h0M612.6 453.0h0"/><path d="M611.2 457.3h0M603.4 455.5h0M606.8 452.4h0M613.9 462.6h0M609.6 454.7h0M601.8 454.1h0"/><path d="M601.2 454.8h0M611.3 453.8h0M610.1 447.2h0M603.3 453.0h0M603.1 453.9h0M601.9 456.7h0"/><path d="M604.8 457.7h0M601.2 456.3h0M613.4 453.7h0M602.1 457.5h0M601.5 467.8h0M613.8 456.2h0"/><path d="M599.5 451.9h0M605.1 466.7h0M608.3 458.1h0M609.1 458.9h0M613.1 456.3h0M599.8 444.3h0"/><path d="M600.7 458.4h0M611.6 454.8h0M604.6 445.3h0M601.0 451.9h0M606.6 466.8h0M600.9 453.8h0"/><path d="M609.7 461.9h0M613.1 463.4h0M611.6 458.8h0M605.8 463.2h0M611.5 467.5h0M602.9 445.0h0"/><path d="M601.6 466.9h0M609.1 460.7h0M613.3 466.9h0M607.6 453.8h0M607.0 453.6h0M605.1 457.2h0"/><path d="M613.5 458.1h0M613.5 467.8h0M601.9 464.7h0M609.3 454.1h0M608.4 453.7h0M608.3 456.3h0"/><path d="M599.6 438.4h0M610.6 440.0h0M600.6 472.0h0M603.0 474.0h0M599.8 476.7h0"/></g>
<g stroke="#267326" stroke-opacity="0.5" stroke-width="2.0" stroke-linecap="round" fill="none"><path d="M610.8 516.5h0M613.4 504.6h0M602.1 506.2h0M606.6 504.1h0M606.9 502.7h0M603.2 515.8h0"/><path d="M606.9 506.7h0M602.0 503.5h0M613.0 516.2h0M612.8 503.6h0M600.2 507.9h0M610.6 505.9h0"/><path d="M599.3 499.9h0M604.1 501.8h0M600.2 512.1h0M610.1 509.3h0M613.4 506.1h0M611.2 507.9h0"/><path d="M610.2 500.7h0M610.0 505.5h0M606.1 499.4h0M608.2 516.8h0M605.4 504.5h0M607.6 502.7h0"/><path d="M605.6 504.5h0M610.6 499.5h0M602.3 502.6h0M602.9 506.7h0M613.9 503.7h0M608.8 507.7h0"/><path d="M605.3 508.1h0M605.2 518.4h0M609.0 515.9h0M614.2 502.9h0M611.8 504.6h0M601.4 512.6h0"/><path d="M602.5 503.3h0M607.7 510.9h0M606.4 515.7h0M610.4 509.0h0M604.3 508.6h0M612.4 503.7h0"/><path d="M600.3 515.3h0M604.9 504.9h0M612.8 503.2h0M605.2 506.2h0M600.9 514.7h0M611.4 504.5h0"/><path d="M605.6 518.5h0M605.4 515.6h0M609.9 505.2h0M607.2 504.5h0M603.4 507.6h0M608.3 504.1h0"/><path d="M611.3 505.3h0M608.0 508.2h0M613.5 507.8h0M612.8 504.6h0M600.2 514.2h0M610.2 505.1h0"/><path d="M608.8 499.8h0M601.2 502.2h0M610.4 506.5h0M599.8 501.5h0M609.5 505.5h0M602.9 505.2h0"/><path d="M604.2 511.1h0M609.6 507.6h0M613.6 511.9h0M600.7 502.7h0M599.8 510.3h0M599.4 502.5h0"/><path d="M603.2 511.1h0M600.8 510.5h0M612.2 505.6h0M613.5 501.3h0M608.0 513.0h0M602.9 515.0h0"/><path d="M602.5 511.8h0M607.3 501.9h0M614.3 507.4h0M600.7 515.5h0M610.7 507.6h0M600.6 518.5h0"/><path d="M609.5 506.0h0M612.1 518.3h0M609.2 509.8h0M607.7 509.6h0M613.7 504.3h0M600.2 504.6h0"/><path d="M599.8 505.1h0M601.4 508.6h0M612.5 506.4h0M600.9 506.0h0M606.8 511.1h0M610.5 507.1h0"/><path d="M599.3 515.5h0M603.1 506.0h0M602.0 502.9h0M608.1 512.2h0M611.1 508.2h0M613.9 505.7h0"/><path d="M610.1 506.7h0M610.8 504.6h0M609.9 507.8h0M602.9 500.4h0M599.5 501.6h0M614.3 517.6h0"/><path d="M599.4 512.5h0M612.3 510.1h0M610.0 508.6h0M607.5 504.7h0M609.9 503.6h0M604.0 509.6h0"/><path d="M600.1 510.4h0M611.1 504.1h0M609.1 503.3h0M605.3 514.8h0M609.6 509.9h0M605.0 509.0h0"/><path d="M608.2 510.5h0M605.0 513.3h0M614.1 506.0h0M601.0 509.3h0M604.6 501.6h0M612.8 503.5h0"/><path d="M611.4 507.5h0M602.3 508.7h0M609.9 507.2h0M612.9 509.9h0M600.8 505.0h0M605.8 508.0h0"/><path d="M611.0 504.1h0M613.4 505.7h0M607.2 503.1h0M604.4 501.1h0M611.7 501.3h0M607.1 513.3h0"/><path d="M610.2 502.3h0M601.7 513.9h0M601.8 503.2h0M605.4 507.0h0M604.6 507.8h0M611.9 499.4h0"/><path d="M614.3 507.1h0M599.6 504.1h0M601.9 505.1h0M610.6 506.9h0M602.5 506.9h0M608.9 507.1h0"/><path d="M608.5 519.0h0M613.8 501.4h0M606.3 511.8h0M611.2 510.2h0M609.3 512.7h0M606.9 501.6h0"/><path d="M606.7 509.0h0M610.5 502.7h0M600.5 508.0h0M603.3 513.9h0M612.0 505.5h0M608.0 506.7h0"/><path d="M600.4 501.7h0M600.0 506.0h0M608.3 505.6h0M604.5 510.0h0M611.4 512.3h0M600.5 508.9h0"/><path d="M603.9 508.8h0M605.6 510.1h0M604.5 505.0h0M603.2 502.1h0M608.3 499.3h0M614.1 513.8h0"/><path d="M602.7 503.9h0M611.3 508.8h0M600.4 511.4h0M608.9 507.1h0M606.6 503.3h0M600.1 508.1h0"/><path d="M603.1 511.2h0M606.4 507.6h0M604.6 506.5h0M600.7 513.3h0M603.8 505.0h0M606.1 502.2h0"/><path d="M602.2 518.5h0M599.8 503.9h0M606.0 505.8h0M602.4 516.7h0M603.9 506.8h0M606.4 508.0h0"/><path d="M605.1 507.2h0M599.3 500.6h0M600.5 509.2h0M599.4 506.0h0M601.0 510.6h0M600.7 502.3h0"/><path d="M606.1 511.7h0M602.3 508.9h0M603.0 501.7h0M613.5 510.0h0M605.7 508.4h0M609.0 506.6h0"/><path d="M612.1 500.6h0M600.9 501.4h0M606.0 510.5h0M609.2 517.2h0M612.0 503.6h0M605.1 500.9h0"/><path d="M608.3 518.7h0M606.8 501.2h0M600.2 503.0h0M612.9 515.3h0M611.0 516.4h0M604.3 512.8h0"/><path d="M613.3 505.7h0M613.0 509.0h0M600.8 510.7h0M603.7 516.1h0M604.6 503.5h0M608.8 504.5h0"/><path d="M609.0 504.4h0M611.1 509.6h0M602.2 504.4h0M608.8 515.0h0M612.2 507.0h0M601.8 507.1h0"/><path d="M606.3 503.5h0M611.6 506.0h0M610.9 513.7h0M604.1 512.8h0M612.0 505.7h0M612.2 510.5h0"/><path d="M603.8 501.0h0M605.4 505.9h0M600.2 510.5h0M612.1 516.4h0M612.0 508.7h0M604.8 500.4h0"/><path d="M610.6 502.3h0M604.5 505.4h0M611.7 502.4h0M609.3 504.1h0M609.5 509.5h0M602.9 501.7h0"/><path d="M608.0 505.8h0M611.7 508.3h0M609.2 514.8h0M599.9 504.4h0M613.6 504.0h0M612.4 502.4h0"/><path d="M613.4 504.7h0M608.3 506.7h0M611.0 502.9h0M608.6 507.2h0M610.9 509.7h0M599.7 518.5h0"/><path d="M601.1 507.6h0M610.2 509.9h0M605.9 505.3h0M603.6 506.5h0M611.4 504.2h0M608.8 507.7h0"/><path d="M599.8 500.0h0M611.8 506.3h0M600.4 504.6h0M599.9 508.9h0M599.7 499.6h0M608.0 508.3h0"/><path d="M604.1 505.4h0M604.1 511.1h0M613.9 507.8h0M610.0 512.3h0M600.3 516.5h0M603.1 512.9h0"/><path d="M610.8 505.7h0M608.9 515.5h0M603.1 503.1h0M605.4 511.7h0M609.2 504.3h0M599.9 504.4h0"/><path d="M599.9 504.8h0M609.7 516.2h0M609.1 503.8h0M608.2 519.1h0M600.3 514.5h0M610.2 517.8h0"/><path d="M607.1 510.5h0M608.8 507.9h0M612.2 505.1h0M607.5 502.5h0M601.0 498.9h0M600.9 500.6h0"/><path d="M603.7 513.3h0M606.6 505.5h0M607.0 510.2h0M601.6 500.6h0M607.6 505.5h0M610.0 510.3h0"/><path d="M601.7 509.3h0M600.5 514.7h0M604.0 501.9h0M603.0 509.4h0M614.0 509.1h0M614.1 509.1h0"/><path d="M606.9 512.7h0M608.0 502.5h0M608.0 504.6h0M600.8 500.5h0M610.9 511.9h0M602.0 505.4h0"/><path d="M607.5 506.2h0M602.8 502.7h0M609.8 506.6h0M613.7 502.7h0M605.7 506.3h0M610.0 505.3h0"/><path d="M601.8 502.0h0M612.7 502.4h0M604.3 502.9h0M607.2 515.4h0M606.8 512.2h0M611.4 506.8h0"/><path d="M599.8 511.4h0M606.3 509.8h0M613.3 507.6h0M610.2 506.8h0M601.5 506.5h0M605.2 509.8h0"/><path d="M600.3 509.0h0M611.5 508.3h0M599.4 508.7h0M601.4 505.6h0M601.7 510.3h0M603.6 504.5h0"/><path d="M612.7 509.1h0M605.6 507.6h0M606.6 506.2h0M609.0 506.2h0M603.4 505.7h0M611.5 504.9h0"/><path d="M611.2 504.6h0M610.3 504.9h0M606.5 517.2h0M611.9 508.2h0M604.1 500.3h0M611.0 506.2h0"/><path d="M609.0 505.0h0M602.5 501.5h0M602.8 508.1h0M600.4 501.5h0M609.0 517.2h0M605.8 502.8h0"/><path d="M610.7 501.4h0M607.0 505.2h0M605.4 504.7h0M601.8 502.7h0M599.4 507.5h0M604.0 509.0h0"/><path d="M614.3 500.7h0M609.2 517.9h0M605.8 513.1h0M606.9 499.5h0M605.7 510.1h0M602.6 505.6h0"/><path d="M612.2 507.7h0M605.8 502.5h0M599.8 506.4h0M612.5 513.2h0M600.9 507.9h0M600.7 499.3h0"/><path d="M601.7 502.8h0M612.3 503.9h0M610.5 502.2h0M604.2 501.4h0M604.0 503.3h0M613.8 500.6h0"/><path d="M599.3 508.7h0M605.1 504.1h0M609.2 510.9h0M611.8 508.8h0M607.8 504.3h0M604.5 513.3h0"/><path d="M607.3 510.4h0M605.3 508.6h0M607.4 503.7h0M613.6 509.7h0M606.9 513.1h0M611.0 516.2h0"/><path d="M612.9 505.8h0M613.4 507.6h0M609.4 508.7h0M607.5 509.0h0M599.9 498.9h0M599.5 513.5h0"/><path d="M607.3 509.5h0M609.3 503.2h0M605.2 501.2h0M600.3 513.9h0M612.3 502.8h0M607.0 505.4h0"/><path d="M602.3 503.8h0M600.6 504.4h0M613.1 509.3h0M610.7 509.0h0M605.4 517.1h0M611.0 500.7h0"/><path d="M602.2 507.0h0M606.2 508.7h0M608.4 506.6h0M604.8 509.0h0M609.9 503.3h0M603.6 499.2h0"/><path d="M612.2 509.6h0M601.8 503.6h0M605.6 505.0h0M600.7 509.8h0M612.5 507.8h0M609.0 507.5h0"/><path d="M606.4 522.0h0M613.9 524.7h0M605.5 526.0h0M604.1 528.5h0M605.0 545.6h0M603.1 550.2h0"/></g>
<g stroke="#8e2828" stroke-opacity="0.5" stroke-width="2.0" stroke-linecap="round" fill="none"><path d="M675.2 459.8h0M679.6 457.4h0M677.7 459.8h0M679.2 450.3h0M688.6 450.6h0M683.8 446.5h0"/><path d="M676.7 445.0h0M677.1 464.3h0M688.3 460.6h0M686.7 443.4h0M679.2 457.3h0M684.2 454.2h0"/><path d="M680.0 458.3h0M685.8 455.8h0M687.5 465.7h0M680.2 451.9h0M686.5 459.2h0M684.6 449.6h0"/><path d="M686.6 459.3h0M679.7 460.3h0M685.8 464.4h0M688.0 457.7h0M682.4 456.4h0M683.6 454.5h0"/><path d="M686.5 460.5h0M674.2 464.6h0M676.3 460.0h0M682.0 448.5h0M686.7 461.1h0M677.1 459.1h0"/><path d="M685.1 466.5h0M684.2 457.8h0M679.4 460.5h0M679.0 458.9h0M681.1 453.7h0M688.2 459.6h0"/><path d="M675.3 452.8h0M678.8 459.5h0M682.9 456.6h0M684.2 455.7h0M686.3 463.0h0M687.6 457.2h0"/><path d="M677.4 454.2h0M682.3 464.0h0M676.5 460.9h0M678.9 460.5h0M688.9 461.0h0M684.6 451.7h0"/><path d="M687.2 461.5h0M677.8 469.4h0M687.0 459.1h0M682.0 456.4h0M681.6 445.0h0M677.3 459.2h0"/><path d="M687.7 464.0h0M686.7 465.2h0M674.8 444.6h0M679.7 452.9h0M675.5 458.8h0M675.1 452.3h0"/><path d="M682.7 456.0h0M683.3 460.4h0M681.2 448.2h0M678.2 459.8h0M677.2 464.3h0M686.0 455.9h0"/><path d="M677.2 456.0h0M683.7 451.1h0M676.9 462.7h0M679.9 458.8h0M685.8 459.8h0M676.3 464.9h0"/><path d="M674.6 463.0h0M680.2 455.4h0M677.0 464.9h0M684.7 462.5h0M683.0 461.6h0M687.5 462.1h0"/><path d="M680.5 460.3h0M686.1 459.1h0M676.8 451.3h0M683.3 461.5h0M685.9 459.4h0M683.7 460.7h0"/><path d="M686.3 451.7h0M682.6 471.3h0M680.8 457.2h0M678.3 468.3h0M676.9 456.7h0M687.2 444.4h0"/><path d="M678.7 459.1h0M686.5 468.2h0M684.1 449.7h0M683.6 455.6h0M682.5 454.1h0M686.7 456.5h0"/><path d="M678.7 454.4h0M688.0 466.5h0M682.8 461.3h0M677.3 444.8h0M686.8 470.0h0M676.7 455.7h0"/><path d="M676.6 444.2h0M680.9 468.3h0M675.3 462.7h0M688.4 454.3h0M683.7 458.3h0M685.5 458.4h0"/><path d="M682.9 455.4h0M688.5 457.5h0M682.7 469.4h0M683.7 457.9h0M680.3 443.4h0M682.4 455.1h0"/><path d="M686.9 454.8h0M682.4 466.4h0M681.2 458.5h0M683.0 462.7h0M675.2 461.0h0M685.5 459.5h0"/><path d="M677.2 457.7h0M681.7 459.3h0M683.3 466.2h0M676.3 459.8h0M681.3 472.2h0M680.4 461.0h0"/><path d="M677.6 451.8h0M679.5 452.3h0M680.1 455.3h0M679.8 461.0h0M682.3 459.6h0M685.7 447.9h0"/><path d="M682.1 457.7h0M684.8 462.7h0M676.6 447.9h0M678.0 445.0h0M676.2 464.3h0M678.7 453.9h0"/><path d="M687.7 456.7h0M687.7 470.1h0M683.7 454.6h0M685.7 453.8h0M674.3 456.2h0M687.1 444.3h0"/><path d="M677.0 459.5h0M689.0 455.2h0M687.6 457.6h0M688.8 460.7h0M675.8 470.0h0M679.3 454.2h0"/><path d="M677.5 457.8h0M679.9 469.1h0M682.1 460.5h0M675.4 454.1h0M688.9 463.6h0M678.0 448.7h0"/><path d="M680.9 462.7h0M674.5 456.4h0M688.6 458.1h0M677.7 447.4h0M681.6 455.4h0M675.9 460.4h0"/><path d="M686.3 447.8h0M683.0 456.5h0M679.8 450.2h0M688.4 466.2h0M686.7 450.5h0M678.6 456.9h0"/><path d="M677.6 454.5h0M676.2 457.9h0M677.3 455.5h0M676.0 456.9h0M674.6 456.8h0M676.6 456.7h0"/><path d="M687.7 460.3h0M679.4 455.3h0M688.0 456.1h0M681.9 459.7h0M681.9 466.1h0M685.1 458.4h0"/><path d="M677.7 453.4h0M682.5 461.0h0M674.5 469.4h0M685.2 449.8h0M680.2 455.0h0M678.7 468.2h0"/><path d="M681.0 459.6h0M676.3 464.7h0M680.4 451.4h0M676.7 459.3h0M682.1 451.3h0M683.4 455.8h0"/><path d="M686.8 457.4h0M689.0 450.8h0M684.0 456.4h0M681.0 445.0h0M687.9 459.8h0M683.6 445.0h0"/><path d="M681.8 459.1h0M685.1 454.2h0M681.2 451.1h0M678.8 466.8h0M675.5 460.3h0M681.5 453.1h0"/><path d="M687.4 466.7h0M675.1 460.4h0M687.5 454.8h0M684.8 460.9h0M680.0 464.0h0M675.1 457.0h0"/><path d="M688.0 450.8h0M687.9 469.3h0M688.0 458.2h0M679.1 454.0h0M685.3 446.5h0M676.0 452.5h0"/><path d="M678.5 452.4h0M682.6 464.9h0M681.8 464.7h0M689.0 444.0h0M687.3 458.8h0M680.1 453.8h0"/><path d="M689.0 456.7h0M677.2 465.9h0M676.7 458.0h0M684.8 471.4h0M684.3 460.6h0M676.0 467.4h0"/><path d="M677.4 453.2h0M682.8 457.9h0M677.4 451.2h0M684.9 460.2h0M688.7 460.2h0M686.8 448.5h0"/><path d="M686.2 448.2h0M688.3 459.2h0M678.0 458.8h0M688.4 468.7h0M675.7 461.6h0M680.9 444.7h0"/><path d="M684.4 458.4h0M675.0 457.0h0M680.5 463.4h0M681.2 445.4h0M683.2 470.2h0M680.9 461.3h0"/><path d="M678.0 458.1h0M688.2 456.7h0M679.2 458.2h0M687.6 452.6h0M686.9 453.1h0M677.9 464.0h0"/><path d="M679.7 459.7h0M683.1 461.1h0M678.2 463.1h0M684.0 450.6h0M683.7 455.5h0M679.5 471.2h0"/><path d="M684.3 455.6h0M684.9 457.1h0M679.7 447.5h0M687.7 446.1h0M679.4 457.3h0M674.9 459.0h0"/><path d="M687.5 456.9h0M688.9 460.6h0M676.9 462.7h0M675.1 453.9h0M681.8 455.4h0M676.9 454.6h0"/><path d="M679.9 453.5h0M687.8 452.1h0M687.8 469.6h0M686.7 461.0h0M687.5 454.8h0M676.3 455.9h0"/><path d="M687.2 442.8h0M684.0 456.8h0M679.5 453.2h0M687.9 457.6h0M686.9 469.1h0M679.6 445.7h0"/><path d="M683.6 445.3h0M678.3 450.7h0M683.3 457.2h0M688.9 456.3h0M678.1 466.9h0M678.0 455.7h0"/><path d="M687.7 454.8h0M682.1 449.1h0M682.6 462.2h0M687.3 445.1h0M688.9 449.9h0M688.8 469.6h0"/><path d="M688.2 455.9h0M676.7 462.0h0M685.5 462.5h0M675.5 457.0h0M684.5 465.2h0M680.1 456.8h0"/><path d="M680.5 463.3h0M680.5 461.0h0M675.4 453.9h0M686.6 469.7h0M688.1 456.2h0M675.3 465.7h0"/><path d="M675.7 461.0h0M687.4 460.5h0M679.0 450.8h0M683.7 450.7h0M688.4 466.3h0M686.2 460.3h0"/><path d="M677.3 457.0h0M681.2 454.2h0M680.3 461.7h0M679.9 456.7h0M688.8 448.7h0M674.2 444.3h0"/><path d="M689.1 455.7h0M677.0 456.0h0M675.6 457.0h0M682.1 451.5h0M677.1 463.1h0M678.8 453.6h0"/><path d="M674.8 453.2h0M681.2 460.7h0M686.0 466.5h0M680.5 457.1h0M675.7 451.4h0M674.3 457.4h0"/><path d="M682.5 450.9h0M688.2 458.4h0M674.2 455.3h0M679.4 471.4h0M682.7 458.9h0M676.5 448.1h0"/><path d="M686.7 449.9h0M677.6 460.7h0M675.3 468.7h0M686.1 464.9h0M679.8 467.9h0M688.6 456.4h0"/><path d="M689.2 459.8h0M679.7 452.2h0M685.0 453.4h0M684.1 445.4h0M676.5 448.4h0M674.3 455.2h0"/><path d="M688.6 455.2h0M674.2 454.3h0M683.5 459.9h0M676.4 455.9h0M679.2 460.8h0M683.4 459.9h0"/><path d="M681.1 460.5h0M688.6 463.7h0M682.6 453.7h0M687.8 445.3h0M685.9 462.7h0M678.3 472.2h0"/><path d="M688.4 471.0h0M674.6 457.7h0M681.2 465.5h0M685.3 463.8h0M685.1 454.7h0M680.5 456.6h0"/><path d="M683.0 467.3h0M677.6 450.7h0M680.9 462.4h0M682.7 447.5h0M684.1 443.0h0M675.6 446.6h0"/><path d="M676.4 454.6h0M675.1 460.7h0M681.9 465.9h0M675.0 455.3h0M687.4 453.5h0M678.3 448.3h0"/><path d="M674.4 460.2h0M679.0 461.1h0M682.9 459.2h0M679.0 469.7h0M684.3 467.6h0M677.5 447.1h0"/><path d="M683.6 455.2h0M680.2 456.2h0M675.6 448.4h0M687.5 455.1h0M676.3 458.2h0M677.6 455.7h0"/><path d="M679.1 461.4h0M683.0 457.7h0M678.5 463.8h0M676.3 459.8h0M674.3 454.5h0M688.7 451.1h0"/><path d="M682.6 458.4h0M682.8 457.5h0M676.9 457.5h0M676.0 456.6h0M680.4 451.0h0M685.1 446.2h0"/><path d="M679.5 454.7h0M675.1 466.9h0M676.7 453.2h0M678.2 454.7h0M675.2 458.2h0M689.2 456.5h0"/><path d="M688.5 459.9h0M677.5 455.7h0M687.4 466.3h0M677.9 456.0h0M674.4 457.7h0M682.8 456.3h0"/><path d="M679.7 457.6h0M686.9 451.9h0M685.8 453.1h0M675.8 444.9h0M676.9 467.2h0M677.3 460.9h0"/><path d="M686.3 407.8h0M686.5 410.3h0M683.7 420.5h0M675.2 422.0h0M686.0 425.0h0M684.3 428.0h0"/><path d="M683.7 430.0h0M686.3 432.0h0M681.4 434.0h0M684.9 436.0h0M685.8 438.0h0M676.7 440.0h0"/></g>
<g stroke="#8e2828" stroke-opacity="0.5" stroke-width="2.0" stroke-linecap="round" fill="none"><path d="M686.9 512.7h0M675.8 503.8h0M679.9 512.9h0M676.3 512.2h0M681.0 503.1h0M678.6 506.8h0"/><path d="M685.6 506.4h0M674.2 502.9h0M676.6 512.2h0M676.3 502.2h0M676.9 511.6h0M676.1 509.5h0"/><path d="M687.0 509.6h0M682.0 506.8h0M683.9 500.3h0M681.8 501.3h0M686.9 513.1h0M676.1 505.9h0"/><path d="M687.3 503.4h0M674.4 508.1h0M687.2 500.1h0M688.5 512.8h0M685.0 500.1h0M684.7 508.6h0"/><path d="M684.4 511.8h0M681.1 501.2h0M676.2 509.3h0M677.3 509.4h0M684.5 514.9h0M675.5 509.0h0"/><path d="M677.2 506.4h0M686.6 507.2h0M686.6 509.6h0M684.5 512.6h0M686.5 502.9h0M680.6 500.9h0"/><path d="M677.4 507.5h0M685.5 510.8h0M683.2 505.9h0M687.8 504.7h0M682.0 506.0h0M685.8 514.0h0"/><path d="M680.9 502.6h0M685.8 505.3h0M686.2 507.4h0M677.5 512.9h0M675.1 513.7h0M682.8 503.5h0"/><path d="M675.9 508.2h0M683.1 512.9h0M685.1 503.0h0M685.7 501.2h0M688.8 502.1h0M679.5 507.3h0"/><path d="M684.0 504.6h0M678.3 506.6h0M688.5 501.0h0M678.2 505.6h0M681.7 505.6h0M682.6 511.3h0"/><path d="M676.9 514.2h0M688.5 503.6h0M680.2 505.9h0M675.1 502.2h0M682.8 509.0h0M679.3 503.6h0"/><path d="M685.5 507.0h0M682.2 511.4h0M686.1 506.8h0M677.2 505.5h0M678.0 505.8h0M675.0 504.7h0"/><path d="M682.2 508.3h0M686.7 500.8h0M681.8 504.8h0M687.9 511.3h0M680.8 502.9h0M682.5 501.7h0"/><path d="M683.7 505.6h0M676.0 518.0h0M687.1 502.4h0M688.8 515.2h0M687.8 510.4h0M689.2 503.1h0"/><path d="M685.4 515.8h0M683.7 504.3h0M688.4 512.7h0M686.6 509.1h0M682.8 509.1h0M678.7 507.8h0"/><path d="M679.7 518.6h0M681.4 506.1h0M678.5 502.3h0M684.6 501.9h0M680.3 503.1h0M681.7 508.5h0"/><path d="M687.9 515.7h0M680.1 500.3h0M677.4 506.4h0M679.7 503.0h0M687.5 507.2h0M688.9 506.0h0"/><path d="M686.6 510.6h0M674.2 513.8h0M682.2 510.3h0M678.1 519.1h0M680.8 509.9h0M683.9 507.3h0"/><path d="M675.9 502.0h0M677.1 503.2h0M684.3 508.0h0M680.7 516.3h0M684.0 510.9h0M680.0 508.4h0"/><path d="M675.4 505.2h0M674.8 508.3h0M675.1 513.9h0M688.4 512.6h0M685.5 503.8h0M685.1 514.3h0"/><path d="M686.9 504.9h0M681.8 504.0h0M682.2 510.8h0M684.0 510.6h0M686.1 511.2h0M679.1 514.9h0"/><path d="M679.2 503.9h0M688.1 500.7h0M678.3 515.3h0M684.1 509.9h0M681.7 509.3h0M681.2 501.6h0"/><path d="M676.3 514.3h0M681.3 503.8h0M678.9 501.5h0M686.7 499.9h0M675.6 501.4h0M687.5 513.7h0"/><path d="M688.4 511.2h0M677.0 515.7h0M687.3 506.6h0M686.6 502.1h0M679.6 501.2h0M677.8 519.9h0"/><path d="M679.9 504.6h0M686.3 508.8h0M685.7 500.8h0M683.9 502.9h0M678.0 500.5h0M678.7 507.4h0"/><path d="M685.6 503.0h0M685.4 506.7h0M677.8 511.7h0M683.9 505.5h0M676.9 509.4h0M676.2 507.7h0"/><path d="M687.5 510.8h0M688.0 512.9h0M682.3 509.4h0M681.1 507.1h0M685.1 502.3h0M684.8 509.4h0"/><path d="M686.9 513.4h0M685.0 506.3h0M683.6 503.6h0M686.9 518.0h0M675.2 514.9h0M684.5 506.0h0"/><path d="M688.7 501.9h0M678.3 509.1h0M675.6 501.1h0M684.6 509.0h0M681.8 505.3h0M683.4 504.6h0"/><path d="M674.8 512.9h0M683.1 503.0h0M686.5 504.8h0M687.9 517.0h0M684.3 510.0h0M689.2 514.6h0"/><path d="M687.3 505.5h0M676.8 500.4h0M679.6 501.8h0M685.8 502.4h0M688.7 513.6h0M687.2 500.8h0"/><path d="M678.7 508.2h0M679.7 500.9h0M681.6 514.5h0M689.0 505.3h0M681.5 499.7h0M679.8 506.9h0"/><path d="M680.5 503.0h0M687.7 513.7h0M684.5 512.3h0M684.3 513.8h0M686.3 511.9h0M675.8 505.1h0"/><path d="M676.3 499.8h0M682.7 513.9h0M685.2 518.7h0M684.4 512.0h0M675.3 501.2h0M687.2 501.5h0"/><path d="M685.6 513.2h0M677.3 506.5h0M681.6 516.5h0M675.9 509.9h0M683.5 502.0h0M680.1 509.0h0"/><path d="M679.2 504.7h0M678.1 514.4h0M677.3 506.4h0M682.5 510.4h0M675.9 503.4h0M675.2 504.9h0"/><path d="M684.8 514.1h0M685.6 511.4h0M682.9 517.2h0M679.5 504.3h0M683.8 501.5h0M684.8 512.8h0"/><path d="M677.3 502.8h0M679.4 502.9h0M683.5 499.6h0M685.8 506.1h0M682.8 509.6h0M687.9 503.7h0"/><path d="M682.0 514.5h0M681.1 505.4h0M681.0 508.5h0M682.3 501.3h0M683.9 505.4h0M680.3 501.1h0"/><path d="M677.0 506.7h0M683.0 502.5h0M675.9 509.2h0M682.3 502.8h0M681.3 513.6h0M676.5 500.6h0"/><path d="M679.9 506.5h0M684.5 505.7h0M688.8 515.5h0M674.7 503.2h0M680.6 514.8h0M687.6 508.9h0"/><path d="M687.0 506.8h0M675.7 511.0h0M683.6 506.4h0M683.6 505.9h0M677.2 502.9h0M674.9 501.7h0"/><path d="M676.6 501.6h0M674.8 503.4h0M677.0 516.5h0M685.9 506.3h0M677.8 509.8h0M688.9 508.0h0"/><path d="M686.4 502.3h0M682.5 515.6h0M677.5 513.2h0M678.7 502.3h0M677.9 513.8h0M684.0 514.4h0"/><path d="M679.3 500.4h0M686.9 500.9h0M678.1 510.1h0M679.8 505.2h0M677.5 507.6h0M683.3 509.0h0"/><path d="M682.8 503.8h0M685.6 502.4h0M684.5 505.4h0M674.5 509.1h0M682.4 502.4h0M677.4 505.9h0"/><path d="M684.8 507.5h0M678.2 511.4h0M689.1 505.7h0M681.7 503.0h0M679.6 511.1h0M682.2 508.9h0"/><path d="M687.5 503.4h0M682.1 506.6h0M678.1 513.3h0M682.9 507.6h0M681.5 517.8h0M680.3 500.8h0"/><path d="M684.4 501.8h0M683.3 511.0h0M678.0 508.3h0M685.8 506.7h0M683.7 506.2h0M677.2 504.6h0"/><path d="M679.3 499.9h0M681.7 505.9h0M683.4 509.7h0M684.5 504.0h0M677.7 500.1h0M686.5 500.6h0"/><path d="M681.4 505.7h0M678.3 502.7h0M682.7 502.7h0M681.8 504.8h0M675.8 504.0h0M689.2 506.3h0"/><path d="M678.3 505.9h0M678.0 506.7h0M676.6 499.6h0M686.7 509.8h0M687.8 508.5h0M675.9 510.3h0"/><path d="M676.1 508.8h0M679.1 505.7h0M688.2 511.0h0M683.7 507.3h0M687.0 501.3h0M677.9 506.0h0"/><path d="M687.2 510.1h0M680.8 515.5h0M680.3 499.9h0M686.5 508.4h0M685.2 508.2h0M688.6 507.8h0"/><path d="M676.4 504.4h0M685.6 500.8h0M678.7 499.5h0M686.0 499.8h0M676.8 510.5h0M682.1 507.2h0"/><path d="M681.0 518.4h0M675.1 501.6h0M677.6 507.5h0M683.0 503.7h0M677.7 510.4h0M678.5 508.5h0"/><path d="M681.1 508.5h0M676.4 514.7h0M684.9 509.0h0M684.3 510.7h0M676.4 501.6h0M680.4 508.1h0"/><path d="M688.1 506.6h0M681.1 501.6h0M677.5 507.3h0M678.8 502.5h0M684.5 503.2h0M680.3 510.3h0"/><path d="M676.8 505.7h0M685.0 503.6h0M674.4 516.9h0M682.6 502.2h0M685.4 506.2h0M677.3 508.8h0"/><path d="M683.7 512.8h0M687.6 504.8h0M687.9 508.9h0M684.5 501.2h0M688.9 508.1h0M683.8 506.2h0"/><path d="M686.1 516.0h0M687.4 503.3h0M683.1 509.2h0M689.0 506.1h0M677.0 499.6h0M674.8 503.4h0"/><path d="M678.4 508.0h0M689.0 511.9h0M688.2 511.2h0M678.9 513.6h0M680.9 502.6h0M685.4 507.1h0"/><path d="M688.4 509.4h0M680.2 502.3h0M687.6 517.7h0M684.8 499.6h0M683.2 505.8h0M680.0 509.0h0"/><path d="M687.4 512.9h0M688.8 507.6h0M687.6 508.7h0M684.3 504.2h0M675.8 504.7h0M674.8 503.5h0"/><path d="M677.9 515.9h0M674.5 502.7h0M680.6 503.8h0M677.3 499.9h0M678.4 501.5h0M678.4 501.5h0"/><path d="M686.6 508.9h0M674.9 508.0h0M682.4 509.3h0M688.5 511.4h0M674.3 506.1h0M677.6 500.2h0"/><path d="M677.2 509.7h0M676.1 515.6h0M674.6 509.5h0M682.7 503.3h0M687.8 502.5h0M685.4 501.3h0"/><path d="M680.7 504.3h0M688.6 507.7h0M675.8 509.6h0M679.4 512.2h0M685.9 505.8h0M687.8 516.2h0"/><path d="M676.7 505.9h0M675.8 506.5h0M678.3 505.9h0M685.7 504.2h0M687.1 499.5h0M681.1 504.7h0"/><path d="M687.2 512.5h0M675.4 510.4h0M680.3 502.9h0M688.3 501.7h0M688.5 507.0h0M681.8 504.6h0"/><path d="M682.3 523.0h0M685.4 525.0h0M680.9 527.2h0M681.5 530.0h0M687.0 533.6h0M680.9 536.0h0"/><path d="M676.2 539.0h0M686.1 542.0h0M686.4 545.0h0M683.9 547.6h0"/></g>
</g>
<rect x="419.5" y="401.4" width="299.9" height="155.7" fill="none" stroke="#a6a6a6" stroke-width="1.2"/>
<line x1="417.9" y1="417.6" x2="419.5" y2="417.6" stroke="#555" stroke-width="0.8"/>
<text x="416.4" y="421.3" font-size="10.5" text-anchor="end" textLength="16.70" lengthAdjust="spacingAndGlyphs">0.8</text>
<line x1="417.9" y1="438" x2="419.5" y2="438" stroke="#555" stroke-width="0.8"/>
<text x="416.4" y="441.7" font-size="10.5" text-anchor="end" textLength="16.70" lengthAdjust="spacingAndGlyphs">0.6</text>
<line x1="417.9" y1="458.4" x2="419.5" y2="458.4" stroke="#555" stroke-width="0.8"/>
<text x="416.4" y="462.1" font-size="10.5" text-anchor="end" textLength="16.70" lengthAdjust="spacingAndGlyphs">0.4</text>
<line x1="417.9" y1="478.8" x2="419.5" y2="478.8" stroke="#555" stroke-width="0.8"/>
<text x="416.4" y="482.5" font-size="10.5" text-anchor="end" textLength="16.70" lengthAdjust="spacingAndGlyphs">0.2</text>
<line x1="417.9" y1="499.2" x2="419.5" y2="499.2" stroke="#555" stroke-width="0.8"/>
<text x="416.4" y="502.9" font-size="10.5" text-anchor="end" textLength="16.70" lengthAdjust="spacingAndGlyphs">0.0</text>
<line x1="417.9" y1="519.6" x2="419.5" y2="519.6" stroke="#555" stroke-width="0.8"/>
<text x="416.4" y="523.3" font-size="10.5" text-anchor="end" textLength="25.50" lengthAdjust="spacingAndGlyphs">−0.2</text>
<line x1="417.9" y1="540" x2="419.5" y2="540" stroke="#555" stroke-width="0.8"/>
<text x="416.4" y="543.7" font-size="10.5" text-anchor="end" textLength="25.50" lengthAdjust="spacingAndGlyphs">−0.4</text>
<line x1="457" y1="557.1" x2="457" y2="558.7" stroke="#555" stroke-width="0.8"/>
<text x="457" y="568.5" font-size="10.5" text-anchor="middle" textLength="21.45" lengthAdjust="spacingAndGlyphs">D33</text>
<line x1="531.9" y1="557.1" x2="531.9" y2="558.7" stroke="#555" stroke-width="0.8"/>
<text x="531.9" y="568.5" font-size="10.5" text-anchor="middle" textLength="21.45" lengthAdjust="spacingAndGlyphs">D34</text>
<line x1="606.8" y1="557.1" x2="606.8" y2="558.7" stroke="#555" stroke-width="0.8"/>
<text x="606.8" y="568.5" font-size="10.5" text-anchor="middle" textLength="21.45" lengthAdjust="spacingAndGlyphs">D43</text>
<line x1="681.7" y1="557.1" x2="681.7" y2="558.7" stroke="#555" stroke-width="0.8"/>
<text x="681.7" y="568.5" font-size="10.5" text-anchor="middle" textLength="21.45" lengthAdjust="spacingAndGlyphs">D44</text>
<text x="569.4" y="583.5" font-size="14.3" text-anchor="middle" textLength="24.26" lengthAdjust="spacingAndGlyphs">DIE</text>
<text x="387" y="479.8" font-size="14.3" text-anchor="middle" textLength="151.92" lengthAdjust="spacingAndGlyphs" transform="rotate(-90 387 479.8)">Set/Reset Voltage (V)</text>
<text x="712.8" y="552.4" font-size="13" text-anchor="end">f</text>
</svg>
</body></html>
